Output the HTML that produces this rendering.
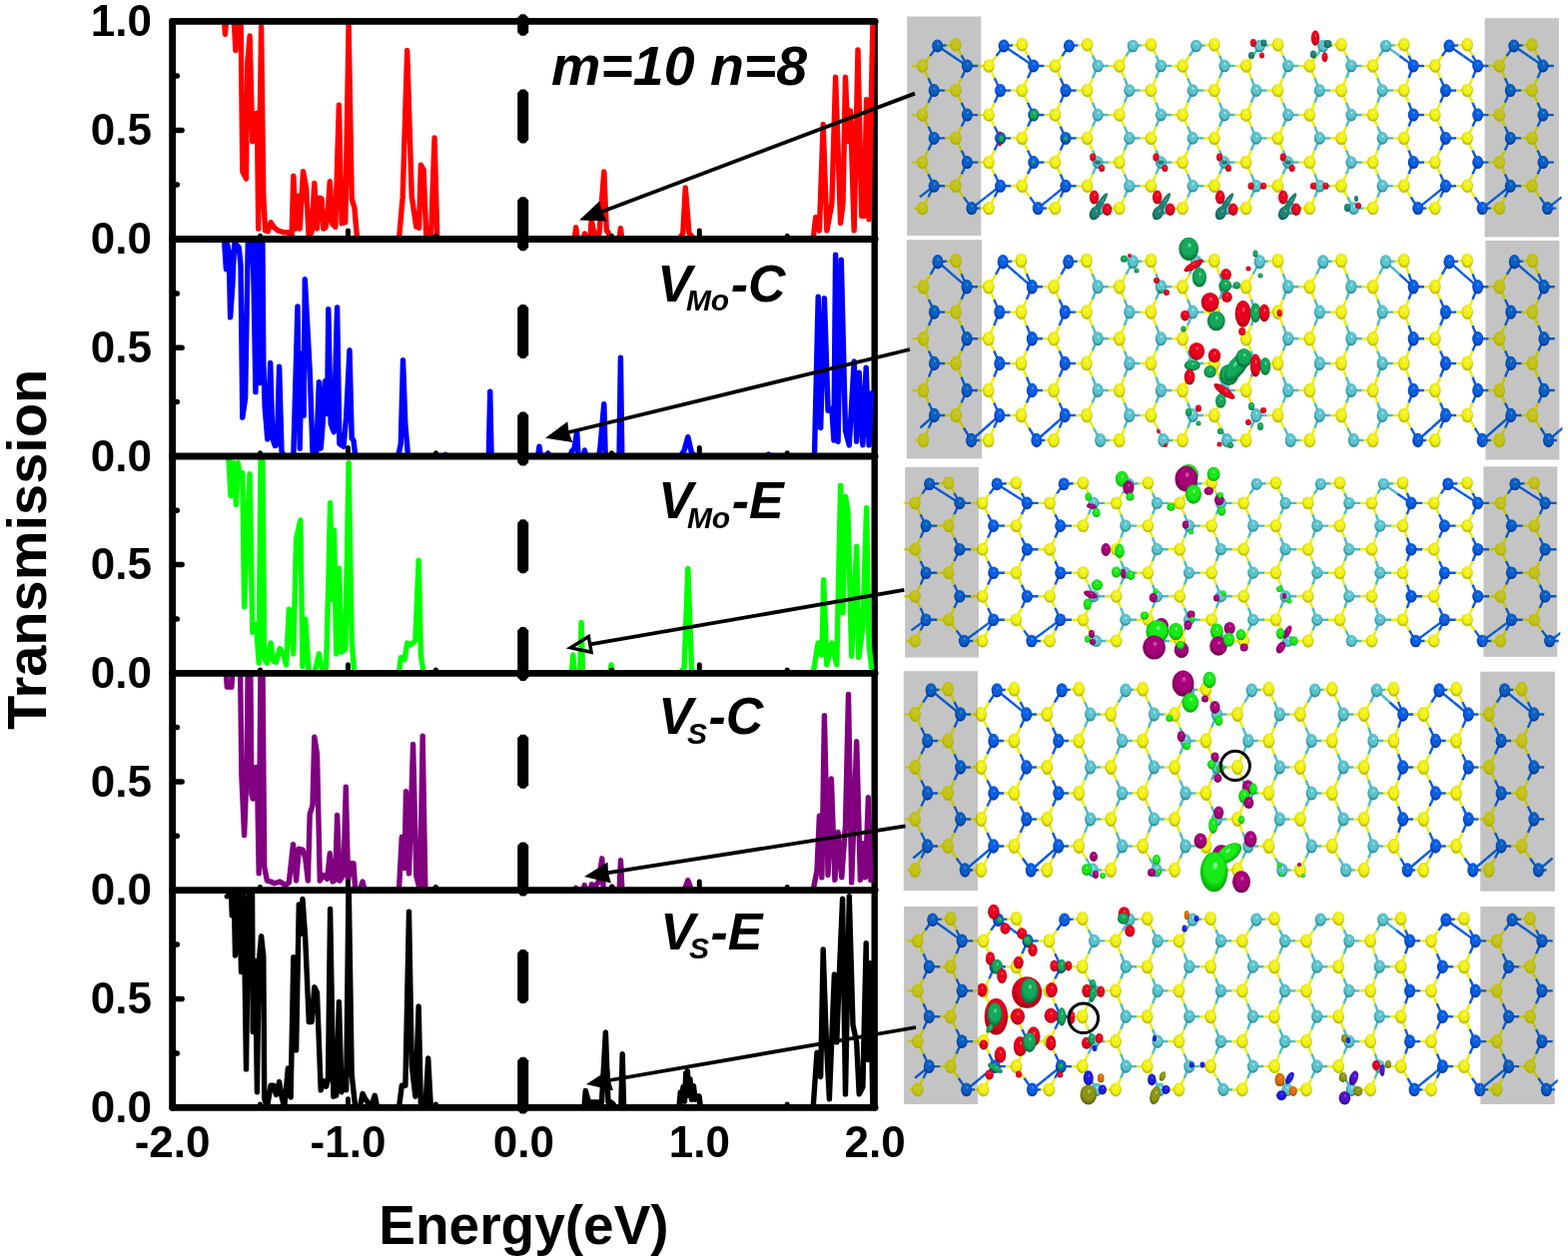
<!DOCTYPE html>
<html><head><meta charset="utf-8"><title>Transmission</title>
<style>html,body{margin:0;padding:0;background:#fff;}svg{display:block;}</style></head>
<body><svg width="1570" height="1262" viewBox="0 0 1570 1262" font-family="'Liberation Sans', sans-serif">
<rect width="1570" height="1262" fill="#fff"/>
<defs><radialGradient id="gS" cx="50%" cy="46%" r="56%" fx="55%" fy="32%"><stop offset="0" stop-color="#ffffb0"/><stop offset="0.22" stop-color="#f2f214"/><stop offset="0.62" stop-color="#f2f214"/><stop offset="1" stop-color="#a8a800"/></radialGradient><radialGradient id="gMb" cx="50%" cy="46%" r="56%" fx="55%" fy="32%"><stop offset="0" stop-color="#5aaaff"/><stop offset="0.22" stop-color="#0a5ee2"/><stop offset="0.62" stop-color="#0a5ee2"/><stop offset="1" stop-color="#002c86"/></radialGradient><radialGradient id="gMc" cx="50%" cy="46%" r="56%" fx="55%" fy="32%"><stop offset="0" stop-color="#d0ffff"/><stop offset="0.22" stop-color="#5cc4ce"/><stop offset="0.62" stop-color="#5cc4ce"/><stop offset="1" stop-color="#1c7882"/></radialGradient><radialGradient id="gR" cx="50%" cy="46%" r="56%" fx="55%" fy="32%"><stop offset="0" stop-color="#ff8080"/><stop offset="0.22" stop-color="#eb0020"/><stop offset="0.62" stop-color="#eb0020"/><stop offset="1" stop-color="#960010"/></radialGradient><radialGradient id="gG" cx="50%" cy="46%" r="56%" fx="55%" fy="32%"><stop offset="0" stop-color="#80f0b0"/><stop offset="0.22" stop-color="#14a85a"/><stop offset="0.62" stop-color="#14a85a"/><stop offset="1" stop-color="#006432"/></radialGradient><radialGradient id="gT" cx="50%" cy="46%" r="56%" fx="55%" fy="32%"><stop offset="0" stop-color="#70c8b4"/><stop offset="0.22" stop-color="#1e8273"/><stop offset="0.62" stop-color="#1e8273"/><stop offset="1" stop-color="#0a5046"/></radialGradient><radialGradient id="gM" cx="50%" cy="46%" r="56%" fx="55%" fy="32%"><stop offset="0" stop-color="#e070c0"/><stop offset="0.22" stop-color="#a8007a"/><stop offset="0.62" stop-color="#a8007a"/><stop offset="1" stop-color="#640046"/></radialGradient><radialGradient id="gL" cx="50%" cy="46%" r="56%" fx="55%" fy="32%"><stop offset="0" stop-color="#b0ffb0"/><stop offset="0.22" stop-color="#18ea18"/><stop offset="0.62" stop-color="#18ea18"/><stop offset="1" stop-color="#00a000"/></radialGradient><radialGradient id="gB" cx="50%" cy="46%" r="56%" fx="55%" fy="32%"><stop offset="0" stop-color="#8080ff"/><stop offset="0.22" stop-color="#1e1ee0"/><stop offset="0.62" stop-color="#1e1ee0"/><stop offset="1" stop-color="#0a0a8c"/></radialGradient><radialGradient id="gO" cx="50%" cy="46%" r="56%" fx="55%" fy="32%"><stop offset="0" stop-color="#d2dc64"/><stop offset="0.22" stop-color="#8c9614"/><stop offset="0.62" stop-color="#8c9614"/><stop offset="1" stop-color="#505a00"/></radialGradient><radialGradient id="gN" cx="50%" cy="46%" r="56%" fx="55%" fy="32%"><stop offset="0" stop-color="#ffb450"/><stop offset="0.22" stop-color="#dc6e00"/><stop offset="0.62" stop-color="#dc6e00"/><stop offset="1" stop-color="#8c3c00"/></radialGradient><radialGradient id="gP" cx="50%" cy="46%" r="56%" fx="55%" fy="32%"><stop offset="0" stop-color="#a080ff"/><stop offset="0.22" stop-color="#5014c8"/><stop offset="0.62" stop-color="#5014c8"/><stop offset="1" stop-color="#280070"/></radialGradient><radialGradient id="gSD" cx="50%" cy="46%" r="56%" fx="55%" fy="32%"><stop offset="0" stop-color="#c4c4b0"/><stop offset="0.22" stop-color="#c4c414"/><stop offset="0.62" stop-color="#c4c414"/><stop offset="1" stop-color="#a8a800"/></radialGradient><radialGradient id="gMbD" cx="50%" cy="46%" r="56%" fx="55%" fy="32%"><stop offset="0" stop-color="#5aaac4"/><stop offset="0.22" stop-color="#0a5ec4"/><stop offset="0.62" stop-color="#0a5ec4"/><stop offset="1" stop-color="#002c86"/></radialGradient><radialGradient id="gMcD" cx="50%" cy="46%" r="56%" fx="55%" fy="32%"><stop offset="0" stop-color="#c4c4c4"/><stop offset="0.22" stop-color="#5cc4c4"/><stop offset="0.62" stop-color="#5cc4c4"/><stop offset="1" stop-color="#1c7882"/></radialGradient></defs>
<clipPath id="mc0"><rect x="905.2" y="-3.5" width="658.7" height="259.5"/></clipPath>
<g clip-path="url(#mc0)">
<g stroke-width="2.4"><line x1="938.7" y1="46.0" x2="947.8" y2="45.4" stroke="#0a5ae6"/><line x1="947.8" y1="45.4" x2="956.9" y2="44.8" stroke="#eeee00"/><line x1="1005.1" y1="46.0" x2="1014.2" y2="45.4" stroke="#0a5ae6"/><line x1="1014.2" y1="45.4" x2="1023.3" y2="44.8" stroke="#eeee00"/><line x1="1070.5" y1="46.0" x2="1079.6" y2="45.4" stroke="#0a5ae6"/><line x1="1079.6" y1="45.4" x2="1088.7" y2="44.8" stroke="#eeee00"/><line x1="1134.3" y1="46.0" x2="1143.4" y2="45.4" stroke="#4cbcc6"/><line x1="1143.4" y1="45.4" x2="1152.5" y2="44.8" stroke="#eeee00"/><line x1="1197.7" y1="46.0" x2="1206.8" y2="45.4" stroke="#4cbcc6"/><line x1="1206.8" y1="45.4" x2="1215.9" y2="44.8" stroke="#eeee00"/><line x1="1261.3" y1="46.0" x2="1270.4" y2="45.4" stroke="#4cbcc6"/><line x1="1270.4" y1="45.4" x2="1279.5" y2="44.8" stroke="#eeee00"/><line x1="1324.8" y1="46.0" x2="1333.9" y2="45.4" stroke="#4cbcc6"/><line x1="1333.9" y1="45.4" x2="1343.0" y2="44.8" stroke="#eeee00"/><line x1="1387.6" y1="46.0" x2="1396.7" y2="45.4" stroke="#4cbcc6"/><line x1="1396.7" y1="45.4" x2="1405.8" y2="44.8" stroke="#eeee00"/><line x1="1451.0" y1="46.0" x2="1460.1" y2="45.4" stroke="#0a5ae6"/><line x1="1460.1" y1="45.4" x2="1469.2" y2="44.8" stroke="#eeee00"/><line x1="1515.8" y1="46.0" x2="1524.9" y2="45.4" stroke="#0a5ae6"/><line x1="1524.9" y1="45.4" x2="1534.0" y2="44.8" stroke="#eeee00"/><line x1="912.9" y1="66.0" x2="923.7" y2="66.0" stroke="#eeee00"/><line x1="968.4" y1="66.0" x2="979.2" y2="66.0" stroke="#0a5ae6"/><line x1="979.2" y1="66.0" x2="990.1" y2="66.0" stroke="#eeee00"/><line x1="1034.8" y1="66.0" x2="1045.7" y2="66.0" stroke="#0a5ae6"/><line x1="1045.7" y1="66.0" x2="1056.5" y2="66.0" stroke="#eeee00"/><line x1="1099.2" y1="66.0" x2="1110.1" y2="66.0" stroke="#4cbcc6"/><line x1="1110.1" y1="66.0" x2="1120.9" y2="66.0" stroke="#eeee00"/><line x1="1162.4" y1="66.0" x2="1173.2" y2="66.0" stroke="#4cbcc6"/><line x1="1173.2" y1="66.0" x2="1184.1" y2="66.0" stroke="#eeee00"/><line x1="1226.0" y1="66.0" x2="1236.8" y2="66.0" stroke="#4cbcc6"/><line x1="1236.8" y1="66.0" x2="1247.7" y2="66.0" stroke="#eeee00"/><line x1="1289.7" y1="66.0" x2="1300.6" y2="66.0" stroke="#4cbcc6"/><line x1="1300.6" y1="66.0" x2="1311.4" y2="66.0" stroke="#eeee00"/><line x1="1352.9" y1="66.0" x2="1363.8" y2="66.0" stroke="#4cbcc6"/><line x1="1363.8" y1="66.0" x2="1374.6" y2="66.0" stroke="#eeee00"/><line x1="1415.2" y1="66.0" x2="1426.1" y2="66.0" stroke="#0a5ae6"/><line x1="1426.1" y1="66.0" x2="1436.9" y2="66.0" stroke="#eeee00"/><line x1="1479.7" y1="66.0" x2="1490.6" y2="66.0" stroke="#0a5ae6"/><line x1="1490.6" y1="66.0" x2="1501.4" y2="66.0" stroke="#eeee00"/><line x1="1545.0" y1="66.0" x2="1555.8" y2="66.0" stroke="#0a5ae6"/><line x1="923.7" y1="66.0" x2="931.2" y2="56.0" stroke="#eeee00"/><line x1="931.2" y1="56.0" x2="938.7" y2="46.0" stroke="#0a5ae6"/><line x1="968.4" y1="66.0" x2="962.7" y2="55.4" stroke="#0a5ae6"/><line x1="962.7" y1="55.4" x2="956.9" y2="44.8" stroke="#eeee00"/><line x1="990.1" y1="66.0" x2="997.6" y2="56.0" stroke="#eeee00"/><line x1="997.6" y1="56.0" x2="1005.1" y2="46.0" stroke="#0a5ae6"/><line x1="1034.8" y1="66.0" x2="1029.0" y2="55.4" stroke="#0a5ae6"/><line x1="1029.0" y1="55.4" x2="1023.3" y2="44.8" stroke="#eeee00"/><line x1="1056.5" y1="66.0" x2="1063.5" y2="56.0" stroke="#eeee00"/><line x1="1063.5" y1="56.0" x2="1070.5" y2="46.0" stroke="#0a5ae6"/><line x1="1099.2" y1="66.0" x2="1094.0" y2="55.4" stroke="#4cbcc6"/><line x1="1094.0" y1="55.4" x2="1088.7" y2="44.8" stroke="#eeee00"/><line x1="1120.9" y1="66.0" x2="1127.6" y2="56.0" stroke="#eeee00"/><line x1="1127.6" y1="56.0" x2="1134.3" y2="46.0" stroke="#4cbcc6"/><line x1="1162.4" y1="66.0" x2="1157.5" y2="55.4" stroke="#4cbcc6"/><line x1="1157.5" y1="55.4" x2="1152.5" y2="44.8" stroke="#eeee00"/><line x1="1184.1" y1="66.0" x2="1190.9" y2="56.0" stroke="#eeee00"/><line x1="1190.9" y1="56.0" x2="1197.7" y2="46.0" stroke="#4cbcc6"/><line x1="1226.0" y1="66.0" x2="1221.0" y2="55.4" stroke="#4cbcc6"/><line x1="1221.0" y1="55.4" x2="1215.9" y2="44.8" stroke="#eeee00"/><line x1="1247.7" y1="66.0" x2="1254.5" y2="56.0" stroke="#eeee00"/><line x1="1254.5" y1="56.0" x2="1261.3" y2="46.0" stroke="#4cbcc6"/><line x1="1289.7" y1="66.0" x2="1284.6" y2="55.4" stroke="#4cbcc6"/><line x1="1284.6" y1="55.4" x2="1279.5" y2="44.8" stroke="#eeee00"/><line x1="1311.4" y1="66.0" x2="1318.1" y2="56.0" stroke="#eeee00"/><line x1="1318.1" y1="56.0" x2="1324.8" y2="46.0" stroke="#4cbcc6"/><line x1="1352.9" y1="66.0" x2="1348.0" y2="55.4" stroke="#4cbcc6"/><line x1="1348.0" y1="55.4" x2="1343.0" y2="44.8" stroke="#eeee00"/><line x1="1374.6" y1="66.0" x2="1381.1" y2="56.0" stroke="#eeee00"/><line x1="1381.1" y1="56.0" x2="1387.6" y2="46.0" stroke="#4cbcc6"/><line x1="1415.2" y1="66.0" x2="1410.5" y2="55.4" stroke="#0a5ae6"/><line x1="1410.5" y1="55.4" x2="1405.8" y2="44.8" stroke="#eeee00"/><line x1="1436.9" y1="66.0" x2="1443.9" y2="56.0" stroke="#eeee00"/><line x1="1443.9" y1="56.0" x2="1451.0" y2="46.0" stroke="#0a5ae6"/><line x1="1479.7" y1="66.0" x2="1474.4" y2="55.4" stroke="#0a5ae6"/><line x1="1474.4" y1="55.4" x2="1469.2" y2="44.8" stroke="#eeee00"/><line x1="1501.4" y1="66.0" x2="1508.6" y2="56.0" stroke="#eeee00"/><line x1="1508.6" y1="56.0" x2="1515.8" y2="46.0" stroke="#0a5ae6"/><line x1="1545.0" y1="66.0" x2="1539.5" y2="55.4" stroke="#0a5ae6"/><line x1="1539.5" y1="55.4" x2="1534.0" y2="44.8" stroke="#eeee00"/><line x1="923.7" y1="66.0" x2="929.5" y2="78.3" stroke="#eeee00"/><line x1="929.5" y1="78.3" x2="935.2" y2="90.6" stroke="#0a5ae6"/><line x1="968.4" y1="66.0" x2="962.7" y2="78.3" stroke="#0a5ae6"/><line x1="962.7" y1="78.3" x2="956.9" y2="90.6" stroke="#eeee00"/><line x1="990.1" y1="66.0" x2="995.8" y2="78.3" stroke="#eeee00"/><line x1="995.8" y1="78.3" x2="1001.6" y2="90.6" stroke="#0a5ae6"/><line x1="1034.8" y1="66.0" x2="1029.0" y2="78.3" stroke="#0a5ae6"/><line x1="1029.0" y1="78.3" x2="1023.3" y2="90.6" stroke="#eeee00"/><line x1="1056.5" y1="66.0" x2="1061.8" y2="78.3" stroke="#eeee00"/><line x1="1061.8" y1="78.3" x2="1067.0" y2="90.6" stroke="#0a5ae6"/><line x1="1099.2" y1="66.0" x2="1094.0" y2="78.3" stroke="#4cbcc6"/><line x1="1094.0" y1="78.3" x2="1088.7" y2="90.6" stroke="#eeee00"/><line x1="1120.9" y1="66.0" x2="1125.9" y2="78.3" stroke="#eeee00"/><line x1="1125.9" y1="78.3" x2="1130.8" y2="90.6" stroke="#4cbcc6"/><line x1="1162.4" y1="66.0" x2="1157.5" y2="78.3" stroke="#4cbcc6"/><line x1="1157.5" y1="78.3" x2="1152.5" y2="90.6" stroke="#eeee00"/><line x1="1184.1" y1="66.0" x2="1189.2" y2="78.3" stroke="#eeee00"/><line x1="1189.2" y1="78.3" x2="1194.2" y2="90.6" stroke="#4cbcc6"/><line x1="1226.0" y1="66.0" x2="1221.0" y2="78.3" stroke="#4cbcc6"/><line x1="1221.0" y1="78.3" x2="1215.9" y2="90.6" stroke="#eeee00"/><line x1="1247.7" y1="66.0" x2="1252.8" y2="78.3" stroke="#eeee00"/><line x1="1252.8" y1="78.3" x2="1257.8" y2="90.6" stroke="#4cbcc6"/><line x1="1289.7" y1="66.0" x2="1284.6" y2="78.3" stroke="#4cbcc6"/><line x1="1284.6" y1="78.3" x2="1279.5" y2="90.6" stroke="#eeee00"/><line x1="1311.4" y1="66.0" x2="1316.4" y2="78.3" stroke="#eeee00"/><line x1="1316.4" y1="78.3" x2="1321.3" y2="90.6" stroke="#4cbcc6"/><line x1="1352.9" y1="66.0" x2="1348.0" y2="78.3" stroke="#4cbcc6"/><line x1="1348.0" y1="78.3" x2="1343.0" y2="90.6" stroke="#eeee00"/><line x1="1374.6" y1="66.0" x2="1379.3" y2="78.3" stroke="#eeee00"/><line x1="1379.3" y1="78.3" x2="1384.1" y2="90.6" stroke="#4cbcc6"/><line x1="1415.2" y1="66.0" x2="1410.5" y2="78.3" stroke="#0a5ae6"/><line x1="1410.5" y1="78.3" x2="1405.8" y2="90.6" stroke="#eeee00"/><line x1="1436.9" y1="66.0" x2="1442.2" y2="78.3" stroke="#eeee00"/><line x1="1442.2" y1="78.3" x2="1447.5" y2="90.6" stroke="#0a5ae6"/><line x1="1479.7" y1="66.0" x2="1474.4" y2="78.3" stroke="#0a5ae6"/><line x1="1474.4" y1="78.3" x2="1469.2" y2="90.6" stroke="#eeee00"/><line x1="1501.4" y1="66.0" x2="1506.9" y2="78.3" stroke="#eeee00"/><line x1="1506.9" y1="78.3" x2="1512.3" y2="90.6" stroke="#0a5ae6"/><line x1="1545.0" y1="66.0" x2="1539.5" y2="78.3" stroke="#0a5ae6"/><line x1="1539.5" y1="78.3" x2="1534.0" y2="90.6" stroke="#eeee00"/><line x1="935.2" y1="90.6" x2="946.1" y2="90.6" stroke="#0a5ae6"/><line x1="946.1" y1="90.6" x2="956.9" y2="90.6" stroke="#eeee00"/><line x1="1001.6" y1="90.6" x2="1012.4" y2="90.6" stroke="#0a5ae6"/><line x1="1012.4" y1="90.6" x2="1023.3" y2="90.6" stroke="#eeee00"/><line x1="1067.0" y1="90.6" x2="1077.8" y2="90.6" stroke="#0a5ae6"/><line x1="1077.8" y1="90.6" x2="1088.7" y2="90.6" stroke="#eeee00"/><line x1="1130.8" y1="90.6" x2="1141.7" y2="90.6" stroke="#4cbcc6"/><line x1="1141.7" y1="90.6" x2="1152.5" y2="90.6" stroke="#eeee00"/><line x1="1194.2" y1="90.6" x2="1205.1" y2="90.6" stroke="#4cbcc6"/><line x1="1205.1" y1="90.6" x2="1215.9" y2="90.6" stroke="#eeee00"/><line x1="1257.8" y1="90.6" x2="1268.7" y2="90.6" stroke="#4cbcc6"/><line x1="1268.7" y1="90.6" x2="1279.5" y2="90.6" stroke="#eeee00"/><line x1="1321.3" y1="90.6" x2="1332.2" y2="90.6" stroke="#4cbcc6"/><line x1="1332.2" y1="90.6" x2="1343.0" y2="90.6" stroke="#eeee00"/><line x1="1384.1" y1="90.6" x2="1394.9" y2="90.6" stroke="#4cbcc6"/><line x1="1394.9" y1="90.6" x2="1405.8" y2="90.6" stroke="#eeee00"/><line x1="1447.5" y1="90.6" x2="1458.3" y2="90.6" stroke="#0a5ae6"/><line x1="1458.3" y1="90.6" x2="1469.2" y2="90.6" stroke="#eeee00"/><line x1="1512.3" y1="90.6" x2="1523.2" y2="90.6" stroke="#0a5ae6"/><line x1="1523.2" y1="90.6" x2="1534.0" y2="90.6" stroke="#eeee00"/><line x1="912.9" y1="115.1" x2="923.7" y2="115.1" stroke="#eeee00"/><line x1="968.4" y1="115.1" x2="979.2" y2="115.1" stroke="#0a5ae6"/><line x1="979.2" y1="115.1" x2="990.1" y2="115.1" stroke="#eeee00"/><line x1="1034.8" y1="115.1" x2="1045.7" y2="115.1" stroke="#0a5ae6"/><line x1="1045.7" y1="115.1" x2="1056.5" y2="115.1" stroke="#eeee00"/><line x1="1099.2" y1="115.1" x2="1110.1" y2="115.1" stroke="#4cbcc6"/><line x1="1110.1" y1="115.1" x2="1120.9" y2="115.1" stroke="#eeee00"/><line x1="1162.4" y1="115.1" x2="1173.2" y2="115.1" stroke="#4cbcc6"/><line x1="1173.2" y1="115.1" x2="1184.1" y2="115.1" stroke="#eeee00"/><line x1="1226.0" y1="115.1" x2="1236.8" y2="115.1" stroke="#4cbcc6"/><line x1="1236.8" y1="115.1" x2="1247.7" y2="115.1" stroke="#eeee00"/><line x1="1289.7" y1="115.1" x2="1300.6" y2="115.1" stroke="#4cbcc6"/><line x1="1300.6" y1="115.1" x2="1311.4" y2="115.1" stroke="#eeee00"/><line x1="1352.9" y1="115.1" x2="1363.8" y2="115.1" stroke="#4cbcc6"/><line x1="1363.8" y1="115.1" x2="1374.6" y2="115.1" stroke="#eeee00"/><line x1="1415.2" y1="115.1" x2="1426.1" y2="115.1" stroke="#0a5ae6"/><line x1="1426.1" y1="115.1" x2="1436.9" y2="115.1" stroke="#eeee00"/><line x1="1479.7" y1="115.1" x2="1490.6" y2="115.1" stroke="#0a5ae6"/><line x1="1490.6" y1="115.1" x2="1501.4" y2="115.1" stroke="#eeee00"/><line x1="1545.0" y1="115.1" x2="1555.8" y2="115.1" stroke="#0a5ae6"/><line x1="923.7" y1="115.1" x2="929.5" y2="102.8" stroke="#eeee00"/><line x1="929.5" y1="102.8" x2="935.2" y2="90.6" stroke="#0a5ae6"/><line x1="968.4" y1="115.1" x2="962.7" y2="102.8" stroke="#0a5ae6"/><line x1="962.7" y1="102.8" x2="956.9" y2="90.6" stroke="#eeee00"/><line x1="990.1" y1="115.1" x2="995.8" y2="102.8" stroke="#eeee00"/><line x1="995.8" y1="102.8" x2="1001.6" y2="90.6" stroke="#0a5ae6"/><line x1="1034.8" y1="115.1" x2="1029.0" y2="102.8" stroke="#0a5ae6"/><line x1="1029.0" y1="102.8" x2="1023.3" y2="90.6" stroke="#eeee00"/><line x1="1056.5" y1="115.1" x2="1061.8" y2="102.8" stroke="#eeee00"/><line x1="1061.8" y1="102.8" x2="1067.0" y2="90.6" stroke="#0a5ae6"/><line x1="1099.2" y1="115.1" x2="1094.0" y2="102.8" stroke="#4cbcc6"/><line x1="1094.0" y1="102.8" x2="1088.7" y2="90.6" stroke="#eeee00"/><line x1="1120.9" y1="115.1" x2="1125.9" y2="102.8" stroke="#eeee00"/><line x1="1125.9" y1="102.8" x2="1130.8" y2="90.6" stroke="#4cbcc6"/><line x1="1162.4" y1="115.1" x2="1157.5" y2="102.8" stroke="#4cbcc6"/><line x1="1157.5" y1="102.8" x2="1152.5" y2="90.6" stroke="#eeee00"/><line x1="1184.1" y1="115.1" x2="1189.2" y2="102.8" stroke="#eeee00"/><line x1="1189.2" y1="102.8" x2="1194.2" y2="90.6" stroke="#4cbcc6"/><line x1="1226.0" y1="115.1" x2="1221.0" y2="102.8" stroke="#4cbcc6"/><line x1="1221.0" y1="102.8" x2="1215.9" y2="90.6" stroke="#eeee00"/><line x1="1247.7" y1="115.1" x2="1252.8" y2="102.8" stroke="#eeee00"/><line x1="1252.8" y1="102.8" x2="1257.8" y2="90.6" stroke="#4cbcc6"/><line x1="1289.7" y1="115.1" x2="1284.6" y2="102.8" stroke="#4cbcc6"/><line x1="1284.6" y1="102.8" x2="1279.5" y2="90.6" stroke="#eeee00"/><line x1="1311.4" y1="115.1" x2="1316.4" y2="102.8" stroke="#eeee00"/><line x1="1316.4" y1="102.8" x2="1321.3" y2="90.6" stroke="#4cbcc6"/><line x1="1352.9" y1="115.1" x2="1348.0" y2="102.8" stroke="#4cbcc6"/><line x1="1348.0" y1="102.8" x2="1343.0" y2="90.6" stroke="#eeee00"/><line x1="1374.6" y1="115.1" x2="1379.3" y2="102.8" stroke="#eeee00"/><line x1="1379.3" y1="102.8" x2="1384.1" y2="90.6" stroke="#4cbcc6"/><line x1="1415.2" y1="115.1" x2="1410.5" y2="102.8" stroke="#0a5ae6"/><line x1="1410.5" y1="102.8" x2="1405.8" y2="90.6" stroke="#eeee00"/><line x1="1436.9" y1="115.1" x2="1442.2" y2="102.8" stroke="#eeee00"/><line x1="1442.2" y1="102.8" x2="1447.5" y2="90.6" stroke="#0a5ae6"/><line x1="1479.7" y1="115.1" x2="1474.4" y2="102.8" stroke="#0a5ae6"/><line x1="1474.4" y1="102.8" x2="1469.2" y2="90.6" stroke="#eeee00"/><line x1="1501.4" y1="115.1" x2="1506.9" y2="102.8" stroke="#eeee00"/><line x1="1506.9" y1="102.8" x2="1512.3" y2="90.6" stroke="#0a5ae6"/><line x1="1545.0" y1="115.1" x2="1539.5" y2="102.8" stroke="#0a5ae6"/><line x1="1539.5" y1="102.8" x2="1534.0" y2="90.6" stroke="#eeee00"/><line x1="923.7" y1="115.1" x2="929.5" y2="126.8" stroke="#eeee00"/><line x1="929.5" y1="126.8" x2="935.2" y2="138.4" stroke="#0a5ae6"/><line x1="968.4" y1="115.1" x2="962.7" y2="126.8" stroke="#0a5ae6"/><line x1="962.7" y1="126.8" x2="956.9" y2="138.4" stroke="#eeee00"/><line x1="990.1" y1="115.1" x2="995.8" y2="126.8" stroke="#eeee00"/><line x1="995.8" y1="126.8" x2="1001.6" y2="138.4" stroke="#0a5ae6"/><line x1="1034.8" y1="115.1" x2="1029.0" y2="126.8" stroke="#0a5ae6"/><line x1="1029.0" y1="126.8" x2="1023.3" y2="138.4" stroke="#eeee00"/><line x1="1056.5" y1="115.1" x2="1061.8" y2="126.8" stroke="#eeee00"/><line x1="1061.8" y1="126.8" x2="1067.0" y2="138.4" stroke="#0a5ae6"/><line x1="1099.2" y1="115.1" x2="1094.0" y2="126.8" stroke="#4cbcc6"/><line x1="1094.0" y1="126.8" x2="1088.7" y2="138.4" stroke="#eeee00"/><line x1="1120.9" y1="115.1" x2="1125.9" y2="126.8" stroke="#eeee00"/><line x1="1125.9" y1="126.8" x2="1130.8" y2="138.4" stroke="#4cbcc6"/><line x1="1162.4" y1="115.1" x2="1157.5" y2="126.8" stroke="#4cbcc6"/><line x1="1157.5" y1="126.8" x2="1152.5" y2="138.4" stroke="#eeee00"/><line x1="1184.1" y1="115.1" x2="1189.2" y2="126.8" stroke="#eeee00"/><line x1="1189.2" y1="126.8" x2="1194.2" y2="138.4" stroke="#4cbcc6"/><line x1="1226.0" y1="115.1" x2="1221.0" y2="126.8" stroke="#4cbcc6"/><line x1="1221.0" y1="126.8" x2="1215.9" y2="138.4" stroke="#eeee00"/><line x1="1247.7" y1="115.1" x2="1252.8" y2="126.8" stroke="#eeee00"/><line x1="1252.8" y1="126.8" x2="1257.8" y2="138.4" stroke="#4cbcc6"/><line x1="1289.7" y1="115.1" x2="1284.6" y2="126.8" stroke="#4cbcc6"/><line x1="1284.6" y1="126.8" x2="1279.5" y2="138.4" stroke="#eeee00"/><line x1="1311.4" y1="115.1" x2="1316.4" y2="126.8" stroke="#eeee00"/><line x1="1316.4" y1="126.8" x2="1321.3" y2="138.4" stroke="#4cbcc6"/><line x1="1352.9" y1="115.1" x2="1348.0" y2="126.8" stroke="#4cbcc6"/><line x1="1348.0" y1="126.8" x2="1343.0" y2="138.4" stroke="#eeee00"/><line x1="1374.6" y1="115.1" x2="1379.3" y2="126.8" stroke="#eeee00"/><line x1="1379.3" y1="126.8" x2="1384.1" y2="138.4" stroke="#4cbcc6"/><line x1="1415.2" y1="115.1" x2="1410.5" y2="126.8" stroke="#0a5ae6"/><line x1="1410.5" y1="126.8" x2="1405.8" y2="138.4" stroke="#eeee00"/><line x1="1436.9" y1="115.1" x2="1442.2" y2="126.8" stroke="#eeee00"/><line x1="1442.2" y1="126.8" x2="1447.5" y2="138.4" stroke="#0a5ae6"/><line x1="1479.7" y1="115.1" x2="1474.4" y2="126.8" stroke="#0a5ae6"/><line x1="1474.4" y1="126.8" x2="1469.2" y2="138.4" stroke="#eeee00"/><line x1="1501.4" y1="115.1" x2="1506.9" y2="126.8" stroke="#eeee00"/><line x1="1506.9" y1="126.8" x2="1512.3" y2="138.4" stroke="#0a5ae6"/><line x1="1545.0" y1="115.1" x2="1539.5" y2="126.8" stroke="#0a5ae6"/><line x1="1539.5" y1="126.8" x2="1534.0" y2="138.4" stroke="#eeee00"/><line x1="935.2" y1="138.4" x2="946.1" y2="138.4" stroke="#0a5ae6"/><line x1="946.1" y1="138.4" x2="956.9" y2="138.4" stroke="#eeee00"/><line x1="1001.6" y1="138.4" x2="1012.4" y2="138.4" stroke="#0a5ae6"/><line x1="1012.4" y1="138.4" x2="1023.3" y2="138.4" stroke="#eeee00"/><line x1="1067.0" y1="138.4" x2="1077.8" y2="138.4" stroke="#0a5ae6"/><line x1="1077.8" y1="138.4" x2="1088.7" y2="138.4" stroke="#eeee00"/><line x1="1130.8" y1="138.4" x2="1141.7" y2="138.4" stroke="#4cbcc6"/><line x1="1141.7" y1="138.4" x2="1152.5" y2="138.4" stroke="#eeee00"/><line x1="1194.2" y1="138.4" x2="1205.1" y2="138.4" stroke="#4cbcc6"/><line x1="1205.1" y1="138.4" x2="1215.9" y2="138.4" stroke="#eeee00"/><line x1="1257.8" y1="138.4" x2="1268.7" y2="138.4" stroke="#4cbcc6"/><line x1="1268.7" y1="138.4" x2="1279.5" y2="138.4" stroke="#eeee00"/><line x1="1321.3" y1="138.4" x2="1332.2" y2="138.4" stroke="#4cbcc6"/><line x1="1332.2" y1="138.4" x2="1343.0" y2="138.4" stroke="#eeee00"/><line x1="1384.1" y1="138.4" x2="1394.9" y2="138.4" stroke="#4cbcc6"/><line x1="1394.9" y1="138.4" x2="1405.8" y2="138.4" stroke="#eeee00"/><line x1="1447.5" y1="138.4" x2="1458.3" y2="138.4" stroke="#0a5ae6"/><line x1="1458.3" y1="138.4" x2="1469.2" y2="138.4" stroke="#eeee00"/><line x1="1512.3" y1="138.4" x2="1523.2" y2="138.4" stroke="#0a5ae6"/><line x1="1523.2" y1="138.4" x2="1534.0" y2="138.4" stroke="#eeee00"/><line x1="912.9" y1="162.6" x2="923.7" y2="162.6" stroke="#eeee00"/><line x1="968.4" y1="162.6" x2="979.2" y2="162.6" stroke="#0a5ae6"/><line x1="979.2" y1="162.6" x2="990.1" y2="162.6" stroke="#eeee00"/><line x1="1034.8" y1="162.6" x2="1045.7" y2="162.6" stroke="#0a5ae6"/><line x1="1045.7" y1="162.6" x2="1056.5" y2="162.6" stroke="#eeee00"/><line x1="1099.2" y1="162.6" x2="1110.1" y2="162.6" stroke="#4cbcc6"/><line x1="1110.1" y1="162.6" x2="1120.9" y2="162.6" stroke="#eeee00"/><line x1="1162.4" y1="162.6" x2="1173.2" y2="162.6" stroke="#4cbcc6"/><line x1="1173.2" y1="162.6" x2="1184.1" y2="162.6" stroke="#eeee00"/><line x1="1226.0" y1="162.6" x2="1236.8" y2="162.6" stroke="#4cbcc6"/><line x1="1236.8" y1="162.6" x2="1247.7" y2="162.6" stroke="#eeee00"/><line x1="1289.7" y1="162.6" x2="1300.6" y2="162.6" stroke="#4cbcc6"/><line x1="1300.6" y1="162.6" x2="1311.4" y2="162.6" stroke="#eeee00"/><line x1="1352.9" y1="162.6" x2="1363.8" y2="162.6" stroke="#4cbcc6"/><line x1="1363.8" y1="162.6" x2="1374.6" y2="162.6" stroke="#eeee00"/><line x1="1415.2" y1="162.6" x2="1426.1" y2="162.6" stroke="#0a5ae6"/><line x1="1426.1" y1="162.6" x2="1436.9" y2="162.6" stroke="#eeee00"/><line x1="1479.7" y1="162.6" x2="1490.6" y2="162.6" stroke="#0a5ae6"/><line x1="1490.6" y1="162.6" x2="1501.4" y2="162.6" stroke="#eeee00"/><line x1="1545.0" y1="162.6" x2="1555.8" y2="162.6" stroke="#0a5ae6"/><line x1="923.7" y1="162.6" x2="929.5" y2="150.5" stroke="#eeee00"/><line x1="929.5" y1="150.5" x2="935.2" y2="138.4" stroke="#0a5ae6"/><line x1="968.4" y1="162.6" x2="962.7" y2="150.5" stroke="#0a5ae6"/><line x1="962.7" y1="150.5" x2="956.9" y2="138.4" stroke="#eeee00"/><line x1="990.1" y1="162.6" x2="995.8" y2="150.5" stroke="#eeee00"/><line x1="995.8" y1="150.5" x2="1001.6" y2="138.4" stroke="#0a5ae6"/><line x1="1034.8" y1="162.6" x2="1029.0" y2="150.5" stroke="#0a5ae6"/><line x1="1029.0" y1="150.5" x2="1023.3" y2="138.4" stroke="#eeee00"/><line x1="1056.5" y1="162.6" x2="1061.8" y2="150.5" stroke="#eeee00"/><line x1="1061.8" y1="150.5" x2="1067.0" y2="138.4" stroke="#0a5ae6"/><line x1="1099.2" y1="162.6" x2="1094.0" y2="150.5" stroke="#4cbcc6"/><line x1="1094.0" y1="150.5" x2="1088.7" y2="138.4" stroke="#eeee00"/><line x1="1120.9" y1="162.6" x2="1125.9" y2="150.5" stroke="#eeee00"/><line x1="1125.9" y1="150.5" x2="1130.8" y2="138.4" stroke="#4cbcc6"/><line x1="1162.4" y1="162.6" x2="1157.5" y2="150.5" stroke="#4cbcc6"/><line x1="1157.5" y1="150.5" x2="1152.5" y2="138.4" stroke="#eeee00"/><line x1="1184.1" y1="162.6" x2="1189.2" y2="150.5" stroke="#eeee00"/><line x1="1189.2" y1="150.5" x2="1194.2" y2="138.4" stroke="#4cbcc6"/><line x1="1226.0" y1="162.6" x2="1221.0" y2="150.5" stroke="#4cbcc6"/><line x1="1221.0" y1="150.5" x2="1215.9" y2="138.4" stroke="#eeee00"/><line x1="1247.7" y1="162.6" x2="1252.8" y2="150.5" stroke="#eeee00"/><line x1="1252.8" y1="150.5" x2="1257.8" y2="138.4" stroke="#4cbcc6"/><line x1="1289.7" y1="162.6" x2="1284.6" y2="150.5" stroke="#4cbcc6"/><line x1="1284.6" y1="150.5" x2="1279.5" y2="138.4" stroke="#eeee00"/><line x1="1311.4" y1="162.6" x2="1316.4" y2="150.5" stroke="#eeee00"/><line x1="1316.4" y1="150.5" x2="1321.3" y2="138.4" stroke="#4cbcc6"/><line x1="1352.9" y1="162.6" x2="1348.0" y2="150.5" stroke="#4cbcc6"/><line x1="1348.0" y1="150.5" x2="1343.0" y2="138.4" stroke="#eeee00"/><line x1="1374.6" y1="162.6" x2="1379.3" y2="150.5" stroke="#eeee00"/><line x1="1379.3" y1="150.5" x2="1384.1" y2="138.4" stroke="#4cbcc6"/><line x1="1415.2" y1="162.6" x2="1410.5" y2="150.5" stroke="#0a5ae6"/><line x1="1410.5" y1="150.5" x2="1405.8" y2="138.4" stroke="#eeee00"/><line x1="1436.9" y1="162.6" x2="1442.2" y2="150.5" stroke="#eeee00"/><line x1="1442.2" y1="150.5" x2="1447.5" y2="138.4" stroke="#0a5ae6"/><line x1="1479.7" y1="162.6" x2="1474.4" y2="150.5" stroke="#0a5ae6"/><line x1="1474.4" y1="150.5" x2="1469.2" y2="138.4" stroke="#eeee00"/><line x1="1501.4" y1="162.6" x2="1506.9" y2="150.5" stroke="#eeee00"/><line x1="1506.9" y1="150.5" x2="1512.3" y2="138.4" stroke="#0a5ae6"/><line x1="1545.0" y1="162.6" x2="1539.5" y2="150.5" stroke="#0a5ae6"/><line x1="1539.5" y1="150.5" x2="1534.0" y2="138.4" stroke="#eeee00"/><line x1="923.7" y1="162.6" x2="929.5" y2="174.4" stroke="#eeee00"/><line x1="929.5" y1="174.4" x2="935.2" y2="186.3" stroke="#0a5ae6"/><line x1="968.4" y1="162.6" x2="962.7" y2="174.4" stroke="#0a5ae6"/><line x1="962.7" y1="174.4" x2="956.9" y2="186.3" stroke="#eeee00"/><line x1="990.1" y1="162.6" x2="995.8" y2="174.4" stroke="#eeee00"/><line x1="995.8" y1="174.4" x2="1001.6" y2="186.3" stroke="#0a5ae6"/><line x1="1034.8" y1="162.6" x2="1029.0" y2="174.4" stroke="#0a5ae6"/><line x1="1029.0" y1="174.4" x2="1023.3" y2="186.3" stroke="#eeee00"/><line x1="1056.5" y1="162.6" x2="1061.8" y2="174.4" stroke="#eeee00"/><line x1="1061.8" y1="174.4" x2="1067.0" y2="186.3" stroke="#0a5ae6"/><line x1="1099.2" y1="162.6" x2="1094.0" y2="174.4" stroke="#4cbcc6"/><line x1="1094.0" y1="174.4" x2="1088.7" y2="186.3" stroke="#eeee00"/><line x1="1120.9" y1="162.6" x2="1125.9" y2="174.4" stroke="#eeee00"/><line x1="1125.9" y1="174.4" x2="1130.8" y2="186.3" stroke="#4cbcc6"/><line x1="1162.4" y1="162.6" x2="1157.5" y2="174.4" stroke="#4cbcc6"/><line x1="1157.5" y1="174.4" x2="1152.5" y2="186.3" stroke="#eeee00"/><line x1="1184.1" y1="162.6" x2="1189.2" y2="174.4" stroke="#eeee00"/><line x1="1189.2" y1="174.4" x2="1194.2" y2="186.3" stroke="#4cbcc6"/><line x1="1226.0" y1="162.6" x2="1221.0" y2="174.4" stroke="#4cbcc6"/><line x1="1221.0" y1="174.4" x2="1215.9" y2="186.3" stroke="#eeee00"/><line x1="1247.7" y1="162.6" x2="1252.8" y2="174.4" stroke="#eeee00"/><line x1="1252.8" y1="174.4" x2="1257.8" y2="186.3" stroke="#4cbcc6"/><line x1="1289.7" y1="162.6" x2="1284.6" y2="174.4" stroke="#4cbcc6"/><line x1="1284.6" y1="174.4" x2="1279.5" y2="186.3" stroke="#eeee00"/><line x1="1311.4" y1="162.6" x2="1316.4" y2="174.4" stroke="#eeee00"/><line x1="1316.4" y1="174.4" x2="1321.3" y2="186.3" stroke="#4cbcc6"/><line x1="1352.9" y1="162.6" x2="1348.0" y2="174.4" stroke="#4cbcc6"/><line x1="1348.0" y1="174.4" x2="1343.0" y2="186.3" stroke="#eeee00"/><line x1="1374.6" y1="162.6" x2="1379.3" y2="174.4" stroke="#eeee00"/><line x1="1379.3" y1="174.4" x2="1384.1" y2="186.3" stroke="#4cbcc6"/><line x1="1415.2" y1="162.6" x2="1410.5" y2="174.4" stroke="#0a5ae6"/><line x1="1410.5" y1="174.4" x2="1405.8" y2="186.3" stroke="#eeee00"/><line x1="1436.9" y1="162.6" x2="1442.2" y2="174.4" stroke="#eeee00"/><line x1="1442.2" y1="174.4" x2="1447.5" y2="186.3" stroke="#0a5ae6"/><line x1="1479.7" y1="162.6" x2="1474.4" y2="174.4" stroke="#0a5ae6"/><line x1="1474.4" y1="174.4" x2="1469.2" y2="186.3" stroke="#eeee00"/><line x1="1501.4" y1="162.6" x2="1506.9" y2="174.4" stroke="#eeee00"/><line x1="1506.9" y1="174.4" x2="1512.3" y2="186.3" stroke="#0a5ae6"/><line x1="1545.0" y1="162.6" x2="1539.5" y2="174.4" stroke="#0a5ae6"/><line x1="1539.5" y1="174.4" x2="1534.0" y2="186.3" stroke="#eeee00"/><line x1="935.2" y1="186.3" x2="946.1" y2="186.3" stroke="#0a5ae6"/><line x1="946.1" y1="186.3" x2="956.9" y2="186.3" stroke="#eeee00"/><line x1="1001.6" y1="186.3" x2="1012.4" y2="186.3" stroke="#0a5ae6"/><line x1="1012.4" y1="186.3" x2="1023.3" y2="186.3" stroke="#eeee00"/><line x1="1067.0" y1="186.3" x2="1077.8" y2="186.3" stroke="#0a5ae6"/><line x1="1077.8" y1="186.3" x2="1088.7" y2="186.3" stroke="#eeee00"/><line x1="1130.8" y1="186.3" x2="1141.7" y2="186.3" stroke="#4cbcc6"/><line x1="1141.7" y1="186.3" x2="1152.5" y2="186.3" stroke="#eeee00"/><line x1="1194.2" y1="186.3" x2="1205.1" y2="186.3" stroke="#4cbcc6"/><line x1="1205.1" y1="186.3" x2="1215.9" y2="186.3" stroke="#eeee00"/><line x1="1257.8" y1="186.3" x2="1268.7" y2="186.3" stroke="#4cbcc6"/><line x1="1268.7" y1="186.3" x2="1279.5" y2="186.3" stroke="#eeee00"/><line x1="1321.3" y1="186.3" x2="1332.2" y2="186.3" stroke="#4cbcc6"/><line x1="1332.2" y1="186.3" x2="1343.0" y2="186.3" stroke="#eeee00"/><line x1="1384.1" y1="186.3" x2="1394.9" y2="186.3" stroke="#4cbcc6"/><line x1="1394.9" y1="186.3" x2="1405.8" y2="186.3" stroke="#eeee00"/><line x1="1447.5" y1="186.3" x2="1458.3" y2="186.3" stroke="#0a5ae6"/><line x1="1458.3" y1="186.3" x2="1469.2" y2="186.3" stroke="#eeee00"/><line x1="1512.3" y1="186.3" x2="1523.2" y2="186.3" stroke="#0a5ae6"/><line x1="1523.2" y1="186.3" x2="1534.0" y2="186.3" stroke="#eeee00"/><line x1="915.1" y1="208.6" x2="923.7" y2="208.6" stroke="#eeee00"/><line x1="972.9" y1="208.6" x2="981.5" y2="208.6" stroke="#0a5ae6"/><line x1="981.5" y1="208.6" x2="990.1" y2="208.6" stroke="#eeee00"/><line x1="1039.3" y1="208.6" x2="1047.9" y2="208.6" stroke="#0a5ae6"/><line x1="1047.9" y1="208.6" x2="1056.5" y2="208.6" stroke="#eeee00"/><line x1="1101.7" y1="208.6" x2="1111.3" y2="208.6" stroke="#4cbcc6"/><line x1="1111.3" y1="208.6" x2="1120.9" y2="208.6" stroke="#eeee00"/><line x1="1164.9" y1="208.6" x2="1174.5" y2="208.6" stroke="#4cbcc6"/><line x1="1174.5" y1="208.6" x2="1184.1" y2="208.6" stroke="#eeee00"/><line x1="1228.5" y1="208.6" x2="1238.1" y2="208.6" stroke="#4cbcc6"/><line x1="1238.1" y1="208.6" x2="1247.7" y2="208.6" stroke="#eeee00"/><line x1="1292.2" y1="208.6" x2="1301.8" y2="208.6" stroke="#4cbcc6"/><line x1="1301.8" y1="208.6" x2="1311.4" y2="208.6" stroke="#eeee00"/><line x1="1355.4" y1="208.6" x2="1365.0" y2="208.6" stroke="#4cbcc6"/><line x1="1365.0" y1="208.6" x2="1374.6" y2="208.6" stroke="#eeee00"/><line x1="1419.7" y1="208.6" x2="1428.3" y2="208.6" stroke="#0a5ae6"/><line x1="1428.3" y1="208.6" x2="1436.9" y2="208.6" stroke="#eeee00"/><line x1="1484.2" y1="208.6" x2="1492.8" y2="208.6" stroke="#0a5ae6"/><line x1="1492.8" y1="208.6" x2="1501.4" y2="208.6" stroke="#eeee00"/><line x1="1549.5" y1="208.6" x2="1558.1" y2="208.6" stroke="#0a5ae6"/><line x1="923.7" y1="208.6" x2="929.5" y2="197.4" stroke="#eeee00"/><line x1="929.5" y1="197.4" x2="935.2" y2="186.3" stroke="#0a5ae6"/><line x1="972.9" y1="208.6" x2="964.9" y2="197.4" stroke="#0a5ae6"/><line x1="964.9" y1="197.4" x2="956.9" y2="186.3" stroke="#eeee00"/><line x1="990.1" y1="208.6" x2="995.8" y2="197.4" stroke="#eeee00"/><line x1="995.8" y1="197.4" x2="1001.6" y2="186.3" stroke="#0a5ae6"/><line x1="1039.3" y1="208.6" x2="1031.3" y2="197.4" stroke="#0a5ae6"/><line x1="1031.3" y1="197.4" x2="1023.3" y2="186.3" stroke="#eeee00"/><line x1="1056.5" y1="208.6" x2="1061.8" y2="197.4" stroke="#eeee00"/><line x1="1061.8" y1="197.4" x2="1067.0" y2="186.3" stroke="#0a5ae6"/><line x1="1101.7" y1="208.6" x2="1095.2" y2="197.4" stroke="#4cbcc6"/><line x1="1095.2" y1="197.4" x2="1088.7" y2="186.3" stroke="#eeee00"/><line x1="1120.9" y1="208.6" x2="1125.9" y2="197.4" stroke="#eeee00"/><line x1="1125.9" y1="197.4" x2="1130.8" y2="186.3" stroke="#4cbcc6"/><line x1="1164.9" y1="208.6" x2="1158.7" y2="197.4" stroke="#4cbcc6"/><line x1="1158.7" y1="197.4" x2="1152.5" y2="186.3" stroke="#eeee00"/><line x1="1184.1" y1="208.6" x2="1189.2" y2="197.4" stroke="#eeee00"/><line x1="1189.2" y1="197.4" x2="1194.2" y2="186.3" stroke="#4cbcc6"/><line x1="1228.5" y1="208.6" x2="1222.2" y2="197.4" stroke="#4cbcc6"/><line x1="1222.2" y1="197.4" x2="1215.9" y2="186.3" stroke="#eeee00"/><line x1="1247.7" y1="208.6" x2="1252.8" y2="197.4" stroke="#eeee00"/><line x1="1252.8" y1="197.4" x2="1257.8" y2="186.3" stroke="#4cbcc6"/><line x1="1292.2" y1="208.6" x2="1285.9" y2="197.4" stroke="#4cbcc6"/><line x1="1285.9" y1="197.4" x2="1279.5" y2="186.3" stroke="#eeee00"/><line x1="1311.4" y1="208.6" x2="1316.4" y2="197.4" stroke="#eeee00"/><line x1="1316.4" y1="197.4" x2="1321.3" y2="186.3" stroke="#4cbcc6"/><line x1="1355.4" y1="208.6" x2="1349.2" y2="197.4" stroke="#4cbcc6"/><line x1="1349.2" y1="197.4" x2="1343.0" y2="186.3" stroke="#eeee00"/><line x1="1374.6" y1="208.6" x2="1379.3" y2="197.4" stroke="#eeee00"/><line x1="1379.3" y1="197.4" x2="1384.1" y2="186.3" stroke="#4cbcc6"/><line x1="1419.7" y1="208.6" x2="1412.7" y2="197.4" stroke="#0a5ae6"/><line x1="1412.7" y1="197.4" x2="1405.8" y2="186.3" stroke="#eeee00"/><line x1="1436.9" y1="208.6" x2="1442.2" y2="197.4" stroke="#eeee00"/><line x1="1442.2" y1="197.4" x2="1447.5" y2="186.3" stroke="#0a5ae6"/><line x1="1484.2" y1="208.6" x2="1476.7" y2="197.4" stroke="#0a5ae6"/><line x1="1476.7" y1="197.4" x2="1469.2" y2="186.3" stroke="#eeee00"/><line x1="1501.4" y1="208.6" x2="1506.9" y2="197.4" stroke="#eeee00"/><line x1="1506.9" y1="197.4" x2="1512.3" y2="186.3" stroke="#0a5ae6"/><line x1="1549.5" y1="208.6" x2="1541.8" y2="197.4" stroke="#0a5ae6"/><line x1="1541.8" y1="197.4" x2="1534.0" y2="186.3" stroke="#eeee00"/><line x1="938.7" y1="46.0" x2="953.5" y2="56.0" stroke="#0a5ae6"/><line x1="953.5" y1="56.0" x2="968.4" y2="66.0" stroke="#0a5ae6"/><line x1="1005.1" y1="46.0" x2="1019.9" y2="56.0" stroke="#0a5ae6"/><line x1="1019.9" y1="56.0" x2="1034.8" y2="66.0" stroke="#0a5ae6"/><line x1="1387.6" y1="46.0" x2="1401.4" y2="56.0" stroke="#4cbcc6"/><line x1="1401.4" y1="56.0" x2="1415.2" y2="66.0" stroke="#0a5ae6"/><line x1="1451.0" y1="46.0" x2="1465.3" y2="56.0" stroke="#0a5ae6"/><line x1="1465.3" y1="56.0" x2="1479.7" y2="66.0" stroke="#0a5ae6"/><line x1="1515.8" y1="46.0" x2="1530.4" y2="56.0" stroke="#0a5ae6"/><line x1="1530.4" y1="56.0" x2="1545.0" y2="66.0" stroke="#0a5ae6"/><line x1="920.9" y1="197.4" x2="935.2" y2="186.3" stroke="#0a5ae6"/><line x1="972.9" y1="208.6" x2="987.2" y2="197.4" stroke="#0a5ae6"/><line x1="987.2" y1="197.4" x2="1001.6" y2="186.3" stroke="#0a5ae6"/><line x1="1039.3" y1="208.6" x2="1053.2" y2="197.4" stroke="#0a5ae6"/><line x1="1053.2" y1="197.4" x2="1067.0" y2="186.3" stroke="#0a5ae6"/><line x1="1419.7" y1="208.6" x2="1433.6" y2="197.4" stroke="#0a5ae6"/><line x1="1433.6" y1="197.4" x2="1447.5" y2="186.3" stroke="#0a5ae6"/><line x1="1484.2" y1="208.6" x2="1498.3" y2="197.4" stroke="#0a5ae6"/><line x1="1498.3" y1="197.4" x2="1512.3" y2="186.3" stroke="#0a5ae6"/><line x1="1549.5" y1="208.6" x2="1563.6" y2="197.4" stroke="#0a5ae6"/></g><ellipse cx="938.7" cy="46.0" rx="5.5" ry="6.5" fill="url(#gMb)"/><ellipse cx="956.9" cy="44.8" rx="5.7" ry="6.7" fill="url(#gS)"/><ellipse cx="1005.1" cy="46.0" rx="5.5" ry="6.5" fill="url(#gMb)"/><ellipse cx="1023.3" cy="44.8" rx="5.7" ry="6.7" fill="url(#gS)"/><ellipse cx="1070.5" cy="46.0" rx="5.5" ry="6.5" fill="url(#gMb)"/><ellipse cx="1088.7" cy="44.8" rx="5.7" ry="6.7" fill="url(#gS)"/><ellipse cx="1134.3" cy="46.0" rx="5.5" ry="6.3" fill="url(#gMc)"/><ellipse cx="1152.5" cy="44.8" rx="5.7" ry="6.7" fill="url(#gS)"/><ellipse cx="1197.7" cy="46.0" rx="5.5" ry="6.3" fill="url(#gMc)"/><ellipse cx="1215.9" cy="44.8" rx="5.7" ry="6.7" fill="url(#gS)"/><ellipse cx="1261.3" cy="46.0" rx="5.5" ry="6.3" fill="url(#gMc)"/><ellipse cx="1279.5" cy="44.8" rx="5.7" ry="6.7" fill="url(#gS)"/><ellipse cx="1324.8" cy="46.0" rx="5.5" ry="6.3" fill="url(#gMc)"/><ellipse cx="1343.0" cy="44.8" rx="5.7" ry="6.7" fill="url(#gS)"/><ellipse cx="1387.6" cy="46.0" rx="5.5" ry="6.3" fill="url(#gMc)"/><ellipse cx="1405.8" cy="44.8" rx="5.7" ry="6.7" fill="url(#gS)"/><ellipse cx="1451.0" cy="46.0" rx="5.5" ry="6.5" fill="url(#gMb)"/><ellipse cx="1469.2" cy="44.8" rx="5.7" ry="6.7" fill="url(#gS)"/><ellipse cx="1515.8" cy="46.0" rx="5.5" ry="6.5" fill="url(#gMb)"/><ellipse cx="1534.0" cy="44.8" rx="5.7" ry="6.7" fill="url(#gS)"/><ellipse cx="923.7" cy="66.0" rx="5.7" ry="6.7" fill="url(#gS)"/><ellipse cx="968.4" cy="66.0" rx="5.5" ry="6.5" fill="url(#gMb)"/><ellipse cx="990.1" cy="66.0" rx="5.7" ry="6.7" fill="url(#gS)"/><ellipse cx="1034.8" cy="66.0" rx="5.5" ry="6.5" fill="url(#gMb)"/><ellipse cx="1056.5" cy="66.0" rx="5.7" ry="6.7" fill="url(#gS)"/><ellipse cx="1099.2" cy="66.0" rx="5.5" ry="6.3" fill="url(#gMc)"/><ellipse cx="1120.9" cy="66.0" rx="5.7" ry="6.7" fill="url(#gS)"/><ellipse cx="1162.4" cy="66.0" rx="5.5" ry="6.3" fill="url(#gMc)"/><ellipse cx="1184.1" cy="66.0" rx="5.7" ry="6.7" fill="url(#gS)"/><ellipse cx="1226.0" cy="66.0" rx="5.5" ry="6.3" fill="url(#gMc)"/><ellipse cx="1247.7" cy="66.0" rx="5.7" ry="6.7" fill="url(#gS)"/><ellipse cx="1289.7" cy="66.0" rx="5.5" ry="6.3" fill="url(#gMc)"/><ellipse cx="1311.4" cy="66.0" rx="5.7" ry="6.7" fill="url(#gS)"/><ellipse cx="1352.9" cy="66.0" rx="5.5" ry="6.3" fill="url(#gMc)"/><ellipse cx="1374.6" cy="66.0" rx="5.7" ry="6.7" fill="url(#gS)"/><ellipse cx="1415.2" cy="66.0" rx="5.5" ry="6.5" fill="url(#gMb)"/><ellipse cx="1436.9" cy="66.0" rx="5.7" ry="6.7" fill="url(#gS)"/><ellipse cx="1479.7" cy="66.0" rx="5.5" ry="6.5" fill="url(#gMb)"/><ellipse cx="1501.4" cy="66.0" rx="5.7" ry="6.7" fill="url(#gS)"/><ellipse cx="1545.0" cy="66.0" rx="5.5" ry="6.5" fill="url(#gMb)"/><ellipse cx="935.2" cy="90.6" rx="5.5" ry="6.5" fill="url(#gMb)"/><ellipse cx="956.9" cy="90.6" rx="5.7" ry="6.7" fill="url(#gS)"/><ellipse cx="1001.6" cy="90.6" rx="5.5" ry="6.5" fill="url(#gMb)"/><ellipse cx="1023.3" cy="90.6" rx="5.7" ry="6.7" fill="url(#gS)"/><ellipse cx="1067.0" cy="90.6" rx="5.5" ry="6.5" fill="url(#gMb)"/><ellipse cx="1088.7" cy="90.6" rx="5.7" ry="6.7" fill="url(#gS)"/><ellipse cx="1130.8" cy="90.6" rx="5.5" ry="6.3" fill="url(#gMc)"/><ellipse cx="1152.5" cy="90.6" rx="5.7" ry="6.7" fill="url(#gS)"/><ellipse cx="1194.2" cy="90.6" rx="5.5" ry="6.3" fill="url(#gMc)"/><ellipse cx="1215.9" cy="90.6" rx="5.7" ry="6.7" fill="url(#gS)"/><ellipse cx="1257.8" cy="90.6" rx="5.5" ry="6.3" fill="url(#gMc)"/><ellipse cx="1279.5" cy="90.6" rx="5.7" ry="6.7" fill="url(#gS)"/><ellipse cx="1321.3" cy="90.6" rx="5.5" ry="6.3" fill="url(#gMc)"/><ellipse cx="1343.0" cy="90.6" rx="5.7" ry="6.7" fill="url(#gS)"/><ellipse cx="1384.1" cy="90.6" rx="5.5" ry="6.3" fill="url(#gMc)"/><ellipse cx="1405.8" cy="90.6" rx="5.7" ry="6.7" fill="url(#gS)"/><ellipse cx="1447.5" cy="90.6" rx="5.5" ry="6.5" fill="url(#gMb)"/><ellipse cx="1469.2" cy="90.6" rx="5.7" ry="6.7" fill="url(#gS)"/><ellipse cx="1512.3" cy="90.6" rx="5.5" ry="6.5" fill="url(#gMb)"/><ellipse cx="1534.0" cy="90.6" rx="5.7" ry="6.7" fill="url(#gS)"/><ellipse cx="923.7" cy="115.1" rx="5.7" ry="6.7" fill="url(#gS)"/><ellipse cx="968.4" cy="115.1" rx="5.5" ry="6.5" fill="url(#gMb)"/><ellipse cx="990.1" cy="115.1" rx="5.7" ry="6.7" fill="url(#gS)"/><ellipse cx="1034.8" cy="115.1" rx="5.5" ry="6.5" fill="url(#gMb)"/><ellipse cx="1056.5" cy="115.1" rx="5.7" ry="6.7" fill="url(#gS)"/><ellipse cx="1099.2" cy="115.1" rx="5.5" ry="6.3" fill="url(#gMc)"/><ellipse cx="1120.9" cy="115.1" rx="5.7" ry="6.7" fill="url(#gS)"/><ellipse cx="1162.4" cy="115.1" rx="5.5" ry="6.3" fill="url(#gMc)"/><ellipse cx="1184.1" cy="115.1" rx="5.7" ry="6.7" fill="url(#gS)"/><ellipse cx="1226.0" cy="115.1" rx="5.5" ry="6.3" fill="url(#gMc)"/><ellipse cx="1247.7" cy="115.1" rx="5.7" ry="6.7" fill="url(#gS)"/><ellipse cx="1289.7" cy="115.1" rx="5.5" ry="6.3" fill="url(#gMc)"/><ellipse cx="1311.4" cy="115.1" rx="5.7" ry="6.7" fill="url(#gS)"/><ellipse cx="1352.9" cy="115.1" rx="5.5" ry="6.3" fill="url(#gMc)"/><ellipse cx="1374.6" cy="115.1" rx="5.7" ry="6.7" fill="url(#gS)"/><ellipse cx="1415.2" cy="115.1" rx="5.5" ry="6.5" fill="url(#gMb)"/><ellipse cx="1436.9" cy="115.1" rx="5.7" ry="6.7" fill="url(#gS)"/><ellipse cx="1479.7" cy="115.1" rx="5.5" ry="6.5" fill="url(#gMb)"/><ellipse cx="1501.4" cy="115.1" rx="5.7" ry="6.7" fill="url(#gS)"/><ellipse cx="1545.0" cy="115.1" rx="5.5" ry="6.5" fill="url(#gMb)"/><ellipse cx="935.2" cy="138.4" rx="5.5" ry="6.5" fill="url(#gMb)"/><ellipse cx="956.9" cy="138.4" rx="5.7" ry="6.7" fill="url(#gS)"/><ellipse cx="1001.6" cy="138.4" rx="5.5" ry="6.5" fill="url(#gMb)"/><ellipse cx="1023.3" cy="138.4" rx="5.7" ry="6.7" fill="url(#gS)"/><ellipse cx="1067.0" cy="138.4" rx="5.5" ry="6.5" fill="url(#gMb)"/><ellipse cx="1088.7" cy="138.4" rx="5.7" ry="6.7" fill="url(#gS)"/><ellipse cx="1130.8" cy="138.4" rx="5.5" ry="6.3" fill="url(#gMc)"/><ellipse cx="1152.5" cy="138.4" rx="5.7" ry="6.7" fill="url(#gS)"/><ellipse cx="1194.2" cy="138.4" rx="5.5" ry="6.3" fill="url(#gMc)"/><ellipse cx="1215.9" cy="138.4" rx="5.7" ry="6.7" fill="url(#gS)"/><ellipse cx="1257.8" cy="138.4" rx="5.5" ry="6.3" fill="url(#gMc)"/><ellipse cx="1279.5" cy="138.4" rx="5.7" ry="6.7" fill="url(#gS)"/><ellipse cx="1321.3" cy="138.4" rx="5.5" ry="6.3" fill="url(#gMc)"/><ellipse cx="1343.0" cy="138.4" rx="5.7" ry="6.7" fill="url(#gS)"/><ellipse cx="1384.1" cy="138.4" rx="5.5" ry="6.3" fill="url(#gMc)"/><ellipse cx="1405.8" cy="138.4" rx="5.7" ry="6.7" fill="url(#gS)"/><ellipse cx="1447.5" cy="138.4" rx="5.5" ry="6.5" fill="url(#gMb)"/><ellipse cx="1469.2" cy="138.4" rx="5.7" ry="6.7" fill="url(#gS)"/><ellipse cx="1512.3" cy="138.4" rx="5.5" ry="6.5" fill="url(#gMb)"/><ellipse cx="1534.0" cy="138.4" rx="5.7" ry="6.7" fill="url(#gS)"/><ellipse cx="923.7" cy="162.6" rx="5.7" ry="6.7" fill="url(#gS)"/><ellipse cx="968.4" cy="162.6" rx="5.5" ry="6.5" fill="url(#gMb)"/><ellipse cx="990.1" cy="162.6" rx="5.7" ry="6.7" fill="url(#gS)"/><ellipse cx="1034.8" cy="162.6" rx="5.5" ry="6.5" fill="url(#gMb)"/><ellipse cx="1056.5" cy="162.6" rx="5.7" ry="6.7" fill="url(#gS)"/><ellipse cx="1099.2" cy="162.6" rx="5.5" ry="6.3" fill="url(#gMc)"/><ellipse cx="1120.9" cy="162.6" rx="5.7" ry="6.7" fill="url(#gS)"/><ellipse cx="1162.4" cy="162.6" rx="5.5" ry="6.3" fill="url(#gMc)"/><ellipse cx="1184.1" cy="162.6" rx="5.7" ry="6.7" fill="url(#gS)"/><ellipse cx="1226.0" cy="162.6" rx="5.5" ry="6.3" fill="url(#gMc)"/><ellipse cx="1247.7" cy="162.6" rx="5.7" ry="6.7" fill="url(#gS)"/><ellipse cx="1289.7" cy="162.6" rx="5.5" ry="6.3" fill="url(#gMc)"/><ellipse cx="1311.4" cy="162.6" rx="5.7" ry="6.7" fill="url(#gS)"/><ellipse cx="1352.9" cy="162.6" rx="5.5" ry="6.3" fill="url(#gMc)"/><ellipse cx="1374.6" cy="162.6" rx="5.7" ry="6.7" fill="url(#gS)"/><ellipse cx="1415.2" cy="162.6" rx="5.5" ry="6.5" fill="url(#gMb)"/><ellipse cx="1436.9" cy="162.6" rx="5.7" ry="6.7" fill="url(#gS)"/><ellipse cx="1479.7" cy="162.6" rx="5.5" ry="6.5" fill="url(#gMb)"/><ellipse cx="1501.4" cy="162.6" rx="5.7" ry="6.7" fill="url(#gS)"/><ellipse cx="1545.0" cy="162.6" rx="5.5" ry="6.5" fill="url(#gMb)"/><ellipse cx="935.2" cy="186.3" rx="5.5" ry="6.5" fill="url(#gMb)"/><ellipse cx="956.9" cy="186.3" rx="5.7" ry="6.7" fill="url(#gS)"/><ellipse cx="1001.6" cy="186.3" rx="5.5" ry="6.5" fill="url(#gMb)"/><ellipse cx="1023.3" cy="186.3" rx="5.7" ry="6.7" fill="url(#gS)"/><ellipse cx="1067.0" cy="186.3" rx="5.5" ry="6.5" fill="url(#gMb)"/><ellipse cx="1088.7" cy="186.3" rx="5.7" ry="6.7" fill="url(#gS)"/><ellipse cx="1130.8" cy="186.3" rx="5.5" ry="6.3" fill="url(#gMc)"/><ellipse cx="1152.5" cy="186.3" rx="5.7" ry="6.7" fill="url(#gS)"/><ellipse cx="1194.2" cy="186.3" rx="5.5" ry="6.3" fill="url(#gMc)"/><ellipse cx="1215.9" cy="186.3" rx="5.7" ry="6.7" fill="url(#gS)"/><ellipse cx="1257.8" cy="186.3" rx="5.5" ry="6.3" fill="url(#gMc)"/><ellipse cx="1279.5" cy="186.3" rx="5.7" ry="6.7" fill="url(#gS)"/><ellipse cx="1321.3" cy="186.3" rx="5.5" ry="6.3" fill="url(#gMc)"/><ellipse cx="1343.0" cy="186.3" rx="5.7" ry="6.7" fill="url(#gS)"/><ellipse cx="1384.1" cy="186.3" rx="5.5" ry="6.3" fill="url(#gMc)"/><ellipse cx="1405.8" cy="186.3" rx="5.7" ry="6.7" fill="url(#gS)"/><ellipse cx="1447.5" cy="186.3" rx="5.5" ry="6.5" fill="url(#gMb)"/><ellipse cx="1469.2" cy="186.3" rx="5.7" ry="6.7" fill="url(#gS)"/><ellipse cx="1512.3" cy="186.3" rx="5.5" ry="6.5" fill="url(#gMb)"/><ellipse cx="1534.0" cy="186.3" rx="5.7" ry="6.7" fill="url(#gS)"/><ellipse cx="923.7" cy="208.6" rx="5.7" ry="6.7" fill="url(#gS)"/><ellipse cx="972.9" cy="208.6" rx="5.5" ry="6.5" fill="url(#gMb)"/><ellipse cx="990.1" cy="208.6" rx="5.7" ry="6.7" fill="url(#gS)"/><ellipse cx="1039.3" cy="208.6" rx="5.5" ry="6.5" fill="url(#gMb)"/><ellipse cx="1056.5" cy="208.6" rx="5.7" ry="6.7" fill="url(#gS)"/><ellipse cx="1101.7" cy="208.6" rx="5.5" ry="6.3" fill="url(#gMc)"/><ellipse cx="1120.9" cy="208.6" rx="5.7" ry="6.7" fill="url(#gS)"/><ellipse cx="1164.9" cy="208.6" rx="5.5" ry="6.3" fill="url(#gMc)"/><ellipse cx="1184.1" cy="208.6" rx="5.7" ry="6.7" fill="url(#gS)"/><ellipse cx="1228.5" cy="208.6" rx="5.5" ry="6.3" fill="url(#gMc)"/><ellipse cx="1247.7" cy="208.6" rx="5.7" ry="6.7" fill="url(#gS)"/><ellipse cx="1292.2" cy="208.6" rx="5.5" ry="6.3" fill="url(#gMc)"/><ellipse cx="1311.4" cy="208.6" rx="5.7" ry="6.7" fill="url(#gS)"/><ellipse cx="1355.4" cy="208.6" rx="5.5" ry="6.3" fill="url(#gMc)"/><ellipse cx="1374.6" cy="208.6" rx="5.7" ry="6.7" fill="url(#gS)"/><ellipse cx="1419.7" cy="208.6" rx="5.5" ry="6.5" fill="url(#gMb)"/><ellipse cx="1436.9" cy="208.6" rx="5.7" ry="6.7" fill="url(#gS)"/><ellipse cx="1484.2" cy="208.6" rx="5.5" ry="6.5" fill="url(#gMb)"/><ellipse cx="1501.4" cy="208.6" rx="5.7" ry="6.7" fill="url(#gS)"/><ellipse cx="1549.5" cy="208.6" rx="5.5" ry="6.5" fill="url(#gMb)"/>
<ellipse cx="1095.6" cy="197.6" rx="4.8" ry="7.0" fill="url(#gR)"/><ellipse cx="1108.6" cy="209.8" rx="4.8" ry="6.2" fill="url(#gR)"/><ellipse cx="1101.8" cy="203.9" rx="2.9" ry="12.5" fill="url(#gT)" transform="rotate(33 1101.8 203.9)"/><ellipse cx="1096.4" cy="213.4" rx="5.3" ry="7.2" fill="url(#gT)" transform="rotate(25 1096.4 213.4)"/><ellipse cx="1158.6999999999998" cy="197.6" rx="4.8" ry="7.0" fill="url(#gR)"/><ellipse cx="1171.6999999999998" cy="209.8" rx="4.8" ry="6.2" fill="url(#gR)"/><ellipse cx="1164.8999999999999" cy="203.9" rx="2.9" ry="12.5" fill="url(#gT)" transform="rotate(33 1164.8999999999999 203.9)"/><ellipse cx="1159.5" cy="213.4" rx="5.3" ry="7.2" fill="url(#gT)" transform="rotate(25 1159.5 213.4)"/><ellipse cx="1221.6999999999998" cy="197.6" rx="4.8" ry="7.0" fill="url(#gR)"/><ellipse cx="1234.6999999999998" cy="209.8" rx="4.8" ry="6.2" fill="url(#gR)"/><ellipse cx="1227.8999999999999" cy="203.9" rx="2.9" ry="12.5" fill="url(#gT)" transform="rotate(33 1227.8999999999999 203.9)"/><ellipse cx="1222.5" cy="213.4" rx="5.3" ry="7.2" fill="url(#gT)" transform="rotate(25 1222.5 213.4)"/><ellipse cx="1284.8" cy="197.6" rx="4.8" ry="7.0" fill="url(#gR)"/><ellipse cx="1297.8" cy="209.8" rx="4.8" ry="6.2" fill="url(#gR)"/><ellipse cx="1291.0" cy="203.9" rx="2.9" ry="12.5" fill="url(#gT)" transform="rotate(33 1291.0 203.9)"/><ellipse cx="1285.6000000000001" cy="213.4" rx="5.3" ry="7.2" fill="url(#gT)" transform="rotate(25 1285.6000000000001 213.4)"/><ellipse cx="1094.2" cy="157.6" rx="3" ry="4" fill="url(#gR)"/><ellipse cx="1103.2" cy="168.6" rx="3" ry="3.5" fill="url(#gR)"/><ellipse cx="1099.2" cy="162.6" rx="3" ry="2" fill="url(#gT)"/><ellipse cx="1157.4" cy="157.6" rx="3" ry="4" fill="url(#gR)"/><ellipse cx="1166.4" cy="168.6" rx="3" ry="3.5" fill="url(#gR)"/><ellipse cx="1162.4" cy="162.6" rx="3" ry="2" fill="url(#gT)"/><ellipse cx="1221.0" cy="157.6" rx="3" ry="4" fill="url(#gR)"/><ellipse cx="1230.0" cy="168.6" rx="3" ry="3.5" fill="url(#gR)"/><ellipse cx="1226.0" cy="162.6" rx="3" ry="2" fill="url(#gT)"/><ellipse cx="1284.7" cy="157.6" rx="3" ry="4" fill="url(#gR)"/><ellipse cx="1293.7" cy="168.6" rx="3" ry="3.5" fill="url(#gR)"/><ellipse cx="1289.7" cy="162.6" rx="3" ry="2" fill="url(#gT)"/><ellipse cx="1252.5" cy="186.3" rx="3" ry="3.5" fill="url(#gR)"/><ellipse cx="1265.0" cy="186.3" rx="3" ry="3.5" fill="url(#gR)"/><ellipse cx="1315.0" cy="186.3" rx="3" ry="3.5" fill="url(#gR)"/><ellipse cx="1327.5" cy="186.3" rx="3" ry="3.5" fill="url(#gR)"/><ellipse cx="1254.9" cy="42.9" rx="3" ry="4" fill="url(#gR)"/><ellipse cx="1263.5" cy="55.4" rx="2.5" ry="3" fill="url(#gR)"/><ellipse cx="1265.4" cy="42.9" rx="3" ry="3.5" fill="url(#gT)"/><ellipse cx="1253" cy="55.4" rx="3" ry="3.5" fill="url(#gT)"/><ellipse cx="1317" cy="38.2" rx="4.2" ry="7.6" fill="url(#gR)"/><ellipse cx="1329.4" cy="43.9" rx="4" ry="4" fill="url(#gT)"/><ellipse cx="1326.5" cy="57.3" rx="3" ry="5" fill="url(#gR)"/><ellipse cx="1315" cy="54.4" rx="3" ry="4" fill="url(#gT)"/><ellipse cx="1349" cy="208" rx="3" ry="4" fill="url(#gT)"/><ellipse cx="1358" cy="199" rx="2" ry="3" fill="url(#gT)"/><ellipse cx="1360" cy="206" rx="3" ry="3" fill="url(#gR)"/><ellipse cx="1035.2" cy="115.3" rx="4.6" ry="5.6" fill="url(#gG)"/><ellipse cx="1002.5" cy="139" rx="3" ry="3.5" fill="url(#gG)"/><ellipse cx="1001" cy="133" rx="1.5" ry="1.5" fill="url(#gR)"/><ellipse cx="1001" cy="145" rx="1.5" ry="1.5" fill="url(#gR)"/><ellipse cx="1067" cy="139" rx="2.5" ry="2.5" fill="url(#gG)"/><ellipse cx="1034.7" cy="162.6" rx="2" ry="2" fill="url(#gG)"/>
</g>
<rect x="908.2" y="16.5" width="74.1" height="219.5" fill="#c4c4c4"/>
<rect x="1486.6" y="18.2" width="74.3" height="219.2" fill="#c4c4c4"/>
<clipPath id="bx0"><rect x="908.2" y="16.5" width="74.1" height="219.5"/><rect x="1486.6" y="18.2" width="74.3" height="219.2"/></clipPath>
<g clip-path="url(#bx0)"><g stroke-width="2.4"><line x1="938.7" y1="46.0" x2="947.8" y2="45.4" stroke="#0a5ac4"/><line x1="947.8" y1="45.4" x2="956.9" y2="44.8" stroke="#c4c400"/><line x1="1515.8" y1="46.0" x2="1524.9" y2="45.4" stroke="#0a5ac4"/><line x1="1524.9" y1="45.4" x2="1534.0" y2="44.8" stroke="#c4c400"/><line x1="912.9" y1="66.0" x2="923.7" y2="66.0" stroke="#c4c400"/><line x1="968.4" y1="66.0" x2="979.2" y2="66.0" stroke="#0a5ac4"/><line x1="979.2" y1="66.0" x2="990.1" y2="66.0" stroke="#c4c400"/><line x1="1479.7" y1="66.0" x2="1490.6" y2="66.0" stroke="#0a5ac4"/><line x1="1490.6" y1="66.0" x2="1501.4" y2="66.0" stroke="#c4c400"/><line x1="1545.0" y1="66.0" x2="1555.8" y2="66.0" stroke="#0a5ac4"/><line x1="923.7" y1="66.0" x2="931.2" y2="56.0" stroke="#c4c400"/><line x1="931.2" y1="56.0" x2="938.7" y2="46.0" stroke="#0a5ac4"/><line x1="968.4" y1="66.0" x2="962.7" y2="55.4" stroke="#0a5ac4"/><line x1="962.7" y1="55.4" x2="956.9" y2="44.8" stroke="#c4c400"/><line x1="1501.4" y1="66.0" x2="1508.6" y2="56.0" stroke="#c4c400"/><line x1="1508.6" y1="56.0" x2="1515.8" y2="46.0" stroke="#0a5ac4"/><line x1="1545.0" y1="66.0" x2="1539.5" y2="55.4" stroke="#0a5ac4"/><line x1="1539.5" y1="55.4" x2="1534.0" y2="44.8" stroke="#c4c400"/><line x1="923.7" y1="66.0" x2="929.5" y2="78.3" stroke="#c4c400"/><line x1="929.5" y1="78.3" x2="935.2" y2="90.6" stroke="#0a5ac4"/><line x1="968.4" y1="66.0" x2="962.7" y2="78.3" stroke="#0a5ac4"/><line x1="962.7" y1="78.3" x2="956.9" y2="90.6" stroke="#c4c400"/><line x1="1501.4" y1="66.0" x2="1506.9" y2="78.3" stroke="#c4c400"/><line x1="1506.9" y1="78.3" x2="1512.3" y2="90.6" stroke="#0a5ac4"/><line x1="1545.0" y1="66.0" x2="1539.5" y2="78.3" stroke="#0a5ac4"/><line x1="1539.5" y1="78.3" x2="1534.0" y2="90.6" stroke="#c4c400"/><line x1="935.2" y1="90.6" x2="946.1" y2="90.6" stroke="#0a5ac4"/><line x1="946.1" y1="90.6" x2="956.9" y2="90.6" stroke="#c4c400"/><line x1="1512.3" y1="90.6" x2="1523.2" y2="90.6" stroke="#0a5ac4"/><line x1="1523.2" y1="90.6" x2="1534.0" y2="90.6" stroke="#c4c400"/><line x1="912.9" y1="115.1" x2="923.7" y2="115.1" stroke="#c4c400"/><line x1="968.4" y1="115.1" x2="979.2" y2="115.1" stroke="#0a5ac4"/><line x1="979.2" y1="115.1" x2="990.1" y2="115.1" stroke="#c4c400"/><line x1="1479.7" y1="115.1" x2="1490.6" y2="115.1" stroke="#0a5ac4"/><line x1="1490.6" y1="115.1" x2="1501.4" y2="115.1" stroke="#c4c400"/><line x1="1545.0" y1="115.1" x2="1555.8" y2="115.1" stroke="#0a5ac4"/><line x1="923.7" y1="115.1" x2="929.5" y2="102.8" stroke="#c4c400"/><line x1="929.5" y1="102.8" x2="935.2" y2="90.6" stroke="#0a5ac4"/><line x1="968.4" y1="115.1" x2="962.7" y2="102.8" stroke="#0a5ac4"/><line x1="962.7" y1="102.8" x2="956.9" y2="90.6" stroke="#c4c400"/><line x1="1501.4" y1="115.1" x2="1506.9" y2="102.8" stroke="#c4c400"/><line x1="1506.9" y1="102.8" x2="1512.3" y2="90.6" stroke="#0a5ac4"/><line x1="1545.0" y1="115.1" x2="1539.5" y2="102.8" stroke="#0a5ac4"/><line x1="1539.5" y1="102.8" x2="1534.0" y2="90.6" stroke="#c4c400"/><line x1="923.7" y1="115.1" x2="929.5" y2="126.8" stroke="#c4c400"/><line x1="929.5" y1="126.8" x2="935.2" y2="138.4" stroke="#0a5ac4"/><line x1="968.4" y1="115.1" x2="962.7" y2="126.8" stroke="#0a5ac4"/><line x1="962.7" y1="126.8" x2="956.9" y2="138.4" stroke="#c4c400"/><line x1="1501.4" y1="115.1" x2="1506.9" y2="126.8" stroke="#c4c400"/><line x1="1506.9" y1="126.8" x2="1512.3" y2="138.4" stroke="#0a5ac4"/><line x1="1545.0" y1="115.1" x2="1539.5" y2="126.8" stroke="#0a5ac4"/><line x1="1539.5" y1="126.8" x2="1534.0" y2="138.4" stroke="#c4c400"/><line x1="935.2" y1="138.4" x2="946.1" y2="138.4" stroke="#0a5ac4"/><line x1="946.1" y1="138.4" x2="956.9" y2="138.4" stroke="#c4c400"/><line x1="1512.3" y1="138.4" x2="1523.2" y2="138.4" stroke="#0a5ac4"/><line x1="1523.2" y1="138.4" x2="1534.0" y2="138.4" stroke="#c4c400"/><line x1="912.9" y1="162.6" x2="923.7" y2="162.6" stroke="#c4c400"/><line x1="968.4" y1="162.6" x2="979.2" y2="162.6" stroke="#0a5ac4"/><line x1="979.2" y1="162.6" x2="990.1" y2="162.6" stroke="#c4c400"/><line x1="1479.7" y1="162.6" x2="1490.6" y2="162.6" stroke="#0a5ac4"/><line x1="1490.6" y1="162.6" x2="1501.4" y2="162.6" stroke="#c4c400"/><line x1="1545.0" y1="162.6" x2="1555.8" y2="162.6" stroke="#0a5ac4"/><line x1="923.7" y1="162.6" x2="929.5" y2="150.5" stroke="#c4c400"/><line x1="929.5" y1="150.5" x2="935.2" y2="138.4" stroke="#0a5ac4"/><line x1="968.4" y1="162.6" x2="962.7" y2="150.5" stroke="#0a5ac4"/><line x1="962.7" y1="150.5" x2="956.9" y2="138.4" stroke="#c4c400"/><line x1="1501.4" y1="162.6" x2="1506.9" y2="150.5" stroke="#c4c400"/><line x1="1506.9" y1="150.5" x2="1512.3" y2="138.4" stroke="#0a5ac4"/><line x1="1545.0" y1="162.6" x2="1539.5" y2="150.5" stroke="#0a5ac4"/><line x1="1539.5" y1="150.5" x2="1534.0" y2="138.4" stroke="#c4c400"/><line x1="923.7" y1="162.6" x2="929.5" y2="174.4" stroke="#c4c400"/><line x1="929.5" y1="174.4" x2="935.2" y2="186.3" stroke="#0a5ac4"/><line x1="968.4" y1="162.6" x2="962.7" y2="174.4" stroke="#0a5ac4"/><line x1="962.7" y1="174.4" x2="956.9" y2="186.3" stroke="#c4c400"/><line x1="1501.4" y1="162.6" x2="1506.9" y2="174.4" stroke="#c4c400"/><line x1="1506.9" y1="174.4" x2="1512.3" y2="186.3" stroke="#0a5ac4"/><line x1="1545.0" y1="162.6" x2="1539.5" y2="174.4" stroke="#0a5ac4"/><line x1="1539.5" y1="174.4" x2="1534.0" y2="186.3" stroke="#c4c400"/><line x1="935.2" y1="186.3" x2="946.1" y2="186.3" stroke="#0a5ac4"/><line x1="946.1" y1="186.3" x2="956.9" y2="186.3" stroke="#c4c400"/><line x1="1512.3" y1="186.3" x2="1523.2" y2="186.3" stroke="#0a5ac4"/><line x1="1523.2" y1="186.3" x2="1534.0" y2="186.3" stroke="#c4c400"/><line x1="915.1" y1="208.6" x2="923.7" y2="208.6" stroke="#c4c400"/><line x1="972.9" y1="208.6" x2="981.5" y2="208.6" stroke="#0a5ac4"/><line x1="981.5" y1="208.6" x2="990.1" y2="208.6" stroke="#c4c400"/><line x1="1484.2" y1="208.6" x2="1492.8" y2="208.6" stroke="#0a5ac4"/><line x1="1492.8" y1="208.6" x2="1501.4" y2="208.6" stroke="#c4c400"/><line x1="1549.5" y1="208.6" x2="1558.1" y2="208.6" stroke="#0a5ac4"/><line x1="923.7" y1="208.6" x2="929.5" y2="197.4" stroke="#c4c400"/><line x1="929.5" y1="197.4" x2="935.2" y2="186.3" stroke="#0a5ac4"/><line x1="972.9" y1="208.6" x2="964.9" y2="197.4" stroke="#0a5ac4"/><line x1="964.9" y1="197.4" x2="956.9" y2="186.3" stroke="#c4c400"/><line x1="1501.4" y1="208.6" x2="1506.9" y2="197.4" stroke="#c4c400"/><line x1="1506.9" y1="197.4" x2="1512.3" y2="186.3" stroke="#0a5ac4"/><line x1="1549.5" y1="208.6" x2="1541.8" y2="197.4" stroke="#0a5ac4"/><line x1="1541.8" y1="197.4" x2="1534.0" y2="186.3" stroke="#c4c400"/><line x1="938.7" y1="46.0" x2="953.5" y2="56.0" stroke="#0a5ac4"/><line x1="953.5" y1="56.0" x2="968.4" y2="66.0" stroke="#0a5ac4"/><line x1="1515.8" y1="46.0" x2="1530.4" y2="56.0" stroke="#0a5ac4"/><line x1="1530.4" y1="56.0" x2="1545.0" y2="66.0" stroke="#0a5ac4"/><line x1="920.9" y1="197.4" x2="935.2" y2="186.3" stroke="#0a5ac4"/><line x1="972.9" y1="208.6" x2="987.2" y2="197.4" stroke="#0a5ac4"/><line x1="987.2" y1="197.4" x2="1001.6" y2="186.3" stroke="#0a5ac4"/><line x1="1484.2" y1="208.6" x2="1498.3" y2="197.4" stroke="#0a5ac4"/><line x1="1498.3" y1="197.4" x2="1512.3" y2="186.3" stroke="#0a5ac4"/><line x1="1549.5" y1="208.6" x2="1563.6" y2="197.4" stroke="#0a5ac4"/></g><ellipse cx="938.7" cy="46.0" rx="5.5" ry="6.5" fill="url(#gMbD)"/><ellipse cx="956.9" cy="44.8" rx="5.7" ry="6.7" fill="url(#gSD)"/><ellipse cx="1515.8" cy="46.0" rx="5.5" ry="6.5" fill="url(#gMbD)"/><ellipse cx="1534.0" cy="44.8" rx="5.7" ry="6.7" fill="url(#gSD)"/><ellipse cx="923.7" cy="66.0" rx="5.7" ry="6.7" fill="url(#gSD)"/><ellipse cx="968.4" cy="66.0" rx="5.5" ry="6.5" fill="url(#gMbD)"/><ellipse cx="1479.7" cy="66.0" rx="5.5" ry="6.5" fill="url(#gMbD)"/><ellipse cx="1501.4" cy="66.0" rx="5.7" ry="6.7" fill="url(#gSD)"/><ellipse cx="1545.0" cy="66.0" rx="5.5" ry="6.5" fill="url(#gMbD)"/><ellipse cx="935.2" cy="90.6" rx="5.5" ry="6.5" fill="url(#gMbD)"/><ellipse cx="956.9" cy="90.6" rx="5.7" ry="6.7" fill="url(#gSD)"/><ellipse cx="1512.3" cy="90.6" rx="5.5" ry="6.5" fill="url(#gMbD)"/><ellipse cx="1534.0" cy="90.6" rx="5.7" ry="6.7" fill="url(#gSD)"/><ellipse cx="923.7" cy="115.1" rx="5.7" ry="6.7" fill="url(#gSD)"/><ellipse cx="968.4" cy="115.1" rx="5.5" ry="6.5" fill="url(#gMbD)"/><ellipse cx="1479.7" cy="115.1" rx="5.5" ry="6.5" fill="url(#gMbD)"/><ellipse cx="1501.4" cy="115.1" rx="5.7" ry="6.7" fill="url(#gSD)"/><ellipse cx="1545.0" cy="115.1" rx="5.5" ry="6.5" fill="url(#gMbD)"/><ellipse cx="935.2" cy="138.4" rx="5.5" ry="6.5" fill="url(#gMbD)"/><ellipse cx="956.9" cy="138.4" rx="5.7" ry="6.7" fill="url(#gSD)"/><ellipse cx="1512.3" cy="138.4" rx="5.5" ry="6.5" fill="url(#gMbD)"/><ellipse cx="1534.0" cy="138.4" rx="5.7" ry="6.7" fill="url(#gSD)"/><ellipse cx="923.7" cy="162.6" rx="5.7" ry="6.7" fill="url(#gSD)"/><ellipse cx="968.4" cy="162.6" rx="5.5" ry="6.5" fill="url(#gMbD)"/><ellipse cx="1479.7" cy="162.6" rx="5.5" ry="6.5" fill="url(#gMbD)"/><ellipse cx="1501.4" cy="162.6" rx="5.7" ry="6.7" fill="url(#gSD)"/><ellipse cx="1545.0" cy="162.6" rx="5.5" ry="6.5" fill="url(#gMbD)"/><ellipse cx="935.2" cy="186.3" rx="5.5" ry="6.5" fill="url(#gMbD)"/><ellipse cx="956.9" cy="186.3" rx="5.7" ry="6.7" fill="url(#gSD)"/><ellipse cx="1512.3" cy="186.3" rx="5.5" ry="6.5" fill="url(#gMbD)"/><ellipse cx="1534.0" cy="186.3" rx="5.7" ry="6.7" fill="url(#gSD)"/><ellipse cx="923.7" cy="208.6" rx="5.7" ry="6.7" fill="url(#gSD)"/><ellipse cx="972.9" cy="208.6" rx="5.5" ry="6.5" fill="url(#gMbD)"/><ellipse cx="1484.2" cy="208.6" rx="5.5" ry="6.5" fill="url(#gMbD)"/><ellipse cx="1501.4" cy="208.6" rx="5.7" ry="6.7" fill="url(#gSD)"/><ellipse cx="1549.5" cy="208.6" rx="5.5" ry="6.5" fill="url(#gMbD)"/></g>
<clipPath id="mc1"><rect x="904.9" y="220.2" width="659.5000000000001" height="259.2"/></clipPath>
<g clip-path="url(#mc1)">
<g stroke-width="2.4"><line x1="939.0" y1="262.2" x2="948.1" y2="261.6" stroke="#0a5ae6"/><line x1="948.1" y1="261.6" x2="957.2" y2="261.0" stroke="#eeee00"/><line x1="1004.2" y1="262.2" x2="1013.4" y2="261.6" stroke="#0a5ae6"/><line x1="1013.4" y1="261.6" x2="1022.5" y2="261.0" stroke="#eeee00"/><line x1="1069.8" y1="262.2" x2="1078.9" y2="261.6" stroke="#0a5ae6"/><line x1="1078.9" y1="261.6" x2="1088.0" y2="261.0" stroke="#eeee00"/><line x1="1134.3" y1="262.2" x2="1143.4" y2="261.6" stroke="#4cbcc6"/><line x1="1143.4" y1="261.6" x2="1152.5" y2="261.0" stroke="#eeee00"/><line x1="1197.7" y1="262.2" x2="1206.8" y2="261.6" stroke="#4cbcc6"/><line x1="1206.8" y1="261.6" x2="1215.9" y2="261.0" stroke="#eeee00"/><line x1="1261.3" y1="262.2" x2="1270.4" y2="261.6" stroke="#4cbcc6"/><line x1="1270.4" y1="261.6" x2="1279.5" y2="261.0" stroke="#eeee00"/><line x1="1324.8" y1="262.2" x2="1333.9" y2="261.6" stroke="#4cbcc6"/><line x1="1333.9" y1="261.6" x2="1343.0" y2="261.0" stroke="#eeee00"/><line x1="1387.6" y1="262.2" x2="1396.7" y2="261.6" stroke="#4cbcc6"/><line x1="1396.7" y1="261.6" x2="1405.8" y2="261.0" stroke="#eeee00"/><line x1="1451.0" y1="262.2" x2="1460.1" y2="261.6" stroke="#0a5ae6"/><line x1="1460.1" y1="261.6" x2="1469.2" y2="261.0" stroke="#eeee00"/><line x1="1516.3" y1="262.2" x2="1525.4" y2="261.6" stroke="#0a5ae6"/><line x1="1525.4" y1="261.6" x2="1534.5" y2="261.0" stroke="#eeee00"/><line x1="913.6" y1="287.3" x2="924.5" y2="287.3" stroke="#eeee00"/><line x1="968.1" y1="287.3" x2="979.0" y2="287.3" stroke="#0a5ae6"/><line x1="979.0" y1="287.3" x2="989.8" y2="287.3" stroke="#eeee00"/><line x1="1033.4" y1="287.3" x2="1044.2" y2="287.3" stroke="#0a5ae6"/><line x1="1044.2" y1="287.3" x2="1055.1" y2="287.3" stroke="#eeee00"/><line x1="1099.2" y1="287.3" x2="1110.1" y2="287.3" stroke="#4cbcc6"/><line x1="1110.1" y1="287.3" x2="1120.9" y2="287.3" stroke="#eeee00"/><line x1="1162.4" y1="287.3" x2="1173.2" y2="287.3" stroke="#4cbcc6"/><line x1="1173.2" y1="287.3" x2="1184.1" y2="287.3" stroke="#eeee00"/><line x1="1226.0" y1="287.3" x2="1236.8" y2="287.3" stroke="#4cbcc6"/><line x1="1236.8" y1="287.3" x2="1247.7" y2="287.3" stroke="#eeee00"/><line x1="1289.7" y1="287.3" x2="1300.6" y2="287.3" stroke="#4cbcc6"/><line x1="1300.6" y1="287.3" x2="1311.4" y2="287.3" stroke="#eeee00"/><line x1="1352.9" y1="287.3" x2="1363.8" y2="287.3" stroke="#4cbcc6"/><line x1="1363.8" y1="287.3" x2="1374.6" y2="287.3" stroke="#eeee00"/><line x1="1415.2" y1="287.3" x2="1426.1" y2="287.3" stroke="#0a5ae6"/><line x1="1426.1" y1="287.3" x2="1436.9" y2="287.3" stroke="#eeee00"/><line x1="1479.7" y1="287.3" x2="1490.6" y2="287.3" stroke="#0a5ae6"/><line x1="1490.6" y1="287.3" x2="1501.4" y2="287.3" stroke="#eeee00"/><line x1="1546.0" y1="287.3" x2="1556.8" y2="287.3" stroke="#0a5ae6"/><line x1="924.5" y1="287.3" x2="931.7" y2="274.8" stroke="#eeee00"/><line x1="931.7" y1="274.8" x2="939.0" y2="262.2" stroke="#0a5ae6"/><line x1="968.1" y1="287.3" x2="962.6" y2="274.1" stroke="#0a5ae6"/><line x1="962.6" y1="274.1" x2="957.2" y2="261.0" stroke="#eeee00"/><line x1="989.8" y1="287.3" x2="997.0" y2="274.8" stroke="#eeee00"/><line x1="997.0" y1="274.8" x2="1004.2" y2="262.2" stroke="#0a5ae6"/><line x1="1033.4" y1="287.3" x2="1027.9" y2="274.1" stroke="#0a5ae6"/><line x1="1027.9" y1="274.1" x2="1022.5" y2="261.0" stroke="#eeee00"/><line x1="1055.1" y1="287.3" x2="1062.5" y2="274.8" stroke="#eeee00"/><line x1="1062.5" y1="274.8" x2="1069.8" y2="262.2" stroke="#0a5ae6"/><line x1="1099.2" y1="287.3" x2="1093.6" y2="274.1" stroke="#4cbcc6"/><line x1="1093.6" y1="274.1" x2="1088.0" y2="261.0" stroke="#eeee00"/><line x1="1120.9" y1="287.3" x2="1127.6" y2="274.8" stroke="#eeee00"/><line x1="1127.6" y1="274.8" x2="1134.3" y2="262.2" stroke="#4cbcc6"/><line x1="1162.4" y1="287.3" x2="1157.5" y2="274.1" stroke="#4cbcc6"/><line x1="1157.5" y1="274.1" x2="1152.5" y2="261.0" stroke="#eeee00"/><line x1="1184.1" y1="287.3" x2="1190.9" y2="274.8" stroke="#eeee00"/><line x1="1190.9" y1="274.8" x2="1197.7" y2="262.2" stroke="#4cbcc6"/><line x1="1226.0" y1="287.3" x2="1221.0" y2="274.1" stroke="#4cbcc6"/><line x1="1221.0" y1="274.1" x2="1215.9" y2="261.0" stroke="#eeee00"/><line x1="1247.7" y1="287.3" x2="1254.5" y2="274.8" stroke="#eeee00"/><line x1="1254.5" y1="274.8" x2="1261.3" y2="262.2" stroke="#4cbcc6"/><line x1="1289.7" y1="287.3" x2="1284.6" y2="274.1" stroke="#4cbcc6"/><line x1="1284.6" y1="274.1" x2="1279.5" y2="261.0" stroke="#eeee00"/><line x1="1311.4" y1="287.3" x2="1318.1" y2="274.8" stroke="#eeee00"/><line x1="1318.1" y1="274.8" x2="1324.8" y2="262.2" stroke="#4cbcc6"/><line x1="1352.9" y1="287.3" x2="1348.0" y2="274.1" stroke="#4cbcc6"/><line x1="1348.0" y1="274.1" x2="1343.0" y2="261.0" stroke="#eeee00"/><line x1="1374.6" y1="287.3" x2="1381.1" y2="274.8" stroke="#eeee00"/><line x1="1381.1" y1="274.8" x2="1387.6" y2="262.2" stroke="#4cbcc6"/><line x1="1415.2" y1="287.3" x2="1410.5" y2="274.1" stroke="#0a5ae6"/><line x1="1410.5" y1="274.1" x2="1405.8" y2="261.0" stroke="#eeee00"/><line x1="1436.9" y1="287.3" x2="1443.9" y2="274.8" stroke="#eeee00"/><line x1="1443.9" y1="274.8" x2="1451.0" y2="262.2" stroke="#0a5ae6"/><line x1="1479.7" y1="287.3" x2="1474.4" y2="274.1" stroke="#0a5ae6"/><line x1="1474.4" y1="274.1" x2="1469.2" y2="261.0" stroke="#eeee00"/><line x1="1501.4" y1="287.3" x2="1508.9" y2="274.8" stroke="#eeee00"/><line x1="1508.9" y1="274.8" x2="1516.3" y2="262.2" stroke="#0a5ae6"/><line x1="1546.0" y1="287.3" x2="1540.3" y2="274.1" stroke="#0a5ae6"/><line x1="1540.3" y1="274.1" x2="1534.5" y2="261.0" stroke="#eeee00"/><line x1="924.5" y1="287.3" x2="930.0" y2="300.0" stroke="#eeee00"/><line x1="930.0" y1="300.0" x2="935.5" y2="312.6" stroke="#0a5ae6"/><line x1="968.1" y1="287.3" x2="962.6" y2="300.0" stroke="#0a5ae6"/><line x1="962.6" y1="300.0" x2="957.2" y2="312.6" stroke="#eeee00"/><line x1="989.8" y1="287.3" x2="995.3" y2="300.0" stroke="#eeee00"/><line x1="995.3" y1="300.0" x2="1000.8" y2="312.6" stroke="#0a5ae6"/><line x1="1033.4" y1="287.3" x2="1027.9" y2="300.0" stroke="#0a5ae6"/><line x1="1027.9" y1="300.0" x2="1022.5" y2="312.6" stroke="#eeee00"/><line x1="1055.1" y1="287.3" x2="1060.7" y2="300.0" stroke="#eeee00"/><line x1="1060.7" y1="300.0" x2="1066.3" y2="312.6" stroke="#0a5ae6"/><line x1="1099.2" y1="287.3" x2="1093.6" y2="300.0" stroke="#4cbcc6"/><line x1="1093.6" y1="300.0" x2="1088.0" y2="312.6" stroke="#eeee00"/><line x1="1120.9" y1="287.3" x2="1125.9" y2="300.0" stroke="#eeee00"/><line x1="1125.9" y1="300.0" x2="1130.8" y2="312.6" stroke="#4cbcc6"/><line x1="1162.4" y1="287.3" x2="1157.5" y2="300.0" stroke="#4cbcc6"/><line x1="1157.5" y1="300.0" x2="1152.5" y2="312.6" stroke="#eeee00"/><line x1="1184.1" y1="287.3" x2="1189.2" y2="300.0" stroke="#eeee00"/><line x1="1189.2" y1="300.0" x2="1194.2" y2="312.6" stroke="#4cbcc6"/><line x1="1226.0" y1="287.3" x2="1221.0" y2="300.0" stroke="#4cbcc6"/><line x1="1221.0" y1="300.0" x2="1215.9" y2="312.6" stroke="#eeee00"/><line x1="1247.7" y1="287.3" x2="1252.8" y2="300.0" stroke="#eeee00"/><line x1="1252.8" y1="300.0" x2="1257.8" y2="312.6" stroke="#4cbcc6"/><line x1="1289.7" y1="287.3" x2="1284.6" y2="300.0" stroke="#4cbcc6"/><line x1="1284.6" y1="300.0" x2="1279.5" y2="312.6" stroke="#eeee00"/><line x1="1311.4" y1="287.3" x2="1316.4" y2="300.0" stroke="#eeee00"/><line x1="1316.4" y1="300.0" x2="1321.3" y2="312.6" stroke="#4cbcc6"/><line x1="1352.9" y1="287.3" x2="1348.0" y2="300.0" stroke="#4cbcc6"/><line x1="1348.0" y1="300.0" x2="1343.0" y2="312.6" stroke="#eeee00"/><line x1="1374.6" y1="287.3" x2="1379.3" y2="300.0" stroke="#eeee00"/><line x1="1379.3" y1="300.0" x2="1384.1" y2="312.6" stroke="#4cbcc6"/><line x1="1415.2" y1="287.3" x2="1410.5" y2="300.0" stroke="#0a5ae6"/><line x1="1410.5" y1="300.0" x2="1405.8" y2="312.6" stroke="#eeee00"/><line x1="1436.9" y1="287.3" x2="1442.2" y2="300.0" stroke="#eeee00"/><line x1="1442.2" y1="300.0" x2="1447.5" y2="312.6" stroke="#0a5ae6"/><line x1="1479.7" y1="287.3" x2="1474.4" y2="300.0" stroke="#0a5ae6"/><line x1="1474.4" y1="300.0" x2="1469.2" y2="312.6" stroke="#eeee00"/><line x1="1501.4" y1="287.3" x2="1507.1" y2="300.0" stroke="#eeee00"/><line x1="1507.1" y1="300.0" x2="1512.8" y2="312.6" stroke="#0a5ae6"/><line x1="1546.0" y1="287.3" x2="1540.3" y2="300.0" stroke="#0a5ae6"/><line x1="1540.3" y1="300.0" x2="1534.5" y2="312.6" stroke="#eeee00"/><line x1="935.5" y1="312.6" x2="946.3" y2="312.6" stroke="#0a5ae6"/><line x1="946.3" y1="312.6" x2="957.2" y2="312.6" stroke="#eeee00"/><line x1="1000.8" y1="312.6" x2="1011.6" y2="312.6" stroke="#0a5ae6"/><line x1="1011.6" y1="312.6" x2="1022.5" y2="312.6" stroke="#eeee00"/><line x1="1066.3" y1="312.6" x2="1077.2" y2="312.6" stroke="#0a5ae6"/><line x1="1077.2" y1="312.6" x2="1088.0" y2="312.6" stroke="#eeee00"/><line x1="1130.8" y1="312.6" x2="1141.7" y2="312.6" stroke="#4cbcc6"/><line x1="1141.7" y1="312.6" x2="1152.5" y2="312.6" stroke="#eeee00"/><line x1="1194.2" y1="312.6" x2="1205.1" y2="312.6" stroke="#4cbcc6"/><line x1="1205.1" y1="312.6" x2="1215.9" y2="312.6" stroke="#eeee00"/><line x1="1257.8" y1="312.6" x2="1268.7" y2="312.6" stroke="#4cbcc6"/><line x1="1268.7" y1="312.6" x2="1279.5" y2="312.6" stroke="#eeee00"/><line x1="1321.3" y1="312.6" x2="1332.2" y2="312.6" stroke="#4cbcc6"/><line x1="1332.2" y1="312.6" x2="1343.0" y2="312.6" stroke="#eeee00"/><line x1="1384.1" y1="312.6" x2="1394.9" y2="312.6" stroke="#4cbcc6"/><line x1="1394.9" y1="312.6" x2="1405.8" y2="312.6" stroke="#eeee00"/><line x1="1447.5" y1="312.6" x2="1458.3" y2="312.6" stroke="#0a5ae6"/><line x1="1458.3" y1="312.6" x2="1469.2" y2="312.6" stroke="#eeee00"/><line x1="1512.8" y1="312.6" x2="1523.7" y2="312.6" stroke="#0a5ae6"/><line x1="1523.7" y1="312.6" x2="1534.5" y2="312.6" stroke="#eeee00"/><line x1="913.6" y1="339.3" x2="924.5" y2="339.3" stroke="#eeee00"/><line x1="968.1" y1="339.3" x2="979.0" y2="339.3" stroke="#0a5ae6"/><line x1="979.0" y1="339.3" x2="989.8" y2="339.3" stroke="#eeee00"/><line x1="1033.4" y1="339.3" x2="1044.2" y2="339.3" stroke="#0a5ae6"/><line x1="1044.2" y1="339.3" x2="1055.1" y2="339.3" stroke="#eeee00"/><line x1="1099.2" y1="339.3" x2="1110.1" y2="339.3" stroke="#4cbcc6"/><line x1="1110.1" y1="339.3" x2="1120.9" y2="339.3" stroke="#eeee00"/><line x1="1162.4" y1="339.3" x2="1173.2" y2="339.3" stroke="#4cbcc6"/><line x1="1173.2" y1="339.3" x2="1184.1" y2="339.3" stroke="#eeee00"/><line x1="1289.7" y1="339.3" x2="1300.6" y2="339.3" stroke="#4cbcc6"/><line x1="1300.6" y1="339.3" x2="1311.4" y2="339.3" stroke="#eeee00"/><line x1="1352.9" y1="339.3" x2="1363.8" y2="339.3" stroke="#4cbcc6"/><line x1="1363.8" y1="339.3" x2="1374.6" y2="339.3" stroke="#eeee00"/><line x1="1415.2" y1="339.3" x2="1426.1" y2="339.3" stroke="#0a5ae6"/><line x1="1426.1" y1="339.3" x2="1436.9" y2="339.3" stroke="#eeee00"/><line x1="1479.7" y1="339.3" x2="1490.6" y2="339.3" stroke="#0a5ae6"/><line x1="1490.6" y1="339.3" x2="1501.4" y2="339.3" stroke="#eeee00"/><line x1="1546.0" y1="339.3" x2="1556.8" y2="339.3" stroke="#0a5ae6"/><line x1="924.5" y1="339.3" x2="930.0" y2="326.0" stroke="#eeee00"/><line x1="930.0" y1="326.0" x2="935.5" y2="312.6" stroke="#0a5ae6"/><line x1="968.1" y1="339.3" x2="962.6" y2="326.0" stroke="#0a5ae6"/><line x1="962.6" y1="326.0" x2="957.2" y2="312.6" stroke="#eeee00"/><line x1="989.8" y1="339.3" x2="995.3" y2="326.0" stroke="#eeee00"/><line x1="995.3" y1="326.0" x2="1000.8" y2="312.6" stroke="#0a5ae6"/><line x1="1033.4" y1="339.3" x2="1027.9" y2="326.0" stroke="#0a5ae6"/><line x1="1027.9" y1="326.0" x2="1022.5" y2="312.6" stroke="#eeee00"/><line x1="1055.1" y1="339.3" x2="1060.7" y2="326.0" stroke="#eeee00"/><line x1="1060.7" y1="326.0" x2="1066.3" y2="312.6" stroke="#0a5ae6"/><line x1="1099.2" y1="339.3" x2="1093.6" y2="326.0" stroke="#4cbcc6"/><line x1="1093.6" y1="326.0" x2="1088.0" y2="312.6" stroke="#eeee00"/><line x1="1120.9" y1="339.3" x2="1125.9" y2="326.0" stroke="#eeee00"/><line x1="1125.9" y1="326.0" x2="1130.8" y2="312.6" stroke="#4cbcc6"/><line x1="1162.4" y1="339.3" x2="1157.5" y2="326.0" stroke="#4cbcc6"/><line x1="1157.5" y1="326.0" x2="1152.5" y2="312.6" stroke="#eeee00"/><line x1="1184.1" y1="339.3" x2="1189.2" y2="326.0" stroke="#eeee00"/><line x1="1189.2" y1="326.0" x2="1194.2" y2="312.6" stroke="#4cbcc6"/><line x1="1247.7" y1="339.3" x2="1252.8" y2="326.0" stroke="#eeee00"/><line x1="1252.8" y1="326.0" x2="1257.8" y2="312.6" stroke="#4cbcc6"/><line x1="1289.7" y1="339.3" x2="1284.6" y2="326.0" stroke="#4cbcc6"/><line x1="1284.6" y1="326.0" x2="1279.5" y2="312.6" stroke="#eeee00"/><line x1="1311.4" y1="339.3" x2="1316.4" y2="326.0" stroke="#eeee00"/><line x1="1316.4" y1="326.0" x2="1321.3" y2="312.6" stroke="#4cbcc6"/><line x1="1352.9" y1="339.3" x2="1348.0" y2="326.0" stroke="#4cbcc6"/><line x1="1348.0" y1="326.0" x2="1343.0" y2="312.6" stroke="#eeee00"/><line x1="1374.6" y1="339.3" x2="1379.3" y2="326.0" stroke="#eeee00"/><line x1="1379.3" y1="326.0" x2="1384.1" y2="312.6" stroke="#4cbcc6"/><line x1="1415.2" y1="339.3" x2="1410.5" y2="326.0" stroke="#0a5ae6"/><line x1="1410.5" y1="326.0" x2="1405.8" y2="312.6" stroke="#eeee00"/><line x1="1436.9" y1="339.3" x2="1442.2" y2="326.0" stroke="#eeee00"/><line x1="1442.2" y1="326.0" x2="1447.5" y2="312.6" stroke="#0a5ae6"/><line x1="1479.7" y1="339.3" x2="1474.4" y2="326.0" stroke="#0a5ae6"/><line x1="1474.4" y1="326.0" x2="1469.2" y2="312.6" stroke="#eeee00"/><line x1="1501.4" y1="339.3" x2="1507.1" y2="326.0" stroke="#eeee00"/><line x1="1507.1" y1="326.0" x2="1512.8" y2="312.6" stroke="#0a5ae6"/><line x1="1546.0" y1="339.3" x2="1540.3" y2="326.0" stroke="#0a5ae6"/><line x1="1540.3" y1="326.0" x2="1534.5" y2="312.6" stroke="#eeee00"/><line x1="924.5" y1="339.3" x2="930.0" y2="351.6" stroke="#eeee00"/><line x1="930.0" y1="351.6" x2="935.5" y2="364.0" stroke="#0a5ae6"/><line x1="968.1" y1="339.3" x2="962.6" y2="351.6" stroke="#0a5ae6"/><line x1="962.6" y1="351.6" x2="957.2" y2="364.0" stroke="#eeee00"/><line x1="989.8" y1="339.3" x2="995.3" y2="351.6" stroke="#eeee00"/><line x1="995.3" y1="351.6" x2="1000.8" y2="364.0" stroke="#0a5ae6"/><line x1="1033.4" y1="339.3" x2="1027.9" y2="351.6" stroke="#0a5ae6"/><line x1="1027.9" y1="351.6" x2="1022.5" y2="364.0" stroke="#eeee00"/><line x1="1055.1" y1="339.3" x2="1060.7" y2="351.6" stroke="#eeee00"/><line x1="1060.7" y1="351.6" x2="1066.3" y2="364.0" stroke="#0a5ae6"/><line x1="1099.2" y1="339.3" x2="1093.6" y2="351.6" stroke="#4cbcc6"/><line x1="1093.6" y1="351.6" x2="1088.0" y2="364.0" stroke="#eeee00"/><line x1="1120.9" y1="339.3" x2="1125.9" y2="351.6" stroke="#eeee00"/><line x1="1125.9" y1="351.6" x2="1130.8" y2="364.0" stroke="#4cbcc6"/><line x1="1162.4" y1="339.3" x2="1157.5" y2="351.6" stroke="#4cbcc6"/><line x1="1157.5" y1="351.6" x2="1152.5" y2="364.0" stroke="#eeee00"/><line x1="1184.1" y1="339.3" x2="1189.2" y2="351.6" stroke="#eeee00"/><line x1="1189.2" y1="351.6" x2="1194.2" y2="364.0" stroke="#4cbcc6"/><line x1="1247.7" y1="339.3" x2="1252.8" y2="351.6" stroke="#eeee00"/><line x1="1252.8" y1="351.6" x2="1257.8" y2="364.0" stroke="#4cbcc6"/><line x1="1289.7" y1="339.3" x2="1284.6" y2="351.6" stroke="#4cbcc6"/><line x1="1284.6" y1="351.6" x2="1279.5" y2="364.0" stroke="#eeee00"/><line x1="1311.4" y1="339.3" x2="1316.4" y2="351.6" stroke="#eeee00"/><line x1="1316.4" y1="351.6" x2="1321.3" y2="364.0" stroke="#4cbcc6"/><line x1="1352.9" y1="339.3" x2="1348.0" y2="351.6" stroke="#4cbcc6"/><line x1="1348.0" y1="351.6" x2="1343.0" y2="364.0" stroke="#eeee00"/><line x1="1374.6" y1="339.3" x2="1379.3" y2="351.6" stroke="#eeee00"/><line x1="1379.3" y1="351.6" x2="1384.1" y2="364.0" stroke="#4cbcc6"/><line x1="1415.2" y1="339.3" x2="1410.5" y2="351.6" stroke="#0a5ae6"/><line x1="1410.5" y1="351.6" x2="1405.8" y2="364.0" stroke="#eeee00"/><line x1="1436.9" y1="339.3" x2="1442.2" y2="351.6" stroke="#eeee00"/><line x1="1442.2" y1="351.6" x2="1447.5" y2="364.0" stroke="#0a5ae6"/><line x1="1479.7" y1="339.3" x2="1474.4" y2="351.6" stroke="#0a5ae6"/><line x1="1474.4" y1="351.6" x2="1469.2" y2="364.0" stroke="#eeee00"/><line x1="1501.4" y1="339.3" x2="1507.1" y2="351.6" stroke="#eeee00"/><line x1="1507.1" y1="351.6" x2="1512.8" y2="364.0" stroke="#0a5ae6"/><line x1="1546.0" y1="339.3" x2="1540.3" y2="351.6" stroke="#0a5ae6"/><line x1="1540.3" y1="351.6" x2="1534.5" y2="364.0" stroke="#eeee00"/><line x1="935.5" y1="364.0" x2="946.3" y2="364.0" stroke="#0a5ae6"/><line x1="946.3" y1="364.0" x2="957.2" y2="364.0" stroke="#eeee00"/><line x1="1000.8" y1="364.0" x2="1011.6" y2="364.0" stroke="#0a5ae6"/><line x1="1011.6" y1="364.0" x2="1022.5" y2="364.0" stroke="#eeee00"/><line x1="1066.3" y1="364.0" x2="1077.2" y2="364.0" stroke="#0a5ae6"/><line x1="1077.2" y1="364.0" x2="1088.0" y2="364.0" stroke="#eeee00"/><line x1="1130.8" y1="364.0" x2="1141.7" y2="364.0" stroke="#4cbcc6"/><line x1="1141.7" y1="364.0" x2="1152.5" y2="364.0" stroke="#eeee00"/><line x1="1194.2" y1="364.0" x2="1205.1" y2="364.0" stroke="#4cbcc6"/><line x1="1205.1" y1="364.0" x2="1215.9" y2="364.0" stroke="#eeee00"/><line x1="1257.8" y1="364.0" x2="1268.7" y2="364.0" stroke="#4cbcc6"/><line x1="1268.7" y1="364.0" x2="1279.5" y2="364.0" stroke="#eeee00"/><line x1="1321.3" y1="364.0" x2="1332.2" y2="364.0" stroke="#4cbcc6"/><line x1="1332.2" y1="364.0" x2="1343.0" y2="364.0" stroke="#eeee00"/><line x1="1384.1" y1="364.0" x2="1394.9" y2="364.0" stroke="#4cbcc6"/><line x1="1394.9" y1="364.0" x2="1405.8" y2="364.0" stroke="#eeee00"/><line x1="1447.5" y1="364.0" x2="1458.3" y2="364.0" stroke="#0a5ae6"/><line x1="1458.3" y1="364.0" x2="1469.2" y2="364.0" stroke="#eeee00"/><line x1="1512.8" y1="364.0" x2="1523.7" y2="364.0" stroke="#0a5ae6"/><line x1="1523.7" y1="364.0" x2="1534.5" y2="364.0" stroke="#eeee00"/><line x1="913.6" y1="391.0" x2="924.5" y2="391.0" stroke="#eeee00"/><line x1="968.1" y1="391.0" x2="979.0" y2="391.0" stroke="#0a5ae6"/><line x1="979.0" y1="391.0" x2="989.8" y2="391.0" stroke="#eeee00"/><line x1="1033.4" y1="391.0" x2="1044.2" y2="391.0" stroke="#0a5ae6"/><line x1="1044.2" y1="391.0" x2="1055.1" y2="391.0" stroke="#eeee00"/><line x1="1099.2" y1="391.0" x2="1110.1" y2="391.0" stroke="#4cbcc6"/><line x1="1110.1" y1="391.0" x2="1120.9" y2="391.0" stroke="#eeee00"/><line x1="1162.4" y1="391.0" x2="1173.2" y2="391.0" stroke="#4cbcc6"/><line x1="1173.2" y1="391.0" x2="1184.1" y2="391.0" stroke="#eeee00"/><line x1="1226.0" y1="391.0" x2="1236.8" y2="391.0" stroke="#4cbcc6"/><line x1="1236.8" y1="391.0" x2="1247.7" y2="391.0" stroke="#eeee00"/><line x1="1289.7" y1="391.0" x2="1300.6" y2="391.0" stroke="#4cbcc6"/><line x1="1300.6" y1="391.0" x2="1311.4" y2="391.0" stroke="#eeee00"/><line x1="1352.9" y1="391.0" x2="1363.8" y2="391.0" stroke="#4cbcc6"/><line x1="1363.8" y1="391.0" x2="1374.6" y2="391.0" stroke="#eeee00"/><line x1="1415.2" y1="391.0" x2="1426.1" y2="391.0" stroke="#0a5ae6"/><line x1="1426.1" y1="391.0" x2="1436.9" y2="391.0" stroke="#eeee00"/><line x1="1479.7" y1="391.0" x2="1490.6" y2="391.0" stroke="#0a5ae6"/><line x1="1490.6" y1="391.0" x2="1501.4" y2="391.0" stroke="#eeee00"/><line x1="1546.0" y1="391.0" x2="1556.8" y2="391.0" stroke="#0a5ae6"/><line x1="924.5" y1="391.0" x2="930.0" y2="377.5" stroke="#eeee00"/><line x1="930.0" y1="377.5" x2="935.5" y2="364.0" stroke="#0a5ae6"/><line x1="968.1" y1="391.0" x2="962.6" y2="377.5" stroke="#0a5ae6"/><line x1="962.6" y1="377.5" x2="957.2" y2="364.0" stroke="#eeee00"/><line x1="989.8" y1="391.0" x2="995.3" y2="377.5" stroke="#eeee00"/><line x1="995.3" y1="377.5" x2="1000.8" y2="364.0" stroke="#0a5ae6"/><line x1="1033.4" y1="391.0" x2="1027.9" y2="377.5" stroke="#0a5ae6"/><line x1="1027.9" y1="377.5" x2="1022.5" y2="364.0" stroke="#eeee00"/><line x1="1055.1" y1="391.0" x2="1060.7" y2="377.5" stroke="#eeee00"/><line x1="1060.7" y1="377.5" x2="1066.3" y2="364.0" stroke="#0a5ae6"/><line x1="1099.2" y1="391.0" x2="1093.6" y2="377.5" stroke="#4cbcc6"/><line x1="1093.6" y1="377.5" x2="1088.0" y2="364.0" stroke="#eeee00"/><line x1="1120.9" y1="391.0" x2="1125.9" y2="377.5" stroke="#eeee00"/><line x1="1125.9" y1="377.5" x2="1130.8" y2="364.0" stroke="#4cbcc6"/><line x1="1162.4" y1="391.0" x2="1157.5" y2="377.5" stroke="#4cbcc6"/><line x1="1157.5" y1="377.5" x2="1152.5" y2="364.0" stroke="#eeee00"/><line x1="1184.1" y1="391.0" x2="1189.2" y2="377.5" stroke="#eeee00"/><line x1="1189.2" y1="377.5" x2="1194.2" y2="364.0" stroke="#4cbcc6"/><line x1="1226.0" y1="391.0" x2="1221.0" y2="377.5" stroke="#4cbcc6"/><line x1="1221.0" y1="377.5" x2="1215.9" y2="364.0" stroke="#eeee00"/><line x1="1247.7" y1="391.0" x2="1252.8" y2="377.5" stroke="#eeee00"/><line x1="1252.8" y1="377.5" x2="1257.8" y2="364.0" stroke="#4cbcc6"/><line x1="1289.7" y1="391.0" x2="1284.6" y2="377.5" stroke="#4cbcc6"/><line x1="1284.6" y1="377.5" x2="1279.5" y2="364.0" stroke="#eeee00"/><line x1="1311.4" y1="391.0" x2="1316.4" y2="377.5" stroke="#eeee00"/><line x1="1316.4" y1="377.5" x2="1321.3" y2="364.0" stroke="#4cbcc6"/><line x1="1352.9" y1="391.0" x2="1348.0" y2="377.5" stroke="#4cbcc6"/><line x1="1348.0" y1="377.5" x2="1343.0" y2="364.0" stroke="#eeee00"/><line x1="1374.6" y1="391.0" x2="1379.3" y2="377.5" stroke="#eeee00"/><line x1="1379.3" y1="377.5" x2="1384.1" y2="364.0" stroke="#4cbcc6"/><line x1="1415.2" y1="391.0" x2="1410.5" y2="377.5" stroke="#0a5ae6"/><line x1="1410.5" y1="377.5" x2="1405.8" y2="364.0" stroke="#eeee00"/><line x1="1436.9" y1="391.0" x2="1442.2" y2="377.5" stroke="#eeee00"/><line x1="1442.2" y1="377.5" x2="1447.5" y2="364.0" stroke="#0a5ae6"/><line x1="1479.7" y1="391.0" x2="1474.4" y2="377.5" stroke="#0a5ae6"/><line x1="1474.4" y1="377.5" x2="1469.2" y2="364.0" stroke="#eeee00"/><line x1="1501.4" y1="391.0" x2="1507.1" y2="377.5" stroke="#eeee00"/><line x1="1507.1" y1="377.5" x2="1512.8" y2="364.0" stroke="#0a5ae6"/><line x1="1546.0" y1="391.0" x2="1540.3" y2="377.5" stroke="#0a5ae6"/><line x1="1540.3" y1="377.5" x2="1534.5" y2="364.0" stroke="#eeee00"/><line x1="924.5" y1="391.0" x2="930.0" y2="403.5" stroke="#eeee00"/><line x1="930.0" y1="403.5" x2="935.5" y2="416.0" stroke="#0a5ae6"/><line x1="968.1" y1="391.0" x2="962.6" y2="403.5" stroke="#0a5ae6"/><line x1="962.6" y1="403.5" x2="957.2" y2="416.0" stroke="#eeee00"/><line x1="989.8" y1="391.0" x2="995.3" y2="403.5" stroke="#eeee00"/><line x1="995.3" y1="403.5" x2="1000.8" y2="416.0" stroke="#0a5ae6"/><line x1="1033.4" y1="391.0" x2="1027.9" y2="403.5" stroke="#0a5ae6"/><line x1="1027.9" y1="403.5" x2="1022.5" y2="416.0" stroke="#eeee00"/><line x1="1055.1" y1="391.0" x2="1060.7" y2="403.5" stroke="#eeee00"/><line x1="1060.7" y1="403.5" x2="1066.3" y2="416.0" stroke="#0a5ae6"/><line x1="1099.2" y1="391.0" x2="1093.6" y2="403.5" stroke="#4cbcc6"/><line x1="1093.6" y1="403.5" x2="1088.0" y2="416.0" stroke="#eeee00"/><line x1="1120.9" y1="391.0" x2="1125.9" y2="403.5" stroke="#eeee00"/><line x1="1125.9" y1="403.5" x2="1130.8" y2="416.0" stroke="#4cbcc6"/><line x1="1162.4" y1="391.0" x2="1157.5" y2="403.5" stroke="#4cbcc6"/><line x1="1157.5" y1="403.5" x2="1152.5" y2="416.0" stroke="#eeee00"/><line x1="1184.1" y1="391.0" x2="1189.2" y2="403.5" stroke="#eeee00"/><line x1="1189.2" y1="403.5" x2="1194.2" y2="416.0" stroke="#4cbcc6"/><line x1="1226.0" y1="391.0" x2="1221.0" y2="403.5" stroke="#4cbcc6"/><line x1="1221.0" y1="403.5" x2="1215.9" y2="416.0" stroke="#eeee00"/><line x1="1247.7" y1="391.0" x2="1252.8" y2="403.5" stroke="#eeee00"/><line x1="1252.8" y1="403.5" x2="1257.8" y2="416.0" stroke="#4cbcc6"/><line x1="1289.7" y1="391.0" x2="1284.6" y2="403.5" stroke="#4cbcc6"/><line x1="1284.6" y1="403.5" x2="1279.5" y2="416.0" stroke="#eeee00"/><line x1="1311.4" y1="391.0" x2="1316.4" y2="403.5" stroke="#eeee00"/><line x1="1316.4" y1="403.5" x2="1321.3" y2="416.0" stroke="#4cbcc6"/><line x1="1352.9" y1="391.0" x2="1348.0" y2="403.5" stroke="#4cbcc6"/><line x1="1348.0" y1="403.5" x2="1343.0" y2="416.0" stroke="#eeee00"/><line x1="1374.6" y1="391.0" x2="1379.3" y2="403.5" stroke="#eeee00"/><line x1="1379.3" y1="403.5" x2="1384.1" y2="416.0" stroke="#4cbcc6"/><line x1="1415.2" y1="391.0" x2="1410.5" y2="403.5" stroke="#0a5ae6"/><line x1="1410.5" y1="403.5" x2="1405.8" y2="416.0" stroke="#eeee00"/><line x1="1436.9" y1="391.0" x2="1442.2" y2="403.5" stroke="#eeee00"/><line x1="1442.2" y1="403.5" x2="1447.5" y2="416.0" stroke="#0a5ae6"/><line x1="1479.7" y1="391.0" x2="1474.4" y2="403.5" stroke="#0a5ae6"/><line x1="1474.4" y1="403.5" x2="1469.2" y2="416.0" stroke="#eeee00"/><line x1="1501.4" y1="391.0" x2="1507.1" y2="403.5" stroke="#eeee00"/><line x1="1507.1" y1="403.5" x2="1512.8" y2="416.0" stroke="#0a5ae6"/><line x1="1546.0" y1="391.0" x2="1540.3" y2="403.5" stroke="#0a5ae6"/><line x1="1540.3" y1="403.5" x2="1534.5" y2="416.0" stroke="#eeee00"/><line x1="935.5" y1="416.0" x2="946.3" y2="416.0" stroke="#0a5ae6"/><line x1="946.3" y1="416.0" x2="957.2" y2="416.0" stroke="#eeee00"/><line x1="1000.8" y1="416.0" x2="1011.6" y2="416.0" stroke="#0a5ae6"/><line x1="1011.6" y1="416.0" x2="1022.5" y2="416.0" stroke="#eeee00"/><line x1="1066.3" y1="416.0" x2="1077.2" y2="416.0" stroke="#0a5ae6"/><line x1="1077.2" y1="416.0" x2="1088.0" y2="416.0" stroke="#eeee00"/><line x1="1130.8" y1="416.0" x2="1141.7" y2="416.0" stroke="#4cbcc6"/><line x1="1141.7" y1="416.0" x2="1152.5" y2="416.0" stroke="#eeee00"/><line x1="1194.2" y1="416.0" x2="1205.1" y2="416.0" stroke="#4cbcc6"/><line x1="1205.1" y1="416.0" x2="1215.9" y2="416.0" stroke="#eeee00"/><line x1="1257.8" y1="416.0" x2="1268.7" y2="416.0" stroke="#4cbcc6"/><line x1="1268.7" y1="416.0" x2="1279.5" y2="416.0" stroke="#eeee00"/><line x1="1321.3" y1="416.0" x2="1332.2" y2="416.0" stroke="#4cbcc6"/><line x1="1332.2" y1="416.0" x2="1343.0" y2="416.0" stroke="#eeee00"/><line x1="1384.1" y1="416.0" x2="1394.9" y2="416.0" stroke="#4cbcc6"/><line x1="1394.9" y1="416.0" x2="1405.8" y2="416.0" stroke="#eeee00"/><line x1="1447.5" y1="416.0" x2="1458.3" y2="416.0" stroke="#0a5ae6"/><line x1="1458.3" y1="416.0" x2="1469.2" y2="416.0" stroke="#eeee00"/><line x1="1512.8" y1="416.0" x2="1523.7" y2="416.0" stroke="#0a5ae6"/><line x1="1523.7" y1="416.0" x2="1534.5" y2="416.0" stroke="#eeee00"/><line x1="915.9" y1="441.0" x2="924.5" y2="441.0" stroke="#eeee00"/><line x1="972.6" y1="441.0" x2="981.2" y2="441.0" stroke="#0a5ae6"/><line x1="981.2" y1="441.0" x2="989.8" y2="441.0" stroke="#eeee00"/><line x1="1037.9" y1="441.0" x2="1046.5" y2="441.0" stroke="#0a5ae6"/><line x1="1046.5" y1="441.0" x2="1055.1" y2="441.0" stroke="#eeee00"/><line x1="1101.7" y1="441.0" x2="1111.3" y2="441.0" stroke="#4cbcc6"/><line x1="1111.3" y1="441.0" x2="1120.9" y2="441.0" stroke="#eeee00"/><line x1="1164.9" y1="441.0" x2="1174.5" y2="441.0" stroke="#4cbcc6"/><line x1="1174.5" y1="441.0" x2="1184.1" y2="441.0" stroke="#eeee00"/><line x1="1228.5" y1="441.0" x2="1238.1" y2="441.0" stroke="#4cbcc6"/><line x1="1238.1" y1="441.0" x2="1247.7" y2="441.0" stroke="#eeee00"/><line x1="1292.2" y1="441.0" x2="1301.8" y2="441.0" stroke="#4cbcc6"/><line x1="1301.8" y1="441.0" x2="1311.4" y2="441.0" stroke="#eeee00"/><line x1="1355.4" y1="441.0" x2="1365.0" y2="441.0" stroke="#4cbcc6"/><line x1="1365.0" y1="441.0" x2="1374.6" y2="441.0" stroke="#eeee00"/><line x1="1419.7" y1="441.0" x2="1428.3" y2="441.0" stroke="#0a5ae6"/><line x1="1428.3" y1="441.0" x2="1436.9" y2="441.0" stroke="#eeee00"/><line x1="1484.2" y1="441.0" x2="1492.8" y2="441.0" stroke="#0a5ae6"/><line x1="1492.8" y1="441.0" x2="1501.4" y2="441.0" stroke="#eeee00"/><line x1="1550.5" y1="441.0" x2="1559.1" y2="441.0" stroke="#0a5ae6"/><line x1="924.5" y1="441.0" x2="930.0" y2="428.5" stroke="#eeee00"/><line x1="930.0" y1="428.5" x2="935.5" y2="416.0" stroke="#0a5ae6"/><line x1="972.6" y1="441.0" x2="964.9" y2="428.5" stroke="#0a5ae6"/><line x1="964.9" y1="428.5" x2="957.2" y2="416.0" stroke="#eeee00"/><line x1="989.8" y1="441.0" x2="995.3" y2="428.5" stroke="#eeee00"/><line x1="995.3" y1="428.5" x2="1000.8" y2="416.0" stroke="#0a5ae6"/><line x1="1037.9" y1="441.0" x2="1030.2" y2="428.5" stroke="#0a5ae6"/><line x1="1030.2" y1="428.5" x2="1022.5" y2="416.0" stroke="#eeee00"/><line x1="1055.1" y1="441.0" x2="1060.7" y2="428.5" stroke="#eeee00"/><line x1="1060.7" y1="428.5" x2="1066.3" y2="416.0" stroke="#0a5ae6"/><line x1="1101.7" y1="441.0" x2="1094.9" y2="428.5" stroke="#4cbcc6"/><line x1="1094.9" y1="428.5" x2="1088.0" y2="416.0" stroke="#eeee00"/><line x1="1120.9" y1="441.0" x2="1125.9" y2="428.5" stroke="#eeee00"/><line x1="1125.9" y1="428.5" x2="1130.8" y2="416.0" stroke="#4cbcc6"/><line x1="1164.9" y1="441.0" x2="1158.7" y2="428.5" stroke="#4cbcc6"/><line x1="1158.7" y1="428.5" x2="1152.5" y2="416.0" stroke="#eeee00"/><line x1="1184.1" y1="441.0" x2="1189.2" y2="428.5" stroke="#eeee00"/><line x1="1189.2" y1="428.5" x2="1194.2" y2="416.0" stroke="#4cbcc6"/><line x1="1228.5" y1="441.0" x2="1222.2" y2="428.5" stroke="#4cbcc6"/><line x1="1222.2" y1="428.5" x2="1215.9" y2="416.0" stroke="#eeee00"/><line x1="1247.7" y1="441.0" x2="1252.8" y2="428.5" stroke="#eeee00"/><line x1="1252.8" y1="428.5" x2="1257.8" y2="416.0" stroke="#4cbcc6"/><line x1="1292.2" y1="441.0" x2="1285.9" y2="428.5" stroke="#4cbcc6"/><line x1="1285.9" y1="428.5" x2="1279.5" y2="416.0" stroke="#eeee00"/><line x1="1311.4" y1="441.0" x2="1316.4" y2="428.5" stroke="#eeee00"/><line x1="1316.4" y1="428.5" x2="1321.3" y2="416.0" stroke="#4cbcc6"/><line x1="1355.4" y1="441.0" x2="1349.2" y2="428.5" stroke="#4cbcc6"/><line x1="1349.2" y1="428.5" x2="1343.0" y2="416.0" stroke="#eeee00"/><line x1="1374.6" y1="441.0" x2="1379.3" y2="428.5" stroke="#eeee00"/><line x1="1379.3" y1="428.5" x2="1384.1" y2="416.0" stroke="#4cbcc6"/><line x1="1419.7" y1="441.0" x2="1412.7" y2="428.5" stroke="#0a5ae6"/><line x1="1412.7" y1="428.5" x2="1405.8" y2="416.0" stroke="#eeee00"/><line x1="1436.9" y1="441.0" x2="1442.2" y2="428.5" stroke="#eeee00"/><line x1="1442.2" y1="428.5" x2="1447.5" y2="416.0" stroke="#0a5ae6"/><line x1="1484.2" y1="441.0" x2="1476.7" y2="428.5" stroke="#0a5ae6"/><line x1="1476.7" y1="428.5" x2="1469.2" y2="416.0" stroke="#eeee00"/><line x1="1501.4" y1="441.0" x2="1507.1" y2="428.5" stroke="#eeee00"/><line x1="1507.1" y1="428.5" x2="1512.8" y2="416.0" stroke="#0a5ae6"/><line x1="1550.5" y1="441.0" x2="1542.5" y2="428.5" stroke="#0a5ae6"/><line x1="1542.5" y1="428.5" x2="1534.5" y2="416.0" stroke="#eeee00"/><line x1="939.0" y1="262.2" x2="953.5" y2="274.8" stroke="#0a5ae6"/><line x1="953.5" y1="274.8" x2="968.1" y2="287.3" stroke="#0a5ae6"/><line x1="1004.2" y1="262.2" x2="1018.8" y2="274.8" stroke="#0a5ae6"/><line x1="1018.8" y1="274.8" x2="1033.4" y2="287.3" stroke="#0a5ae6"/><line x1="1387.6" y1="262.2" x2="1401.4" y2="274.8" stroke="#4cbcc6"/><line x1="1401.4" y1="274.8" x2="1415.2" y2="287.3" stroke="#0a5ae6"/><line x1="1451.0" y1="262.2" x2="1465.3" y2="274.8" stroke="#0a5ae6"/><line x1="1465.3" y1="274.8" x2="1479.7" y2="287.3" stroke="#0a5ae6"/><line x1="1516.3" y1="262.2" x2="1531.2" y2="274.8" stroke="#0a5ae6"/><line x1="1531.2" y1="274.8" x2="1546.0" y2="287.3" stroke="#0a5ae6"/><line x1="921.4" y1="428.5" x2="935.5" y2="416.0" stroke="#0a5ae6"/><line x1="972.6" y1="441.0" x2="986.7" y2="428.5" stroke="#0a5ae6"/><line x1="986.7" y1="428.5" x2="1000.8" y2="416.0" stroke="#0a5ae6"/><line x1="1037.9" y1="441.0" x2="1052.1" y2="428.5" stroke="#0a5ae6"/><line x1="1052.1" y1="428.5" x2="1066.3" y2="416.0" stroke="#0a5ae6"/><line x1="1419.7" y1="441.0" x2="1433.6" y2="428.5" stroke="#0a5ae6"/><line x1="1433.6" y1="428.5" x2="1447.5" y2="416.0" stroke="#0a5ae6"/><line x1="1484.2" y1="441.0" x2="1498.5" y2="428.5" stroke="#0a5ae6"/><line x1="1498.5" y1="428.5" x2="1512.8" y2="416.0" stroke="#0a5ae6"/><line x1="1550.5" y1="441.0" x2="1564.8" y2="428.5" stroke="#0a5ae6"/></g><ellipse cx="939.0" cy="262.2" rx="5.5" ry="7.2" fill="url(#gMb)"/><ellipse cx="957.2" cy="261.0" rx="5.7" ry="7.3" fill="url(#gS)"/><ellipse cx="1004.2" cy="262.2" rx="5.5" ry="7.2" fill="url(#gMb)"/><ellipse cx="1022.5" cy="261.0" rx="5.7" ry="7.3" fill="url(#gS)"/><ellipse cx="1069.8" cy="262.2" rx="5.5" ry="7.2" fill="url(#gMb)"/><ellipse cx="1088.0" cy="261.0" rx="5.7" ry="7.3" fill="url(#gS)"/><ellipse cx="1134.3" cy="262.2" rx="5.5" ry="7.0" fill="url(#gMc)"/><ellipse cx="1152.5" cy="261.0" rx="5.7" ry="7.3" fill="url(#gS)"/><ellipse cx="1197.7" cy="262.2" rx="5.5" ry="7.0" fill="url(#gMc)"/><ellipse cx="1215.9" cy="261.0" rx="5.7" ry="7.3" fill="url(#gS)"/><ellipse cx="1261.3" cy="262.2" rx="5.5" ry="7.0" fill="url(#gMc)"/><ellipse cx="1279.5" cy="261.0" rx="5.7" ry="7.3" fill="url(#gS)"/><ellipse cx="1324.8" cy="262.2" rx="5.5" ry="7.0" fill="url(#gMc)"/><ellipse cx="1343.0" cy="261.0" rx="5.7" ry="7.3" fill="url(#gS)"/><ellipse cx="1387.6" cy="262.2" rx="5.5" ry="7.0" fill="url(#gMc)"/><ellipse cx="1405.8" cy="261.0" rx="5.7" ry="7.3" fill="url(#gS)"/><ellipse cx="1451.0" cy="262.2" rx="5.5" ry="7.2" fill="url(#gMb)"/><ellipse cx="1469.2" cy="261.0" rx="5.7" ry="7.3" fill="url(#gS)"/><ellipse cx="1516.3" cy="262.2" rx="5.5" ry="7.2" fill="url(#gMb)"/><ellipse cx="1534.5" cy="261.0" rx="5.7" ry="7.3" fill="url(#gS)"/><ellipse cx="924.5" cy="287.3" rx="5.7" ry="7.3" fill="url(#gS)"/><ellipse cx="968.1" cy="287.3" rx="5.5" ry="7.2" fill="url(#gMb)"/><ellipse cx="989.8" cy="287.3" rx="5.7" ry="7.3" fill="url(#gS)"/><ellipse cx="1033.4" cy="287.3" rx="5.5" ry="7.2" fill="url(#gMb)"/><ellipse cx="1055.1" cy="287.3" rx="5.7" ry="7.3" fill="url(#gS)"/><ellipse cx="1099.2" cy="287.3" rx="5.5" ry="7.0" fill="url(#gMc)"/><ellipse cx="1120.9" cy="287.3" rx="5.7" ry="7.3" fill="url(#gS)"/><ellipse cx="1162.4" cy="287.3" rx="5.5" ry="7.0" fill="url(#gMc)"/><ellipse cx="1184.1" cy="287.3" rx="5.7" ry="7.3" fill="url(#gS)"/><ellipse cx="1226.0" cy="287.3" rx="5.5" ry="7.0" fill="url(#gMc)"/><ellipse cx="1247.7" cy="287.3" rx="5.7" ry="7.3" fill="url(#gS)"/><ellipse cx="1289.7" cy="287.3" rx="5.5" ry="7.0" fill="url(#gMc)"/><ellipse cx="1311.4" cy="287.3" rx="5.7" ry="7.3" fill="url(#gS)"/><ellipse cx="1352.9" cy="287.3" rx="5.5" ry="7.0" fill="url(#gMc)"/><ellipse cx="1374.6" cy="287.3" rx="5.7" ry="7.3" fill="url(#gS)"/><ellipse cx="1415.2" cy="287.3" rx="5.5" ry="7.2" fill="url(#gMb)"/><ellipse cx="1436.9" cy="287.3" rx="5.7" ry="7.3" fill="url(#gS)"/><ellipse cx="1479.7" cy="287.3" rx="5.5" ry="7.2" fill="url(#gMb)"/><ellipse cx="1501.4" cy="287.3" rx="5.7" ry="7.3" fill="url(#gS)"/><ellipse cx="1546.0" cy="287.3" rx="5.5" ry="7.2" fill="url(#gMb)"/><ellipse cx="935.5" cy="312.6" rx="5.5" ry="7.2" fill="url(#gMb)"/><ellipse cx="957.2" cy="312.6" rx="5.7" ry="7.3" fill="url(#gS)"/><ellipse cx="1000.8" cy="312.6" rx="5.5" ry="7.2" fill="url(#gMb)"/><ellipse cx="1022.5" cy="312.6" rx="5.7" ry="7.3" fill="url(#gS)"/><ellipse cx="1066.3" cy="312.6" rx="5.5" ry="7.2" fill="url(#gMb)"/><ellipse cx="1088.0" cy="312.6" rx="5.7" ry="7.3" fill="url(#gS)"/><ellipse cx="1130.8" cy="312.6" rx="5.5" ry="7.0" fill="url(#gMc)"/><ellipse cx="1152.5" cy="312.6" rx="5.7" ry="7.3" fill="url(#gS)"/><ellipse cx="1194.2" cy="312.6" rx="5.5" ry="7.0" fill="url(#gMc)"/><ellipse cx="1215.9" cy="312.6" rx="5.7" ry="7.3" fill="url(#gS)"/><ellipse cx="1257.8" cy="312.6" rx="5.5" ry="7.0" fill="url(#gMc)"/><ellipse cx="1279.5" cy="312.6" rx="5.7" ry="7.3" fill="url(#gS)"/><ellipse cx="1321.3" cy="312.6" rx="5.5" ry="7.0" fill="url(#gMc)"/><ellipse cx="1343.0" cy="312.6" rx="5.7" ry="7.3" fill="url(#gS)"/><ellipse cx="1384.1" cy="312.6" rx="5.5" ry="7.0" fill="url(#gMc)"/><ellipse cx="1405.8" cy="312.6" rx="5.7" ry="7.3" fill="url(#gS)"/><ellipse cx="1447.5" cy="312.6" rx="5.5" ry="7.2" fill="url(#gMb)"/><ellipse cx="1469.2" cy="312.6" rx="5.7" ry="7.3" fill="url(#gS)"/><ellipse cx="1512.8" cy="312.6" rx="5.5" ry="7.2" fill="url(#gMb)"/><ellipse cx="1534.5" cy="312.6" rx="5.7" ry="7.3" fill="url(#gS)"/><ellipse cx="924.5" cy="339.3" rx="5.7" ry="7.3" fill="url(#gS)"/><ellipse cx="968.1" cy="339.3" rx="5.5" ry="7.2" fill="url(#gMb)"/><ellipse cx="989.8" cy="339.3" rx="5.7" ry="7.3" fill="url(#gS)"/><ellipse cx="1033.4" cy="339.3" rx="5.5" ry="7.2" fill="url(#gMb)"/><ellipse cx="1055.1" cy="339.3" rx="5.7" ry="7.3" fill="url(#gS)"/><ellipse cx="1099.2" cy="339.3" rx="5.5" ry="7.0" fill="url(#gMc)"/><ellipse cx="1120.9" cy="339.3" rx="5.7" ry="7.3" fill="url(#gS)"/><ellipse cx="1162.4" cy="339.3" rx="5.5" ry="7.0" fill="url(#gMc)"/><ellipse cx="1184.1" cy="339.3" rx="5.7" ry="7.3" fill="url(#gS)"/><ellipse cx="1247.7" cy="339.3" rx="5.7" ry="7.3" fill="url(#gS)"/><ellipse cx="1289.7" cy="339.3" rx="5.5" ry="7.0" fill="url(#gMc)"/><ellipse cx="1311.4" cy="339.3" rx="5.7" ry="7.3" fill="url(#gS)"/><ellipse cx="1352.9" cy="339.3" rx="5.5" ry="7.0" fill="url(#gMc)"/><ellipse cx="1374.6" cy="339.3" rx="5.7" ry="7.3" fill="url(#gS)"/><ellipse cx="1415.2" cy="339.3" rx="5.5" ry="7.2" fill="url(#gMb)"/><ellipse cx="1436.9" cy="339.3" rx="5.7" ry="7.3" fill="url(#gS)"/><ellipse cx="1479.7" cy="339.3" rx="5.5" ry="7.2" fill="url(#gMb)"/><ellipse cx="1501.4" cy="339.3" rx="5.7" ry="7.3" fill="url(#gS)"/><ellipse cx="1546.0" cy="339.3" rx="5.5" ry="7.2" fill="url(#gMb)"/><ellipse cx="935.5" cy="364.0" rx="5.5" ry="7.2" fill="url(#gMb)"/><ellipse cx="957.2" cy="364.0" rx="5.7" ry="7.3" fill="url(#gS)"/><ellipse cx="1000.8" cy="364.0" rx="5.5" ry="7.2" fill="url(#gMb)"/><ellipse cx="1022.5" cy="364.0" rx="5.7" ry="7.3" fill="url(#gS)"/><ellipse cx="1066.3" cy="364.0" rx="5.5" ry="7.2" fill="url(#gMb)"/><ellipse cx="1088.0" cy="364.0" rx="5.7" ry="7.3" fill="url(#gS)"/><ellipse cx="1130.8" cy="364.0" rx="5.5" ry="7.0" fill="url(#gMc)"/><ellipse cx="1152.5" cy="364.0" rx="5.7" ry="7.3" fill="url(#gS)"/><ellipse cx="1194.2" cy="364.0" rx="5.5" ry="7.0" fill="url(#gMc)"/><ellipse cx="1215.9" cy="364.0" rx="5.7" ry="7.3" fill="url(#gS)"/><ellipse cx="1257.8" cy="364.0" rx="5.5" ry="7.0" fill="url(#gMc)"/><ellipse cx="1279.5" cy="364.0" rx="5.7" ry="7.3" fill="url(#gS)"/><ellipse cx="1321.3" cy="364.0" rx="5.5" ry="7.0" fill="url(#gMc)"/><ellipse cx="1343.0" cy="364.0" rx="5.7" ry="7.3" fill="url(#gS)"/><ellipse cx="1384.1" cy="364.0" rx="5.5" ry="7.0" fill="url(#gMc)"/><ellipse cx="1405.8" cy="364.0" rx="5.7" ry="7.3" fill="url(#gS)"/><ellipse cx="1447.5" cy="364.0" rx="5.5" ry="7.2" fill="url(#gMb)"/><ellipse cx="1469.2" cy="364.0" rx="5.7" ry="7.3" fill="url(#gS)"/><ellipse cx="1512.8" cy="364.0" rx="5.5" ry="7.2" fill="url(#gMb)"/><ellipse cx="1534.5" cy="364.0" rx="5.7" ry="7.3" fill="url(#gS)"/><ellipse cx="924.5" cy="391.0" rx="5.7" ry="7.3" fill="url(#gS)"/><ellipse cx="968.1" cy="391.0" rx="5.5" ry="7.2" fill="url(#gMb)"/><ellipse cx="989.8" cy="391.0" rx="5.7" ry="7.3" fill="url(#gS)"/><ellipse cx="1033.4" cy="391.0" rx="5.5" ry="7.2" fill="url(#gMb)"/><ellipse cx="1055.1" cy="391.0" rx="5.7" ry="7.3" fill="url(#gS)"/><ellipse cx="1099.2" cy="391.0" rx="5.5" ry="7.0" fill="url(#gMc)"/><ellipse cx="1120.9" cy="391.0" rx="5.7" ry="7.3" fill="url(#gS)"/><ellipse cx="1162.4" cy="391.0" rx="5.5" ry="7.0" fill="url(#gMc)"/><ellipse cx="1184.1" cy="391.0" rx="5.7" ry="7.3" fill="url(#gS)"/><ellipse cx="1226.0" cy="391.0" rx="5.5" ry="7.0" fill="url(#gMc)"/><ellipse cx="1247.7" cy="391.0" rx="5.7" ry="7.3" fill="url(#gS)"/><ellipse cx="1289.7" cy="391.0" rx="5.5" ry="7.0" fill="url(#gMc)"/><ellipse cx="1311.4" cy="391.0" rx="5.7" ry="7.3" fill="url(#gS)"/><ellipse cx="1352.9" cy="391.0" rx="5.5" ry="7.0" fill="url(#gMc)"/><ellipse cx="1374.6" cy="391.0" rx="5.7" ry="7.3" fill="url(#gS)"/><ellipse cx="1415.2" cy="391.0" rx="5.5" ry="7.2" fill="url(#gMb)"/><ellipse cx="1436.9" cy="391.0" rx="5.7" ry="7.3" fill="url(#gS)"/><ellipse cx="1479.7" cy="391.0" rx="5.5" ry="7.2" fill="url(#gMb)"/><ellipse cx="1501.4" cy="391.0" rx="5.7" ry="7.3" fill="url(#gS)"/><ellipse cx="1546.0" cy="391.0" rx="5.5" ry="7.2" fill="url(#gMb)"/><ellipse cx="935.5" cy="416.0" rx="5.5" ry="7.2" fill="url(#gMb)"/><ellipse cx="957.2" cy="416.0" rx="5.7" ry="7.3" fill="url(#gS)"/><ellipse cx="1000.8" cy="416.0" rx="5.5" ry="7.2" fill="url(#gMb)"/><ellipse cx="1022.5" cy="416.0" rx="5.7" ry="7.3" fill="url(#gS)"/><ellipse cx="1066.3" cy="416.0" rx="5.5" ry="7.2" fill="url(#gMb)"/><ellipse cx="1088.0" cy="416.0" rx="5.7" ry="7.3" fill="url(#gS)"/><ellipse cx="1130.8" cy="416.0" rx="5.5" ry="7.0" fill="url(#gMc)"/><ellipse cx="1152.5" cy="416.0" rx="5.7" ry="7.3" fill="url(#gS)"/><ellipse cx="1194.2" cy="416.0" rx="5.5" ry="7.0" fill="url(#gMc)"/><ellipse cx="1215.9" cy="416.0" rx="5.7" ry="7.3" fill="url(#gS)"/><ellipse cx="1257.8" cy="416.0" rx="5.5" ry="7.0" fill="url(#gMc)"/><ellipse cx="1279.5" cy="416.0" rx="5.7" ry="7.3" fill="url(#gS)"/><ellipse cx="1321.3" cy="416.0" rx="5.5" ry="7.0" fill="url(#gMc)"/><ellipse cx="1343.0" cy="416.0" rx="5.7" ry="7.3" fill="url(#gS)"/><ellipse cx="1384.1" cy="416.0" rx="5.5" ry="7.0" fill="url(#gMc)"/><ellipse cx="1405.8" cy="416.0" rx="5.7" ry="7.3" fill="url(#gS)"/><ellipse cx="1447.5" cy="416.0" rx="5.5" ry="7.2" fill="url(#gMb)"/><ellipse cx="1469.2" cy="416.0" rx="5.7" ry="7.3" fill="url(#gS)"/><ellipse cx="1512.8" cy="416.0" rx="5.5" ry="7.2" fill="url(#gMb)"/><ellipse cx="1534.5" cy="416.0" rx="5.7" ry="7.3" fill="url(#gS)"/><ellipse cx="924.5" cy="441.0" rx="5.7" ry="7.3" fill="url(#gS)"/><ellipse cx="972.6" cy="441.0" rx="5.5" ry="7.2" fill="url(#gMb)"/><ellipse cx="989.8" cy="441.0" rx="5.7" ry="7.3" fill="url(#gS)"/><ellipse cx="1037.9" cy="441.0" rx="5.5" ry="7.2" fill="url(#gMb)"/><ellipse cx="1055.1" cy="441.0" rx="5.7" ry="7.3" fill="url(#gS)"/><ellipse cx="1101.7" cy="441.0" rx="5.5" ry="7.0" fill="url(#gMc)"/><ellipse cx="1120.9" cy="441.0" rx="5.7" ry="7.3" fill="url(#gS)"/><ellipse cx="1164.9" cy="441.0" rx="5.5" ry="7.0" fill="url(#gMc)"/><ellipse cx="1184.1" cy="441.0" rx="5.7" ry="7.3" fill="url(#gS)"/><ellipse cx="1228.5" cy="441.0" rx="5.5" ry="7.0" fill="url(#gMc)"/><ellipse cx="1247.7" cy="441.0" rx="5.7" ry="7.3" fill="url(#gS)"/><ellipse cx="1292.2" cy="441.0" rx="5.5" ry="7.0" fill="url(#gMc)"/><ellipse cx="1311.4" cy="441.0" rx="5.7" ry="7.3" fill="url(#gS)"/><ellipse cx="1355.4" cy="441.0" rx="5.5" ry="7.0" fill="url(#gMc)"/><ellipse cx="1374.6" cy="441.0" rx="5.7" ry="7.3" fill="url(#gS)"/><ellipse cx="1419.7" cy="441.0" rx="5.5" ry="7.2" fill="url(#gMb)"/><ellipse cx="1436.9" cy="441.0" rx="5.7" ry="7.3" fill="url(#gS)"/><ellipse cx="1484.2" cy="441.0" rx="5.5" ry="7.2" fill="url(#gMb)"/><ellipse cx="1501.4" cy="441.0" rx="5.7" ry="7.3" fill="url(#gS)"/><ellipse cx="1550.5" cy="441.0" rx="5.5" ry="7.2" fill="url(#gMb)"/>
<ellipse cx="1190.2" cy="249.3" rx="9.8" ry="11.6" fill="url(#gG)"/><ellipse cx="1195.2" cy="265.8" rx="11" ry="3.6" fill="url(#gR)" transform="rotate(-30 1195.2 265.8)"/><ellipse cx="1200.9" cy="277.8" rx="7.1" ry="9.8" fill="url(#gG)"/><ellipse cx="1227.6" cy="275.1" rx="5.3" ry="6.2" fill="url(#gR)"/><ellipse cx="1226.8" cy="285.8" rx="6.2" ry="6.2" fill="url(#gG)"/><ellipse cx="1238.3" cy="285.8" rx="3.6" ry="3.6" fill="url(#gG)"/><ellipse cx="1228.5" cy="297.4" rx="5.3" ry="5.3" fill="url(#gR)"/><ellipse cx="1211.6" cy="302.7" rx="8.9" ry="9.8" fill="url(#gR)"/><ellipse cx="1217.8" cy="321.5" rx="8.9" ry="9.8" fill="url(#gG)"/><ellipse cx="1186.6" cy="316.1" rx="4.5" ry="5.3" fill="url(#gR)"/><ellipse cx="1184.9" cy="329.5" rx="2.5" ry="3" fill="url(#gG)"/><ellipse cx="1244.6" cy="314.3" rx="8" ry="13.4" fill="url(#gR)"/><ellipse cx="1243.7" cy="332.1" rx="3.5" ry="4" fill="url(#gR)"/><ellipse cx="1257.1" cy="313.4" rx="5.3" ry="9.8" fill="url(#gG)"/><ellipse cx="1266" cy="313.4" rx="5.3" ry="8.9" fill="url(#gR)"/><ellipse cx="1281.1" cy="313.4" rx="2.5" ry="3.5" fill="url(#gR)"/><ellipse cx="1198.2" cy="351.8" rx="8" ry="8.9" fill="url(#gR)"/><ellipse cx="1216" cy="356.2" rx="6.2" ry="7.1" fill="url(#gR)"/><ellipse cx="1193.8" cy="366" rx="8" ry="5.3" fill="url(#gG)"/><ellipse cx="1211.6" cy="372.3" rx="6.2" ry="6.2" fill="url(#gG)"/><ellipse cx="1191.1" cy="377.6" rx="5.3" ry="8" fill="url(#gR)"/><ellipse cx="1230.5" cy="375.5" rx="9.5" ry="10.5" fill="url(#gG)"/><ellipse cx="1238.3" cy="367.5" rx="17" ry="8.5" fill="url(#gG)" transform="rotate(-52 1238.3 367.5)"/><ellipse cx="1245.5" cy="358.5" rx="8" ry="9.5" fill="url(#gG)"/><ellipse cx="1257.1" cy="366" rx="5.3" ry="11.6" fill="url(#gR)"/><ellipse cx="1266.9" cy="366.9" rx="5.3" ry="8.9" fill="url(#gG)"/><ellipse cx="1226.0" cy="391.9" rx="12.5" ry="4.0" fill="url(#gR)" transform="rotate(35 1226.0 391.9)"/><ellipse cx="1222.3" cy="401.7" rx="5.3" ry="7.1" fill="url(#gG)"/><ellipse cx="1125.5" cy="259.3" rx="3.5" ry="3.5" fill="url(#gG)"/><ellipse cx="1138" cy="271" rx="2.5" ry="2.5" fill="url(#gG)"/><ellipse cx="1131" cy="256" rx="2" ry="2" fill="url(#gR)"/><ellipse cx="1158" cy="281" rx="3" ry="3" fill="url(#gR)"/><ellipse cx="1168" cy="293" rx="3" ry="3" fill="url(#gR)"/><ellipse cx="1162" cy="292" rx="2" ry="2" fill="url(#gG)"/><ellipse cx="1190" cy="413" rx="3" ry="4" fill="url(#gG)"/><ellipse cx="1200" cy="409" rx="3" ry="3.5" fill="url(#gR)"/><ellipse cx="1200" cy="424" rx="2.5" ry="2.5" fill="url(#gG)"/><ellipse cx="1222" cy="432" rx="3" ry="3" fill="url(#gG)"/><ellipse cx="1232" cy="446" rx="3" ry="3" fill="url(#gG)"/><ellipse cx="1221" cy="445" rx="2.5" ry="2.5" fill="url(#gR)"/><ellipse cx="1253" cy="407" rx="3" ry="4" fill="url(#gG)"/><ellipse cx="1265" cy="411" rx="3" ry="3" fill="url(#gR)"/><ellipse cx="1262" cy="427" rx="3" ry="4" fill="url(#gG)"/><ellipse cx="1250" cy="423" rx="3" ry="3" fill="url(#gR)"/><ellipse cx="1160" cy="432" rx="2" ry="2" fill="url(#gR)"/><ellipse cx="1167" cy="446" rx="2" ry="2" fill="url(#gR)"/><ellipse cx="1257" cy="254" rx="2.5" ry="3.5" fill="url(#gG)"/><ellipse cx="1262" cy="276" rx="2.5" ry="2.5" fill="url(#gG)"/><ellipse cx="1250" cy="269" rx="2.5" ry="2.5" fill="url(#gR)"/>
</g>
<rect x="907.9" y="240.2" width="75.2" height="219.2" fill="#c4c4c4"/>
<rect x="1487.4" y="241.0" width="74.0" height="219.5" fill="#c4c4c4"/>
<clipPath id="bx1"><rect x="907.9" y="240.2" width="75.2" height="219.2"/><rect x="1487.4" y="241.0" width="74.0" height="219.5"/></clipPath>
<g clip-path="url(#bx1)"><g stroke-width="2.4"><line x1="939.0" y1="262.2" x2="948.1" y2="261.6" stroke="#0a5ac4"/><line x1="948.1" y1="261.6" x2="957.2" y2="261.0" stroke="#c4c400"/><line x1="1516.3" y1="262.2" x2="1525.4" y2="261.6" stroke="#0a5ac4"/><line x1="1525.4" y1="261.6" x2="1534.5" y2="261.0" stroke="#c4c400"/><line x1="913.6" y1="287.3" x2="924.5" y2="287.3" stroke="#c4c400"/><line x1="968.1" y1="287.3" x2="979.0" y2="287.3" stroke="#0a5ac4"/><line x1="979.0" y1="287.3" x2="989.8" y2="287.3" stroke="#c4c400"/><line x1="1479.7" y1="287.3" x2="1490.6" y2="287.3" stroke="#0a5ac4"/><line x1="1490.6" y1="287.3" x2="1501.4" y2="287.3" stroke="#c4c400"/><line x1="1546.0" y1="287.3" x2="1556.8" y2="287.3" stroke="#0a5ac4"/><line x1="924.5" y1="287.3" x2="931.7" y2="274.8" stroke="#c4c400"/><line x1="931.7" y1="274.8" x2="939.0" y2="262.2" stroke="#0a5ac4"/><line x1="968.1" y1="287.3" x2="962.6" y2="274.1" stroke="#0a5ac4"/><line x1="962.6" y1="274.1" x2="957.2" y2="261.0" stroke="#c4c400"/><line x1="1501.4" y1="287.3" x2="1508.9" y2="274.8" stroke="#c4c400"/><line x1="1508.9" y1="274.8" x2="1516.3" y2="262.2" stroke="#0a5ac4"/><line x1="1546.0" y1="287.3" x2="1540.3" y2="274.1" stroke="#0a5ac4"/><line x1="1540.3" y1="274.1" x2="1534.5" y2="261.0" stroke="#c4c400"/><line x1="924.5" y1="287.3" x2="930.0" y2="300.0" stroke="#c4c400"/><line x1="930.0" y1="300.0" x2="935.5" y2="312.6" stroke="#0a5ac4"/><line x1="968.1" y1="287.3" x2="962.6" y2="300.0" stroke="#0a5ac4"/><line x1="962.6" y1="300.0" x2="957.2" y2="312.6" stroke="#c4c400"/><line x1="1501.4" y1="287.3" x2="1507.1" y2="300.0" stroke="#c4c400"/><line x1="1507.1" y1="300.0" x2="1512.8" y2="312.6" stroke="#0a5ac4"/><line x1="1546.0" y1="287.3" x2="1540.3" y2="300.0" stroke="#0a5ac4"/><line x1="1540.3" y1="300.0" x2="1534.5" y2="312.6" stroke="#c4c400"/><line x1="935.5" y1="312.6" x2="946.3" y2="312.6" stroke="#0a5ac4"/><line x1="946.3" y1="312.6" x2="957.2" y2="312.6" stroke="#c4c400"/><line x1="1512.8" y1="312.6" x2="1523.7" y2="312.6" stroke="#0a5ac4"/><line x1="1523.7" y1="312.6" x2="1534.5" y2="312.6" stroke="#c4c400"/><line x1="913.6" y1="339.3" x2="924.5" y2="339.3" stroke="#c4c400"/><line x1="968.1" y1="339.3" x2="979.0" y2="339.3" stroke="#0a5ac4"/><line x1="979.0" y1="339.3" x2="989.8" y2="339.3" stroke="#c4c400"/><line x1="1479.7" y1="339.3" x2="1490.6" y2="339.3" stroke="#0a5ac4"/><line x1="1490.6" y1="339.3" x2="1501.4" y2="339.3" stroke="#c4c400"/><line x1="1546.0" y1="339.3" x2="1556.8" y2="339.3" stroke="#0a5ac4"/><line x1="924.5" y1="339.3" x2="930.0" y2="326.0" stroke="#c4c400"/><line x1="930.0" y1="326.0" x2="935.5" y2="312.6" stroke="#0a5ac4"/><line x1="968.1" y1="339.3" x2="962.6" y2="326.0" stroke="#0a5ac4"/><line x1="962.6" y1="326.0" x2="957.2" y2="312.6" stroke="#c4c400"/><line x1="1501.4" y1="339.3" x2="1507.1" y2="326.0" stroke="#c4c400"/><line x1="1507.1" y1="326.0" x2="1512.8" y2="312.6" stroke="#0a5ac4"/><line x1="1546.0" y1="339.3" x2="1540.3" y2="326.0" stroke="#0a5ac4"/><line x1="1540.3" y1="326.0" x2="1534.5" y2="312.6" stroke="#c4c400"/><line x1="924.5" y1="339.3" x2="930.0" y2="351.6" stroke="#c4c400"/><line x1="930.0" y1="351.6" x2="935.5" y2="364.0" stroke="#0a5ac4"/><line x1="968.1" y1="339.3" x2="962.6" y2="351.6" stroke="#0a5ac4"/><line x1="962.6" y1="351.6" x2="957.2" y2="364.0" stroke="#c4c400"/><line x1="1501.4" y1="339.3" x2="1507.1" y2="351.6" stroke="#c4c400"/><line x1="1507.1" y1="351.6" x2="1512.8" y2="364.0" stroke="#0a5ac4"/><line x1="1546.0" y1="339.3" x2="1540.3" y2="351.6" stroke="#0a5ac4"/><line x1="1540.3" y1="351.6" x2="1534.5" y2="364.0" stroke="#c4c400"/><line x1="935.5" y1="364.0" x2="946.3" y2="364.0" stroke="#0a5ac4"/><line x1="946.3" y1="364.0" x2="957.2" y2="364.0" stroke="#c4c400"/><line x1="1512.8" y1="364.0" x2="1523.7" y2="364.0" stroke="#0a5ac4"/><line x1="1523.7" y1="364.0" x2="1534.5" y2="364.0" stroke="#c4c400"/><line x1="913.6" y1="391.0" x2="924.5" y2="391.0" stroke="#c4c400"/><line x1="968.1" y1="391.0" x2="979.0" y2="391.0" stroke="#0a5ac4"/><line x1="979.0" y1="391.0" x2="989.8" y2="391.0" stroke="#c4c400"/><line x1="1479.7" y1="391.0" x2="1490.6" y2="391.0" stroke="#0a5ac4"/><line x1="1490.6" y1="391.0" x2="1501.4" y2="391.0" stroke="#c4c400"/><line x1="1546.0" y1="391.0" x2="1556.8" y2="391.0" stroke="#0a5ac4"/><line x1="924.5" y1="391.0" x2="930.0" y2="377.5" stroke="#c4c400"/><line x1="930.0" y1="377.5" x2="935.5" y2="364.0" stroke="#0a5ac4"/><line x1="968.1" y1="391.0" x2="962.6" y2="377.5" stroke="#0a5ac4"/><line x1="962.6" y1="377.5" x2="957.2" y2="364.0" stroke="#c4c400"/><line x1="1501.4" y1="391.0" x2="1507.1" y2="377.5" stroke="#c4c400"/><line x1="1507.1" y1="377.5" x2="1512.8" y2="364.0" stroke="#0a5ac4"/><line x1="1546.0" y1="391.0" x2="1540.3" y2="377.5" stroke="#0a5ac4"/><line x1="1540.3" y1="377.5" x2="1534.5" y2="364.0" stroke="#c4c400"/><line x1="924.5" y1="391.0" x2="930.0" y2="403.5" stroke="#c4c400"/><line x1="930.0" y1="403.5" x2="935.5" y2="416.0" stroke="#0a5ac4"/><line x1="968.1" y1="391.0" x2="962.6" y2="403.5" stroke="#0a5ac4"/><line x1="962.6" y1="403.5" x2="957.2" y2="416.0" stroke="#c4c400"/><line x1="1501.4" y1="391.0" x2="1507.1" y2="403.5" stroke="#c4c400"/><line x1="1507.1" y1="403.5" x2="1512.8" y2="416.0" stroke="#0a5ac4"/><line x1="1546.0" y1="391.0" x2="1540.3" y2="403.5" stroke="#0a5ac4"/><line x1="1540.3" y1="403.5" x2="1534.5" y2="416.0" stroke="#c4c400"/><line x1="935.5" y1="416.0" x2="946.3" y2="416.0" stroke="#0a5ac4"/><line x1="946.3" y1="416.0" x2="957.2" y2="416.0" stroke="#c4c400"/><line x1="1512.8" y1="416.0" x2="1523.7" y2="416.0" stroke="#0a5ac4"/><line x1="1523.7" y1="416.0" x2="1534.5" y2="416.0" stroke="#c4c400"/><line x1="915.9" y1="441.0" x2="924.5" y2="441.0" stroke="#c4c400"/><line x1="972.6" y1="441.0" x2="981.2" y2="441.0" stroke="#0a5ac4"/><line x1="981.2" y1="441.0" x2="989.8" y2="441.0" stroke="#c4c400"/><line x1="1484.2" y1="441.0" x2="1492.8" y2="441.0" stroke="#0a5ac4"/><line x1="1492.8" y1="441.0" x2="1501.4" y2="441.0" stroke="#c4c400"/><line x1="1550.5" y1="441.0" x2="1559.1" y2="441.0" stroke="#0a5ac4"/><line x1="924.5" y1="441.0" x2="930.0" y2="428.5" stroke="#c4c400"/><line x1="930.0" y1="428.5" x2="935.5" y2="416.0" stroke="#0a5ac4"/><line x1="972.6" y1="441.0" x2="964.9" y2="428.5" stroke="#0a5ac4"/><line x1="964.9" y1="428.5" x2="957.2" y2="416.0" stroke="#c4c400"/><line x1="1501.4" y1="441.0" x2="1507.1" y2="428.5" stroke="#c4c400"/><line x1="1507.1" y1="428.5" x2="1512.8" y2="416.0" stroke="#0a5ac4"/><line x1="1550.5" y1="441.0" x2="1542.5" y2="428.5" stroke="#0a5ac4"/><line x1="1542.5" y1="428.5" x2="1534.5" y2="416.0" stroke="#c4c400"/><line x1="939.0" y1="262.2" x2="953.5" y2="274.8" stroke="#0a5ac4"/><line x1="953.5" y1="274.8" x2="968.1" y2="287.3" stroke="#0a5ac4"/><line x1="1516.3" y1="262.2" x2="1531.2" y2="274.8" stroke="#0a5ac4"/><line x1="1531.2" y1="274.8" x2="1546.0" y2="287.3" stroke="#0a5ac4"/><line x1="921.4" y1="428.5" x2="935.5" y2="416.0" stroke="#0a5ac4"/><line x1="972.6" y1="441.0" x2="986.7" y2="428.5" stroke="#0a5ac4"/><line x1="986.7" y1="428.5" x2="1000.8" y2="416.0" stroke="#0a5ac4"/><line x1="1484.2" y1="441.0" x2="1498.5" y2="428.5" stroke="#0a5ac4"/><line x1="1498.5" y1="428.5" x2="1512.8" y2="416.0" stroke="#0a5ac4"/><line x1="1550.5" y1="441.0" x2="1564.8" y2="428.5" stroke="#0a5ac4"/></g><ellipse cx="939.0" cy="262.2" rx="5.5" ry="7.2" fill="url(#gMbD)"/><ellipse cx="957.2" cy="261.0" rx="5.7" ry="7.3" fill="url(#gSD)"/><ellipse cx="1516.3" cy="262.2" rx="5.5" ry="7.2" fill="url(#gMbD)"/><ellipse cx="1534.5" cy="261.0" rx="5.7" ry="7.3" fill="url(#gSD)"/><ellipse cx="924.5" cy="287.3" rx="5.7" ry="7.3" fill="url(#gSD)"/><ellipse cx="968.1" cy="287.3" rx="5.5" ry="7.2" fill="url(#gMbD)"/><ellipse cx="989.8" cy="287.3" rx="5.7" ry="7.3" fill="url(#gSD)"/><ellipse cx="1501.4" cy="287.3" rx="5.7" ry="7.3" fill="url(#gSD)"/><ellipse cx="1546.0" cy="287.3" rx="5.5" ry="7.2" fill="url(#gMbD)"/><ellipse cx="935.5" cy="312.6" rx="5.5" ry="7.2" fill="url(#gMbD)"/><ellipse cx="957.2" cy="312.6" rx="5.7" ry="7.3" fill="url(#gSD)"/><ellipse cx="1512.8" cy="312.6" rx="5.5" ry="7.2" fill="url(#gMbD)"/><ellipse cx="1534.5" cy="312.6" rx="5.7" ry="7.3" fill="url(#gSD)"/><ellipse cx="924.5" cy="339.3" rx="5.7" ry="7.3" fill="url(#gSD)"/><ellipse cx="968.1" cy="339.3" rx="5.5" ry="7.2" fill="url(#gMbD)"/><ellipse cx="989.8" cy="339.3" rx="5.7" ry="7.3" fill="url(#gSD)"/><ellipse cx="1501.4" cy="339.3" rx="5.7" ry="7.3" fill="url(#gSD)"/><ellipse cx="1546.0" cy="339.3" rx="5.5" ry="7.2" fill="url(#gMbD)"/><ellipse cx="935.5" cy="364.0" rx="5.5" ry="7.2" fill="url(#gMbD)"/><ellipse cx="957.2" cy="364.0" rx="5.7" ry="7.3" fill="url(#gSD)"/><ellipse cx="1512.8" cy="364.0" rx="5.5" ry="7.2" fill="url(#gMbD)"/><ellipse cx="1534.5" cy="364.0" rx="5.7" ry="7.3" fill="url(#gSD)"/><ellipse cx="924.5" cy="391.0" rx="5.7" ry="7.3" fill="url(#gSD)"/><ellipse cx="968.1" cy="391.0" rx="5.5" ry="7.2" fill="url(#gMbD)"/><ellipse cx="989.8" cy="391.0" rx="5.7" ry="7.3" fill="url(#gSD)"/><ellipse cx="1501.4" cy="391.0" rx="5.7" ry="7.3" fill="url(#gSD)"/><ellipse cx="1546.0" cy="391.0" rx="5.5" ry="7.2" fill="url(#gMbD)"/><ellipse cx="935.5" cy="416.0" rx="5.5" ry="7.2" fill="url(#gMbD)"/><ellipse cx="957.2" cy="416.0" rx="5.7" ry="7.3" fill="url(#gSD)"/><ellipse cx="1512.8" cy="416.0" rx="5.5" ry="7.2" fill="url(#gMbD)"/><ellipse cx="1534.5" cy="416.0" rx="5.7" ry="7.3" fill="url(#gSD)"/><ellipse cx="924.5" cy="441.0" rx="5.7" ry="7.3" fill="url(#gSD)"/><ellipse cx="972.6" cy="441.0" rx="5.5" ry="7.2" fill="url(#gMbD)"/><ellipse cx="989.8" cy="441.0" rx="5.7" ry="7.3" fill="url(#gSD)"/><ellipse cx="1484.2" cy="441.0" rx="5.5" ry="7.2" fill="url(#gMbD)"/><ellipse cx="1501.4" cy="441.0" rx="5.7" ry="7.3" fill="url(#gSD)"/><ellipse cx="1550.5" cy="441.0" rx="5.5" ry="7.2" fill="url(#gMbD)"/></g>
<clipPath id="mc2"><rect x="903.2" y="447.8" width="659.0999999999999" height="230.7"/></clipPath>
<g clip-path="url(#mc2)">
<g stroke-width="2.4"><line x1="930.6" y1="484.8" x2="940.3" y2="484.2" stroke="#0a5ae6"/><line x1="940.3" y1="484.2" x2="949.9" y2="483.6" stroke="#eeee00"/><line x1="998.2" y1="484.8" x2="1007.8" y2="484.2" stroke="#0a5ae6"/><line x1="1007.8" y1="484.2" x2="1017.5" y2="483.6" stroke="#eeee00"/><line x1="1065.2" y1="484.8" x2="1074.8" y2="484.2" stroke="#0a5ae6"/><line x1="1074.8" y1="484.2" x2="1084.5" y2="483.6" stroke="#eeee00"/><line x1="1130.2" y1="484.8" x2="1139.9" y2="484.2" stroke="#4cbcc6"/><line x1="1139.9" y1="484.2" x2="1149.5" y2="483.6" stroke="#eeee00"/><line x1="1194.0" y1="484.8" x2="1203.6" y2="484.2" stroke="#4cbcc6"/><line x1="1203.6" y1="484.2" x2="1213.2" y2="483.6" stroke="#eeee00"/><line x1="1258.2" y1="484.8" x2="1267.8" y2="484.2" stroke="#4cbcc6"/><line x1="1267.8" y1="484.2" x2="1277.5" y2="483.6" stroke="#eeee00"/><line x1="1322.3" y1="484.8" x2="1332.0" y2="484.2" stroke="#4cbcc6"/><line x1="1332.0" y1="484.2" x2="1341.6" y2="483.6" stroke="#eeee00"/><line x1="1385.3" y1="484.8" x2="1395.0" y2="484.2" stroke="#4cbcc6"/><line x1="1395.0" y1="484.2" x2="1404.6" y2="483.6" stroke="#eeee00"/><line x1="1449.8" y1="484.8" x2="1459.5" y2="484.2" stroke="#0a5ae6"/><line x1="1459.5" y1="484.2" x2="1469.1" y2="483.6" stroke="#eeee00"/><line x1="1516.9" y1="484.8" x2="1526.6" y2="484.2" stroke="#0a5ae6"/><line x1="1526.6" y1="484.2" x2="1536.2" y2="483.6" stroke="#eeee00"/><line x1="904.8" y1="503.9" x2="916.2" y2="503.9" stroke="#eeee00"/><line x1="960.9" y1="503.9" x2="972.3" y2="503.9" stroke="#0a5ae6"/><line x1="972.3" y1="503.9" x2="983.7" y2="503.9" stroke="#eeee00"/><line x1="1028.4" y1="503.9" x2="1039.8" y2="503.9" stroke="#0a5ae6"/><line x1="1039.8" y1="503.9" x2="1051.2" y2="503.9" stroke="#eeee00"/><line x1="1095.0" y1="503.9" x2="1106.4" y2="503.9" stroke="#4cbcc6"/><line x1="1106.4" y1="503.9" x2="1117.8" y2="503.9" stroke="#eeee00"/><line x1="1158.5" y1="503.9" x2="1169.9" y2="503.9" stroke="#4cbcc6"/><line x1="1169.9" y1="503.9" x2="1181.3" y2="503.9" stroke="#eeee00"/><line x1="1222.4" y1="503.9" x2="1233.8" y2="503.9" stroke="#4cbcc6"/><line x1="1233.8" y1="503.9" x2="1245.2" y2="503.9" stroke="#eeee00"/><line x1="1287.0" y1="503.9" x2="1298.4" y2="503.9" stroke="#4cbcc6"/><line x1="1298.4" y1="503.9" x2="1309.8" y2="503.9" stroke="#eeee00"/><line x1="1350.7" y1="503.9" x2="1362.1" y2="503.9" stroke="#4cbcc6"/><line x1="1362.1" y1="503.9" x2="1373.5" y2="503.9" stroke="#eeee00"/><line x1="1413.0" y1="503.9" x2="1424.4" y2="503.9" stroke="#0a5ae6"/><line x1="1424.4" y1="503.9" x2="1435.8" y2="503.9" stroke="#eeee00"/><line x1="1479.7" y1="503.9" x2="1491.1" y2="503.9" stroke="#0a5ae6"/><line x1="1491.1" y1="503.9" x2="1502.5" y2="503.9" stroke="#eeee00"/><line x1="1547.1" y1="503.9" x2="1558.5" y2="503.9" stroke="#0a5ae6"/><line x1="916.2" y1="503.9" x2="923.4" y2="494.4" stroke="#eeee00"/><line x1="923.4" y1="494.4" x2="930.6" y2="484.8" stroke="#0a5ae6"/><line x1="960.9" y1="503.9" x2="955.4" y2="493.8" stroke="#0a5ae6"/><line x1="955.4" y1="493.8" x2="949.9" y2="483.6" stroke="#eeee00"/><line x1="983.7" y1="503.9" x2="990.9" y2="494.4" stroke="#eeee00"/><line x1="990.9" y1="494.4" x2="998.2" y2="484.8" stroke="#0a5ae6"/><line x1="1028.4" y1="503.9" x2="1022.9" y2="493.8" stroke="#0a5ae6"/><line x1="1022.9" y1="493.8" x2="1017.5" y2="483.6" stroke="#eeee00"/><line x1="1051.2" y1="503.9" x2="1058.2" y2="494.4" stroke="#eeee00"/><line x1="1058.2" y1="494.4" x2="1065.2" y2="484.8" stroke="#0a5ae6"/><line x1="1095.0" y1="503.9" x2="1089.8" y2="493.8" stroke="#4cbcc6"/><line x1="1089.8" y1="493.8" x2="1084.5" y2="483.6" stroke="#eeee00"/><line x1="1117.8" y1="503.9" x2="1124.0" y2="494.4" stroke="#eeee00"/><line x1="1124.0" y1="494.4" x2="1130.2" y2="484.8" stroke="#4cbcc6"/><line x1="1158.5" y1="503.9" x2="1154.0" y2="493.8" stroke="#4cbcc6"/><line x1="1154.0" y1="493.8" x2="1149.5" y2="483.6" stroke="#eeee00"/><line x1="1181.3" y1="503.9" x2="1187.6" y2="494.4" stroke="#eeee00"/><line x1="1187.6" y1="494.4" x2="1194.0" y2="484.8" stroke="#4cbcc6"/><line x1="1222.4" y1="503.9" x2="1217.8" y2="493.8" stroke="#4cbcc6"/><line x1="1217.8" y1="493.8" x2="1213.2" y2="483.6" stroke="#eeee00"/><line x1="1245.2" y1="503.9" x2="1251.7" y2="494.4" stroke="#eeee00"/><line x1="1251.7" y1="494.4" x2="1258.2" y2="484.8" stroke="#4cbcc6"/><line x1="1287.0" y1="503.9" x2="1282.2" y2="493.8" stroke="#4cbcc6"/><line x1="1282.2" y1="493.8" x2="1277.5" y2="483.6" stroke="#eeee00"/><line x1="1309.8" y1="503.9" x2="1316.1" y2="494.4" stroke="#eeee00"/><line x1="1316.1" y1="494.4" x2="1322.3" y2="484.8" stroke="#4cbcc6"/><line x1="1350.7" y1="503.9" x2="1346.2" y2="493.8" stroke="#4cbcc6"/><line x1="1346.2" y1="493.8" x2="1341.6" y2="483.6" stroke="#eeee00"/><line x1="1373.5" y1="503.9" x2="1379.4" y2="494.4" stroke="#eeee00"/><line x1="1379.4" y1="494.4" x2="1385.3" y2="484.8" stroke="#4cbcc6"/><line x1="1413.0" y1="503.9" x2="1408.8" y2="493.8" stroke="#0a5ae6"/><line x1="1408.8" y1="493.8" x2="1404.6" y2="483.6" stroke="#eeee00"/><line x1="1435.8" y1="503.9" x2="1442.8" y2="494.4" stroke="#eeee00"/><line x1="1442.8" y1="494.4" x2="1449.8" y2="484.8" stroke="#0a5ae6"/><line x1="1479.7" y1="503.9" x2="1474.4" y2="493.8" stroke="#0a5ae6"/><line x1="1474.4" y1="493.8" x2="1469.1" y2="483.6" stroke="#eeee00"/><line x1="1502.5" y1="503.9" x2="1509.7" y2="494.4" stroke="#eeee00"/><line x1="1509.7" y1="494.4" x2="1516.9" y2="484.8" stroke="#0a5ae6"/><line x1="1547.1" y1="503.9" x2="1541.7" y2="493.8" stroke="#0a5ae6"/><line x1="1541.7" y1="493.8" x2="1536.2" y2="483.6" stroke="#eeee00"/><line x1="916.2" y1="503.9" x2="921.7" y2="515.2" stroke="#eeee00"/><line x1="921.7" y1="515.2" x2="927.1" y2="526.6" stroke="#0a5ae6"/><line x1="960.9" y1="503.9" x2="955.4" y2="515.2" stroke="#0a5ae6"/><line x1="955.4" y1="515.2" x2="949.9" y2="526.6" stroke="#eeee00"/><line x1="983.7" y1="503.9" x2="989.2" y2="515.2" stroke="#eeee00"/><line x1="989.2" y1="515.2" x2="994.7" y2="526.6" stroke="#0a5ae6"/><line x1="1028.4" y1="503.9" x2="1022.9" y2="515.2" stroke="#0a5ae6"/><line x1="1022.9" y1="515.2" x2="1017.5" y2="526.6" stroke="#eeee00"/><line x1="1051.2" y1="503.9" x2="1056.5" y2="515.2" stroke="#eeee00"/><line x1="1056.5" y1="515.2" x2="1061.7" y2="526.6" stroke="#0a5ae6"/><line x1="1095.0" y1="503.9" x2="1089.8" y2="515.2" stroke="#4cbcc6"/><line x1="1089.8" y1="515.2" x2="1084.5" y2="526.6" stroke="#eeee00"/><line x1="1117.8" y1="503.9" x2="1122.3" y2="515.2" stroke="#eeee00"/><line x1="1122.3" y1="515.2" x2="1126.8" y2="526.6" stroke="#4cbcc6"/><line x1="1158.5" y1="503.9" x2="1154.0" y2="515.2" stroke="#4cbcc6"/><line x1="1154.0" y1="515.2" x2="1149.5" y2="526.6" stroke="#eeee00"/><line x1="1181.3" y1="503.9" x2="1185.9" y2="515.2" stroke="#eeee00"/><line x1="1185.9" y1="515.2" x2="1190.5" y2="526.6" stroke="#4cbcc6"/><line x1="1222.4" y1="503.9" x2="1217.8" y2="515.2" stroke="#4cbcc6"/><line x1="1217.8" y1="515.2" x2="1213.2" y2="526.6" stroke="#eeee00"/><line x1="1245.2" y1="503.9" x2="1250.0" y2="515.2" stroke="#eeee00"/><line x1="1250.0" y1="515.2" x2="1254.7" y2="526.6" stroke="#4cbcc6"/><line x1="1287.0" y1="503.9" x2="1282.2" y2="515.2" stroke="#4cbcc6"/><line x1="1282.2" y1="515.2" x2="1277.5" y2="526.6" stroke="#eeee00"/><line x1="1309.8" y1="503.9" x2="1314.3" y2="515.2" stroke="#eeee00"/><line x1="1314.3" y1="515.2" x2="1318.8" y2="526.6" stroke="#4cbcc6"/><line x1="1350.7" y1="503.9" x2="1346.2" y2="515.2" stroke="#4cbcc6"/><line x1="1346.2" y1="515.2" x2="1341.6" y2="526.6" stroke="#eeee00"/><line x1="1373.5" y1="503.9" x2="1377.7" y2="515.2" stroke="#eeee00"/><line x1="1377.7" y1="515.2" x2="1381.8" y2="526.6" stroke="#4cbcc6"/><line x1="1413.0" y1="503.9" x2="1408.8" y2="515.2" stroke="#0a5ae6"/><line x1="1408.8" y1="515.2" x2="1404.6" y2="526.6" stroke="#eeee00"/><line x1="1435.8" y1="503.9" x2="1441.1" y2="515.2" stroke="#eeee00"/><line x1="1441.1" y1="515.2" x2="1446.3" y2="526.6" stroke="#0a5ae6"/><line x1="1479.7" y1="503.9" x2="1474.4" y2="515.2" stroke="#0a5ae6"/><line x1="1474.4" y1="515.2" x2="1469.1" y2="526.6" stroke="#eeee00"/><line x1="1502.5" y1="503.9" x2="1508.0" y2="515.2" stroke="#eeee00"/><line x1="1508.0" y1="515.2" x2="1513.4" y2="526.6" stroke="#0a5ae6"/><line x1="1547.1" y1="503.9" x2="1541.7" y2="515.2" stroke="#0a5ae6"/><line x1="1541.7" y1="515.2" x2="1536.2" y2="526.6" stroke="#eeee00"/><line x1="927.1" y1="526.6" x2="938.5" y2="526.6" stroke="#0a5ae6"/><line x1="938.5" y1="526.6" x2="949.9" y2="526.6" stroke="#eeee00"/><line x1="994.7" y1="526.6" x2="1006.1" y2="526.6" stroke="#0a5ae6"/><line x1="1006.1" y1="526.6" x2="1017.5" y2="526.6" stroke="#eeee00"/><line x1="1061.7" y1="526.6" x2="1073.1" y2="526.6" stroke="#0a5ae6"/><line x1="1073.1" y1="526.6" x2="1084.5" y2="526.6" stroke="#eeee00"/><line x1="1126.8" y1="526.6" x2="1138.2" y2="526.6" stroke="#4cbcc6"/><line x1="1138.2" y1="526.6" x2="1149.5" y2="526.6" stroke="#eeee00"/><line x1="1190.5" y1="526.6" x2="1201.8" y2="526.6" stroke="#4cbcc6"/><line x1="1201.8" y1="526.6" x2="1213.2" y2="526.6" stroke="#eeee00"/><line x1="1254.7" y1="526.6" x2="1266.1" y2="526.6" stroke="#4cbcc6"/><line x1="1266.1" y1="526.6" x2="1277.5" y2="526.6" stroke="#eeee00"/><line x1="1318.8" y1="526.6" x2="1330.2" y2="526.6" stroke="#4cbcc6"/><line x1="1330.2" y1="526.6" x2="1341.6" y2="526.6" stroke="#eeee00"/><line x1="1381.8" y1="526.6" x2="1393.2" y2="526.6" stroke="#4cbcc6"/><line x1="1393.2" y1="526.6" x2="1404.6" y2="526.6" stroke="#eeee00"/><line x1="1446.3" y1="526.6" x2="1457.8" y2="526.6" stroke="#0a5ae6"/><line x1="1457.8" y1="526.6" x2="1469.1" y2="526.6" stroke="#eeee00"/><line x1="1513.4" y1="526.6" x2="1524.8" y2="526.6" stroke="#0a5ae6"/><line x1="1524.8" y1="526.6" x2="1536.2" y2="526.6" stroke="#eeee00"/><line x1="904.8" y1="550.2" x2="916.2" y2="550.2" stroke="#eeee00"/><line x1="960.9" y1="550.2" x2="972.3" y2="550.2" stroke="#0a5ae6"/><line x1="972.3" y1="550.2" x2="983.7" y2="550.2" stroke="#eeee00"/><line x1="1028.4" y1="550.2" x2="1039.8" y2="550.2" stroke="#0a5ae6"/><line x1="1039.8" y1="550.2" x2="1051.2" y2="550.2" stroke="#eeee00"/><line x1="1158.5" y1="550.2" x2="1169.9" y2="550.2" stroke="#4cbcc6"/><line x1="1169.9" y1="550.2" x2="1181.3" y2="550.2" stroke="#eeee00"/><line x1="1222.4" y1="550.2" x2="1233.8" y2="550.2" stroke="#4cbcc6"/><line x1="1233.8" y1="550.2" x2="1245.2" y2="550.2" stroke="#eeee00"/><line x1="1287.0" y1="550.2" x2="1298.4" y2="550.2" stroke="#4cbcc6"/><line x1="1298.4" y1="550.2" x2="1309.8" y2="550.2" stroke="#eeee00"/><line x1="1350.7" y1="550.2" x2="1362.1" y2="550.2" stroke="#4cbcc6"/><line x1="1362.1" y1="550.2" x2="1373.5" y2="550.2" stroke="#eeee00"/><line x1="1413.0" y1="550.2" x2="1424.4" y2="550.2" stroke="#0a5ae6"/><line x1="1424.4" y1="550.2" x2="1435.8" y2="550.2" stroke="#eeee00"/><line x1="1479.7" y1="550.2" x2="1491.1" y2="550.2" stroke="#0a5ae6"/><line x1="1491.1" y1="550.2" x2="1502.5" y2="550.2" stroke="#eeee00"/><line x1="1547.1" y1="550.2" x2="1558.5" y2="550.2" stroke="#0a5ae6"/><line x1="916.2" y1="550.2" x2="921.7" y2="538.4" stroke="#eeee00"/><line x1="921.7" y1="538.4" x2="927.1" y2="526.6" stroke="#0a5ae6"/><line x1="960.9" y1="550.2" x2="955.4" y2="538.4" stroke="#0a5ae6"/><line x1="955.4" y1="538.4" x2="949.9" y2="526.6" stroke="#eeee00"/><line x1="983.7" y1="550.2" x2="989.2" y2="538.4" stroke="#eeee00"/><line x1="989.2" y1="538.4" x2="994.7" y2="526.6" stroke="#0a5ae6"/><line x1="1028.4" y1="550.2" x2="1022.9" y2="538.4" stroke="#0a5ae6"/><line x1="1022.9" y1="538.4" x2="1017.5" y2="526.6" stroke="#eeee00"/><line x1="1051.2" y1="550.2" x2="1056.5" y2="538.4" stroke="#eeee00"/><line x1="1056.5" y1="538.4" x2="1061.7" y2="526.6" stroke="#0a5ae6"/><line x1="1117.8" y1="550.2" x2="1122.3" y2="538.4" stroke="#eeee00"/><line x1="1122.3" y1="538.4" x2="1126.8" y2="526.6" stroke="#4cbcc6"/><line x1="1158.5" y1="550.2" x2="1154.0" y2="538.4" stroke="#4cbcc6"/><line x1="1154.0" y1="538.4" x2="1149.5" y2="526.6" stroke="#eeee00"/><line x1="1181.3" y1="550.2" x2="1185.9" y2="538.4" stroke="#eeee00"/><line x1="1185.9" y1="538.4" x2="1190.5" y2="526.6" stroke="#4cbcc6"/><line x1="1222.4" y1="550.2" x2="1217.8" y2="538.4" stroke="#4cbcc6"/><line x1="1217.8" y1="538.4" x2="1213.2" y2="526.6" stroke="#eeee00"/><line x1="1245.2" y1="550.2" x2="1250.0" y2="538.4" stroke="#eeee00"/><line x1="1250.0" y1="538.4" x2="1254.7" y2="526.6" stroke="#4cbcc6"/><line x1="1287.0" y1="550.2" x2="1282.2" y2="538.4" stroke="#4cbcc6"/><line x1="1282.2" y1="538.4" x2="1277.5" y2="526.6" stroke="#eeee00"/><line x1="1309.8" y1="550.2" x2="1314.3" y2="538.4" stroke="#eeee00"/><line x1="1314.3" y1="538.4" x2="1318.8" y2="526.6" stroke="#4cbcc6"/><line x1="1350.7" y1="550.2" x2="1346.2" y2="538.4" stroke="#4cbcc6"/><line x1="1346.2" y1="538.4" x2="1341.6" y2="526.6" stroke="#eeee00"/><line x1="1373.5" y1="550.2" x2="1377.7" y2="538.4" stroke="#eeee00"/><line x1="1377.7" y1="538.4" x2="1381.8" y2="526.6" stroke="#4cbcc6"/><line x1="1413.0" y1="550.2" x2="1408.8" y2="538.4" stroke="#0a5ae6"/><line x1="1408.8" y1="538.4" x2="1404.6" y2="526.6" stroke="#eeee00"/><line x1="1435.8" y1="550.2" x2="1441.1" y2="538.4" stroke="#eeee00"/><line x1="1441.1" y1="538.4" x2="1446.3" y2="526.6" stroke="#0a5ae6"/><line x1="1479.7" y1="550.2" x2="1474.4" y2="538.4" stroke="#0a5ae6"/><line x1="1474.4" y1="538.4" x2="1469.1" y2="526.6" stroke="#eeee00"/><line x1="1502.5" y1="550.2" x2="1508.0" y2="538.4" stroke="#eeee00"/><line x1="1508.0" y1="538.4" x2="1513.4" y2="526.6" stroke="#0a5ae6"/><line x1="1547.1" y1="550.2" x2="1541.7" y2="538.4" stroke="#0a5ae6"/><line x1="1541.7" y1="538.4" x2="1536.2" y2="526.6" stroke="#eeee00"/><line x1="916.2" y1="550.2" x2="921.7" y2="562.0" stroke="#eeee00"/><line x1="921.7" y1="562.0" x2="927.1" y2="573.7" stroke="#0a5ae6"/><line x1="960.9" y1="550.2" x2="955.4" y2="562.0" stroke="#0a5ae6"/><line x1="955.4" y1="562.0" x2="949.9" y2="573.7" stroke="#eeee00"/><line x1="983.7" y1="550.2" x2="989.2" y2="562.0" stroke="#eeee00"/><line x1="989.2" y1="562.0" x2="994.7" y2="573.7" stroke="#0a5ae6"/><line x1="1028.4" y1="550.2" x2="1022.9" y2="562.0" stroke="#0a5ae6"/><line x1="1022.9" y1="562.0" x2="1017.5" y2="573.7" stroke="#eeee00"/><line x1="1051.2" y1="550.2" x2="1056.5" y2="562.0" stroke="#eeee00"/><line x1="1056.5" y1="562.0" x2="1061.7" y2="573.7" stroke="#0a5ae6"/><line x1="1117.8" y1="550.2" x2="1122.3" y2="562.0" stroke="#eeee00"/><line x1="1122.3" y1="562.0" x2="1126.8" y2="573.7" stroke="#4cbcc6"/><line x1="1158.5" y1="550.2" x2="1154.0" y2="562.0" stroke="#4cbcc6"/><line x1="1154.0" y1="562.0" x2="1149.5" y2="573.7" stroke="#eeee00"/><line x1="1181.3" y1="550.2" x2="1185.9" y2="562.0" stroke="#eeee00"/><line x1="1185.9" y1="562.0" x2="1190.5" y2="573.7" stroke="#4cbcc6"/><line x1="1222.4" y1="550.2" x2="1217.8" y2="562.0" stroke="#4cbcc6"/><line x1="1217.8" y1="562.0" x2="1213.2" y2="573.7" stroke="#eeee00"/><line x1="1245.2" y1="550.2" x2="1250.0" y2="562.0" stroke="#eeee00"/><line x1="1250.0" y1="562.0" x2="1254.7" y2="573.7" stroke="#4cbcc6"/><line x1="1287.0" y1="550.2" x2="1282.2" y2="562.0" stroke="#4cbcc6"/><line x1="1282.2" y1="562.0" x2="1277.5" y2="573.7" stroke="#eeee00"/><line x1="1309.8" y1="550.2" x2="1314.3" y2="562.0" stroke="#eeee00"/><line x1="1314.3" y1="562.0" x2="1318.8" y2="573.7" stroke="#4cbcc6"/><line x1="1350.7" y1="550.2" x2="1346.2" y2="562.0" stroke="#4cbcc6"/><line x1="1346.2" y1="562.0" x2="1341.6" y2="573.7" stroke="#eeee00"/><line x1="1373.5" y1="550.2" x2="1377.7" y2="562.0" stroke="#eeee00"/><line x1="1377.7" y1="562.0" x2="1381.8" y2="573.7" stroke="#4cbcc6"/><line x1="1413.0" y1="550.2" x2="1408.8" y2="562.0" stroke="#0a5ae6"/><line x1="1408.8" y1="562.0" x2="1404.6" y2="573.7" stroke="#eeee00"/><line x1="1435.8" y1="550.2" x2="1441.1" y2="562.0" stroke="#eeee00"/><line x1="1441.1" y1="562.0" x2="1446.3" y2="573.7" stroke="#0a5ae6"/><line x1="1479.7" y1="550.2" x2="1474.4" y2="562.0" stroke="#0a5ae6"/><line x1="1474.4" y1="562.0" x2="1469.1" y2="573.7" stroke="#eeee00"/><line x1="1502.5" y1="550.2" x2="1508.0" y2="562.0" stroke="#eeee00"/><line x1="1508.0" y1="562.0" x2="1513.4" y2="573.7" stroke="#0a5ae6"/><line x1="1547.1" y1="550.2" x2="1541.7" y2="562.0" stroke="#0a5ae6"/><line x1="1541.7" y1="562.0" x2="1536.2" y2="573.7" stroke="#eeee00"/><line x1="927.1" y1="573.7" x2="938.5" y2="573.7" stroke="#0a5ae6"/><line x1="938.5" y1="573.7" x2="949.9" y2="573.7" stroke="#eeee00"/><line x1="994.7" y1="573.7" x2="1006.1" y2="573.7" stroke="#0a5ae6"/><line x1="1006.1" y1="573.7" x2="1017.5" y2="573.7" stroke="#eeee00"/><line x1="1061.7" y1="573.7" x2="1073.1" y2="573.7" stroke="#0a5ae6"/><line x1="1073.1" y1="573.7" x2="1084.5" y2="573.7" stroke="#eeee00"/><line x1="1126.8" y1="573.7" x2="1138.2" y2="573.7" stroke="#4cbcc6"/><line x1="1138.2" y1="573.7" x2="1149.5" y2="573.7" stroke="#eeee00"/><line x1="1190.5" y1="573.7" x2="1201.8" y2="573.7" stroke="#4cbcc6"/><line x1="1201.8" y1="573.7" x2="1213.2" y2="573.7" stroke="#eeee00"/><line x1="1254.7" y1="573.7" x2="1266.1" y2="573.7" stroke="#4cbcc6"/><line x1="1266.1" y1="573.7" x2="1277.5" y2="573.7" stroke="#eeee00"/><line x1="1318.8" y1="573.7" x2="1330.2" y2="573.7" stroke="#4cbcc6"/><line x1="1330.2" y1="573.7" x2="1341.6" y2="573.7" stroke="#eeee00"/><line x1="1381.8" y1="573.7" x2="1393.2" y2="573.7" stroke="#4cbcc6"/><line x1="1393.2" y1="573.7" x2="1404.6" y2="573.7" stroke="#eeee00"/><line x1="1446.3" y1="573.7" x2="1457.8" y2="573.7" stroke="#0a5ae6"/><line x1="1457.8" y1="573.7" x2="1469.1" y2="573.7" stroke="#eeee00"/><line x1="1513.4" y1="573.7" x2="1524.8" y2="573.7" stroke="#0a5ae6"/><line x1="1524.8" y1="573.7" x2="1536.2" y2="573.7" stroke="#eeee00"/><line x1="904.8" y1="597.3" x2="916.2" y2="597.3" stroke="#eeee00"/><line x1="960.9" y1="597.3" x2="972.3" y2="597.3" stroke="#0a5ae6"/><line x1="972.3" y1="597.3" x2="983.7" y2="597.3" stroke="#eeee00"/><line x1="1028.4" y1="597.3" x2="1039.8" y2="597.3" stroke="#0a5ae6"/><line x1="1039.8" y1="597.3" x2="1051.2" y2="597.3" stroke="#eeee00"/><line x1="1095.0" y1="597.3" x2="1106.4" y2="597.3" stroke="#4cbcc6"/><line x1="1106.4" y1="597.3" x2="1117.8" y2="597.3" stroke="#eeee00"/><line x1="1158.5" y1="597.3" x2="1169.9" y2="597.3" stroke="#4cbcc6"/><line x1="1169.9" y1="597.3" x2="1181.3" y2="597.3" stroke="#eeee00"/><line x1="1222.4" y1="597.3" x2="1233.8" y2="597.3" stroke="#4cbcc6"/><line x1="1233.8" y1="597.3" x2="1245.2" y2="597.3" stroke="#eeee00"/><line x1="1287.0" y1="597.3" x2="1298.4" y2="597.3" stroke="#4cbcc6"/><line x1="1298.4" y1="597.3" x2="1309.8" y2="597.3" stroke="#eeee00"/><line x1="1350.7" y1="597.3" x2="1362.1" y2="597.3" stroke="#4cbcc6"/><line x1="1362.1" y1="597.3" x2="1373.5" y2="597.3" stroke="#eeee00"/><line x1="1413.0" y1="597.3" x2="1424.4" y2="597.3" stroke="#0a5ae6"/><line x1="1424.4" y1="597.3" x2="1435.8" y2="597.3" stroke="#eeee00"/><line x1="1479.7" y1="597.3" x2="1491.1" y2="597.3" stroke="#0a5ae6"/><line x1="1491.1" y1="597.3" x2="1502.5" y2="597.3" stroke="#eeee00"/><line x1="1547.1" y1="597.3" x2="1558.5" y2="597.3" stroke="#0a5ae6"/><line x1="916.2" y1="597.3" x2="921.7" y2="585.5" stroke="#eeee00"/><line x1="921.7" y1="585.5" x2="927.1" y2="573.7" stroke="#0a5ae6"/><line x1="960.9" y1="597.3" x2="955.4" y2="585.5" stroke="#0a5ae6"/><line x1="955.4" y1="585.5" x2="949.9" y2="573.7" stroke="#eeee00"/><line x1="983.7" y1="597.3" x2="989.2" y2="585.5" stroke="#eeee00"/><line x1="989.2" y1="585.5" x2="994.7" y2="573.7" stroke="#0a5ae6"/><line x1="1028.4" y1="597.3" x2="1022.9" y2="585.5" stroke="#0a5ae6"/><line x1="1022.9" y1="585.5" x2="1017.5" y2="573.7" stroke="#eeee00"/><line x1="1051.2" y1="597.3" x2="1056.5" y2="585.5" stroke="#eeee00"/><line x1="1056.5" y1="585.5" x2="1061.7" y2="573.7" stroke="#0a5ae6"/><line x1="1095.0" y1="597.3" x2="1089.8" y2="585.5" stroke="#4cbcc6"/><line x1="1089.8" y1="585.5" x2="1084.5" y2="573.7" stroke="#eeee00"/><line x1="1117.8" y1="597.3" x2="1122.3" y2="585.5" stroke="#eeee00"/><line x1="1122.3" y1="585.5" x2="1126.8" y2="573.7" stroke="#4cbcc6"/><line x1="1158.5" y1="597.3" x2="1154.0" y2="585.5" stroke="#4cbcc6"/><line x1="1154.0" y1="585.5" x2="1149.5" y2="573.7" stroke="#eeee00"/><line x1="1181.3" y1="597.3" x2="1185.9" y2="585.5" stroke="#eeee00"/><line x1="1185.9" y1="585.5" x2="1190.5" y2="573.7" stroke="#4cbcc6"/><line x1="1222.4" y1="597.3" x2="1217.8" y2="585.5" stroke="#4cbcc6"/><line x1="1217.8" y1="585.5" x2="1213.2" y2="573.7" stroke="#eeee00"/><line x1="1245.2" y1="597.3" x2="1250.0" y2="585.5" stroke="#eeee00"/><line x1="1250.0" y1="585.5" x2="1254.7" y2="573.7" stroke="#4cbcc6"/><line x1="1287.0" y1="597.3" x2="1282.2" y2="585.5" stroke="#4cbcc6"/><line x1="1282.2" y1="585.5" x2="1277.5" y2="573.7" stroke="#eeee00"/><line x1="1309.8" y1="597.3" x2="1314.3" y2="585.5" stroke="#eeee00"/><line x1="1314.3" y1="585.5" x2="1318.8" y2="573.7" stroke="#4cbcc6"/><line x1="1350.7" y1="597.3" x2="1346.2" y2="585.5" stroke="#4cbcc6"/><line x1="1346.2" y1="585.5" x2="1341.6" y2="573.7" stroke="#eeee00"/><line x1="1373.5" y1="597.3" x2="1377.7" y2="585.5" stroke="#eeee00"/><line x1="1377.7" y1="585.5" x2="1381.8" y2="573.7" stroke="#4cbcc6"/><line x1="1413.0" y1="597.3" x2="1408.8" y2="585.5" stroke="#0a5ae6"/><line x1="1408.8" y1="585.5" x2="1404.6" y2="573.7" stroke="#eeee00"/><line x1="1435.8" y1="597.3" x2="1441.1" y2="585.5" stroke="#eeee00"/><line x1="1441.1" y1="585.5" x2="1446.3" y2="573.7" stroke="#0a5ae6"/><line x1="1479.7" y1="597.3" x2="1474.4" y2="585.5" stroke="#0a5ae6"/><line x1="1474.4" y1="585.5" x2="1469.1" y2="573.7" stroke="#eeee00"/><line x1="1502.5" y1="597.3" x2="1508.0" y2="585.5" stroke="#eeee00"/><line x1="1508.0" y1="585.5" x2="1513.4" y2="573.7" stroke="#0a5ae6"/><line x1="1547.1" y1="597.3" x2="1541.7" y2="585.5" stroke="#0a5ae6"/><line x1="1541.7" y1="585.5" x2="1536.2" y2="573.7" stroke="#eeee00"/><line x1="916.2" y1="597.3" x2="921.7" y2="609.0" stroke="#eeee00"/><line x1="921.7" y1="609.0" x2="927.1" y2="620.8" stroke="#0a5ae6"/><line x1="960.9" y1="597.3" x2="955.4" y2="609.0" stroke="#0a5ae6"/><line x1="955.4" y1="609.0" x2="949.9" y2="620.8" stroke="#eeee00"/><line x1="983.7" y1="597.3" x2="989.2" y2="609.0" stroke="#eeee00"/><line x1="989.2" y1="609.0" x2="994.7" y2="620.8" stroke="#0a5ae6"/><line x1="1028.4" y1="597.3" x2="1022.9" y2="609.0" stroke="#0a5ae6"/><line x1="1022.9" y1="609.0" x2="1017.5" y2="620.8" stroke="#eeee00"/><line x1="1051.2" y1="597.3" x2="1056.5" y2="609.0" stroke="#eeee00"/><line x1="1056.5" y1="609.0" x2="1061.7" y2="620.8" stroke="#0a5ae6"/><line x1="1095.0" y1="597.3" x2="1089.8" y2="609.0" stroke="#4cbcc6"/><line x1="1089.8" y1="609.0" x2="1084.5" y2="620.8" stroke="#eeee00"/><line x1="1117.8" y1="597.3" x2="1122.3" y2="609.0" stroke="#eeee00"/><line x1="1122.3" y1="609.0" x2="1126.8" y2="620.8" stroke="#4cbcc6"/><line x1="1158.5" y1="597.3" x2="1154.0" y2="609.0" stroke="#4cbcc6"/><line x1="1154.0" y1="609.0" x2="1149.5" y2="620.8" stroke="#eeee00"/><line x1="1181.3" y1="597.3" x2="1185.9" y2="609.0" stroke="#eeee00"/><line x1="1185.9" y1="609.0" x2="1190.5" y2="620.8" stroke="#4cbcc6"/><line x1="1222.4" y1="597.3" x2="1217.8" y2="609.0" stroke="#4cbcc6"/><line x1="1217.8" y1="609.0" x2="1213.2" y2="620.8" stroke="#eeee00"/><line x1="1245.2" y1="597.3" x2="1250.0" y2="609.0" stroke="#eeee00"/><line x1="1250.0" y1="609.0" x2="1254.7" y2="620.8" stroke="#4cbcc6"/><line x1="1287.0" y1="597.3" x2="1282.2" y2="609.0" stroke="#4cbcc6"/><line x1="1282.2" y1="609.0" x2="1277.5" y2="620.8" stroke="#eeee00"/><line x1="1309.8" y1="597.3" x2="1314.3" y2="609.0" stroke="#eeee00"/><line x1="1314.3" y1="609.0" x2="1318.8" y2="620.8" stroke="#4cbcc6"/><line x1="1350.7" y1="597.3" x2="1346.2" y2="609.0" stroke="#4cbcc6"/><line x1="1346.2" y1="609.0" x2="1341.6" y2="620.8" stroke="#eeee00"/><line x1="1373.5" y1="597.3" x2="1377.7" y2="609.0" stroke="#eeee00"/><line x1="1377.7" y1="609.0" x2="1381.8" y2="620.8" stroke="#4cbcc6"/><line x1="1413.0" y1="597.3" x2="1408.8" y2="609.0" stroke="#0a5ae6"/><line x1="1408.8" y1="609.0" x2="1404.6" y2="620.8" stroke="#eeee00"/><line x1="1435.8" y1="597.3" x2="1441.1" y2="609.0" stroke="#eeee00"/><line x1="1441.1" y1="609.0" x2="1446.3" y2="620.8" stroke="#0a5ae6"/><line x1="1479.7" y1="597.3" x2="1474.4" y2="609.0" stroke="#0a5ae6"/><line x1="1474.4" y1="609.0" x2="1469.1" y2="620.8" stroke="#eeee00"/><line x1="1502.5" y1="597.3" x2="1508.0" y2="609.0" stroke="#eeee00"/><line x1="1508.0" y1="609.0" x2="1513.4" y2="620.8" stroke="#0a5ae6"/><line x1="1547.1" y1="597.3" x2="1541.7" y2="609.0" stroke="#0a5ae6"/><line x1="1541.7" y1="609.0" x2="1536.2" y2="620.8" stroke="#eeee00"/><line x1="927.1" y1="620.8" x2="938.5" y2="620.8" stroke="#0a5ae6"/><line x1="938.5" y1="620.8" x2="949.9" y2="620.8" stroke="#eeee00"/><line x1="994.7" y1="620.8" x2="1006.1" y2="620.8" stroke="#0a5ae6"/><line x1="1006.1" y1="620.8" x2="1017.5" y2="620.8" stroke="#eeee00"/><line x1="1061.7" y1="620.8" x2="1073.1" y2="620.8" stroke="#0a5ae6"/><line x1="1073.1" y1="620.8" x2="1084.5" y2="620.8" stroke="#eeee00"/><line x1="1126.8" y1="620.8" x2="1138.2" y2="620.8" stroke="#4cbcc6"/><line x1="1138.2" y1="620.8" x2="1149.5" y2="620.8" stroke="#eeee00"/><line x1="1190.5" y1="620.8" x2="1201.8" y2="620.8" stroke="#4cbcc6"/><line x1="1201.8" y1="620.8" x2="1213.2" y2="620.8" stroke="#eeee00"/><line x1="1254.7" y1="620.8" x2="1266.1" y2="620.8" stroke="#4cbcc6"/><line x1="1266.1" y1="620.8" x2="1277.5" y2="620.8" stroke="#eeee00"/><line x1="1318.8" y1="620.8" x2="1330.2" y2="620.8" stroke="#4cbcc6"/><line x1="1330.2" y1="620.8" x2="1341.6" y2="620.8" stroke="#eeee00"/><line x1="1381.8" y1="620.8" x2="1393.2" y2="620.8" stroke="#4cbcc6"/><line x1="1393.2" y1="620.8" x2="1404.6" y2="620.8" stroke="#eeee00"/><line x1="1446.3" y1="620.8" x2="1457.8" y2="620.8" stroke="#0a5ae6"/><line x1="1457.8" y1="620.8" x2="1469.1" y2="620.8" stroke="#eeee00"/><line x1="1513.4" y1="620.8" x2="1524.8" y2="620.8" stroke="#0a5ae6"/><line x1="1524.8" y1="620.8" x2="1536.2" y2="620.8" stroke="#eeee00"/><line x1="907.0" y1="642.0" x2="916.2" y2="642.0" stroke="#eeee00"/><line x1="965.4" y1="642.0" x2="974.5" y2="642.0" stroke="#0a5ae6"/><line x1="974.5" y1="642.0" x2="983.7" y2="642.0" stroke="#eeee00"/><line x1="1032.9" y1="642.0" x2="1042.1" y2="642.0" stroke="#0a5ae6"/><line x1="1042.1" y1="642.0" x2="1051.2" y2="642.0" stroke="#eeee00"/><line x1="1097.5" y1="642.0" x2="1107.7" y2="642.0" stroke="#4cbcc6"/><line x1="1107.7" y1="642.0" x2="1117.8" y2="642.0" stroke="#eeee00"/><line x1="1161.0" y1="642.0" x2="1171.2" y2="642.0" stroke="#4cbcc6"/><line x1="1171.2" y1="642.0" x2="1181.3" y2="642.0" stroke="#eeee00"/><line x1="1224.9" y1="642.0" x2="1235.1" y2="642.0" stroke="#4cbcc6"/><line x1="1235.1" y1="642.0" x2="1245.2" y2="642.0" stroke="#eeee00"/><line x1="1289.5" y1="642.0" x2="1299.7" y2="642.0" stroke="#4cbcc6"/><line x1="1299.7" y1="642.0" x2="1309.8" y2="642.0" stroke="#eeee00"/><line x1="1353.2" y1="642.0" x2="1363.3" y2="642.0" stroke="#4cbcc6"/><line x1="1363.3" y1="642.0" x2="1373.5" y2="642.0" stroke="#eeee00"/><line x1="1417.5" y1="642.0" x2="1426.7" y2="642.0" stroke="#0a5ae6"/><line x1="1426.7" y1="642.0" x2="1435.8" y2="642.0" stroke="#eeee00"/><line x1="1484.2" y1="642.0" x2="1493.3" y2="642.0" stroke="#0a5ae6"/><line x1="1493.3" y1="642.0" x2="1502.5" y2="642.0" stroke="#eeee00"/><line x1="1551.6" y1="642.0" x2="1560.8" y2="642.0" stroke="#0a5ae6"/><line x1="916.2" y1="642.0" x2="921.7" y2="631.4" stroke="#eeee00"/><line x1="921.7" y1="631.4" x2="927.1" y2="620.8" stroke="#0a5ae6"/><line x1="965.4" y1="642.0" x2="957.7" y2="631.4" stroke="#0a5ae6"/><line x1="957.7" y1="631.4" x2="949.9" y2="620.8" stroke="#eeee00"/><line x1="983.7" y1="642.0" x2="989.2" y2="631.4" stroke="#eeee00"/><line x1="989.2" y1="631.4" x2="994.7" y2="620.8" stroke="#0a5ae6"/><line x1="1032.9" y1="642.0" x2="1025.2" y2="631.4" stroke="#0a5ae6"/><line x1="1025.2" y1="631.4" x2="1017.5" y2="620.8" stroke="#eeee00"/><line x1="1051.2" y1="642.0" x2="1056.5" y2="631.4" stroke="#eeee00"/><line x1="1056.5" y1="631.4" x2="1061.7" y2="620.8" stroke="#0a5ae6"/><line x1="1097.5" y1="642.0" x2="1091.0" y2="631.4" stroke="#4cbcc6"/><line x1="1091.0" y1="631.4" x2="1084.5" y2="620.8" stroke="#eeee00"/><line x1="1117.8" y1="642.0" x2="1122.3" y2="631.4" stroke="#eeee00"/><line x1="1122.3" y1="631.4" x2="1126.8" y2="620.8" stroke="#4cbcc6"/><line x1="1161.0" y1="642.0" x2="1155.3" y2="631.4" stroke="#4cbcc6"/><line x1="1155.3" y1="631.4" x2="1149.5" y2="620.8" stroke="#eeee00"/><line x1="1181.3" y1="642.0" x2="1185.9" y2="631.4" stroke="#eeee00"/><line x1="1185.9" y1="631.4" x2="1190.5" y2="620.8" stroke="#4cbcc6"/><line x1="1224.9" y1="642.0" x2="1219.1" y2="631.4" stroke="#4cbcc6"/><line x1="1219.1" y1="631.4" x2="1213.2" y2="620.8" stroke="#eeee00"/><line x1="1245.2" y1="642.0" x2="1250.0" y2="631.4" stroke="#eeee00"/><line x1="1250.0" y1="631.4" x2="1254.7" y2="620.8" stroke="#4cbcc6"/><line x1="1289.5" y1="642.0" x2="1283.5" y2="631.4" stroke="#4cbcc6"/><line x1="1283.5" y1="631.4" x2="1277.5" y2="620.8" stroke="#eeee00"/><line x1="1309.8" y1="642.0" x2="1314.3" y2="631.4" stroke="#eeee00"/><line x1="1314.3" y1="631.4" x2="1318.8" y2="620.8" stroke="#4cbcc6"/><line x1="1353.2" y1="642.0" x2="1347.4" y2="631.4" stroke="#4cbcc6"/><line x1="1347.4" y1="631.4" x2="1341.6" y2="620.8" stroke="#eeee00"/><line x1="1373.5" y1="642.0" x2="1377.7" y2="631.4" stroke="#eeee00"/><line x1="1377.7" y1="631.4" x2="1381.8" y2="620.8" stroke="#4cbcc6"/><line x1="1417.5" y1="642.0" x2="1411.1" y2="631.4" stroke="#0a5ae6"/><line x1="1411.1" y1="631.4" x2="1404.6" y2="620.8" stroke="#eeee00"/><line x1="1435.8" y1="642.0" x2="1441.1" y2="631.4" stroke="#eeee00"/><line x1="1441.1" y1="631.4" x2="1446.3" y2="620.8" stroke="#0a5ae6"/><line x1="1484.2" y1="642.0" x2="1476.7" y2="631.4" stroke="#0a5ae6"/><line x1="1476.7" y1="631.4" x2="1469.1" y2="620.8" stroke="#eeee00"/><line x1="1502.5" y1="642.0" x2="1508.0" y2="631.4" stroke="#eeee00"/><line x1="1508.0" y1="631.4" x2="1513.4" y2="620.8" stroke="#0a5ae6"/><line x1="1551.6" y1="642.0" x2="1543.9" y2="631.4" stroke="#0a5ae6"/><line x1="1543.9" y1="631.4" x2="1536.2" y2="620.8" stroke="#eeee00"/><line x1="930.6" y1="484.8" x2="945.8" y2="494.4" stroke="#0a5ae6"/><line x1="945.8" y1="494.4" x2="960.9" y2="503.9" stroke="#0a5ae6"/><line x1="998.2" y1="484.8" x2="1013.3" y2="494.4" stroke="#0a5ae6"/><line x1="1013.3" y1="494.4" x2="1028.4" y2="503.9" stroke="#0a5ae6"/><line x1="1385.3" y1="484.8" x2="1399.2" y2="494.4" stroke="#4cbcc6"/><line x1="1399.2" y1="494.4" x2="1413.0" y2="503.9" stroke="#0a5ae6"/><line x1="1449.8" y1="484.8" x2="1464.8" y2="494.4" stroke="#0a5ae6"/><line x1="1464.8" y1="494.4" x2="1479.7" y2="503.9" stroke="#0a5ae6"/><line x1="1516.9" y1="484.8" x2="1532.0" y2="494.4" stroke="#0a5ae6"/><line x1="1532.0" y1="494.4" x2="1547.1" y2="503.9" stroke="#0a5ae6"/><line x1="912.5" y1="631.4" x2="927.1" y2="620.8" stroke="#0a5ae6"/><line x1="965.4" y1="642.0" x2="980.0" y2="631.4" stroke="#0a5ae6"/><line x1="980.0" y1="631.4" x2="994.7" y2="620.8" stroke="#0a5ae6"/><line x1="1032.9" y1="642.0" x2="1047.3" y2="631.4" stroke="#0a5ae6"/><line x1="1047.3" y1="631.4" x2="1061.7" y2="620.8" stroke="#0a5ae6"/><line x1="1417.5" y1="642.0" x2="1431.9" y2="631.4" stroke="#0a5ae6"/><line x1="1431.9" y1="631.4" x2="1446.3" y2="620.8" stroke="#0a5ae6"/><line x1="1484.2" y1="642.0" x2="1498.8" y2="631.4" stroke="#0a5ae6"/><line x1="1498.8" y1="631.4" x2="1513.4" y2="620.8" stroke="#0a5ae6"/><line x1="1551.6" y1="642.0" x2="1566.2" y2="631.4" stroke="#0a5ae6"/></g><ellipse cx="930.6" cy="484.8" rx="5.5" ry="6.3" fill="url(#gMb)"/><ellipse cx="949.9" cy="483.6" rx="5.7" ry="6.4" fill="url(#gS)"/><ellipse cx="998.2" cy="484.8" rx="5.5" ry="6.3" fill="url(#gMb)"/><ellipse cx="1017.5" cy="483.6" rx="5.7" ry="6.4" fill="url(#gS)"/><ellipse cx="1065.2" cy="484.8" rx="5.5" ry="6.3" fill="url(#gMb)"/><ellipse cx="1084.5" cy="483.6" rx="5.7" ry="6.4" fill="url(#gS)"/><ellipse cx="1130.2" cy="484.8" rx="5.5" ry="6.1" fill="url(#gMc)"/><ellipse cx="1149.5" cy="483.6" rx="5.7" ry="6.4" fill="url(#gS)"/><ellipse cx="1194.0" cy="484.8" rx="5.5" ry="6.1" fill="url(#gMc)"/><ellipse cx="1213.2" cy="483.6" rx="5.7" ry="6.4" fill="url(#gS)"/><ellipse cx="1258.2" cy="484.8" rx="5.5" ry="6.1" fill="url(#gMc)"/><ellipse cx="1277.5" cy="483.6" rx="5.7" ry="6.4" fill="url(#gS)"/><ellipse cx="1322.3" cy="484.8" rx="5.5" ry="6.1" fill="url(#gMc)"/><ellipse cx="1341.6" cy="483.6" rx="5.7" ry="6.4" fill="url(#gS)"/><ellipse cx="1385.3" cy="484.8" rx="5.5" ry="6.1" fill="url(#gMc)"/><ellipse cx="1404.6" cy="483.6" rx="5.7" ry="6.4" fill="url(#gS)"/><ellipse cx="1449.8" cy="484.8" rx="5.5" ry="6.3" fill="url(#gMb)"/><ellipse cx="1469.1" cy="483.6" rx="5.7" ry="6.4" fill="url(#gS)"/><ellipse cx="1516.9" cy="484.8" rx="5.5" ry="6.3" fill="url(#gMb)"/><ellipse cx="1536.2" cy="483.6" rx="5.7" ry="6.4" fill="url(#gS)"/><ellipse cx="916.2" cy="503.9" rx="5.7" ry="6.4" fill="url(#gS)"/><ellipse cx="960.9" cy="503.9" rx="5.5" ry="6.3" fill="url(#gMb)"/><ellipse cx="983.7" cy="503.9" rx="5.7" ry="6.4" fill="url(#gS)"/><ellipse cx="1028.4" cy="503.9" rx="5.5" ry="6.3" fill="url(#gMb)"/><ellipse cx="1051.2" cy="503.9" rx="5.7" ry="6.4" fill="url(#gS)"/><ellipse cx="1095.0" cy="503.9" rx="5.5" ry="6.1" fill="url(#gMc)"/><ellipse cx="1117.8" cy="503.9" rx="5.7" ry="6.4" fill="url(#gS)"/><ellipse cx="1158.5" cy="503.9" rx="5.5" ry="6.1" fill="url(#gMc)"/><ellipse cx="1181.3" cy="503.9" rx="5.7" ry="6.4" fill="url(#gS)"/><ellipse cx="1222.4" cy="503.9" rx="5.5" ry="6.1" fill="url(#gMc)"/><ellipse cx="1245.2" cy="503.9" rx="5.7" ry="6.4" fill="url(#gS)"/><ellipse cx="1287.0" cy="503.9" rx="5.5" ry="6.1" fill="url(#gMc)"/><ellipse cx="1309.8" cy="503.9" rx="5.7" ry="6.4" fill="url(#gS)"/><ellipse cx="1350.7" cy="503.9" rx="5.5" ry="6.1" fill="url(#gMc)"/><ellipse cx="1373.5" cy="503.9" rx="5.7" ry="6.4" fill="url(#gS)"/><ellipse cx="1413.0" cy="503.9" rx="5.5" ry="6.3" fill="url(#gMb)"/><ellipse cx="1435.8" cy="503.9" rx="5.7" ry="6.4" fill="url(#gS)"/><ellipse cx="1479.7" cy="503.9" rx="5.5" ry="6.3" fill="url(#gMb)"/><ellipse cx="1502.5" cy="503.9" rx="5.7" ry="6.4" fill="url(#gS)"/><ellipse cx="1547.1" cy="503.9" rx="5.5" ry="6.3" fill="url(#gMb)"/><ellipse cx="927.1" cy="526.6" rx="5.5" ry="6.3" fill="url(#gMb)"/><ellipse cx="949.9" cy="526.6" rx="5.7" ry="6.4" fill="url(#gS)"/><ellipse cx="994.7" cy="526.6" rx="5.5" ry="6.3" fill="url(#gMb)"/><ellipse cx="1017.5" cy="526.6" rx="5.7" ry="6.4" fill="url(#gS)"/><ellipse cx="1061.7" cy="526.6" rx="5.5" ry="6.3" fill="url(#gMb)"/><ellipse cx="1084.5" cy="526.6" rx="5.7" ry="6.4" fill="url(#gS)"/><ellipse cx="1126.8" cy="526.6" rx="5.5" ry="6.1" fill="url(#gMc)"/><ellipse cx="1149.5" cy="526.6" rx="5.7" ry="6.4" fill="url(#gS)"/><ellipse cx="1190.5" cy="526.6" rx="5.5" ry="6.1" fill="url(#gMc)"/><ellipse cx="1213.2" cy="526.6" rx="5.7" ry="6.4" fill="url(#gS)"/><ellipse cx="1254.7" cy="526.6" rx="5.5" ry="6.1" fill="url(#gMc)"/><ellipse cx="1277.5" cy="526.6" rx="5.7" ry="6.4" fill="url(#gS)"/><ellipse cx="1318.8" cy="526.6" rx="5.5" ry="6.1" fill="url(#gMc)"/><ellipse cx="1341.6" cy="526.6" rx="5.7" ry="6.4" fill="url(#gS)"/><ellipse cx="1381.8" cy="526.6" rx="5.5" ry="6.1" fill="url(#gMc)"/><ellipse cx="1404.6" cy="526.6" rx="5.7" ry="6.4" fill="url(#gS)"/><ellipse cx="1446.3" cy="526.6" rx="5.5" ry="6.3" fill="url(#gMb)"/><ellipse cx="1469.1" cy="526.6" rx="5.7" ry="6.4" fill="url(#gS)"/><ellipse cx="1513.4" cy="526.6" rx="5.5" ry="6.3" fill="url(#gMb)"/><ellipse cx="1536.2" cy="526.6" rx="5.7" ry="6.4" fill="url(#gS)"/><ellipse cx="916.2" cy="550.2" rx="5.7" ry="6.4" fill="url(#gS)"/><ellipse cx="960.9" cy="550.2" rx="5.5" ry="6.3" fill="url(#gMb)"/><ellipse cx="983.7" cy="550.2" rx="5.7" ry="6.4" fill="url(#gS)"/><ellipse cx="1028.4" cy="550.2" rx="5.5" ry="6.3" fill="url(#gMb)"/><ellipse cx="1051.2" cy="550.2" rx="5.7" ry="6.4" fill="url(#gS)"/><ellipse cx="1117.8" cy="550.2" rx="5.7" ry="6.4" fill="url(#gS)"/><ellipse cx="1158.5" cy="550.2" rx="5.5" ry="6.1" fill="url(#gMc)"/><ellipse cx="1181.3" cy="550.2" rx="5.7" ry="6.4" fill="url(#gS)"/><ellipse cx="1222.4" cy="550.2" rx="5.5" ry="6.1" fill="url(#gMc)"/><ellipse cx="1245.2" cy="550.2" rx="5.7" ry="6.4" fill="url(#gS)"/><ellipse cx="1287.0" cy="550.2" rx="5.5" ry="6.1" fill="url(#gMc)"/><ellipse cx="1309.8" cy="550.2" rx="5.7" ry="6.4" fill="url(#gS)"/><ellipse cx="1350.7" cy="550.2" rx="5.5" ry="6.1" fill="url(#gMc)"/><ellipse cx="1373.5" cy="550.2" rx="5.7" ry="6.4" fill="url(#gS)"/><ellipse cx="1413.0" cy="550.2" rx="5.5" ry="6.3" fill="url(#gMb)"/><ellipse cx="1435.8" cy="550.2" rx="5.7" ry="6.4" fill="url(#gS)"/><ellipse cx="1479.7" cy="550.2" rx="5.5" ry="6.3" fill="url(#gMb)"/><ellipse cx="1502.5" cy="550.2" rx="5.7" ry="6.4" fill="url(#gS)"/><ellipse cx="1547.1" cy="550.2" rx="5.5" ry="6.3" fill="url(#gMb)"/><ellipse cx="927.1" cy="573.7" rx="5.5" ry="6.3" fill="url(#gMb)"/><ellipse cx="949.9" cy="573.7" rx="5.7" ry="6.4" fill="url(#gS)"/><ellipse cx="994.7" cy="573.7" rx="5.5" ry="6.3" fill="url(#gMb)"/><ellipse cx="1017.5" cy="573.7" rx="5.7" ry="6.4" fill="url(#gS)"/><ellipse cx="1061.7" cy="573.7" rx="5.5" ry="6.3" fill="url(#gMb)"/><ellipse cx="1084.5" cy="573.7" rx="5.7" ry="6.4" fill="url(#gS)"/><ellipse cx="1126.8" cy="573.7" rx="5.5" ry="6.1" fill="url(#gMc)"/><ellipse cx="1149.5" cy="573.7" rx="5.7" ry="6.4" fill="url(#gS)"/><ellipse cx="1190.5" cy="573.7" rx="5.5" ry="6.1" fill="url(#gMc)"/><ellipse cx="1213.2" cy="573.7" rx="5.7" ry="6.4" fill="url(#gS)"/><ellipse cx="1254.7" cy="573.7" rx="5.5" ry="6.1" fill="url(#gMc)"/><ellipse cx="1277.5" cy="573.7" rx="5.7" ry="6.4" fill="url(#gS)"/><ellipse cx="1318.8" cy="573.7" rx="5.5" ry="6.1" fill="url(#gMc)"/><ellipse cx="1341.6" cy="573.7" rx="5.7" ry="6.4" fill="url(#gS)"/><ellipse cx="1381.8" cy="573.7" rx="5.5" ry="6.1" fill="url(#gMc)"/><ellipse cx="1404.6" cy="573.7" rx="5.7" ry="6.4" fill="url(#gS)"/><ellipse cx="1446.3" cy="573.7" rx="5.5" ry="6.3" fill="url(#gMb)"/><ellipse cx="1469.1" cy="573.7" rx="5.7" ry="6.4" fill="url(#gS)"/><ellipse cx="1513.4" cy="573.7" rx="5.5" ry="6.3" fill="url(#gMb)"/><ellipse cx="1536.2" cy="573.7" rx="5.7" ry="6.4" fill="url(#gS)"/><ellipse cx="916.2" cy="597.3" rx="5.7" ry="6.4" fill="url(#gS)"/><ellipse cx="960.9" cy="597.3" rx="5.5" ry="6.3" fill="url(#gMb)"/><ellipse cx="983.7" cy="597.3" rx="5.7" ry="6.4" fill="url(#gS)"/><ellipse cx="1028.4" cy="597.3" rx="5.5" ry="6.3" fill="url(#gMb)"/><ellipse cx="1051.2" cy="597.3" rx="5.7" ry="6.4" fill="url(#gS)"/><ellipse cx="1095.0" cy="597.3" rx="5.5" ry="6.1" fill="url(#gMc)"/><ellipse cx="1117.8" cy="597.3" rx="5.7" ry="6.4" fill="url(#gS)"/><ellipse cx="1158.5" cy="597.3" rx="5.5" ry="6.1" fill="url(#gMc)"/><ellipse cx="1181.3" cy="597.3" rx="5.7" ry="6.4" fill="url(#gS)"/><ellipse cx="1222.4" cy="597.3" rx="5.5" ry="6.1" fill="url(#gMc)"/><ellipse cx="1245.2" cy="597.3" rx="5.7" ry="6.4" fill="url(#gS)"/><ellipse cx="1287.0" cy="597.3" rx="5.5" ry="6.1" fill="url(#gMc)"/><ellipse cx="1309.8" cy="597.3" rx="5.7" ry="6.4" fill="url(#gS)"/><ellipse cx="1350.7" cy="597.3" rx="5.5" ry="6.1" fill="url(#gMc)"/><ellipse cx="1373.5" cy="597.3" rx="5.7" ry="6.4" fill="url(#gS)"/><ellipse cx="1413.0" cy="597.3" rx="5.5" ry="6.3" fill="url(#gMb)"/><ellipse cx="1435.8" cy="597.3" rx="5.7" ry="6.4" fill="url(#gS)"/><ellipse cx="1479.7" cy="597.3" rx="5.5" ry="6.3" fill="url(#gMb)"/><ellipse cx="1502.5" cy="597.3" rx="5.7" ry="6.4" fill="url(#gS)"/><ellipse cx="1547.1" cy="597.3" rx="5.5" ry="6.3" fill="url(#gMb)"/><ellipse cx="927.1" cy="620.8" rx="5.5" ry="6.3" fill="url(#gMb)"/><ellipse cx="949.9" cy="620.8" rx="5.7" ry="6.4" fill="url(#gS)"/><ellipse cx="994.7" cy="620.8" rx="5.5" ry="6.3" fill="url(#gMb)"/><ellipse cx="1017.5" cy="620.8" rx="5.7" ry="6.4" fill="url(#gS)"/><ellipse cx="1061.7" cy="620.8" rx="5.5" ry="6.3" fill="url(#gMb)"/><ellipse cx="1084.5" cy="620.8" rx="5.7" ry="6.4" fill="url(#gS)"/><ellipse cx="1126.8" cy="620.8" rx="5.5" ry="6.1" fill="url(#gMc)"/><ellipse cx="1149.5" cy="620.8" rx="5.7" ry="6.4" fill="url(#gS)"/><ellipse cx="1190.5" cy="620.8" rx="5.5" ry="6.1" fill="url(#gMc)"/><ellipse cx="1213.2" cy="620.8" rx="5.7" ry="6.4" fill="url(#gS)"/><ellipse cx="1254.7" cy="620.8" rx="5.5" ry="6.1" fill="url(#gMc)"/><ellipse cx="1277.5" cy="620.8" rx="5.7" ry="6.4" fill="url(#gS)"/><ellipse cx="1318.8" cy="620.8" rx="5.5" ry="6.1" fill="url(#gMc)"/><ellipse cx="1341.6" cy="620.8" rx="5.7" ry="6.4" fill="url(#gS)"/><ellipse cx="1381.8" cy="620.8" rx="5.5" ry="6.1" fill="url(#gMc)"/><ellipse cx="1404.6" cy="620.8" rx="5.7" ry="6.4" fill="url(#gS)"/><ellipse cx="1446.3" cy="620.8" rx="5.5" ry="6.3" fill="url(#gMb)"/><ellipse cx="1469.1" cy="620.8" rx="5.7" ry="6.4" fill="url(#gS)"/><ellipse cx="1513.4" cy="620.8" rx="5.5" ry="6.3" fill="url(#gMb)"/><ellipse cx="1536.2" cy="620.8" rx="5.7" ry="6.4" fill="url(#gS)"/><ellipse cx="916.2" cy="642.0" rx="5.7" ry="6.4" fill="url(#gS)"/><ellipse cx="965.4" cy="642.0" rx="5.5" ry="6.3" fill="url(#gMb)"/><ellipse cx="983.7" cy="642.0" rx="5.7" ry="6.4" fill="url(#gS)"/><ellipse cx="1032.9" cy="642.0" rx="5.5" ry="6.3" fill="url(#gMb)"/><ellipse cx="1051.2" cy="642.0" rx="5.7" ry="6.4" fill="url(#gS)"/><ellipse cx="1097.5" cy="642.0" rx="5.5" ry="6.1" fill="url(#gMc)"/><ellipse cx="1117.8" cy="642.0" rx="5.7" ry="6.4" fill="url(#gS)"/><ellipse cx="1161.0" cy="642.0" rx="5.5" ry="6.1" fill="url(#gMc)"/><ellipse cx="1181.3" cy="642.0" rx="5.7" ry="6.4" fill="url(#gS)"/><ellipse cx="1224.9" cy="642.0" rx="5.5" ry="6.1" fill="url(#gMc)"/><ellipse cx="1245.2" cy="642.0" rx="5.7" ry="6.4" fill="url(#gS)"/><ellipse cx="1289.5" cy="642.0" rx="5.5" ry="6.1" fill="url(#gMc)"/><ellipse cx="1309.8" cy="642.0" rx="5.7" ry="6.4" fill="url(#gS)"/><ellipse cx="1353.2" cy="642.0" rx="5.5" ry="6.1" fill="url(#gMc)"/><ellipse cx="1373.5" cy="642.0" rx="5.7" ry="6.4" fill="url(#gS)"/><ellipse cx="1417.5" cy="642.0" rx="5.5" ry="6.3" fill="url(#gMb)"/><ellipse cx="1435.8" cy="642.0" rx="5.7" ry="6.4" fill="url(#gS)"/><ellipse cx="1484.2" cy="642.0" rx="5.5" ry="6.3" fill="url(#gMb)"/><ellipse cx="1502.5" cy="642.0" rx="5.7" ry="6.4" fill="url(#gS)"/><ellipse cx="1551.6" cy="642.0" rx="5.5" ry="6.3" fill="url(#gMb)"/>
<ellipse cx="1190" cy="476" rx="10" ry="11" fill="url(#gL)"/><ellipse cx="1187.8" cy="479.7" rx="11.3" ry="12.9" fill="url(#gM)"/><ellipse cx="1195" cy="495" rx="8" ry="9.7" fill="url(#gL)"/><ellipse cx="1215.1" cy="474.9" rx="6.4" ry="7.2" fill="url(#gL)"/><ellipse cx="1210.3" cy="491.8" rx="4.8" ry="4" fill="url(#gM)"/><ellipse cx="1220.8" cy="500.6" rx="4.8" ry="5.6" fill="url(#gM)"/><ellipse cx="1223.2" cy="511.9" rx="4" ry="4.8" fill="url(#gL)"/><ellipse cx="1222" cy="496" rx="3" ry="3" fill="url(#gL)"/><ellipse cx="1123.4" cy="479.7" rx="6.4" ry="8" fill="url(#gL)"/><ellipse cx="1129.9" cy="488.5" rx="5.6" ry="7.2" fill="url(#gM)"/><ellipse cx="1131.5" cy="497.4" rx="4" ry="4" fill="url(#gL)"/><ellipse cx="1089.7" cy="497.4" rx="3.2" ry="4" fill="url(#gL)"/><ellipse cx="1092.9" cy="507" rx="5" ry="2.5" fill="url(#gM)" transform="rotate(10 1092.9 507)"/><ellipse cx="1097.7" cy="513.5" rx="4" ry="4.5" fill="url(#gL)"/><ellipse cx="1172.5" cy="507.8" rx="4" ry="4" fill="url(#gL)"/><ellipse cx="1187" cy="525.5" rx="3.2" ry="4" fill="url(#gM)"/><ellipse cx="1192.6" cy="532.8" rx="2.5" ry="2.5" fill="url(#gL)"/><ellipse cx="1107.3" cy="550.5" rx="4.8" ry="6.4" fill="url(#gM)"/><ellipse cx="1121" cy="552" rx="4.8" ry="7.2" fill="url(#gL)"/><ellipse cx="1117.8" cy="573" rx="4.8" ry="5.6" fill="url(#gL)"/><ellipse cx="1125" cy="574.6" rx="2.4" ry="4.8" fill="url(#gM)"/><ellipse cx="1132.3" cy="576.2" rx="4" ry="4.8" fill="url(#gL)"/><ellipse cx="1098.5" cy="585.9" rx="5.6" ry="5.6" fill="url(#gL)"/><ellipse cx="1092" cy="595.5" rx="7.2" ry="3.5" fill="url(#gM)" transform="rotate(20 1092 595.5)"/><ellipse cx="1088.8" cy="605.2" rx="4" ry="5.6" fill="url(#gL)"/><ellipse cx="1154.8" cy="598.7" rx="4" ry="4.8" fill="url(#gM)"/><ellipse cx="1157" cy="592" rx="2.5" ry="2.5" fill="url(#gL)"/><ellipse cx="1146" cy="616.4" rx="4" ry="4" fill="url(#gL)"/><ellipse cx="1192.6" cy="615.6" rx="4" ry="4" fill="url(#gM)"/><ellipse cx="1189.4" cy="626.1" rx="4" ry="4.8" fill="url(#gM)"/><ellipse cx="1194" cy="620" rx="2.5" ry="2.5" fill="url(#gL)"/><ellipse cx="1163" cy="627" rx="7" ry="8" fill="url(#gM)"/><ellipse cx="1158.8" cy="632.5" rx="11.3" ry="11.3" fill="url(#gL)"/><ellipse cx="1155.6" cy="648.6" rx="11.3" ry="12" fill="url(#gM)"/><ellipse cx="1177.3" cy="632.5" rx="7.2" ry="8.8" fill="url(#gL)"/><ellipse cx="1183" cy="651" rx="7.2" ry="8" fill="url(#gM)"/><ellipse cx="1182" cy="646" rx="4" ry="4" fill="url(#gL)"/><ellipse cx="1231.2" cy="629.3" rx="5.6" ry="6.4" fill="url(#gM)"/><ellipse cx="1218.4" cy="632.5" rx="6.4" ry="8" fill="url(#gL)"/><ellipse cx="1220" cy="647" rx="8.8" ry="9.7" fill="url(#gM)"/><ellipse cx="1230.4" cy="640.6" rx="5.6" ry="7.2" fill="url(#gL)"/><ellipse cx="1242.5" cy="635.7" rx="4.8" ry="5.6" fill="url(#gL)"/><ellipse cx="1245.7" cy="648.6" rx="4" ry="4" fill="url(#gM)"/><ellipse cx="1289" cy="633" rx="3.2" ry="7.2" fill="url(#gM)" transform="rotate(30 1289 633)"/><ellipse cx="1282.5" cy="648.5" rx="4" ry="6.4" fill="url(#gM)" transform="rotate(30 1282.5 648.5)"/><ellipse cx="1282" cy="634.5" rx="4" ry="5.6" fill="url(#gL)"/><ellipse cx="1295.5" cy="642" rx="4" ry="4.8" fill="url(#gL)"/><ellipse cx="1218" cy="599" rx="3" ry="3.5" fill="url(#gM)"/><ellipse cx="1225" cy="594" rx="2.5" ry="2.5" fill="url(#gL)"/><ellipse cx="1281" cy="590" rx="3" ry="3" fill="url(#gL)"/><ellipse cx="1286" cy="597" rx="2" ry="3" fill="url(#gM)"/><ellipse cx="1291" cy="602" rx="2.5" ry="2.5" fill="url(#gL)"/><ellipse cx="1093" cy="635" rx="3" ry="4" fill="url(#gM)"/><ellipse cx="1089" cy="640" rx="3" ry="3.5" fill="url(#gL)"/><ellipse cx="1094" cy="643" rx="3" ry="3" fill="url(#gM)"/>
</g>
<rect x="906.2" y="467.8" width="73.7" height="190.7" fill="#c4c4c4"/>
<rect x="1485.4" y="467.3" width="73.9" height="190.6" fill="#c4c4c4"/>
<clipPath id="bx2"><rect x="906.2" y="467.8" width="73.7" height="190.7"/><rect x="1485.4" y="467.3" width="73.9" height="190.6"/></clipPath>
<g clip-path="url(#bx2)"><g stroke-width="2.4"><line x1="930.6" y1="484.8" x2="940.3" y2="484.2" stroke="#0a5ac4"/><line x1="940.3" y1="484.2" x2="949.9" y2="483.6" stroke="#c4c400"/><line x1="1516.9" y1="484.8" x2="1526.6" y2="484.2" stroke="#0a5ac4"/><line x1="1526.6" y1="484.2" x2="1536.2" y2="483.6" stroke="#c4c400"/><line x1="904.8" y1="503.9" x2="916.2" y2="503.9" stroke="#c4c400"/><line x1="960.9" y1="503.9" x2="972.3" y2="503.9" stroke="#0a5ac4"/><line x1="972.3" y1="503.9" x2="983.7" y2="503.9" stroke="#c4c400"/><line x1="1479.7" y1="503.9" x2="1491.1" y2="503.9" stroke="#0a5ac4"/><line x1="1491.1" y1="503.9" x2="1502.5" y2="503.9" stroke="#c4c400"/><line x1="1547.1" y1="503.9" x2="1558.5" y2="503.9" stroke="#0a5ac4"/><line x1="916.2" y1="503.9" x2="923.4" y2="494.4" stroke="#c4c400"/><line x1="923.4" y1="494.4" x2="930.6" y2="484.8" stroke="#0a5ac4"/><line x1="960.9" y1="503.9" x2="955.4" y2="493.8" stroke="#0a5ac4"/><line x1="955.4" y1="493.8" x2="949.9" y2="483.6" stroke="#c4c400"/><line x1="1502.5" y1="503.9" x2="1509.7" y2="494.4" stroke="#c4c400"/><line x1="1509.7" y1="494.4" x2="1516.9" y2="484.8" stroke="#0a5ac4"/><line x1="1547.1" y1="503.9" x2="1541.7" y2="493.8" stroke="#0a5ac4"/><line x1="1541.7" y1="493.8" x2="1536.2" y2="483.6" stroke="#c4c400"/><line x1="916.2" y1="503.9" x2="921.7" y2="515.2" stroke="#c4c400"/><line x1="921.7" y1="515.2" x2="927.1" y2="526.6" stroke="#0a5ac4"/><line x1="960.9" y1="503.9" x2="955.4" y2="515.2" stroke="#0a5ac4"/><line x1="955.4" y1="515.2" x2="949.9" y2="526.6" stroke="#c4c400"/><line x1="1502.5" y1="503.9" x2="1508.0" y2="515.2" stroke="#c4c400"/><line x1="1508.0" y1="515.2" x2="1513.4" y2="526.6" stroke="#0a5ac4"/><line x1="1547.1" y1="503.9" x2="1541.7" y2="515.2" stroke="#0a5ac4"/><line x1="1541.7" y1="515.2" x2="1536.2" y2="526.6" stroke="#c4c400"/><line x1="927.1" y1="526.6" x2="938.5" y2="526.6" stroke="#0a5ac4"/><line x1="938.5" y1="526.6" x2="949.9" y2="526.6" stroke="#c4c400"/><line x1="1513.4" y1="526.6" x2="1524.8" y2="526.6" stroke="#0a5ac4"/><line x1="1524.8" y1="526.6" x2="1536.2" y2="526.6" stroke="#c4c400"/><line x1="904.8" y1="550.2" x2="916.2" y2="550.2" stroke="#c4c400"/><line x1="960.9" y1="550.2" x2="972.3" y2="550.2" stroke="#0a5ac4"/><line x1="972.3" y1="550.2" x2="983.7" y2="550.2" stroke="#c4c400"/><line x1="1479.7" y1="550.2" x2="1491.1" y2="550.2" stroke="#0a5ac4"/><line x1="1491.1" y1="550.2" x2="1502.5" y2="550.2" stroke="#c4c400"/><line x1="1547.1" y1="550.2" x2="1558.5" y2="550.2" stroke="#0a5ac4"/><line x1="916.2" y1="550.2" x2="921.7" y2="538.4" stroke="#c4c400"/><line x1="921.7" y1="538.4" x2="927.1" y2="526.6" stroke="#0a5ac4"/><line x1="960.9" y1="550.2" x2="955.4" y2="538.4" stroke="#0a5ac4"/><line x1="955.4" y1="538.4" x2="949.9" y2="526.6" stroke="#c4c400"/><line x1="1502.5" y1="550.2" x2="1508.0" y2="538.4" stroke="#c4c400"/><line x1="1508.0" y1="538.4" x2="1513.4" y2="526.6" stroke="#0a5ac4"/><line x1="1547.1" y1="550.2" x2="1541.7" y2="538.4" stroke="#0a5ac4"/><line x1="1541.7" y1="538.4" x2="1536.2" y2="526.6" stroke="#c4c400"/><line x1="916.2" y1="550.2" x2="921.7" y2="562.0" stroke="#c4c400"/><line x1="921.7" y1="562.0" x2="927.1" y2="573.7" stroke="#0a5ac4"/><line x1="960.9" y1="550.2" x2="955.4" y2="562.0" stroke="#0a5ac4"/><line x1="955.4" y1="562.0" x2="949.9" y2="573.7" stroke="#c4c400"/><line x1="1502.5" y1="550.2" x2="1508.0" y2="562.0" stroke="#c4c400"/><line x1="1508.0" y1="562.0" x2="1513.4" y2="573.7" stroke="#0a5ac4"/><line x1="1547.1" y1="550.2" x2="1541.7" y2="562.0" stroke="#0a5ac4"/><line x1="1541.7" y1="562.0" x2="1536.2" y2="573.7" stroke="#c4c400"/><line x1="927.1" y1="573.7" x2="938.5" y2="573.7" stroke="#0a5ac4"/><line x1="938.5" y1="573.7" x2="949.9" y2="573.7" stroke="#c4c400"/><line x1="1513.4" y1="573.7" x2="1524.8" y2="573.7" stroke="#0a5ac4"/><line x1="1524.8" y1="573.7" x2="1536.2" y2="573.7" stroke="#c4c400"/><line x1="904.8" y1="597.3" x2="916.2" y2="597.3" stroke="#c4c400"/><line x1="960.9" y1="597.3" x2="972.3" y2="597.3" stroke="#0a5ac4"/><line x1="972.3" y1="597.3" x2="983.7" y2="597.3" stroke="#c4c400"/><line x1="1479.7" y1="597.3" x2="1491.1" y2="597.3" stroke="#0a5ac4"/><line x1="1491.1" y1="597.3" x2="1502.5" y2="597.3" stroke="#c4c400"/><line x1="1547.1" y1="597.3" x2="1558.5" y2="597.3" stroke="#0a5ac4"/><line x1="916.2" y1="597.3" x2="921.7" y2="585.5" stroke="#c4c400"/><line x1="921.7" y1="585.5" x2="927.1" y2="573.7" stroke="#0a5ac4"/><line x1="960.9" y1="597.3" x2="955.4" y2="585.5" stroke="#0a5ac4"/><line x1="955.4" y1="585.5" x2="949.9" y2="573.7" stroke="#c4c400"/><line x1="1502.5" y1="597.3" x2="1508.0" y2="585.5" stroke="#c4c400"/><line x1="1508.0" y1="585.5" x2="1513.4" y2="573.7" stroke="#0a5ac4"/><line x1="1547.1" y1="597.3" x2="1541.7" y2="585.5" stroke="#0a5ac4"/><line x1="1541.7" y1="585.5" x2="1536.2" y2="573.7" stroke="#c4c400"/><line x1="916.2" y1="597.3" x2="921.7" y2="609.0" stroke="#c4c400"/><line x1="921.7" y1="609.0" x2="927.1" y2="620.8" stroke="#0a5ac4"/><line x1="960.9" y1="597.3" x2="955.4" y2="609.0" stroke="#0a5ac4"/><line x1="955.4" y1="609.0" x2="949.9" y2="620.8" stroke="#c4c400"/><line x1="1502.5" y1="597.3" x2="1508.0" y2="609.0" stroke="#c4c400"/><line x1="1508.0" y1="609.0" x2="1513.4" y2="620.8" stroke="#0a5ac4"/><line x1="1547.1" y1="597.3" x2="1541.7" y2="609.0" stroke="#0a5ac4"/><line x1="1541.7" y1="609.0" x2="1536.2" y2="620.8" stroke="#c4c400"/><line x1="927.1" y1="620.8" x2="938.5" y2="620.8" stroke="#0a5ac4"/><line x1="938.5" y1="620.8" x2="949.9" y2="620.8" stroke="#c4c400"/><line x1="1513.4" y1="620.8" x2="1524.8" y2="620.8" stroke="#0a5ac4"/><line x1="1524.8" y1="620.8" x2="1536.2" y2="620.8" stroke="#c4c400"/><line x1="907.0" y1="642.0" x2="916.2" y2="642.0" stroke="#c4c400"/><line x1="965.4" y1="642.0" x2="974.5" y2="642.0" stroke="#0a5ac4"/><line x1="974.5" y1="642.0" x2="983.7" y2="642.0" stroke="#c4c400"/><line x1="1484.2" y1="642.0" x2="1493.3" y2="642.0" stroke="#0a5ac4"/><line x1="1493.3" y1="642.0" x2="1502.5" y2="642.0" stroke="#c4c400"/><line x1="1551.6" y1="642.0" x2="1560.8" y2="642.0" stroke="#0a5ac4"/><line x1="916.2" y1="642.0" x2="921.7" y2="631.4" stroke="#c4c400"/><line x1="921.7" y1="631.4" x2="927.1" y2="620.8" stroke="#0a5ac4"/><line x1="965.4" y1="642.0" x2="957.7" y2="631.4" stroke="#0a5ac4"/><line x1="957.7" y1="631.4" x2="949.9" y2="620.8" stroke="#c4c400"/><line x1="1484.2" y1="642.0" x2="1476.7" y2="631.4" stroke="#0a5ac4"/><line x1="1476.7" y1="631.4" x2="1469.1" y2="620.8" stroke="#c4c400"/><line x1="1502.5" y1="642.0" x2="1508.0" y2="631.4" stroke="#c4c400"/><line x1="1508.0" y1="631.4" x2="1513.4" y2="620.8" stroke="#0a5ac4"/><line x1="1551.6" y1="642.0" x2="1543.9" y2="631.4" stroke="#0a5ac4"/><line x1="1543.9" y1="631.4" x2="1536.2" y2="620.8" stroke="#c4c400"/><line x1="930.6" y1="484.8" x2="945.8" y2="494.4" stroke="#0a5ac4"/><line x1="945.8" y1="494.4" x2="960.9" y2="503.9" stroke="#0a5ac4"/><line x1="1516.9" y1="484.8" x2="1532.0" y2="494.4" stroke="#0a5ac4"/><line x1="1532.0" y1="494.4" x2="1547.1" y2="503.9" stroke="#0a5ac4"/><line x1="912.5" y1="631.4" x2="927.1" y2="620.8" stroke="#0a5ac4"/><line x1="965.4" y1="642.0" x2="980.0" y2="631.4" stroke="#0a5ac4"/><line x1="980.0" y1="631.4" x2="994.7" y2="620.8" stroke="#0a5ac4"/><line x1="1484.2" y1="642.0" x2="1498.8" y2="631.4" stroke="#0a5ac4"/><line x1="1498.8" y1="631.4" x2="1513.4" y2="620.8" stroke="#0a5ac4"/><line x1="1551.6" y1="642.0" x2="1566.2" y2="631.4" stroke="#0a5ac4"/></g><ellipse cx="930.6" cy="484.8" rx="5.5" ry="6.3" fill="url(#gMbD)"/><ellipse cx="949.9" cy="483.6" rx="5.7" ry="6.4" fill="url(#gSD)"/><ellipse cx="1516.9" cy="484.8" rx="5.5" ry="6.3" fill="url(#gMbD)"/><ellipse cx="1536.2" cy="483.6" rx="5.7" ry="6.4" fill="url(#gSD)"/><ellipse cx="916.2" cy="503.9" rx="5.7" ry="6.4" fill="url(#gSD)"/><ellipse cx="960.9" cy="503.9" rx="5.5" ry="6.3" fill="url(#gMbD)"/><ellipse cx="983.7" cy="503.9" rx="5.7" ry="6.4" fill="url(#gSD)"/><ellipse cx="1479.7" cy="503.9" rx="5.5" ry="6.3" fill="url(#gMbD)"/><ellipse cx="1502.5" cy="503.9" rx="5.7" ry="6.4" fill="url(#gSD)"/><ellipse cx="1547.1" cy="503.9" rx="5.5" ry="6.3" fill="url(#gMbD)"/><ellipse cx="927.1" cy="526.6" rx="5.5" ry="6.3" fill="url(#gMbD)"/><ellipse cx="949.9" cy="526.6" rx="5.7" ry="6.4" fill="url(#gSD)"/><ellipse cx="1513.4" cy="526.6" rx="5.5" ry="6.3" fill="url(#gMbD)"/><ellipse cx="1536.2" cy="526.6" rx="5.7" ry="6.4" fill="url(#gSD)"/><ellipse cx="916.2" cy="550.2" rx="5.7" ry="6.4" fill="url(#gSD)"/><ellipse cx="960.9" cy="550.2" rx="5.5" ry="6.3" fill="url(#gMbD)"/><ellipse cx="983.7" cy="550.2" rx="5.7" ry="6.4" fill="url(#gSD)"/><ellipse cx="1479.7" cy="550.2" rx="5.5" ry="6.3" fill="url(#gMbD)"/><ellipse cx="1502.5" cy="550.2" rx="5.7" ry="6.4" fill="url(#gSD)"/><ellipse cx="1547.1" cy="550.2" rx="5.5" ry="6.3" fill="url(#gMbD)"/><ellipse cx="927.1" cy="573.7" rx="5.5" ry="6.3" fill="url(#gMbD)"/><ellipse cx="949.9" cy="573.7" rx="5.7" ry="6.4" fill="url(#gSD)"/><ellipse cx="1513.4" cy="573.7" rx="5.5" ry="6.3" fill="url(#gMbD)"/><ellipse cx="1536.2" cy="573.7" rx="5.7" ry="6.4" fill="url(#gSD)"/><ellipse cx="916.2" cy="597.3" rx="5.7" ry="6.4" fill="url(#gSD)"/><ellipse cx="960.9" cy="597.3" rx="5.5" ry="6.3" fill="url(#gMbD)"/><ellipse cx="983.7" cy="597.3" rx="5.7" ry="6.4" fill="url(#gSD)"/><ellipse cx="1479.7" cy="597.3" rx="5.5" ry="6.3" fill="url(#gMbD)"/><ellipse cx="1502.5" cy="597.3" rx="5.7" ry="6.4" fill="url(#gSD)"/><ellipse cx="1547.1" cy="597.3" rx="5.5" ry="6.3" fill="url(#gMbD)"/><ellipse cx="927.1" cy="620.8" rx="5.5" ry="6.3" fill="url(#gMbD)"/><ellipse cx="949.9" cy="620.8" rx="5.7" ry="6.4" fill="url(#gSD)"/><ellipse cx="1513.4" cy="620.8" rx="5.5" ry="6.3" fill="url(#gMbD)"/><ellipse cx="1536.2" cy="620.8" rx="5.7" ry="6.4" fill="url(#gSD)"/><ellipse cx="916.2" cy="642.0" rx="5.7" ry="6.4" fill="url(#gSD)"/><ellipse cx="965.4" cy="642.0" rx="5.5" ry="6.3" fill="url(#gMbD)"/><ellipse cx="983.7" cy="642.0" rx="5.7" ry="6.4" fill="url(#gSD)"/><ellipse cx="1484.2" cy="642.0" rx="5.5" ry="6.3" fill="url(#gMbD)"/><ellipse cx="1502.5" cy="642.0" rx="5.7" ry="6.4" fill="url(#gSD)"/><ellipse cx="1551.6" cy="642.0" rx="5.5" ry="6.3" fill="url(#gMbD)"/></g>
<clipPath id="mc3"><rect x="901.8" y="652.2" width="658.1000000000001" height="259.79999999999995"/></clipPath>
<g clip-path="url(#mc3)">
<g stroke-width="2.4"><line x1="932.2" y1="691.4" x2="940.7" y2="690.8" stroke="#0a5ae6"/><line x1="940.7" y1="690.8" x2="949.3" y2="690.2" stroke="#eeee00"/><line x1="998.2" y1="691.4" x2="1006.8" y2="690.8" stroke="#0a5ae6"/><line x1="1006.8" y1="690.8" x2="1015.4" y2="690.2" stroke="#eeee00"/><line x1="1063.2" y1="691.4" x2="1071.8" y2="690.8" stroke="#0a5ae6"/><line x1="1071.8" y1="690.8" x2="1080.3" y2="690.2" stroke="#eeee00"/><line x1="1127.1" y1="691.4" x2="1135.6" y2="690.8" stroke="#4cbcc6"/><line x1="1135.6" y1="690.8" x2="1144.2" y2="690.2" stroke="#eeee00"/><line x1="1190.5" y1="691.4" x2="1199.0" y2="690.8" stroke="#4cbcc6"/><line x1="1199.0" y1="690.8" x2="1207.5" y2="690.2" stroke="#eeee00"/><line x1="1253.3" y1="691.4" x2="1261.9" y2="690.8" stroke="#4cbcc6"/><line x1="1261.9" y1="690.8" x2="1270.4" y2="690.2" stroke="#eeee00"/><line x1="1316.7" y1="691.4" x2="1325.2" y2="690.8" stroke="#4cbcc6"/><line x1="1325.2" y1="690.8" x2="1333.8" y2="690.2" stroke="#eeee00"/><line x1="1378.4" y1="691.4" x2="1387.0" y2="690.8" stroke="#4cbcc6"/><line x1="1387.0" y1="690.8" x2="1395.5" y2="690.2" stroke="#eeee00"/><line x1="1441.0" y1="691.4" x2="1449.5" y2="690.8" stroke="#0a5ae6"/><line x1="1449.5" y1="690.8" x2="1458.1" y2="690.2" stroke="#eeee00"/><line x1="1506.6" y1="691.4" x2="1515.1" y2="690.8" stroke="#0a5ae6"/><line x1="1515.1" y1="690.8" x2="1523.7" y2="690.2" stroke="#eeee00"/><line x1="905.9" y1="715.5" x2="916.2" y2="715.5" stroke="#eeee00"/><line x1="961.7" y1="715.5" x2="972.0" y2="715.5" stroke="#0a5ae6"/><line x1="972.0" y1="715.5" x2="982.3" y2="715.5" stroke="#eeee00"/><line x1="1027.8" y1="715.5" x2="1038.1" y2="715.5" stroke="#0a5ae6"/><line x1="1038.1" y1="715.5" x2="1048.4" y2="715.5" stroke="#eeee00"/><line x1="1091.7" y1="715.5" x2="1102.0" y2="715.5" stroke="#4cbcc6"/><line x1="1102.0" y1="715.5" x2="1112.3" y2="715.5" stroke="#eeee00"/><line x1="1155.5" y1="715.5" x2="1165.8" y2="715.5" stroke="#4cbcc6"/><line x1="1165.8" y1="715.5" x2="1176.1" y2="715.5" stroke="#eeee00"/><line x1="1218.4" y1="715.5" x2="1228.7" y2="715.5" stroke="#4cbcc6"/><line x1="1228.7" y1="715.5" x2="1239.0" y2="715.5" stroke="#eeee00"/><line x1="1281.3" y1="715.5" x2="1291.6" y2="715.5" stroke="#4cbcc6"/><line x1="1291.6" y1="715.5" x2="1301.9" y2="715.5" stroke="#eeee00"/><line x1="1345.1" y1="715.5" x2="1355.4" y2="715.5" stroke="#4cbcc6"/><line x1="1355.4" y1="715.5" x2="1365.7" y2="715.5" stroke="#eeee00"/><line x1="1404.7" y1="715.5" x2="1415.0" y2="715.5" stroke="#0a5ae6"/><line x1="1415.0" y1="715.5" x2="1425.3" y2="715.5" stroke="#eeee00"/><line x1="1470.3" y1="715.5" x2="1480.6" y2="715.5" stroke="#0a5ae6"/><line x1="1480.6" y1="715.5" x2="1490.9" y2="715.5" stroke="#eeee00"/><line x1="1535.9" y1="715.5" x2="1546.2" y2="715.5" stroke="#0a5ae6"/><line x1="916.2" y1="715.5" x2="924.2" y2="703.5" stroke="#eeee00"/><line x1="924.2" y1="703.5" x2="932.2" y2="691.4" stroke="#0a5ae6"/><line x1="961.7" y1="715.5" x2="955.5" y2="702.9" stroke="#0a5ae6"/><line x1="955.5" y1="702.9" x2="949.3" y2="690.2" stroke="#eeee00"/><line x1="982.3" y1="715.5" x2="990.3" y2="703.5" stroke="#eeee00"/><line x1="990.3" y1="703.5" x2="998.2" y2="691.4" stroke="#0a5ae6"/><line x1="1027.8" y1="715.5" x2="1021.6" y2="702.9" stroke="#0a5ae6"/><line x1="1021.6" y1="702.9" x2="1015.4" y2="690.2" stroke="#eeee00"/><line x1="1048.4" y1="715.5" x2="1055.8" y2="703.5" stroke="#eeee00"/><line x1="1055.8" y1="703.5" x2="1063.2" y2="691.4" stroke="#0a5ae6"/><line x1="1091.7" y1="715.5" x2="1086.0" y2="702.9" stroke="#4cbcc6"/><line x1="1086.0" y1="702.9" x2="1080.3" y2="690.2" stroke="#eeee00"/><line x1="1112.3" y1="715.5" x2="1119.7" y2="703.5" stroke="#eeee00"/><line x1="1119.7" y1="703.5" x2="1127.1" y2="691.4" stroke="#4cbcc6"/><line x1="1155.5" y1="715.5" x2="1149.8" y2="702.9" stroke="#4cbcc6"/><line x1="1149.8" y1="702.9" x2="1144.2" y2="690.2" stroke="#eeee00"/><line x1="1176.1" y1="715.5" x2="1183.3" y2="703.5" stroke="#eeee00"/><line x1="1183.3" y1="703.5" x2="1190.5" y2="691.4" stroke="#4cbcc6"/><line x1="1218.4" y1="715.5" x2="1213.0" y2="702.9" stroke="#4cbcc6"/><line x1="1213.0" y1="702.9" x2="1207.5" y2="690.2" stroke="#eeee00"/><line x1="1239.0" y1="715.5" x2="1246.2" y2="703.5" stroke="#eeee00"/><line x1="1246.2" y1="703.5" x2="1253.3" y2="691.4" stroke="#4cbcc6"/><line x1="1281.3" y1="715.5" x2="1275.9" y2="702.9" stroke="#4cbcc6"/><line x1="1275.9" y1="702.9" x2="1270.4" y2="690.2" stroke="#eeee00"/><line x1="1301.9" y1="715.5" x2="1309.3" y2="703.5" stroke="#eeee00"/><line x1="1309.3" y1="703.5" x2="1316.7" y2="691.4" stroke="#4cbcc6"/><line x1="1345.1" y1="715.5" x2="1339.4" y2="702.9" stroke="#4cbcc6"/><line x1="1339.4" y1="702.9" x2="1333.8" y2="690.2" stroke="#eeee00"/><line x1="1365.7" y1="715.5" x2="1372.0" y2="703.5" stroke="#eeee00"/><line x1="1372.0" y1="703.5" x2="1378.4" y2="691.4" stroke="#4cbcc6"/><line x1="1404.7" y1="715.5" x2="1400.1" y2="702.9" stroke="#0a5ae6"/><line x1="1400.1" y1="702.9" x2="1395.5" y2="690.2" stroke="#eeee00"/><line x1="1425.3" y1="715.5" x2="1433.2" y2="703.5" stroke="#eeee00"/><line x1="1433.2" y1="703.5" x2="1441.0" y2="691.4" stroke="#0a5ae6"/><line x1="1470.3" y1="715.5" x2="1464.2" y2="702.9" stroke="#0a5ae6"/><line x1="1464.2" y1="702.9" x2="1458.1" y2="690.2" stroke="#eeee00"/><line x1="1490.9" y1="715.5" x2="1498.8" y2="703.5" stroke="#eeee00"/><line x1="1498.8" y1="703.5" x2="1506.6" y2="691.4" stroke="#0a5ae6"/><line x1="1535.9" y1="715.5" x2="1529.8" y2="702.9" stroke="#0a5ae6"/><line x1="1529.8" y1="702.9" x2="1523.7" y2="690.2" stroke="#eeee00"/><line x1="916.2" y1="715.5" x2="922.4" y2="728.8" stroke="#eeee00"/><line x1="922.4" y1="728.8" x2="928.7" y2="742.0" stroke="#0a5ae6"/><line x1="961.7" y1="715.5" x2="955.5" y2="728.8" stroke="#0a5ae6"/><line x1="955.5" y1="728.8" x2="949.3" y2="742.0" stroke="#eeee00"/><line x1="982.3" y1="715.5" x2="988.5" y2="728.8" stroke="#eeee00"/><line x1="988.5" y1="728.8" x2="994.8" y2="742.0" stroke="#0a5ae6"/><line x1="1027.8" y1="715.5" x2="1021.6" y2="728.8" stroke="#0a5ae6"/><line x1="1021.6" y1="728.8" x2="1015.4" y2="742.0" stroke="#eeee00"/><line x1="1048.4" y1="715.5" x2="1054.1" y2="728.8" stroke="#eeee00"/><line x1="1054.1" y1="728.8" x2="1059.8" y2="742.0" stroke="#0a5ae6"/><line x1="1091.7" y1="715.5" x2="1086.0" y2="728.8" stroke="#4cbcc6"/><line x1="1086.0" y1="728.8" x2="1080.3" y2="742.0" stroke="#eeee00"/><line x1="1112.3" y1="715.5" x2="1117.9" y2="728.8" stroke="#eeee00"/><line x1="1117.9" y1="728.8" x2="1123.6" y2="742.0" stroke="#4cbcc6"/><line x1="1155.5" y1="715.5" x2="1149.8" y2="728.8" stroke="#4cbcc6"/><line x1="1149.8" y1="728.8" x2="1144.2" y2="742.0" stroke="#eeee00"/><line x1="1176.1" y1="715.5" x2="1181.5" y2="728.8" stroke="#eeee00"/><line x1="1181.5" y1="728.8" x2="1187.0" y2="742.0" stroke="#4cbcc6"/><line x1="1218.4" y1="715.5" x2="1213.0" y2="728.8" stroke="#4cbcc6"/><line x1="1213.0" y1="728.8" x2="1207.5" y2="742.0" stroke="#eeee00"/><line x1="1239.0" y1="715.5" x2="1244.4" y2="728.8" stroke="#eeee00"/><line x1="1244.4" y1="728.8" x2="1249.8" y2="742.0" stroke="#4cbcc6"/><line x1="1281.3" y1="715.5" x2="1275.9" y2="728.8" stroke="#4cbcc6"/><line x1="1275.9" y1="728.8" x2="1270.4" y2="742.0" stroke="#eeee00"/><line x1="1301.9" y1="715.5" x2="1307.5" y2="728.8" stroke="#eeee00"/><line x1="1307.5" y1="728.8" x2="1313.2" y2="742.0" stroke="#4cbcc6"/><line x1="1345.1" y1="715.5" x2="1339.4" y2="728.8" stroke="#4cbcc6"/><line x1="1339.4" y1="728.8" x2="1333.8" y2="742.0" stroke="#eeee00"/><line x1="1365.7" y1="715.5" x2="1370.3" y2="728.8" stroke="#eeee00"/><line x1="1370.3" y1="728.8" x2="1374.9" y2="742.0" stroke="#4cbcc6"/><line x1="1404.7" y1="715.5" x2="1400.1" y2="728.8" stroke="#0a5ae6"/><line x1="1400.1" y1="728.8" x2="1395.5" y2="742.0" stroke="#eeee00"/><line x1="1425.3" y1="715.5" x2="1431.4" y2="728.8" stroke="#eeee00"/><line x1="1431.4" y1="728.8" x2="1437.5" y2="742.0" stroke="#0a5ae6"/><line x1="1470.3" y1="715.5" x2="1464.2" y2="728.8" stroke="#0a5ae6"/><line x1="1464.2" y1="728.8" x2="1458.1" y2="742.0" stroke="#eeee00"/><line x1="1490.9" y1="715.5" x2="1497.0" y2="728.8" stroke="#eeee00"/><line x1="1497.0" y1="728.8" x2="1503.1" y2="742.0" stroke="#0a5ae6"/><line x1="1535.9" y1="715.5" x2="1529.8" y2="728.8" stroke="#0a5ae6"/><line x1="1529.8" y1="728.8" x2="1523.7" y2="742.0" stroke="#eeee00"/><line x1="928.7" y1="742.0" x2="939.0" y2="742.0" stroke="#0a5ae6"/><line x1="939.0" y1="742.0" x2="949.3" y2="742.0" stroke="#eeee00"/><line x1="994.8" y1="742.0" x2="1005.0" y2="742.0" stroke="#0a5ae6"/><line x1="1005.0" y1="742.0" x2="1015.4" y2="742.0" stroke="#eeee00"/><line x1="1059.8" y1="742.0" x2="1070.0" y2="742.0" stroke="#0a5ae6"/><line x1="1070.0" y1="742.0" x2="1080.3" y2="742.0" stroke="#eeee00"/><line x1="1123.6" y1="742.0" x2="1133.9" y2="742.0" stroke="#4cbcc6"/><line x1="1133.9" y1="742.0" x2="1144.2" y2="742.0" stroke="#eeee00"/><line x1="1187.0" y1="742.0" x2="1197.2" y2="742.0" stroke="#4cbcc6"/><line x1="1197.2" y1="742.0" x2="1207.5" y2="742.0" stroke="#eeee00"/><line x1="1249.8" y1="742.0" x2="1260.1" y2="742.0" stroke="#4cbcc6"/><line x1="1260.1" y1="742.0" x2="1270.4" y2="742.0" stroke="#eeee00"/><line x1="1313.2" y1="742.0" x2="1323.5" y2="742.0" stroke="#4cbcc6"/><line x1="1323.5" y1="742.0" x2="1333.8" y2="742.0" stroke="#eeee00"/><line x1="1374.9" y1="742.0" x2="1385.2" y2="742.0" stroke="#4cbcc6"/><line x1="1385.2" y1="742.0" x2="1395.5" y2="742.0" stroke="#eeee00"/><line x1="1437.5" y1="742.0" x2="1447.8" y2="742.0" stroke="#0a5ae6"/><line x1="1447.8" y1="742.0" x2="1458.1" y2="742.0" stroke="#eeee00"/><line x1="1503.1" y1="742.0" x2="1513.4" y2="742.0" stroke="#0a5ae6"/><line x1="1513.4" y1="742.0" x2="1523.7" y2="742.0" stroke="#eeee00"/><line x1="905.9" y1="768.5" x2="916.2" y2="768.5" stroke="#eeee00"/><line x1="961.7" y1="768.5" x2="972.0" y2="768.5" stroke="#0a5ae6"/><line x1="972.0" y1="768.5" x2="982.3" y2="768.5" stroke="#eeee00"/><line x1="1027.8" y1="768.5" x2="1038.1" y2="768.5" stroke="#0a5ae6"/><line x1="1038.1" y1="768.5" x2="1048.4" y2="768.5" stroke="#eeee00"/><line x1="1091.7" y1="768.5" x2="1102.0" y2="768.5" stroke="#4cbcc6"/><line x1="1102.0" y1="768.5" x2="1112.3" y2="768.5" stroke="#eeee00"/><line x1="1155.5" y1="768.5" x2="1165.8" y2="768.5" stroke="#4cbcc6"/><line x1="1165.8" y1="768.5" x2="1176.1" y2="768.5" stroke="#eeee00"/><line x1="1218.4" y1="768.5" x2="1228.7" y2="768.5" stroke="#4cbcc6"/><line x1="1228.7" y1="768.5" x2="1239.0" y2="768.5" stroke="#eeee00"/><line x1="1281.3" y1="768.5" x2="1291.6" y2="768.5" stroke="#4cbcc6"/><line x1="1291.6" y1="768.5" x2="1301.9" y2="768.5" stroke="#eeee00"/><line x1="1345.1" y1="768.5" x2="1355.4" y2="768.5" stroke="#4cbcc6"/><line x1="1355.4" y1="768.5" x2="1365.7" y2="768.5" stroke="#eeee00"/><line x1="1404.7" y1="768.5" x2="1415.0" y2="768.5" stroke="#0a5ae6"/><line x1="1415.0" y1="768.5" x2="1425.3" y2="768.5" stroke="#eeee00"/><line x1="1470.3" y1="768.5" x2="1480.6" y2="768.5" stroke="#0a5ae6"/><line x1="1480.6" y1="768.5" x2="1490.9" y2="768.5" stroke="#eeee00"/><line x1="1535.9" y1="768.5" x2="1546.2" y2="768.5" stroke="#0a5ae6"/><line x1="916.2" y1="768.5" x2="922.4" y2="755.2" stroke="#eeee00"/><line x1="922.4" y1="755.2" x2="928.7" y2="742.0" stroke="#0a5ae6"/><line x1="961.7" y1="768.5" x2="955.5" y2="755.2" stroke="#0a5ae6"/><line x1="955.5" y1="755.2" x2="949.3" y2="742.0" stroke="#eeee00"/><line x1="982.3" y1="768.5" x2="988.5" y2="755.2" stroke="#eeee00"/><line x1="988.5" y1="755.2" x2="994.8" y2="742.0" stroke="#0a5ae6"/><line x1="1027.8" y1="768.5" x2="1021.6" y2="755.2" stroke="#0a5ae6"/><line x1="1021.6" y1="755.2" x2="1015.4" y2="742.0" stroke="#eeee00"/><line x1="1048.4" y1="768.5" x2="1054.1" y2="755.2" stroke="#eeee00"/><line x1="1054.1" y1="755.2" x2="1059.8" y2="742.0" stroke="#0a5ae6"/><line x1="1091.7" y1="768.5" x2="1086.0" y2="755.2" stroke="#4cbcc6"/><line x1="1086.0" y1="755.2" x2="1080.3" y2="742.0" stroke="#eeee00"/><line x1="1112.3" y1="768.5" x2="1117.9" y2="755.2" stroke="#eeee00"/><line x1="1117.9" y1="755.2" x2="1123.6" y2="742.0" stroke="#4cbcc6"/><line x1="1155.5" y1="768.5" x2="1149.8" y2="755.2" stroke="#4cbcc6"/><line x1="1149.8" y1="755.2" x2="1144.2" y2="742.0" stroke="#eeee00"/><line x1="1176.1" y1="768.5" x2="1181.5" y2="755.2" stroke="#eeee00"/><line x1="1181.5" y1="755.2" x2="1187.0" y2="742.0" stroke="#4cbcc6"/><line x1="1218.4" y1="768.5" x2="1213.0" y2="755.2" stroke="#4cbcc6"/><line x1="1213.0" y1="755.2" x2="1207.5" y2="742.0" stroke="#eeee00"/><line x1="1239.0" y1="768.5" x2="1244.4" y2="755.2" stroke="#eeee00"/><line x1="1244.4" y1="755.2" x2="1249.8" y2="742.0" stroke="#4cbcc6"/><line x1="1281.3" y1="768.5" x2="1275.9" y2="755.2" stroke="#4cbcc6"/><line x1="1275.9" y1="755.2" x2="1270.4" y2="742.0" stroke="#eeee00"/><line x1="1301.9" y1="768.5" x2="1307.5" y2="755.2" stroke="#eeee00"/><line x1="1307.5" y1="755.2" x2="1313.2" y2="742.0" stroke="#4cbcc6"/><line x1="1345.1" y1="768.5" x2="1339.4" y2="755.2" stroke="#4cbcc6"/><line x1="1339.4" y1="755.2" x2="1333.8" y2="742.0" stroke="#eeee00"/><line x1="1365.7" y1="768.5" x2="1370.3" y2="755.2" stroke="#eeee00"/><line x1="1370.3" y1="755.2" x2="1374.9" y2="742.0" stroke="#4cbcc6"/><line x1="1404.7" y1="768.5" x2="1400.1" y2="755.2" stroke="#0a5ae6"/><line x1="1400.1" y1="755.2" x2="1395.5" y2="742.0" stroke="#eeee00"/><line x1="1425.3" y1="768.5" x2="1431.4" y2="755.2" stroke="#eeee00"/><line x1="1431.4" y1="755.2" x2="1437.5" y2="742.0" stroke="#0a5ae6"/><line x1="1470.3" y1="768.5" x2="1464.2" y2="755.2" stroke="#0a5ae6"/><line x1="1464.2" y1="755.2" x2="1458.1" y2="742.0" stroke="#eeee00"/><line x1="1490.9" y1="768.5" x2="1497.0" y2="755.2" stroke="#eeee00"/><line x1="1497.0" y1="755.2" x2="1503.1" y2="742.0" stroke="#0a5ae6"/><line x1="1535.9" y1="768.5" x2="1529.8" y2="755.2" stroke="#0a5ae6"/><line x1="1529.8" y1="755.2" x2="1523.7" y2="742.0" stroke="#eeee00"/><line x1="916.2" y1="768.5" x2="922.4" y2="781.5" stroke="#eeee00"/><line x1="922.4" y1="781.5" x2="928.7" y2="794.5" stroke="#0a5ae6"/><line x1="961.7" y1="768.5" x2="955.5" y2="781.5" stroke="#0a5ae6"/><line x1="955.5" y1="781.5" x2="949.3" y2="794.5" stroke="#eeee00"/><line x1="982.3" y1="768.5" x2="988.5" y2="781.5" stroke="#eeee00"/><line x1="988.5" y1="781.5" x2="994.8" y2="794.5" stroke="#0a5ae6"/><line x1="1027.8" y1="768.5" x2="1021.6" y2="781.5" stroke="#0a5ae6"/><line x1="1021.6" y1="781.5" x2="1015.4" y2="794.5" stroke="#eeee00"/><line x1="1048.4" y1="768.5" x2="1054.1" y2="781.5" stroke="#eeee00"/><line x1="1054.1" y1="781.5" x2="1059.8" y2="794.5" stroke="#0a5ae6"/><line x1="1091.7" y1="768.5" x2="1086.0" y2="781.5" stroke="#4cbcc6"/><line x1="1086.0" y1="781.5" x2="1080.3" y2="794.5" stroke="#eeee00"/><line x1="1112.3" y1="768.5" x2="1117.9" y2="781.5" stroke="#eeee00"/><line x1="1117.9" y1="781.5" x2="1123.6" y2="794.5" stroke="#4cbcc6"/><line x1="1155.5" y1="768.5" x2="1149.8" y2="781.5" stroke="#4cbcc6"/><line x1="1149.8" y1="781.5" x2="1144.2" y2="794.5" stroke="#eeee00"/><line x1="1176.1" y1="768.5" x2="1181.5" y2="781.5" stroke="#eeee00"/><line x1="1181.5" y1="781.5" x2="1187.0" y2="794.5" stroke="#4cbcc6"/><line x1="1218.4" y1="768.5" x2="1213.0" y2="781.5" stroke="#4cbcc6"/><line x1="1213.0" y1="781.5" x2="1207.5" y2="794.5" stroke="#eeee00"/><line x1="1239.0" y1="768.5" x2="1244.4" y2="781.5" stroke="#eeee00"/><line x1="1244.4" y1="781.5" x2="1249.8" y2="794.5" stroke="#4cbcc6"/><line x1="1281.3" y1="768.5" x2="1275.9" y2="781.5" stroke="#4cbcc6"/><line x1="1275.9" y1="781.5" x2="1270.4" y2="794.5" stroke="#eeee00"/><line x1="1301.9" y1="768.5" x2="1307.5" y2="781.5" stroke="#eeee00"/><line x1="1307.5" y1="781.5" x2="1313.2" y2="794.5" stroke="#4cbcc6"/><line x1="1345.1" y1="768.5" x2="1339.4" y2="781.5" stroke="#4cbcc6"/><line x1="1339.4" y1="781.5" x2="1333.8" y2="794.5" stroke="#eeee00"/><line x1="1365.7" y1="768.5" x2="1370.3" y2="781.5" stroke="#eeee00"/><line x1="1370.3" y1="781.5" x2="1374.9" y2="794.5" stroke="#4cbcc6"/><line x1="1404.7" y1="768.5" x2="1400.1" y2="781.5" stroke="#0a5ae6"/><line x1="1400.1" y1="781.5" x2="1395.5" y2="794.5" stroke="#eeee00"/><line x1="1425.3" y1="768.5" x2="1431.4" y2="781.5" stroke="#eeee00"/><line x1="1431.4" y1="781.5" x2="1437.5" y2="794.5" stroke="#0a5ae6"/><line x1="1470.3" y1="768.5" x2="1464.2" y2="781.5" stroke="#0a5ae6"/><line x1="1464.2" y1="781.5" x2="1458.1" y2="794.5" stroke="#eeee00"/><line x1="1490.9" y1="768.5" x2="1497.0" y2="781.5" stroke="#eeee00"/><line x1="1497.0" y1="781.5" x2="1503.1" y2="794.5" stroke="#0a5ae6"/><line x1="1535.9" y1="768.5" x2="1529.8" y2="781.5" stroke="#0a5ae6"/><line x1="1529.8" y1="781.5" x2="1523.7" y2="794.5" stroke="#eeee00"/><line x1="928.7" y1="794.5" x2="939.0" y2="794.5" stroke="#0a5ae6"/><line x1="939.0" y1="794.5" x2="949.3" y2="794.5" stroke="#eeee00"/><line x1="994.8" y1="794.5" x2="1005.0" y2="794.5" stroke="#0a5ae6"/><line x1="1005.0" y1="794.5" x2="1015.4" y2="794.5" stroke="#eeee00"/><line x1="1059.8" y1="794.5" x2="1070.0" y2="794.5" stroke="#0a5ae6"/><line x1="1070.0" y1="794.5" x2="1080.3" y2="794.5" stroke="#eeee00"/><line x1="1123.6" y1="794.5" x2="1133.9" y2="794.5" stroke="#4cbcc6"/><line x1="1133.9" y1="794.5" x2="1144.2" y2="794.5" stroke="#eeee00"/><line x1="1187.0" y1="794.5" x2="1197.2" y2="794.5" stroke="#4cbcc6"/><line x1="1197.2" y1="794.5" x2="1207.5" y2="794.5" stroke="#eeee00"/><line x1="1249.8" y1="794.5" x2="1260.1" y2="794.5" stroke="#4cbcc6"/><line x1="1260.1" y1="794.5" x2="1270.4" y2="794.5" stroke="#eeee00"/><line x1="1313.2" y1="794.5" x2="1323.5" y2="794.5" stroke="#4cbcc6"/><line x1="1323.5" y1="794.5" x2="1333.8" y2="794.5" stroke="#eeee00"/><line x1="1374.9" y1="794.5" x2="1385.2" y2="794.5" stroke="#4cbcc6"/><line x1="1385.2" y1="794.5" x2="1395.5" y2="794.5" stroke="#eeee00"/><line x1="1437.5" y1="794.5" x2="1447.8" y2="794.5" stroke="#0a5ae6"/><line x1="1447.8" y1="794.5" x2="1458.1" y2="794.5" stroke="#eeee00"/><line x1="1503.1" y1="794.5" x2="1513.4" y2="794.5" stroke="#0a5ae6"/><line x1="1513.4" y1="794.5" x2="1523.7" y2="794.5" stroke="#eeee00"/><line x1="905.9" y1="820.5" x2="916.2" y2="820.5" stroke="#eeee00"/><line x1="961.7" y1="820.5" x2="972.0" y2="820.5" stroke="#0a5ae6"/><line x1="972.0" y1="820.5" x2="982.3" y2="820.5" stroke="#eeee00"/><line x1="1027.8" y1="820.5" x2="1038.1" y2="820.5" stroke="#0a5ae6"/><line x1="1038.1" y1="820.5" x2="1048.4" y2="820.5" stroke="#eeee00"/><line x1="1091.7" y1="820.5" x2="1102.0" y2="820.5" stroke="#4cbcc6"/><line x1="1102.0" y1="820.5" x2="1112.3" y2="820.5" stroke="#eeee00"/><line x1="1155.5" y1="820.5" x2="1165.8" y2="820.5" stroke="#4cbcc6"/><line x1="1165.8" y1="820.5" x2="1176.1" y2="820.5" stroke="#eeee00"/><line x1="1218.4" y1="820.5" x2="1228.7" y2="820.5" stroke="#4cbcc6"/><line x1="1228.7" y1="820.5" x2="1239.0" y2="820.5" stroke="#eeee00"/><line x1="1281.3" y1="820.5" x2="1291.6" y2="820.5" stroke="#4cbcc6"/><line x1="1291.6" y1="820.5" x2="1301.9" y2="820.5" stroke="#eeee00"/><line x1="1345.1" y1="820.5" x2="1355.4" y2="820.5" stroke="#4cbcc6"/><line x1="1355.4" y1="820.5" x2="1365.7" y2="820.5" stroke="#eeee00"/><line x1="1404.7" y1="820.5" x2="1415.0" y2="820.5" stroke="#0a5ae6"/><line x1="1415.0" y1="820.5" x2="1425.3" y2="820.5" stroke="#eeee00"/><line x1="1470.3" y1="820.5" x2="1480.6" y2="820.5" stroke="#0a5ae6"/><line x1="1480.6" y1="820.5" x2="1490.9" y2="820.5" stroke="#eeee00"/><line x1="1535.9" y1="820.5" x2="1546.2" y2="820.5" stroke="#0a5ae6"/><line x1="916.2" y1="820.5" x2="922.4" y2="807.5" stroke="#eeee00"/><line x1="922.4" y1="807.5" x2="928.7" y2="794.5" stroke="#0a5ae6"/><line x1="961.7" y1="820.5" x2="955.5" y2="807.5" stroke="#0a5ae6"/><line x1="955.5" y1="807.5" x2="949.3" y2="794.5" stroke="#eeee00"/><line x1="982.3" y1="820.5" x2="988.5" y2="807.5" stroke="#eeee00"/><line x1="988.5" y1="807.5" x2="994.8" y2="794.5" stroke="#0a5ae6"/><line x1="1027.8" y1="820.5" x2="1021.6" y2="807.5" stroke="#0a5ae6"/><line x1="1021.6" y1="807.5" x2="1015.4" y2="794.5" stroke="#eeee00"/><line x1="1048.4" y1="820.5" x2="1054.1" y2="807.5" stroke="#eeee00"/><line x1="1054.1" y1="807.5" x2="1059.8" y2="794.5" stroke="#0a5ae6"/><line x1="1091.7" y1="820.5" x2="1086.0" y2="807.5" stroke="#4cbcc6"/><line x1="1086.0" y1="807.5" x2="1080.3" y2="794.5" stroke="#eeee00"/><line x1="1112.3" y1="820.5" x2="1117.9" y2="807.5" stroke="#eeee00"/><line x1="1117.9" y1="807.5" x2="1123.6" y2="794.5" stroke="#4cbcc6"/><line x1="1155.5" y1="820.5" x2="1149.8" y2="807.5" stroke="#4cbcc6"/><line x1="1149.8" y1="807.5" x2="1144.2" y2="794.5" stroke="#eeee00"/><line x1="1176.1" y1="820.5" x2="1181.5" y2="807.5" stroke="#eeee00"/><line x1="1181.5" y1="807.5" x2="1187.0" y2="794.5" stroke="#4cbcc6"/><line x1="1218.4" y1="820.5" x2="1213.0" y2="807.5" stroke="#4cbcc6"/><line x1="1213.0" y1="807.5" x2="1207.5" y2="794.5" stroke="#eeee00"/><line x1="1239.0" y1="820.5" x2="1244.4" y2="807.5" stroke="#eeee00"/><line x1="1244.4" y1="807.5" x2="1249.8" y2="794.5" stroke="#4cbcc6"/><line x1="1281.3" y1="820.5" x2="1275.9" y2="807.5" stroke="#4cbcc6"/><line x1="1275.9" y1="807.5" x2="1270.4" y2="794.5" stroke="#eeee00"/><line x1="1301.9" y1="820.5" x2="1307.5" y2="807.5" stroke="#eeee00"/><line x1="1307.5" y1="807.5" x2="1313.2" y2="794.5" stroke="#4cbcc6"/><line x1="1345.1" y1="820.5" x2="1339.4" y2="807.5" stroke="#4cbcc6"/><line x1="1339.4" y1="807.5" x2="1333.8" y2="794.5" stroke="#eeee00"/><line x1="1365.7" y1="820.5" x2="1370.3" y2="807.5" stroke="#eeee00"/><line x1="1370.3" y1="807.5" x2="1374.9" y2="794.5" stroke="#4cbcc6"/><line x1="1404.7" y1="820.5" x2="1400.1" y2="807.5" stroke="#0a5ae6"/><line x1="1400.1" y1="807.5" x2="1395.5" y2="794.5" stroke="#eeee00"/><line x1="1425.3" y1="820.5" x2="1431.4" y2="807.5" stroke="#eeee00"/><line x1="1431.4" y1="807.5" x2="1437.5" y2="794.5" stroke="#0a5ae6"/><line x1="1470.3" y1="820.5" x2="1464.2" y2="807.5" stroke="#0a5ae6"/><line x1="1464.2" y1="807.5" x2="1458.1" y2="794.5" stroke="#eeee00"/><line x1="1490.9" y1="820.5" x2="1497.0" y2="807.5" stroke="#eeee00"/><line x1="1497.0" y1="807.5" x2="1503.1" y2="794.5" stroke="#0a5ae6"/><line x1="1535.9" y1="820.5" x2="1529.8" y2="807.5" stroke="#0a5ae6"/><line x1="1529.8" y1="807.5" x2="1523.7" y2="794.5" stroke="#eeee00"/><line x1="916.2" y1="820.5" x2="922.4" y2="834.0" stroke="#eeee00"/><line x1="922.4" y1="834.0" x2="928.7" y2="847.5" stroke="#0a5ae6"/><line x1="961.7" y1="820.5" x2="955.5" y2="834.0" stroke="#0a5ae6"/><line x1="955.5" y1="834.0" x2="949.3" y2="847.5" stroke="#eeee00"/><line x1="982.3" y1="820.5" x2="988.5" y2="834.0" stroke="#eeee00"/><line x1="988.5" y1="834.0" x2="994.8" y2="847.5" stroke="#0a5ae6"/><line x1="1027.8" y1="820.5" x2="1021.6" y2="834.0" stroke="#0a5ae6"/><line x1="1021.6" y1="834.0" x2="1015.4" y2="847.5" stroke="#eeee00"/><line x1="1048.4" y1="820.5" x2="1054.1" y2="834.0" stroke="#eeee00"/><line x1="1054.1" y1="834.0" x2="1059.8" y2="847.5" stroke="#0a5ae6"/><line x1="1091.7" y1="820.5" x2="1086.0" y2="834.0" stroke="#4cbcc6"/><line x1="1086.0" y1="834.0" x2="1080.3" y2="847.5" stroke="#eeee00"/><line x1="1112.3" y1="820.5" x2="1117.9" y2="834.0" stroke="#eeee00"/><line x1="1117.9" y1="834.0" x2="1123.6" y2="847.5" stroke="#4cbcc6"/><line x1="1155.5" y1="820.5" x2="1149.8" y2="834.0" stroke="#4cbcc6"/><line x1="1149.8" y1="834.0" x2="1144.2" y2="847.5" stroke="#eeee00"/><line x1="1176.1" y1="820.5" x2="1181.5" y2="834.0" stroke="#eeee00"/><line x1="1181.5" y1="834.0" x2="1187.0" y2="847.5" stroke="#4cbcc6"/><line x1="1218.4" y1="820.5" x2="1213.0" y2="834.0" stroke="#4cbcc6"/><line x1="1213.0" y1="834.0" x2="1207.5" y2="847.5" stroke="#eeee00"/><line x1="1239.0" y1="820.5" x2="1244.4" y2="834.0" stroke="#eeee00"/><line x1="1244.4" y1="834.0" x2="1249.8" y2="847.5" stroke="#4cbcc6"/><line x1="1281.3" y1="820.5" x2="1275.9" y2="834.0" stroke="#4cbcc6"/><line x1="1275.9" y1="834.0" x2="1270.4" y2="847.5" stroke="#eeee00"/><line x1="1301.9" y1="820.5" x2="1307.5" y2="834.0" stroke="#eeee00"/><line x1="1307.5" y1="834.0" x2="1313.2" y2="847.5" stroke="#4cbcc6"/><line x1="1345.1" y1="820.5" x2="1339.4" y2="834.0" stroke="#4cbcc6"/><line x1="1339.4" y1="834.0" x2="1333.8" y2="847.5" stroke="#eeee00"/><line x1="1365.7" y1="820.5" x2="1370.3" y2="834.0" stroke="#eeee00"/><line x1="1370.3" y1="834.0" x2="1374.9" y2="847.5" stroke="#4cbcc6"/><line x1="1404.7" y1="820.5" x2="1400.1" y2="834.0" stroke="#0a5ae6"/><line x1="1400.1" y1="834.0" x2="1395.5" y2="847.5" stroke="#eeee00"/><line x1="1425.3" y1="820.5" x2="1431.4" y2="834.0" stroke="#eeee00"/><line x1="1431.4" y1="834.0" x2="1437.5" y2="847.5" stroke="#0a5ae6"/><line x1="1470.3" y1="820.5" x2="1464.2" y2="834.0" stroke="#0a5ae6"/><line x1="1464.2" y1="834.0" x2="1458.1" y2="847.5" stroke="#eeee00"/><line x1="1490.9" y1="820.5" x2="1497.0" y2="834.0" stroke="#eeee00"/><line x1="1497.0" y1="834.0" x2="1503.1" y2="847.5" stroke="#0a5ae6"/><line x1="1535.9" y1="820.5" x2="1529.8" y2="834.0" stroke="#0a5ae6"/><line x1="1529.8" y1="834.0" x2="1523.7" y2="847.5" stroke="#eeee00"/><line x1="928.7" y1="847.5" x2="939.0" y2="847.5" stroke="#0a5ae6"/><line x1="939.0" y1="847.5" x2="949.3" y2="847.5" stroke="#eeee00"/><line x1="994.8" y1="847.5" x2="1005.0" y2="847.5" stroke="#0a5ae6"/><line x1="1005.0" y1="847.5" x2="1015.4" y2="847.5" stroke="#eeee00"/><line x1="1059.8" y1="847.5" x2="1070.0" y2="847.5" stroke="#0a5ae6"/><line x1="1070.0" y1="847.5" x2="1080.3" y2="847.5" stroke="#eeee00"/><line x1="1123.6" y1="847.5" x2="1133.9" y2="847.5" stroke="#4cbcc6"/><line x1="1133.9" y1="847.5" x2="1144.2" y2="847.5" stroke="#eeee00"/><line x1="1187.0" y1="847.5" x2="1197.2" y2="847.5" stroke="#4cbcc6"/><line x1="1197.2" y1="847.5" x2="1207.5" y2="847.5" stroke="#eeee00"/><line x1="1249.8" y1="847.5" x2="1260.1" y2="847.5" stroke="#4cbcc6"/><line x1="1260.1" y1="847.5" x2="1270.4" y2="847.5" stroke="#eeee00"/><line x1="1313.2" y1="847.5" x2="1323.5" y2="847.5" stroke="#4cbcc6"/><line x1="1323.5" y1="847.5" x2="1333.8" y2="847.5" stroke="#eeee00"/><line x1="1374.9" y1="847.5" x2="1385.2" y2="847.5" stroke="#4cbcc6"/><line x1="1385.2" y1="847.5" x2="1395.5" y2="847.5" stroke="#eeee00"/><line x1="1437.5" y1="847.5" x2="1447.8" y2="847.5" stroke="#0a5ae6"/><line x1="1447.8" y1="847.5" x2="1458.1" y2="847.5" stroke="#eeee00"/><line x1="1503.1" y1="847.5" x2="1513.4" y2="847.5" stroke="#0a5ae6"/><line x1="1513.4" y1="847.5" x2="1523.7" y2="847.5" stroke="#eeee00"/><line x1="908.2" y1="871.5" x2="916.2" y2="871.5" stroke="#eeee00"/><line x1="966.2" y1="871.5" x2="974.2" y2="871.5" stroke="#0a5ae6"/><line x1="974.2" y1="871.5" x2="982.3" y2="871.5" stroke="#eeee00"/><line x1="1032.3" y1="871.5" x2="1040.3" y2="871.5" stroke="#0a5ae6"/><line x1="1040.3" y1="871.5" x2="1048.4" y2="871.5" stroke="#eeee00"/><line x1="1094.2" y1="871.5" x2="1103.2" y2="871.5" stroke="#4cbcc6"/><line x1="1103.2" y1="871.5" x2="1112.3" y2="871.5" stroke="#eeee00"/><line x1="1158.0" y1="871.5" x2="1167.0" y2="871.5" stroke="#4cbcc6"/><line x1="1167.0" y1="871.5" x2="1176.1" y2="871.5" stroke="#eeee00"/><line x1="1220.9" y1="871.5" x2="1230.0" y2="871.5" stroke="#4cbcc6"/><line x1="1230.0" y1="871.5" x2="1239.0" y2="871.5" stroke="#eeee00"/><line x1="1283.8" y1="871.5" x2="1292.8" y2="871.5" stroke="#4cbcc6"/><line x1="1292.8" y1="871.5" x2="1301.9" y2="871.5" stroke="#eeee00"/><line x1="1347.6" y1="871.5" x2="1356.6" y2="871.5" stroke="#4cbcc6"/><line x1="1356.6" y1="871.5" x2="1365.7" y2="871.5" stroke="#eeee00"/><line x1="1409.2" y1="871.5" x2="1417.2" y2="871.5" stroke="#0a5ae6"/><line x1="1417.2" y1="871.5" x2="1425.3" y2="871.5" stroke="#eeee00"/><line x1="1474.8" y1="871.5" x2="1482.8" y2="871.5" stroke="#0a5ae6"/><line x1="1482.8" y1="871.5" x2="1490.9" y2="871.5" stroke="#eeee00"/><line x1="1540.4" y1="871.5" x2="1548.5" y2="871.5" stroke="#0a5ae6"/><line x1="916.2" y1="871.5" x2="922.4" y2="859.5" stroke="#eeee00"/><line x1="922.4" y1="859.5" x2="928.7" y2="847.5" stroke="#0a5ae6"/><line x1="966.2" y1="871.5" x2="957.7" y2="859.5" stroke="#0a5ae6"/><line x1="957.7" y1="859.5" x2="949.3" y2="847.5" stroke="#eeee00"/><line x1="982.3" y1="871.5" x2="988.5" y2="859.5" stroke="#eeee00"/><line x1="988.5" y1="859.5" x2="994.8" y2="847.5" stroke="#0a5ae6"/><line x1="1032.3" y1="871.5" x2="1023.8" y2="859.5" stroke="#0a5ae6"/><line x1="1023.8" y1="859.5" x2="1015.4" y2="847.5" stroke="#eeee00"/><line x1="1048.4" y1="871.5" x2="1054.1" y2="859.5" stroke="#eeee00"/><line x1="1054.1" y1="859.5" x2="1059.8" y2="847.5" stroke="#0a5ae6"/><line x1="1094.2" y1="871.5" x2="1087.3" y2="859.5" stroke="#4cbcc6"/><line x1="1087.3" y1="859.5" x2="1080.3" y2="847.5" stroke="#eeee00"/><line x1="1112.3" y1="871.5" x2="1117.9" y2="859.5" stroke="#eeee00"/><line x1="1117.9" y1="859.5" x2="1123.6" y2="847.5" stroke="#4cbcc6"/><line x1="1158.0" y1="871.5" x2="1151.1" y2="859.5" stroke="#4cbcc6"/><line x1="1151.1" y1="859.5" x2="1144.2" y2="847.5" stroke="#eeee00"/><line x1="1176.1" y1="871.5" x2="1181.5" y2="859.5" stroke="#eeee00"/><line x1="1181.5" y1="859.5" x2="1187.0" y2="847.5" stroke="#4cbcc6"/><line x1="1220.9" y1="871.5" x2="1214.2" y2="859.5" stroke="#4cbcc6"/><line x1="1214.2" y1="859.5" x2="1207.5" y2="847.5" stroke="#eeee00"/><line x1="1239.0" y1="871.5" x2="1244.4" y2="859.5" stroke="#eeee00"/><line x1="1244.4" y1="859.5" x2="1249.8" y2="847.5" stroke="#4cbcc6"/><line x1="1283.8" y1="871.5" x2="1277.1" y2="859.5" stroke="#4cbcc6"/><line x1="1277.1" y1="859.5" x2="1270.4" y2="847.5" stroke="#eeee00"/><line x1="1301.9" y1="871.5" x2="1307.5" y2="859.5" stroke="#eeee00"/><line x1="1307.5" y1="859.5" x2="1313.2" y2="847.5" stroke="#4cbcc6"/><line x1="1347.6" y1="871.5" x2="1340.7" y2="859.5" stroke="#4cbcc6"/><line x1="1340.7" y1="859.5" x2="1333.8" y2="847.5" stroke="#eeee00"/><line x1="1365.7" y1="871.5" x2="1370.3" y2="859.5" stroke="#eeee00"/><line x1="1370.3" y1="859.5" x2="1374.9" y2="847.5" stroke="#4cbcc6"/><line x1="1409.2" y1="871.5" x2="1402.3" y2="859.5" stroke="#0a5ae6"/><line x1="1402.3" y1="859.5" x2="1395.5" y2="847.5" stroke="#eeee00"/><line x1="1425.3" y1="871.5" x2="1431.4" y2="859.5" stroke="#eeee00"/><line x1="1431.4" y1="859.5" x2="1437.5" y2="847.5" stroke="#0a5ae6"/><line x1="1474.8" y1="871.5" x2="1466.4" y2="859.5" stroke="#0a5ae6"/><line x1="1466.4" y1="859.5" x2="1458.1" y2="847.5" stroke="#eeee00"/><line x1="1490.9" y1="871.5" x2="1497.0" y2="859.5" stroke="#eeee00"/><line x1="1497.0" y1="859.5" x2="1503.1" y2="847.5" stroke="#0a5ae6"/><line x1="1540.4" y1="871.5" x2="1532.0" y2="859.5" stroke="#0a5ae6"/><line x1="1532.0" y1="859.5" x2="1523.7" y2="847.5" stroke="#eeee00"/><line x1="932.2" y1="691.4" x2="946.9" y2="703.5" stroke="#0a5ae6"/><line x1="946.9" y1="703.5" x2="961.7" y2="715.5" stroke="#0a5ae6"/><line x1="998.2" y1="691.4" x2="1013.0" y2="703.5" stroke="#0a5ae6"/><line x1="1013.0" y1="703.5" x2="1027.8" y2="715.5" stroke="#0a5ae6"/><line x1="1378.4" y1="691.4" x2="1391.6" y2="703.5" stroke="#4cbcc6"/><line x1="1391.6" y1="703.5" x2="1404.7" y2="715.5" stroke="#0a5ae6"/><line x1="1441.0" y1="691.4" x2="1455.7" y2="703.5" stroke="#0a5ae6"/><line x1="1455.7" y1="703.5" x2="1470.3" y2="715.5" stroke="#0a5ae6"/><line x1="1506.6" y1="691.4" x2="1521.2" y2="703.5" stroke="#0a5ae6"/><line x1="1521.2" y1="703.5" x2="1535.9" y2="715.5" stroke="#0a5ae6"/><line x1="914.4" y1="859.5" x2="928.7" y2="847.5" stroke="#0a5ae6"/><line x1="966.2" y1="871.5" x2="980.5" y2="859.5" stroke="#0a5ae6"/><line x1="980.5" y1="859.5" x2="994.8" y2="847.5" stroke="#0a5ae6"/><line x1="1032.3" y1="871.5" x2="1046.0" y2="859.5" stroke="#0a5ae6"/><line x1="1046.0" y1="859.5" x2="1059.8" y2="847.5" stroke="#0a5ae6"/><line x1="1409.2" y1="871.5" x2="1423.3" y2="859.5" stroke="#0a5ae6"/><line x1="1423.3" y1="859.5" x2="1437.5" y2="847.5" stroke="#0a5ae6"/><line x1="1474.8" y1="871.5" x2="1488.9" y2="859.5" stroke="#0a5ae6"/><line x1="1488.9" y1="859.5" x2="1503.1" y2="847.5" stroke="#0a5ae6"/><line x1="1540.4" y1="871.5" x2="1554.6" y2="859.5" stroke="#0a5ae6"/></g><ellipse cx="932.2" cy="691.4" rx="5.5" ry="7.2" fill="url(#gMb)"/><ellipse cx="949.3" cy="690.2" rx="5.7" ry="7.4" fill="url(#gS)"/><ellipse cx="998.2" cy="691.4" rx="5.5" ry="7.2" fill="url(#gMb)"/><ellipse cx="1015.4" cy="690.2" rx="5.7" ry="7.4" fill="url(#gS)"/><ellipse cx="1063.2" cy="691.4" rx="5.5" ry="7.2" fill="url(#gMb)"/><ellipse cx="1080.3" cy="690.2" rx="5.7" ry="7.4" fill="url(#gS)"/><ellipse cx="1127.1" cy="691.4" rx="5.5" ry="7.0" fill="url(#gMc)"/><ellipse cx="1144.2" cy="690.2" rx="5.7" ry="7.4" fill="url(#gS)"/><ellipse cx="1190.5" cy="691.4" rx="5.5" ry="7.0" fill="url(#gMc)"/><ellipse cx="1207.5" cy="690.2" rx="5.7" ry="7.4" fill="url(#gS)"/><ellipse cx="1253.3" cy="691.4" rx="5.5" ry="7.0" fill="url(#gMc)"/><ellipse cx="1270.4" cy="690.2" rx="5.7" ry="7.4" fill="url(#gS)"/><ellipse cx="1316.7" cy="691.4" rx="5.5" ry="7.0" fill="url(#gMc)"/><ellipse cx="1333.8" cy="690.2" rx="5.7" ry="7.4" fill="url(#gS)"/><ellipse cx="1378.4" cy="691.4" rx="5.5" ry="7.0" fill="url(#gMc)"/><ellipse cx="1395.5" cy="690.2" rx="5.7" ry="7.4" fill="url(#gS)"/><ellipse cx="1441.0" cy="691.4" rx="5.5" ry="7.2" fill="url(#gMb)"/><ellipse cx="1458.1" cy="690.2" rx="5.7" ry="7.4" fill="url(#gS)"/><ellipse cx="1506.6" cy="691.4" rx="5.5" ry="7.2" fill="url(#gMb)"/><ellipse cx="1523.7" cy="690.2" rx="5.7" ry="7.4" fill="url(#gS)"/><ellipse cx="916.2" cy="715.5" rx="5.7" ry="7.4" fill="url(#gS)"/><ellipse cx="961.7" cy="715.5" rx="5.5" ry="7.2" fill="url(#gMb)"/><ellipse cx="982.3" cy="715.5" rx="5.7" ry="7.4" fill="url(#gS)"/><ellipse cx="1027.8" cy="715.5" rx="5.5" ry="7.2" fill="url(#gMb)"/><ellipse cx="1048.4" cy="715.5" rx="5.7" ry="7.4" fill="url(#gS)"/><ellipse cx="1091.7" cy="715.5" rx="5.5" ry="7.0" fill="url(#gMc)"/><ellipse cx="1112.3" cy="715.5" rx="5.7" ry="7.4" fill="url(#gS)"/><ellipse cx="1155.5" cy="715.5" rx="5.5" ry="7.0" fill="url(#gMc)"/><ellipse cx="1176.1" cy="715.5" rx="5.7" ry="7.4" fill="url(#gS)"/><ellipse cx="1218.4" cy="715.5" rx="5.5" ry="7.0" fill="url(#gMc)"/><ellipse cx="1239.0" cy="715.5" rx="5.7" ry="7.4" fill="url(#gS)"/><ellipse cx="1281.3" cy="715.5" rx="5.5" ry="7.0" fill="url(#gMc)"/><ellipse cx="1301.9" cy="715.5" rx="5.7" ry="7.4" fill="url(#gS)"/><ellipse cx="1345.1" cy="715.5" rx="5.5" ry="7.0" fill="url(#gMc)"/><ellipse cx="1365.7" cy="715.5" rx="5.7" ry="7.4" fill="url(#gS)"/><ellipse cx="1404.7" cy="715.5" rx="5.5" ry="7.2" fill="url(#gMb)"/><ellipse cx="1425.3" cy="715.5" rx="5.7" ry="7.4" fill="url(#gS)"/><ellipse cx="1470.3" cy="715.5" rx="5.5" ry="7.2" fill="url(#gMb)"/><ellipse cx="1490.9" cy="715.5" rx="5.7" ry="7.4" fill="url(#gS)"/><ellipse cx="1535.9" cy="715.5" rx="5.5" ry="7.2" fill="url(#gMb)"/><ellipse cx="928.7" cy="742.0" rx="5.5" ry="7.2" fill="url(#gMb)"/><ellipse cx="949.3" cy="742.0" rx="5.7" ry="7.4" fill="url(#gS)"/><ellipse cx="994.8" cy="742.0" rx="5.5" ry="7.2" fill="url(#gMb)"/><ellipse cx="1015.4" cy="742.0" rx="5.7" ry="7.4" fill="url(#gS)"/><ellipse cx="1059.8" cy="742.0" rx="5.5" ry="7.2" fill="url(#gMb)"/><ellipse cx="1080.3" cy="742.0" rx="5.7" ry="7.4" fill="url(#gS)"/><ellipse cx="1123.6" cy="742.0" rx="5.5" ry="7.0" fill="url(#gMc)"/><ellipse cx="1144.2" cy="742.0" rx="5.7" ry="7.4" fill="url(#gS)"/><ellipse cx="1187.0" cy="742.0" rx="5.5" ry="7.0" fill="url(#gMc)"/><ellipse cx="1207.5" cy="742.0" rx="5.7" ry="7.4" fill="url(#gS)"/><ellipse cx="1249.8" cy="742.0" rx="5.5" ry="7.0" fill="url(#gMc)"/><ellipse cx="1270.4" cy="742.0" rx="5.7" ry="7.4" fill="url(#gS)"/><ellipse cx="1313.2" cy="742.0" rx="5.5" ry="7.0" fill="url(#gMc)"/><ellipse cx="1333.8" cy="742.0" rx="5.7" ry="7.4" fill="url(#gS)"/><ellipse cx="1374.9" cy="742.0" rx="5.5" ry="7.0" fill="url(#gMc)"/><ellipse cx="1395.5" cy="742.0" rx="5.7" ry="7.4" fill="url(#gS)"/><ellipse cx="1437.5" cy="742.0" rx="5.5" ry="7.2" fill="url(#gMb)"/><ellipse cx="1458.1" cy="742.0" rx="5.7" ry="7.4" fill="url(#gS)"/><ellipse cx="1503.1" cy="742.0" rx="5.5" ry="7.2" fill="url(#gMb)"/><ellipse cx="1523.7" cy="742.0" rx="5.7" ry="7.4" fill="url(#gS)"/><ellipse cx="916.2" cy="768.5" rx="5.7" ry="7.4" fill="url(#gS)"/><ellipse cx="961.7" cy="768.5" rx="5.5" ry="7.2" fill="url(#gMb)"/><ellipse cx="982.3" cy="768.5" rx="5.7" ry="7.4" fill="url(#gS)"/><ellipse cx="1027.8" cy="768.5" rx="5.5" ry="7.2" fill="url(#gMb)"/><ellipse cx="1048.4" cy="768.5" rx="5.7" ry="7.4" fill="url(#gS)"/><ellipse cx="1091.7" cy="768.5" rx="5.5" ry="7.0" fill="url(#gMc)"/><ellipse cx="1112.3" cy="768.5" rx="5.7" ry="7.4" fill="url(#gS)"/><ellipse cx="1155.5" cy="768.5" rx="5.5" ry="7.0" fill="url(#gMc)"/><ellipse cx="1176.1" cy="768.5" rx="5.7" ry="7.4" fill="url(#gS)"/><ellipse cx="1218.4" cy="768.5" rx="5.5" ry="7.0" fill="url(#gMc)"/><ellipse cx="1239.0" cy="768.5" rx="5.7" ry="7.4" fill="url(#gS)"/><ellipse cx="1281.3" cy="768.5" rx="5.5" ry="7.0" fill="url(#gMc)"/><ellipse cx="1301.9" cy="768.5" rx="5.7" ry="7.4" fill="url(#gS)"/><ellipse cx="1345.1" cy="768.5" rx="5.5" ry="7.0" fill="url(#gMc)"/><ellipse cx="1365.7" cy="768.5" rx="5.7" ry="7.4" fill="url(#gS)"/><ellipse cx="1404.7" cy="768.5" rx="5.5" ry="7.2" fill="url(#gMb)"/><ellipse cx="1425.3" cy="768.5" rx="5.7" ry="7.4" fill="url(#gS)"/><ellipse cx="1470.3" cy="768.5" rx="5.5" ry="7.2" fill="url(#gMb)"/><ellipse cx="1490.9" cy="768.5" rx="5.7" ry="7.4" fill="url(#gS)"/><ellipse cx="1535.9" cy="768.5" rx="5.5" ry="7.2" fill="url(#gMb)"/><ellipse cx="928.7" cy="794.5" rx="5.5" ry="7.2" fill="url(#gMb)"/><ellipse cx="949.3" cy="794.5" rx="5.7" ry="7.4" fill="url(#gS)"/><ellipse cx="994.8" cy="794.5" rx="5.5" ry="7.2" fill="url(#gMb)"/><ellipse cx="1015.4" cy="794.5" rx="5.7" ry="7.4" fill="url(#gS)"/><ellipse cx="1059.8" cy="794.5" rx="5.5" ry="7.2" fill="url(#gMb)"/><ellipse cx="1080.3" cy="794.5" rx="5.7" ry="7.4" fill="url(#gS)"/><ellipse cx="1123.6" cy="794.5" rx="5.5" ry="7.0" fill="url(#gMc)"/><ellipse cx="1144.2" cy="794.5" rx="5.7" ry="7.4" fill="url(#gS)"/><ellipse cx="1187.0" cy="794.5" rx="5.5" ry="7.0" fill="url(#gMc)"/><ellipse cx="1207.5" cy="794.5" rx="5.7" ry="7.4" fill="url(#gS)"/><ellipse cx="1249.8" cy="794.5" rx="5.5" ry="7.0" fill="url(#gMc)"/><ellipse cx="1270.4" cy="794.5" rx="5.7" ry="7.4" fill="url(#gS)"/><ellipse cx="1313.2" cy="794.5" rx="5.5" ry="7.0" fill="url(#gMc)"/><ellipse cx="1333.8" cy="794.5" rx="5.7" ry="7.4" fill="url(#gS)"/><ellipse cx="1374.9" cy="794.5" rx="5.5" ry="7.0" fill="url(#gMc)"/><ellipse cx="1395.5" cy="794.5" rx="5.7" ry="7.4" fill="url(#gS)"/><ellipse cx="1437.5" cy="794.5" rx="5.5" ry="7.2" fill="url(#gMb)"/><ellipse cx="1458.1" cy="794.5" rx="5.7" ry="7.4" fill="url(#gS)"/><ellipse cx="1503.1" cy="794.5" rx="5.5" ry="7.2" fill="url(#gMb)"/><ellipse cx="1523.7" cy="794.5" rx="5.7" ry="7.4" fill="url(#gS)"/><ellipse cx="916.2" cy="820.5" rx="5.7" ry="7.4" fill="url(#gS)"/><ellipse cx="961.7" cy="820.5" rx="5.5" ry="7.2" fill="url(#gMb)"/><ellipse cx="982.3" cy="820.5" rx="5.7" ry="7.4" fill="url(#gS)"/><ellipse cx="1027.8" cy="820.5" rx="5.5" ry="7.2" fill="url(#gMb)"/><ellipse cx="1048.4" cy="820.5" rx="5.7" ry="7.4" fill="url(#gS)"/><ellipse cx="1091.7" cy="820.5" rx="5.5" ry="7.0" fill="url(#gMc)"/><ellipse cx="1112.3" cy="820.5" rx="5.7" ry="7.4" fill="url(#gS)"/><ellipse cx="1155.5" cy="820.5" rx="5.5" ry="7.0" fill="url(#gMc)"/><ellipse cx="1176.1" cy="820.5" rx="5.7" ry="7.4" fill="url(#gS)"/><ellipse cx="1218.4" cy="820.5" rx="5.5" ry="7.0" fill="url(#gMc)"/><ellipse cx="1239.0" cy="820.5" rx="5.7" ry="7.4" fill="url(#gS)"/><ellipse cx="1281.3" cy="820.5" rx="5.5" ry="7.0" fill="url(#gMc)"/><ellipse cx="1301.9" cy="820.5" rx="5.7" ry="7.4" fill="url(#gS)"/><ellipse cx="1345.1" cy="820.5" rx="5.5" ry="7.0" fill="url(#gMc)"/><ellipse cx="1365.7" cy="820.5" rx="5.7" ry="7.4" fill="url(#gS)"/><ellipse cx="1404.7" cy="820.5" rx="5.5" ry="7.2" fill="url(#gMb)"/><ellipse cx="1425.3" cy="820.5" rx="5.7" ry="7.4" fill="url(#gS)"/><ellipse cx="1470.3" cy="820.5" rx="5.5" ry="7.2" fill="url(#gMb)"/><ellipse cx="1490.9" cy="820.5" rx="5.7" ry="7.4" fill="url(#gS)"/><ellipse cx="1535.9" cy="820.5" rx="5.5" ry="7.2" fill="url(#gMb)"/><ellipse cx="928.7" cy="847.5" rx="5.5" ry="7.2" fill="url(#gMb)"/><ellipse cx="949.3" cy="847.5" rx="5.7" ry="7.4" fill="url(#gS)"/><ellipse cx="994.8" cy="847.5" rx="5.5" ry="7.2" fill="url(#gMb)"/><ellipse cx="1015.4" cy="847.5" rx="5.7" ry="7.4" fill="url(#gS)"/><ellipse cx="1059.8" cy="847.5" rx="5.5" ry="7.2" fill="url(#gMb)"/><ellipse cx="1080.3" cy="847.5" rx="5.7" ry="7.4" fill="url(#gS)"/><ellipse cx="1123.6" cy="847.5" rx="5.5" ry="7.0" fill="url(#gMc)"/><ellipse cx="1144.2" cy="847.5" rx="5.7" ry="7.4" fill="url(#gS)"/><ellipse cx="1187.0" cy="847.5" rx="5.5" ry="7.0" fill="url(#gMc)"/><ellipse cx="1207.5" cy="847.5" rx="5.7" ry="7.4" fill="url(#gS)"/><ellipse cx="1249.8" cy="847.5" rx="5.5" ry="7.0" fill="url(#gMc)"/><ellipse cx="1270.4" cy="847.5" rx="5.7" ry="7.4" fill="url(#gS)"/><ellipse cx="1313.2" cy="847.5" rx="5.5" ry="7.0" fill="url(#gMc)"/><ellipse cx="1333.8" cy="847.5" rx="5.7" ry="7.4" fill="url(#gS)"/><ellipse cx="1374.9" cy="847.5" rx="5.5" ry="7.0" fill="url(#gMc)"/><ellipse cx="1395.5" cy="847.5" rx="5.7" ry="7.4" fill="url(#gS)"/><ellipse cx="1437.5" cy="847.5" rx="5.5" ry="7.2" fill="url(#gMb)"/><ellipse cx="1458.1" cy="847.5" rx="5.7" ry="7.4" fill="url(#gS)"/><ellipse cx="1503.1" cy="847.5" rx="5.5" ry="7.2" fill="url(#gMb)"/><ellipse cx="1523.7" cy="847.5" rx="5.7" ry="7.4" fill="url(#gS)"/><ellipse cx="916.2" cy="871.5" rx="5.7" ry="7.4" fill="url(#gS)"/><ellipse cx="966.2" cy="871.5" rx="5.5" ry="7.2" fill="url(#gMb)"/><ellipse cx="982.3" cy="871.5" rx="5.7" ry="7.4" fill="url(#gS)"/><ellipse cx="1032.3" cy="871.5" rx="5.5" ry="7.2" fill="url(#gMb)"/><ellipse cx="1048.4" cy="871.5" rx="5.7" ry="7.4" fill="url(#gS)"/><ellipse cx="1094.2" cy="871.5" rx="5.5" ry="7.0" fill="url(#gMc)"/><ellipse cx="1112.3" cy="871.5" rx="5.7" ry="7.4" fill="url(#gS)"/><ellipse cx="1158.0" cy="871.5" rx="5.5" ry="7.0" fill="url(#gMc)"/><ellipse cx="1176.1" cy="871.5" rx="5.7" ry="7.4" fill="url(#gS)"/><ellipse cx="1220.9" cy="871.5" rx="5.5" ry="7.0" fill="url(#gMc)"/><ellipse cx="1239.0" cy="871.5" rx="5.7" ry="7.4" fill="url(#gS)"/><ellipse cx="1283.8" cy="871.5" rx="5.5" ry="7.0" fill="url(#gMc)"/><ellipse cx="1301.9" cy="871.5" rx="5.7" ry="7.4" fill="url(#gS)"/><ellipse cx="1347.6" cy="871.5" rx="5.5" ry="7.0" fill="url(#gMc)"/><ellipse cx="1365.7" cy="871.5" rx="5.7" ry="7.4" fill="url(#gS)"/><ellipse cx="1409.2" cy="871.5" rx="5.5" ry="7.2" fill="url(#gMb)"/><ellipse cx="1425.3" cy="871.5" rx="5.7" ry="7.4" fill="url(#gS)"/><ellipse cx="1474.8" cy="871.5" rx="5.5" ry="7.2" fill="url(#gMb)"/><ellipse cx="1490.9" cy="871.5" rx="5.7" ry="7.4" fill="url(#gS)"/><ellipse cx="1540.4" cy="871.5" rx="5.5" ry="7.2" fill="url(#gMb)"/>
<ellipse cx="1184.6" cy="684.6" rx="10.9" ry="13.1" fill="url(#gM)"/><ellipse cx="1191.9" cy="703.7" rx="8.2" ry="10" fill="url(#gL)"/><ellipse cx="1211" cy="681" rx="6.4" ry="8.2" fill="url(#gL)"/><ellipse cx="1206.5" cy="700" rx="3.5" ry="3.5" fill="url(#gM)"/><ellipse cx="1216.5" cy="708.3" rx="5" ry="6.4" fill="url(#gM)"/><ellipse cx="1220.2" cy="722" rx="4" ry="5" fill="url(#gL)"/><ellipse cx="1171" cy="719.2" rx="3.5" ry="3.5" fill="url(#gL)"/><ellipse cx="1182.8" cy="737.5" rx="4" ry="5.5" fill="url(#gM)"/><ellipse cx="1188.3" cy="747.5" rx="3.5" ry="3.5" fill="url(#gL)"/><ellipse cx="1216.5" cy="758.4" rx="4" ry="5" fill="url(#gM)"/><ellipse cx="1212.9" cy="765.7" rx="4" ry="4.5" fill="url(#gL)"/><ellipse cx="1222" cy="769.4" rx="4" ry="4.5" fill="url(#gL)"/><ellipse cx="1219.3" cy="779.4" rx="4" ry="4.5" fill="url(#gM)"/><ellipse cx="1249.4" cy="788.5" rx="5.5" ry="7.3" fill="url(#gM)"/><ellipse cx="1245.7" cy="797.6" rx="5.5" ry="7.3" fill="url(#gL)"/><ellipse cx="1250.3" cy="804" rx="5" ry="6" fill="url(#gM)"/><ellipse cx="1254.8" cy="790.3" rx="4" ry="6" fill="url(#gL)"/><ellipse cx="1220.2" cy="814" rx="5" ry="6.4" fill="url(#gM)"/><ellipse cx="1214.7" cy="826.8" rx="4.5" ry="8.2" fill="url(#gL)"/><ellipse cx="1243" cy="821" rx="3" ry="4" fill="url(#gL)"/><ellipse cx="1202" cy="842.3" rx="6.4" ry="7.7" fill="url(#gM)"/><ellipse cx="1252.1" cy="840.5" rx="6.4" ry="8.2" fill="url(#gM)"/><ellipse cx="1222.9" cy="856" rx="9" ry="10" fill="url(#gM)"/><ellipse cx="1230" cy="855" rx="15" ry="8" fill="url(#gL)" transform="rotate(-35 1230 855)"/><ellipse cx="1215.6" cy="873.3" rx="13.7" ry="20" fill="url(#gL)"/><ellipse cx="1243" cy="883.3" rx="9" ry="11" fill="url(#gM)"/><ellipse cx="1158" cy="861" rx="4" ry="5" fill="url(#gL)"/><ellipse cx="1153" cy="874" rx="4" ry="4" fill="url(#gM)"/><ellipse cx="1160" cy="873" rx="2.5" ry="2.5" fill="url(#gL)"/><ellipse cx="1281" cy="866" rx="2.5" ry="2.5" fill="url(#gL)"/><ellipse cx="1283" cy="876" rx="2" ry="2" fill="url(#gL)"/><ellipse cx="1301" cy="866" rx="2" ry="2" fill="url(#gM)"/><ellipse cx="1305" cy="877" rx="2" ry="2" fill="url(#gL)"/><ellipse cx="1095" cy="858" rx="4" ry="5" fill="url(#gM)"/><ellipse cx="1088" cy="871" rx="5" ry="6" fill="url(#gL)"/><ellipse cx="1097" cy="876" rx="3" ry="4" fill="url(#gM)"/><ellipse cx="1104" cy="877" rx="3" ry="3" fill="url(#gL)"/>
</g>
<rect x="904.8" y="672.2" width="74.2" height="219.8" fill="#c4c4c4"/>
<rect x="1482.2" y="672.7" width="74.7" height="220.0" fill="#c4c4c4"/>
<clipPath id="bx3"><rect x="904.8" y="672.2" width="74.2" height="219.8"/><rect x="1482.2" y="672.7" width="74.7" height="220.0"/></clipPath>
<g clip-path="url(#bx3)"><g stroke-width="2.4"><line x1="932.2" y1="691.4" x2="940.7" y2="690.8" stroke="#0a5ac4"/><line x1="940.7" y1="690.8" x2="949.3" y2="690.2" stroke="#c4c400"/><line x1="1506.6" y1="691.4" x2="1515.1" y2="690.8" stroke="#0a5ac4"/><line x1="1515.1" y1="690.8" x2="1523.7" y2="690.2" stroke="#c4c400"/><line x1="905.9" y1="715.5" x2="916.2" y2="715.5" stroke="#c4c400"/><line x1="961.7" y1="715.5" x2="972.0" y2="715.5" stroke="#0a5ac4"/><line x1="972.0" y1="715.5" x2="982.3" y2="715.5" stroke="#c4c400"/><line x1="1470.3" y1="715.5" x2="1480.6" y2="715.5" stroke="#0a5ac4"/><line x1="1480.6" y1="715.5" x2="1490.9" y2="715.5" stroke="#c4c400"/><line x1="1535.9" y1="715.5" x2="1546.2" y2="715.5" stroke="#0a5ac4"/><line x1="916.2" y1="715.5" x2="924.2" y2="703.5" stroke="#c4c400"/><line x1="924.2" y1="703.5" x2="932.2" y2="691.4" stroke="#0a5ac4"/><line x1="961.7" y1="715.5" x2="955.5" y2="702.9" stroke="#0a5ac4"/><line x1="955.5" y1="702.9" x2="949.3" y2="690.2" stroke="#c4c400"/><line x1="1490.9" y1="715.5" x2="1498.8" y2="703.5" stroke="#c4c400"/><line x1="1498.8" y1="703.5" x2="1506.6" y2="691.4" stroke="#0a5ac4"/><line x1="1535.9" y1="715.5" x2="1529.8" y2="702.9" stroke="#0a5ac4"/><line x1="1529.8" y1="702.9" x2="1523.7" y2="690.2" stroke="#c4c400"/><line x1="916.2" y1="715.5" x2="922.4" y2="728.8" stroke="#c4c400"/><line x1="922.4" y1="728.8" x2="928.7" y2="742.0" stroke="#0a5ac4"/><line x1="961.7" y1="715.5" x2="955.5" y2="728.8" stroke="#0a5ac4"/><line x1="955.5" y1="728.8" x2="949.3" y2="742.0" stroke="#c4c400"/><line x1="1490.9" y1="715.5" x2="1497.0" y2="728.8" stroke="#c4c400"/><line x1="1497.0" y1="728.8" x2="1503.1" y2="742.0" stroke="#0a5ac4"/><line x1="1535.9" y1="715.5" x2="1529.8" y2="728.8" stroke="#0a5ac4"/><line x1="1529.8" y1="728.8" x2="1523.7" y2="742.0" stroke="#c4c400"/><line x1="928.7" y1="742.0" x2="939.0" y2="742.0" stroke="#0a5ac4"/><line x1="939.0" y1="742.0" x2="949.3" y2="742.0" stroke="#c4c400"/><line x1="1503.1" y1="742.0" x2="1513.4" y2="742.0" stroke="#0a5ac4"/><line x1="1513.4" y1="742.0" x2="1523.7" y2="742.0" stroke="#c4c400"/><line x1="905.9" y1="768.5" x2="916.2" y2="768.5" stroke="#c4c400"/><line x1="961.7" y1="768.5" x2="972.0" y2="768.5" stroke="#0a5ac4"/><line x1="972.0" y1="768.5" x2="982.3" y2="768.5" stroke="#c4c400"/><line x1="1470.3" y1="768.5" x2="1480.6" y2="768.5" stroke="#0a5ac4"/><line x1="1480.6" y1="768.5" x2="1490.9" y2="768.5" stroke="#c4c400"/><line x1="1535.9" y1="768.5" x2="1546.2" y2="768.5" stroke="#0a5ac4"/><line x1="916.2" y1="768.5" x2="922.4" y2="755.2" stroke="#c4c400"/><line x1="922.4" y1="755.2" x2="928.7" y2="742.0" stroke="#0a5ac4"/><line x1="961.7" y1="768.5" x2="955.5" y2="755.2" stroke="#0a5ac4"/><line x1="955.5" y1="755.2" x2="949.3" y2="742.0" stroke="#c4c400"/><line x1="1490.9" y1="768.5" x2="1497.0" y2="755.2" stroke="#c4c400"/><line x1="1497.0" y1="755.2" x2="1503.1" y2="742.0" stroke="#0a5ac4"/><line x1="1535.9" y1="768.5" x2="1529.8" y2="755.2" stroke="#0a5ac4"/><line x1="1529.8" y1="755.2" x2="1523.7" y2="742.0" stroke="#c4c400"/><line x1="916.2" y1="768.5" x2="922.4" y2="781.5" stroke="#c4c400"/><line x1="922.4" y1="781.5" x2="928.7" y2="794.5" stroke="#0a5ac4"/><line x1="961.7" y1="768.5" x2="955.5" y2="781.5" stroke="#0a5ac4"/><line x1="955.5" y1="781.5" x2="949.3" y2="794.5" stroke="#c4c400"/><line x1="1490.9" y1="768.5" x2="1497.0" y2="781.5" stroke="#c4c400"/><line x1="1497.0" y1="781.5" x2="1503.1" y2="794.5" stroke="#0a5ac4"/><line x1="1535.9" y1="768.5" x2="1529.8" y2="781.5" stroke="#0a5ac4"/><line x1="1529.8" y1="781.5" x2="1523.7" y2="794.5" stroke="#c4c400"/><line x1="928.7" y1="794.5" x2="939.0" y2="794.5" stroke="#0a5ac4"/><line x1="939.0" y1="794.5" x2="949.3" y2="794.5" stroke="#c4c400"/><line x1="1503.1" y1="794.5" x2="1513.4" y2="794.5" stroke="#0a5ac4"/><line x1="1513.4" y1="794.5" x2="1523.7" y2="794.5" stroke="#c4c400"/><line x1="905.9" y1="820.5" x2="916.2" y2="820.5" stroke="#c4c400"/><line x1="961.7" y1="820.5" x2="972.0" y2="820.5" stroke="#0a5ac4"/><line x1="972.0" y1="820.5" x2="982.3" y2="820.5" stroke="#c4c400"/><line x1="1470.3" y1="820.5" x2="1480.6" y2="820.5" stroke="#0a5ac4"/><line x1="1480.6" y1="820.5" x2="1490.9" y2="820.5" stroke="#c4c400"/><line x1="1535.9" y1="820.5" x2="1546.2" y2="820.5" stroke="#0a5ac4"/><line x1="916.2" y1="820.5" x2="922.4" y2="807.5" stroke="#c4c400"/><line x1="922.4" y1="807.5" x2="928.7" y2="794.5" stroke="#0a5ac4"/><line x1="961.7" y1="820.5" x2="955.5" y2="807.5" stroke="#0a5ac4"/><line x1="955.5" y1="807.5" x2="949.3" y2="794.5" stroke="#c4c400"/><line x1="1490.9" y1="820.5" x2="1497.0" y2="807.5" stroke="#c4c400"/><line x1="1497.0" y1="807.5" x2="1503.1" y2="794.5" stroke="#0a5ac4"/><line x1="1535.9" y1="820.5" x2="1529.8" y2="807.5" stroke="#0a5ac4"/><line x1="1529.8" y1="807.5" x2="1523.7" y2="794.5" stroke="#c4c400"/><line x1="916.2" y1="820.5" x2="922.4" y2="834.0" stroke="#c4c400"/><line x1="922.4" y1="834.0" x2="928.7" y2="847.5" stroke="#0a5ac4"/><line x1="961.7" y1="820.5" x2="955.5" y2="834.0" stroke="#0a5ac4"/><line x1="955.5" y1="834.0" x2="949.3" y2="847.5" stroke="#c4c400"/><line x1="1490.9" y1="820.5" x2="1497.0" y2="834.0" stroke="#c4c400"/><line x1="1497.0" y1="834.0" x2="1503.1" y2="847.5" stroke="#0a5ac4"/><line x1="1535.9" y1="820.5" x2="1529.8" y2="834.0" stroke="#0a5ac4"/><line x1="1529.8" y1="834.0" x2="1523.7" y2="847.5" stroke="#c4c400"/><line x1="928.7" y1="847.5" x2="939.0" y2="847.5" stroke="#0a5ac4"/><line x1="939.0" y1="847.5" x2="949.3" y2="847.5" stroke="#c4c400"/><line x1="1503.1" y1="847.5" x2="1513.4" y2="847.5" stroke="#0a5ac4"/><line x1="1513.4" y1="847.5" x2="1523.7" y2="847.5" stroke="#c4c400"/><line x1="908.2" y1="871.5" x2="916.2" y2="871.5" stroke="#c4c400"/><line x1="966.2" y1="871.5" x2="974.2" y2="871.5" stroke="#0a5ac4"/><line x1="974.2" y1="871.5" x2="982.3" y2="871.5" stroke="#c4c400"/><line x1="1474.8" y1="871.5" x2="1482.8" y2="871.5" stroke="#0a5ac4"/><line x1="1482.8" y1="871.5" x2="1490.9" y2="871.5" stroke="#c4c400"/><line x1="1540.4" y1="871.5" x2="1548.5" y2="871.5" stroke="#0a5ac4"/><line x1="916.2" y1="871.5" x2="922.4" y2="859.5" stroke="#c4c400"/><line x1="922.4" y1="859.5" x2="928.7" y2="847.5" stroke="#0a5ac4"/><line x1="966.2" y1="871.5" x2="957.7" y2="859.5" stroke="#0a5ac4"/><line x1="957.7" y1="859.5" x2="949.3" y2="847.5" stroke="#c4c400"/><line x1="1490.9" y1="871.5" x2="1497.0" y2="859.5" stroke="#c4c400"/><line x1="1497.0" y1="859.5" x2="1503.1" y2="847.5" stroke="#0a5ac4"/><line x1="1540.4" y1="871.5" x2="1532.0" y2="859.5" stroke="#0a5ac4"/><line x1="1532.0" y1="859.5" x2="1523.7" y2="847.5" stroke="#c4c400"/><line x1="932.2" y1="691.4" x2="946.9" y2="703.5" stroke="#0a5ac4"/><line x1="946.9" y1="703.5" x2="961.7" y2="715.5" stroke="#0a5ac4"/><line x1="1506.6" y1="691.4" x2="1521.2" y2="703.5" stroke="#0a5ac4"/><line x1="1521.2" y1="703.5" x2="1535.9" y2="715.5" stroke="#0a5ac4"/><line x1="914.4" y1="859.5" x2="928.7" y2="847.5" stroke="#0a5ac4"/><line x1="966.2" y1="871.5" x2="980.5" y2="859.5" stroke="#0a5ac4"/><line x1="980.5" y1="859.5" x2="994.8" y2="847.5" stroke="#0a5ac4"/><line x1="1474.8" y1="871.5" x2="1488.9" y2="859.5" stroke="#0a5ac4"/><line x1="1488.9" y1="859.5" x2="1503.1" y2="847.5" stroke="#0a5ac4"/><line x1="1540.4" y1="871.5" x2="1554.6" y2="859.5" stroke="#0a5ac4"/></g><ellipse cx="932.2" cy="691.4" rx="5.5" ry="7.2" fill="url(#gMbD)"/><ellipse cx="949.3" cy="690.2" rx="5.7" ry="7.4" fill="url(#gSD)"/><ellipse cx="1506.6" cy="691.4" rx="5.5" ry="7.2" fill="url(#gMbD)"/><ellipse cx="1523.7" cy="690.2" rx="5.7" ry="7.4" fill="url(#gSD)"/><ellipse cx="916.2" cy="715.5" rx="5.7" ry="7.4" fill="url(#gSD)"/><ellipse cx="961.7" cy="715.5" rx="5.5" ry="7.2" fill="url(#gMbD)"/><ellipse cx="982.3" cy="715.5" rx="5.7" ry="7.4" fill="url(#gSD)"/><ellipse cx="1490.9" cy="715.5" rx="5.7" ry="7.4" fill="url(#gSD)"/><ellipse cx="1535.9" cy="715.5" rx="5.5" ry="7.2" fill="url(#gMbD)"/><ellipse cx="928.7" cy="742.0" rx="5.5" ry="7.2" fill="url(#gMbD)"/><ellipse cx="949.3" cy="742.0" rx="5.7" ry="7.4" fill="url(#gSD)"/><ellipse cx="1503.1" cy="742.0" rx="5.5" ry="7.2" fill="url(#gMbD)"/><ellipse cx="1523.7" cy="742.0" rx="5.7" ry="7.4" fill="url(#gSD)"/><ellipse cx="916.2" cy="768.5" rx="5.7" ry="7.4" fill="url(#gSD)"/><ellipse cx="961.7" cy="768.5" rx="5.5" ry="7.2" fill="url(#gMbD)"/><ellipse cx="982.3" cy="768.5" rx="5.7" ry="7.4" fill="url(#gSD)"/><ellipse cx="1490.9" cy="768.5" rx="5.7" ry="7.4" fill="url(#gSD)"/><ellipse cx="1535.9" cy="768.5" rx="5.5" ry="7.2" fill="url(#gMbD)"/><ellipse cx="928.7" cy="794.5" rx="5.5" ry="7.2" fill="url(#gMbD)"/><ellipse cx="949.3" cy="794.5" rx="5.7" ry="7.4" fill="url(#gSD)"/><ellipse cx="1503.1" cy="794.5" rx="5.5" ry="7.2" fill="url(#gMbD)"/><ellipse cx="1523.7" cy="794.5" rx="5.7" ry="7.4" fill="url(#gSD)"/><ellipse cx="916.2" cy="820.5" rx="5.7" ry="7.4" fill="url(#gSD)"/><ellipse cx="961.7" cy="820.5" rx="5.5" ry="7.2" fill="url(#gMbD)"/><ellipse cx="982.3" cy="820.5" rx="5.7" ry="7.4" fill="url(#gSD)"/><ellipse cx="1490.9" cy="820.5" rx="5.7" ry="7.4" fill="url(#gSD)"/><ellipse cx="1535.9" cy="820.5" rx="5.5" ry="7.2" fill="url(#gMbD)"/><ellipse cx="928.7" cy="847.5" rx="5.5" ry="7.2" fill="url(#gMbD)"/><ellipse cx="949.3" cy="847.5" rx="5.7" ry="7.4" fill="url(#gSD)"/><ellipse cx="1503.1" cy="847.5" rx="5.5" ry="7.2" fill="url(#gMbD)"/><ellipse cx="1523.7" cy="847.5" rx="5.7" ry="7.4" fill="url(#gSD)"/><ellipse cx="916.2" cy="871.5" rx="5.7" ry="7.4" fill="url(#gSD)"/><ellipse cx="966.2" cy="871.5" rx="5.5" ry="7.2" fill="url(#gMbD)"/><ellipse cx="982.3" cy="871.5" rx="5.7" ry="7.4" fill="url(#gSD)"/><ellipse cx="1490.9" cy="871.5" rx="5.7" ry="7.4" fill="url(#gSD)"/><ellipse cx="1540.4" cy="871.5" rx="5.5" ry="7.2" fill="url(#gMbD)"/></g>
<clipPath id="mc4"><rect x="902.0" y="888.0" width="657.7" height="238.0"/></clipPath>
<g clip-path="url(#mc4)">
<g stroke-width="2.4"><line x1="933.8" y1="921.2" x2="942.8" y2="920.6" stroke="#0a5ae6"/><line x1="942.8" y1="920.6" x2="951.8" y2="920.0" stroke="#eeee00"/><line x1="999.6" y1="921.2" x2="1008.6" y2="920.6" stroke="#0a5ae6"/><line x1="1008.6" y1="920.6" x2="1017.6" y2="920.0" stroke="#eeee00"/><line x1="1065.8" y1="921.2" x2="1074.8" y2="920.6" stroke="#0a5ae6"/><line x1="1074.8" y1="920.6" x2="1083.8" y2="920.0" stroke="#eeee00"/><line x1="1130.8" y1="921.2" x2="1139.8" y2="920.6" stroke="#4cbcc6"/><line x1="1139.8" y1="920.6" x2="1148.8" y2="920.0" stroke="#eeee00"/><line x1="1194.2" y1="921.2" x2="1203.2" y2="920.6" stroke="#4cbcc6"/><line x1="1203.2" y1="920.6" x2="1212.2" y2="920.0" stroke="#eeee00"/><line x1="1258.0" y1="921.2" x2="1267.0" y2="920.6" stroke="#4cbcc6"/><line x1="1267.0" y1="920.6" x2="1276.0" y2="920.0" stroke="#eeee00"/><line x1="1322.2" y1="921.2" x2="1331.2" y2="920.6" stroke="#4cbcc6"/><line x1="1331.2" y1="920.6" x2="1340.2" y2="920.0" stroke="#eeee00"/><line x1="1384.7" y1="921.2" x2="1393.7" y2="920.6" stroke="#4cbcc6"/><line x1="1393.7" y1="920.6" x2="1402.7" y2="920.0" stroke="#eeee00"/><line x1="1447.9" y1="921.2" x2="1456.9" y2="920.6" stroke="#0a5ae6"/><line x1="1456.9" y1="920.6" x2="1465.9" y2="920.0" stroke="#eeee00"/><line x1="1514.1" y1="921.2" x2="1523.1" y2="920.6" stroke="#0a5ae6"/><line x1="1523.1" y1="920.6" x2="1532.1" y2="920.0" stroke="#eeee00"/><line x1="908.2" y1="942.4" x2="918.9" y2="942.4" stroke="#eeee00"/><line x1="963.2" y1="942.4" x2="974.0" y2="942.4" stroke="#0a5ae6"/><line x1="974.0" y1="942.4" x2="984.7" y2="942.4" stroke="#eeee00"/><line x1="1029.0" y1="942.4" x2="1039.8" y2="942.4" stroke="#0a5ae6"/><line x1="1039.8" y1="942.4" x2="1050.5" y2="942.4" stroke="#eeee00"/><line x1="1095.6" y1="942.4" x2="1106.3" y2="942.4" stroke="#4cbcc6"/><line x1="1106.3" y1="942.4" x2="1117.1" y2="942.4" stroke="#eeee00"/><line x1="1159.1" y1="942.4" x2="1169.8" y2="942.4" stroke="#4cbcc6"/><line x1="1169.8" y1="942.4" x2="1180.6" y2="942.4" stroke="#eeee00"/><line x1="1222.4" y1="942.4" x2="1233.2" y2="942.4" stroke="#4cbcc6"/><line x1="1233.2" y1="942.4" x2="1243.9" y2="942.4" stroke="#eeee00"/><line x1="1286.5" y1="942.4" x2="1297.2" y2="942.4" stroke="#4cbcc6"/><line x1="1297.2" y1="942.4" x2="1308.0" y2="942.4" stroke="#eeee00"/><line x1="1350.8" y1="942.4" x2="1361.5" y2="942.4" stroke="#4cbcc6"/><line x1="1361.5" y1="942.4" x2="1372.3" y2="942.4" stroke="#eeee00"/><line x1="1411.6" y1="942.4" x2="1422.3" y2="942.4" stroke="#0a5ae6"/><line x1="1422.3" y1="942.4" x2="1433.1" y2="942.4" stroke="#eeee00"/><line x1="1477.3" y1="942.4" x2="1488.0" y2="942.4" stroke="#0a5ae6"/><line x1="1488.0" y1="942.4" x2="1498.8" y2="942.4" stroke="#eeee00"/><line x1="1543.9" y1="942.4" x2="1554.7" y2="942.4" stroke="#0a5ae6"/><line x1="918.9" y1="942.4" x2="926.4" y2="931.8" stroke="#eeee00"/><line x1="926.4" y1="931.8" x2="933.8" y2="921.2" stroke="#0a5ae6"/><line x1="963.2" y1="942.4" x2="957.5" y2="931.2" stroke="#0a5ae6"/><line x1="957.5" y1="931.2" x2="951.8" y2="920.0" stroke="#eeee00"/><line x1="984.7" y1="942.4" x2="992.2" y2="931.8" stroke="#eeee00"/><line x1="992.2" y1="931.8" x2="999.6" y2="921.2" stroke="#0a5ae6"/><line x1="1029.0" y1="942.4" x2="1023.3" y2="931.2" stroke="#0a5ae6"/><line x1="1023.3" y1="931.2" x2="1017.6" y2="920.0" stroke="#eeee00"/><line x1="1050.5" y1="942.4" x2="1058.2" y2="931.8" stroke="#eeee00"/><line x1="1058.2" y1="931.8" x2="1065.8" y2="921.2" stroke="#0a5ae6"/><line x1="1095.6" y1="942.4" x2="1089.7" y2="931.2" stroke="#4cbcc6"/><line x1="1089.7" y1="931.2" x2="1083.8" y2="920.0" stroke="#eeee00"/><line x1="1117.1" y1="942.4" x2="1124.0" y2="931.8" stroke="#eeee00"/><line x1="1124.0" y1="931.8" x2="1130.8" y2="921.2" stroke="#4cbcc6"/><line x1="1159.1" y1="942.4" x2="1154.0" y2="931.2" stroke="#4cbcc6"/><line x1="1154.0" y1="931.2" x2="1148.8" y2="920.0" stroke="#eeee00"/><line x1="1180.6" y1="942.4" x2="1187.4" y2="931.8" stroke="#eeee00"/><line x1="1187.4" y1="931.8" x2="1194.2" y2="921.2" stroke="#4cbcc6"/><line x1="1222.4" y1="942.4" x2="1217.3" y2="931.2" stroke="#4cbcc6"/><line x1="1217.3" y1="931.2" x2="1212.2" y2="920.0" stroke="#eeee00"/><line x1="1243.9" y1="942.4" x2="1250.9" y2="931.8" stroke="#eeee00"/><line x1="1250.9" y1="931.8" x2="1258.0" y2="921.2" stroke="#4cbcc6"/><line x1="1286.5" y1="942.4" x2="1281.2" y2="931.2" stroke="#4cbcc6"/><line x1="1281.2" y1="931.2" x2="1276.0" y2="920.0" stroke="#eeee00"/><line x1="1308.0" y1="942.4" x2="1315.1" y2="931.8" stroke="#eeee00"/><line x1="1315.1" y1="931.8" x2="1322.2" y2="921.2" stroke="#4cbcc6"/><line x1="1350.8" y1="942.4" x2="1345.5" y2="931.2" stroke="#4cbcc6"/><line x1="1345.5" y1="931.2" x2="1340.2" y2="920.0" stroke="#eeee00"/><line x1="1372.3" y1="942.4" x2="1378.5" y2="931.8" stroke="#eeee00"/><line x1="1378.5" y1="931.8" x2="1384.7" y2="921.2" stroke="#4cbcc6"/><line x1="1411.6" y1="942.4" x2="1407.1" y2="931.2" stroke="#0a5ae6"/><line x1="1407.1" y1="931.2" x2="1402.7" y2="920.0" stroke="#eeee00"/><line x1="1433.1" y1="942.4" x2="1440.5" y2="931.8" stroke="#eeee00"/><line x1="1440.5" y1="931.8" x2="1447.9" y2="921.2" stroke="#0a5ae6"/><line x1="1477.3" y1="942.4" x2="1471.6" y2="931.2" stroke="#0a5ae6"/><line x1="1471.6" y1="931.2" x2="1465.9" y2="920.0" stroke="#eeee00"/><line x1="1498.8" y1="942.4" x2="1506.4" y2="931.8" stroke="#eeee00"/><line x1="1506.4" y1="931.8" x2="1514.1" y2="921.2" stroke="#0a5ae6"/><line x1="1543.9" y1="942.4" x2="1538.0" y2="931.2" stroke="#0a5ae6"/><line x1="1538.0" y1="931.2" x2="1532.1" y2="920.0" stroke="#eeee00"/><line x1="918.9" y1="942.4" x2="924.6" y2="955.3" stroke="#eeee00"/><line x1="924.6" y1="955.3" x2="930.3" y2="968.2" stroke="#0a5ae6"/><line x1="963.2" y1="942.4" x2="957.5" y2="955.3" stroke="#0a5ae6"/><line x1="957.5" y1="955.3" x2="951.8" y2="968.2" stroke="#eeee00"/><line x1="984.7" y1="942.4" x2="990.4" y2="955.3" stroke="#eeee00"/><line x1="990.4" y1="955.3" x2="996.1" y2="968.2" stroke="#0a5ae6"/><line x1="1029.0" y1="942.4" x2="1023.3" y2="955.3" stroke="#0a5ae6"/><line x1="1023.3" y1="955.3" x2="1017.6" y2="968.2" stroke="#eeee00"/><line x1="1050.5" y1="942.4" x2="1056.4" y2="955.3" stroke="#eeee00"/><line x1="1056.4" y1="955.3" x2="1062.3" y2="968.2" stroke="#0a5ae6"/><line x1="1095.6" y1="942.4" x2="1089.7" y2="955.3" stroke="#4cbcc6"/><line x1="1089.7" y1="955.3" x2="1083.8" y2="968.2" stroke="#eeee00"/><line x1="1117.1" y1="942.4" x2="1122.2" y2="955.3" stroke="#eeee00"/><line x1="1122.2" y1="955.3" x2="1127.3" y2="968.2" stroke="#4cbcc6"/><line x1="1159.1" y1="942.4" x2="1154.0" y2="955.3" stroke="#4cbcc6"/><line x1="1154.0" y1="955.3" x2="1148.8" y2="968.2" stroke="#eeee00"/><line x1="1180.6" y1="942.4" x2="1185.7" y2="955.3" stroke="#eeee00"/><line x1="1185.7" y1="955.3" x2="1190.8" y2="968.2" stroke="#4cbcc6"/><line x1="1222.4" y1="942.4" x2="1217.3" y2="955.3" stroke="#4cbcc6"/><line x1="1217.3" y1="955.3" x2="1212.2" y2="968.2" stroke="#eeee00"/><line x1="1243.9" y1="942.4" x2="1249.2" y2="955.3" stroke="#eeee00"/><line x1="1249.2" y1="955.3" x2="1254.5" y2="968.2" stroke="#4cbcc6"/><line x1="1286.5" y1="942.4" x2="1281.2" y2="955.3" stroke="#4cbcc6"/><line x1="1281.2" y1="955.3" x2="1276.0" y2="968.2" stroke="#eeee00"/><line x1="1308.0" y1="942.4" x2="1313.3" y2="955.3" stroke="#eeee00"/><line x1="1313.3" y1="955.3" x2="1318.7" y2="968.2" stroke="#4cbcc6"/><line x1="1350.8" y1="942.4" x2="1345.5" y2="955.3" stroke="#4cbcc6"/><line x1="1345.5" y1="955.3" x2="1340.2" y2="968.2" stroke="#eeee00"/><line x1="1372.3" y1="942.4" x2="1376.8" y2="955.3" stroke="#eeee00"/><line x1="1376.8" y1="955.3" x2="1381.2" y2="968.2" stroke="#4cbcc6"/><line x1="1411.6" y1="942.4" x2="1407.1" y2="955.3" stroke="#0a5ae6"/><line x1="1407.1" y1="955.3" x2="1402.7" y2="968.2" stroke="#eeee00"/><line x1="1433.1" y1="942.4" x2="1438.8" y2="955.3" stroke="#eeee00"/><line x1="1438.8" y1="955.3" x2="1444.4" y2="968.2" stroke="#0a5ae6"/><line x1="1477.3" y1="942.4" x2="1471.6" y2="955.3" stroke="#0a5ae6"/><line x1="1471.6" y1="955.3" x2="1465.9" y2="968.2" stroke="#eeee00"/><line x1="1498.8" y1="942.4" x2="1504.7" y2="955.3" stroke="#eeee00"/><line x1="1504.7" y1="955.3" x2="1510.6" y2="968.2" stroke="#0a5ae6"/><line x1="1543.9" y1="942.4" x2="1538.0" y2="955.3" stroke="#0a5ae6"/><line x1="1538.0" y1="955.3" x2="1532.1" y2="968.2" stroke="#eeee00"/><line x1="930.3" y1="968.2" x2="941.1" y2="968.2" stroke="#0a5ae6"/><line x1="941.1" y1="968.2" x2="951.8" y2="968.2" stroke="#eeee00"/><line x1="996.1" y1="968.2" x2="1006.9" y2="968.2" stroke="#0a5ae6"/><line x1="1006.9" y1="968.2" x2="1017.6" y2="968.2" stroke="#eeee00"/><line x1="1062.3" y1="968.2" x2="1073.0" y2="968.2" stroke="#0a5ae6"/><line x1="1073.0" y1="968.2" x2="1083.8" y2="968.2" stroke="#eeee00"/><line x1="1127.3" y1="968.2" x2="1138.1" y2="968.2" stroke="#4cbcc6"/><line x1="1138.1" y1="968.2" x2="1148.8" y2="968.2" stroke="#eeee00"/><line x1="1190.8" y1="968.2" x2="1201.5" y2="968.2" stroke="#4cbcc6"/><line x1="1201.5" y1="968.2" x2="1212.2" y2="968.2" stroke="#eeee00"/><line x1="1254.5" y1="968.2" x2="1265.2" y2="968.2" stroke="#4cbcc6"/><line x1="1265.2" y1="968.2" x2="1276.0" y2="968.2" stroke="#eeee00"/><line x1="1318.7" y1="968.2" x2="1329.4" y2="968.2" stroke="#4cbcc6"/><line x1="1329.4" y1="968.2" x2="1340.2" y2="968.2" stroke="#eeee00"/><line x1="1381.2" y1="968.2" x2="1391.9" y2="968.2" stroke="#4cbcc6"/><line x1="1391.9" y1="968.2" x2="1402.7" y2="968.2" stroke="#eeee00"/><line x1="1444.4" y1="968.2" x2="1455.2" y2="968.2" stroke="#0a5ae6"/><line x1="1455.2" y1="968.2" x2="1465.9" y2="968.2" stroke="#eeee00"/><line x1="1510.6" y1="968.2" x2="1521.3" y2="968.2" stroke="#0a5ae6"/><line x1="1521.3" y1="968.2" x2="1532.1" y2="968.2" stroke="#eeee00"/><line x1="908.2" y1="992.4" x2="918.9" y2="992.4" stroke="#eeee00"/><line x1="963.2" y1="992.4" x2="974.0" y2="992.4" stroke="#0a5ae6"/><line x1="974.0" y1="992.4" x2="984.7" y2="992.4" stroke="#eeee00"/><line x1="1029.0" y1="992.4" x2="1039.8" y2="992.4" stroke="#0a5ae6"/><line x1="1039.8" y1="992.4" x2="1050.5" y2="992.4" stroke="#eeee00"/><line x1="1095.6" y1="992.4" x2="1106.3" y2="992.4" stroke="#4cbcc6"/><line x1="1106.3" y1="992.4" x2="1117.1" y2="992.4" stroke="#eeee00"/><line x1="1159.1" y1="992.4" x2="1169.8" y2="992.4" stroke="#4cbcc6"/><line x1="1169.8" y1="992.4" x2="1180.6" y2="992.4" stroke="#eeee00"/><line x1="1222.4" y1="992.4" x2="1233.2" y2="992.4" stroke="#4cbcc6"/><line x1="1233.2" y1="992.4" x2="1243.9" y2="992.4" stroke="#eeee00"/><line x1="1286.5" y1="992.4" x2="1297.2" y2="992.4" stroke="#4cbcc6"/><line x1="1297.2" y1="992.4" x2="1308.0" y2="992.4" stroke="#eeee00"/><line x1="1350.8" y1="992.4" x2="1361.5" y2="992.4" stroke="#4cbcc6"/><line x1="1361.5" y1="992.4" x2="1372.3" y2="992.4" stroke="#eeee00"/><line x1="1411.6" y1="992.4" x2="1422.3" y2="992.4" stroke="#0a5ae6"/><line x1="1422.3" y1="992.4" x2="1433.1" y2="992.4" stroke="#eeee00"/><line x1="1477.3" y1="992.4" x2="1488.0" y2="992.4" stroke="#0a5ae6"/><line x1="1488.0" y1="992.4" x2="1498.8" y2="992.4" stroke="#eeee00"/><line x1="1543.9" y1="992.4" x2="1554.7" y2="992.4" stroke="#0a5ae6"/><line x1="918.9" y1="992.4" x2="924.6" y2="980.3" stroke="#eeee00"/><line x1="924.6" y1="980.3" x2="930.3" y2="968.2" stroke="#0a5ae6"/><line x1="963.2" y1="992.4" x2="957.5" y2="980.3" stroke="#0a5ae6"/><line x1="957.5" y1="980.3" x2="951.8" y2="968.2" stroke="#eeee00"/><line x1="984.7" y1="992.4" x2="990.4" y2="980.3" stroke="#eeee00"/><line x1="990.4" y1="980.3" x2="996.1" y2="968.2" stroke="#0a5ae6"/><line x1="1029.0" y1="992.4" x2="1023.3" y2="980.3" stroke="#0a5ae6"/><line x1="1023.3" y1="980.3" x2="1017.6" y2="968.2" stroke="#eeee00"/><line x1="1050.5" y1="992.4" x2="1056.4" y2="980.3" stroke="#eeee00"/><line x1="1056.4" y1="980.3" x2="1062.3" y2="968.2" stroke="#0a5ae6"/><line x1="1095.6" y1="992.4" x2="1089.7" y2="980.3" stroke="#4cbcc6"/><line x1="1089.7" y1="980.3" x2="1083.8" y2="968.2" stroke="#eeee00"/><line x1="1117.1" y1="992.4" x2="1122.2" y2="980.3" stroke="#eeee00"/><line x1="1122.2" y1="980.3" x2="1127.3" y2="968.2" stroke="#4cbcc6"/><line x1="1159.1" y1="992.4" x2="1154.0" y2="980.3" stroke="#4cbcc6"/><line x1="1154.0" y1="980.3" x2="1148.8" y2="968.2" stroke="#eeee00"/><line x1="1180.6" y1="992.4" x2="1185.7" y2="980.3" stroke="#eeee00"/><line x1="1185.7" y1="980.3" x2="1190.8" y2="968.2" stroke="#4cbcc6"/><line x1="1222.4" y1="992.4" x2="1217.3" y2="980.3" stroke="#4cbcc6"/><line x1="1217.3" y1="980.3" x2="1212.2" y2="968.2" stroke="#eeee00"/><line x1="1243.9" y1="992.4" x2="1249.2" y2="980.3" stroke="#eeee00"/><line x1="1249.2" y1="980.3" x2="1254.5" y2="968.2" stroke="#4cbcc6"/><line x1="1286.5" y1="992.4" x2="1281.2" y2="980.3" stroke="#4cbcc6"/><line x1="1281.2" y1="980.3" x2="1276.0" y2="968.2" stroke="#eeee00"/><line x1="1308.0" y1="992.4" x2="1313.3" y2="980.3" stroke="#eeee00"/><line x1="1313.3" y1="980.3" x2="1318.7" y2="968.2" stroke="#4cbcc6"/><line x1="1350.8" y1="992.4" x2="1345.5" y2="980.3" stroke="#4cbcc6"/><line x1="1345.5" y1="980.3" x2="1340.2" y2="968.2" stroke="#eeee00"/><line x1="1372.3" y1="992.4" x2="1376.8" y2="980.3" stroke="#eeee00"/><line x1="1376.8" y1="980.3" x2="1381.2" y2="968.2" stroke="#4cbcc6"/><line x1="1411.6" y1="992.4" x2="1407.1" y2="980.3" stroke="#0a5ae6"/><line x1="1407.1" y1="980.3" x2="1402.7" y2="968.2" stroke="#eeee00"/><line x1="1433.1" y1="992.4" x2="1438.8" y2="980.3" stroke="#eeee00"/><line x1="1438.8" y1="980.3" x2="1444.4" y2="968.2" stroke="#0a5ae6"/><line x1="1477.3" y1="992.4" x2="1471.6" y2="980.3" stroke="#0a5ae6"/><line x1="1471.6" y1="980.3" x2="1465.9" y2="968.2" stroke="#eeee00"/><line x1="1498.8" y1="992.4" x2="1504.7" y2="980.3" stroke="#eeee00"/><line x1="1504.7" y1="980.3" x2="1510.6" y2="968.2" stroke="#0a5ae6"/><line x1="1543.9" y1="992.4" x2="1538.0" y2="980.3" stroke="#0a5ae6"/><line x1="1538.0" y1="980.3" x2="1532.1" y2="968.2" stroke="#eeee00"/><line x1="918.9" y1="992.4" x2="924.6" y2="1005.3" stroke="#eeee00"/><line x1="924.6" y1="1005.3" x2="930.3" y2="1018.2" stroke="#0a5ae6"/><line x1="963.2" y1="992.4" x2="957.5" y2="1005.3" stroke="#0a5ae6"/><line x1="957.5" y1="1005.3" x2="951.8" y2="1018.2" stroke="#eeee00"/><line x1="984.7" y1="992.4" x2="990.4" y2="1005.3" stroke="#eeee00"/><line x1="990.4" y1="1005.3" x2="996.1" y2="1018.2" stroke="#0a5ae6"/><line x1="1029.0" y1="992.4" x2="1023.3" y2="1005.3" stroke="#0a5ae6"/><line x1="1023.3" y1="1005.3" x2="1017.6" y2="1018.2" stroke="#eeee00"/><line x1="1050.5" y1="992.4" x2="1056.4" y2="1005.3" stroke="#eeee00"/><line x1="1056.4" y1="1005.3" x2="1062.3" y2="1018.2" stroke="#0a5ae6"/><line x1="1095.6" y1="992.4" x2="1089.7" y2="1005.3" stroke="#4cbcc6"/><line x1="1089.7" y1="1005.3" x2="1083.8" y2="1018.2" stroke="#eeee00"/><line x1="1117.1" y1="992.4" x2="1122.2" y2="1005.3" stroke="#eeee00"/><line x1="1122.2" y1="1005.3" x2="1127.3" y2="1018.2" stroke="#4cbcc6"/><line x1="1159.1" y1="992.4" x2="1154.0" y2="1005.3" stroke="#4cbcc6"/><line x1="1154.0" y1="1005.3" x2="1148.8" y2="1018.2" stroke="#eeee00"/><line x1="1180.6" y1="992.4" x2="1185.7" y2="1005.3" stroke="#eeee00"/><line x1="1185.7" y1="1005.3" x2="1190.8" y2="1018.2" stroke="#4cbcc6"/><line x1="1222.4" y1="992.4" x2="1217.3" y2="1005.3" stroke="#4cbcc6"/><line x1="1217.3" y1="1005.3" x2="1212.2" y2="1018.2" stroke="#eeee00"/><line x1="1243.9" y1="992.4" x2="1249.2" y2="1005.3" stroke="#eeee00"/><line x1="1249.2" y1="1005.3" x2="1254.5" y2="1018.2" stroke="#4cbcc6"/><line x1="1286.5" y1="992.4" x2="1281.2" y2="1005.3" stroke="#4cbcc6"/><line x1="1281.2" y1="1005.3" x2="1276.0" y2="1018.2" stroke="#eeee00"/><line x1="1308.0" y1="992.4" x2="1313.3" y2="1005.3" stroke="#eeee00"/><line x1="1313.3" y1="1005.3" x2="1318.7" y2="1018.2" stroke="#4cbcc6"/><line x1="1350.8" y1="992.4" x2="1345.5" y2="1005.3" stroke="#4cbcc6"/><line x1="1345.5" y1="1005.3" x2="1340.2" y2="1018.2" stroke="#eeee00"/><line x1="1372.3" y1="992.4" x2="1376.8" y2="1005.3" stroke="#eeee00"/><line x1="1376.8" y1="1005.3" x2="1381.2" y2="1018.2" stroke="#4cbcc6"/><line x1="1411.6" y1="992.4" x2="1407.1" y2="1005.3" stroke="#0a5ae6"/><line x1="1407.1" y1="1005.3" x2="1402.7" y2="1018.2" stroke="#eeee00"/><line x1="1433.1" y1="992.4" x2="1438.8" y2="1005.3" stroke="#eeee00"/><line x1="1438.8" y1="1005.3" x2="1444.4" y2="1018.2" stroke="#0a5ae6"/><line x1="1477.3" y1="992.4" x2="1471.6" y2="1005.3" stroke="#0a5ae6"/><line x1="1471.6" y1="1005.3" x2="1465.9" y2="1018.2" stroke="#eeee00"/><line x1="1498.8" y1="992.4" x2="1504.7" y2="1005.3" stroke="#eeee00"/><line x1="1504.7" y1="1005.3" x2="1510.6" y2="1018.2" stroke="#0a5ae6"/><line x1="1543.9" y1="992.4" x2="1538.0" y2="1005.3" stroke="#0a5ae6"/><line x1="1538.0" y1="1005.3" x2="1532.1" y2="1018.2" stroke="#eeee00"/><line x1="930.3" y1="1018.2" x2="941.1" y2="1018.2" stroke="#0a5ae6"/><line x1="941.1" y1="1018.2" x2="951.8" y2="1018.2" stroke="#eeee00"/><line x1="996.1" y1="1018.2" x2="1006.9" y2="1018.2" stroke="#0a5ae6"/><line x1="1006.9" y1="1018.2" x2="1017.6" y2="1018.2" stroke="#eeee00"/><line x1="1062.3" y1="1018.2" x2="1073.0" y2="1018.2" stroke="#0a5ae6"/><line x1="1073.0" y1="1018.2" x2="1083.8" y2="1018.2" stroke="#eeee00"/><line x1="1127.3" y1="1018.2" x2="1138.1" y2="1018.2" stroke="#4cbcc6"/><line x1="1138.1" y1="1018.2" x2="1148.8" y2="1018.2" stroke="#eeee00"/><line x1="1190.8" y1="1018.2" x2="1201.5" y2="1018.2" stroke="#4cbcc6"/><line x1="1201.5" y1="1018.2" x2="1212.2" y2="1018.2" stroke="#eeee00"/><line x1="1254.5" y1="1018.2" x2="1265.2" y2="1018.2" stroke="#4cbcc6"/><line x1="1265.2" y1="1018.2" x2="1276.0" y2="1018.2" stroke="#eeee00"/><line x1="1318.7" y1="1018.2" x2="1329.4" y2="1018.2" stroke="#4cbcc6"/><line x1="1329.4" y1="1018.2" x2="1340.2" y2="1018.2" stroke="#eeee00"/><line x1="1381.2" y1="1018.2" x2="1391.9" y2="1018.2" stroke="#4cbcc6"/><line x1="1391.9" y1="1018.2" x2="1402.7" y2="1018.2" stroke="#eeee00"/><line x1="1444.4" y1="1018.2" x2="1455.2" y2="1018.2" stroke="#0a5ae6"/><line x1="1455.2" y1="1018.2" x2="1465.9" y2="1018.2" stroke="#eeee00"/><line x1="1510.6" y1="1018.2" x2="1521.3" y2="1018.2" stroke="#0a5ae6"/><line x1="1521.3" y1="1018.2" x2="1532.1" y2="1018.2" stroke="#eeee00"/><line x1="908.2" y1="1043.1" x2="918.9" y2="1043.1" stroke="#eeee00"/><line x1="963.2" y1="1043.1" x2="974.0" y2="1043.1" stroke="#0a5ae6"/><line x1="974.0" y1="1043.1" x2="984.7" y2="1043.1" stroke="#eeee00"/><line x1="1029.0" y1="1043.1" x2="1039.8" y2="1043.1" stroke="#0a5ae6"/><line x1="1039.8" y1="1043.1" x2="1050.5" y2="1043.1" stroke="#eeee00"/><line x1="1095.6" y1="1043.1" x2="1106.3" y2="1043.1" stroke="#4cbcc6"/><line x1="1106.3" y1="1043.1" x2="1117.1" y2="1043.1" stroke="#eeee00"/><line x1="1159.1" y1="1043.1" x2="1169.8" y2="1043.1" stroke="#4cbcc6"/><line x1="1169.8" y1="1043.1" x2="1180.6" y2="1043.1" stroke="#eeee00"/><line x1="1222.4" y1="1043.1" x2="1233.2" y2="1043.1" stroke="#4cbcc6"/><line x1="1233.2" y1="1043.1" x2="1243.9" y2="1043.1" stroke="#eeee00"/><line x1="1286.5" y1="1043.1" x2="1297.2" y2="1043.1" stroke="#4cbcc6"/><line x1="1297.2" y1="1043.1" x2="1308.0" y2="1043.1" stroke="#eeee00"/><line x1="1350.8" y1="1043.1" x2="1361.5" y2="1043.1" stroke="#4cbcc6"/><line x1="1361.5" y1="1043.1" x2="1372.3" y2="1043.1" stroke="#eeee00"/><line x1="1411.6" y1="1043.1" x2="1422.3" y2="1043.1" stroke="#0a5ae6"/><line x1="1422.3" y1="1043.1" x2="1433.1" y2="1043.1" stroke="#eeee00"/><line x1="1477.3" y1="1043.1" x2="1488.0" y2="1043.1" stroke="#0a5ae6"/><line x1="1488.0" y1="1043.1" x2="1498.8" y2="1043.1" stroke="#eeee00"/><line x1="1543.9" y1="1043.1" x2="1554.7" y2="1043.1" stroke="#0a5ae6"/><line x1="918.9" y1="1043.1" x2="924.6" y2="1030.7" stroke="#eeee00"/><line x1="924.6" y1="1030.7" x2="930.3" y2="1018.2" stroke="#0a5ae6"/><line x1="963.2" y1="1043.1" x2="957.5" y2="1030.7" stroke="#0a5ae6"/><line x1="957.5" y1="1030.7" x2="951.8" y2="1018.2" stroke="#eeee00"/><line x1="984.7" y1="1043.1" x2="990.4" y2="1030.7" stroke="#eeee00"/><line x1="990.4" y1="1030.7" x2="996.1" y2="1018.2" stroke="#0a5ae6"/><line x1="1029.0" y1="1043.1" x2="1023.3" y2="1030.7" stroke="#0a5ae6"/><line x1="1023.3" y1="1030.7" x2="1017.6" y2="1018.2" stroke="#eeee00"/><line x1="1050.5" y1="1043.1" x2="1056.4" y2="1030.7" stroke="#eeee00"/><line x1="1056.4" y1="1030.7" x2="1062.3" y2="1018.2" stroke="#0a5ae6"/><line x1="1095.6" y1="1043.1" x2="1089.7" y2="1030.7" stroke="#4cbcc6"/><line x1="1089.7" y1="1030.7" x2="1083.8" y2="1018.2" stroke="#eeee00"/><line x1="1117.1" y1="1043.1" x2="1122.2" y2="1030.7" stroke="#eeee00"/><line x1="1122.2" y1="1030.7" x2="1127.3" y2="1018.2" stroke="#4cbcc6"/><line x1="1159.1" y1="1043.1" x2="1154.0" y2="1030.7" stroke="#4cbcc6"/><line x1="1154.0" y1="1030.7" x2="1148.8" y2="1018.2" stroke="#eeee00"/><line x1="1180.6" y1="1043.1" x2="1185.7" y2="1030.7" stroke="#eeee00"/><line x1="1185.7" y1="1030.7" x2="1190.8" y2="1018.2" stroke="#4cbcc6"/><line x1="1222.4" y1="1043.1" x2="1217.3" y2="1030.7" stroke="#4cbcc6"/><line x1="1217.3" y1="1030.7" x2="1212.2" y2="1018.2" stroke="#eeee00"/><line x1="1243.9" y1="1043.1" x2="1249.2" y2="1030.7" stroke="#eeee00"/><line x1="1249.2" y1="1030.7" x2="1254.5" y2="1018.2" stroke="#4cbcc6"/><line x1="1286.5" y1="1043.1" x2="1281.2" y2="1030.7" stroke="#4cbcc6"/><line x1="1281.2" y1="1030.7" x2="1276.0" y2="1018.2" stroke="#eeee00"/><line x1="1308.0" y1="1043.1" x2="1313.3" y2="1030.7" stroke="#eeee00"/><line x1="1313.3" y1="1030.7" x2="1318.7" y2="1018.2" stroke="#4cbcc6"/><line x1="1350.8" y1="1043.1" x2="1345.5" y2="1030.7" stroke="#4cbcc6"/><line x1="1345.5" y1="1030.7" x2="1340.2" y2="1018.2" stroke="#eeee00"/><line x1="1372.3" y1="1043.1" x2="1376.8" y2="1030.7" stroke="#eeee00"/><line x1="1376.8" y1="1030.7" x2="1381.2" y2="1018.2" stroke="#4cbcc6"/><line x1="1411.6" y1="1043.1" x2="1407.1" y2="1030.7" stroke="#0a5ae6"/><line x1="1407.1" y1="1030.7" x2="1402.7" y2="1018.2" stroke="#eeee00"/><line x1="1433.1" y1="1043.1" x2="1438.8" y2="1030.7" stroke="#eeee00"/><line x1="1438.8" y1="1030.7" x2="1444.4" y2="1018.2" stroke="#0a5ae6"/><line x1="1477.3" y1="1043.1" x2="1471.6" y2="1030.7" stroke="#0a5ae6"/><line x1="1471.6" y1="1030.7" x2="1465.9" y2="1018.2" stroke="#eeee00"/><line x1="1498.8" y1="1043.1" x2="1504.7" y2="1030.7" stroke="#eeee00"/><line x1="1504.7" y1="1030.7" x2="1510.6" y2="1018.2" stroke="#0a5ae6"/><line x1="1543.9" y1="1043.1" x2="1538.0" y2="1030.7" stroke="#0a5ae6"/><line x1="1538.0" y1="1030.7" x2="1532.1" y2="1018.2" stroke="#eeee00"/><line x1="918.9" y1="1043.1" x2="924.6" y2="1055.6" stroke="#eeee00"/><line x1="924.6" y1="1055.6" x2="930.3" y2="1068.1" stroke="#0a5ae6"/><line x1="963.2" y1="1043.1" x2="957.5" y2="1055.6" stroke="#0a5ae6"/><line x1="957.5" y1="1055.6" x2="951.8" y2="1068.1" stroke="#eeee00"/><line x1="984.7" y1="1043.1" x2="990.4" y2="1055.6" stroke="#eeee00"/><line x1="990.4" y1="1055.6" x2="996.1" y2="1068.1" stroke="#0a5ae6"/><line x1="1029.0" y1="1043.1" x2="1023.3" y2="1055.6" stroke="#0a5ae6"/><line x1="1023.3" y1="1055.6" x2="1017.6" y2="1068.1" stroke="#eeee00"/><line x1="1050.5" y1="1043.1" x2="1056.4" y2="1055.6" stroke="#eeee00"/><line x1="1056.4" y1="1055.6" x2="1062.3" y2="1068.1" stroke="#0a5ae6"/><line x1="1095.6" y1="1043.1" x2="1089.7" y2="1055.6" stroke="#4cbcc6"/><line x1="1089.7" y1="1055.6" x2="1083.8" y2="1068.1" stroke="#eeee00"/><line x1="1117.1" y1="1043.1" x2="1122.2" y2="1055.6" stroke="#eeee00"/><line x1="1122.2" y1="1055.6" x2="1127.3" y2="1068.1" stroke="#4cbcc6"/><line x1="1159.1" y1="1043.1" x2="1154.0" y2="1055.6" stroke="#4cbcc6"/><line x1="1154.0" y1="1055.6" x2="1148.8" y2="1068.1" stroke="#eeee00"/><line x1="1180.6" y1="1043.1" x2="1185.7" y2="1055.6" stroke="#eeee00"/><line x1="1185.7" y1="1055.6" x2="1190.8" y2="1068.1" stroke="#4cbcc6"/><line x1="1222.4" y1="1043.1" x2="1217.3" y2="1055.6" stroke="#4cbcc6"/><line x1="1217.3" y1="1055.6" x2="1212.2" y2="1068.1" stroke="#eeee00"/><line x1="1243.9" y1="1043.1" x2="1249.2" y2="1055.6" stroke="#eeee00"/><line x1="1249.2" y1="1055.6" x2="1254.5" y2="1068.1" stroke="#4cbcc6"/><line x1="1286.5" y1="1043.1" x2="1281.2" y2="1055.6" stroke="#4cbcc6"/><line x1="1281.2" y1="1055.6" x2="1276.0" y2="1068.1" stroke="#eeee00"/><line x1="1308.0" y1="1043.1" x2="1313.3" y2="1055.6" stroke="#eeee00"/><line x1="1313.3" y1="1055.6" x2="1318.7" y2="1068.1" stroke="#4cbcc6"/><line x1="1350.8" y1="1043.1" x2="1345.5" y2="1055.6" stroke="#4cbcc6"/><line x1="1345.5" y1="1055.6" x2="1340.2" y2="1068.1" stroke="#eeee00"/><line x1="1372.3" y1="1043.1" x2="1376.8" y2="1055.6" stroke="#eeee00"/><line x1="1376.8" y1="1055.6" x2="1381.2" y2="1068.1" stroke="#4cbcc6"/><line x1="1411.6" y1="1043.1" x2="1407.1" y2="1055.6" stroke="#0a5ae6"/><line x1="1407.1" y1="1055.6" x2="1402.7" y2="1068.1" stroke="#eeee00"/><line x1="1433.1" y1="1043.1" x2="1438.8" y2="1055.6" stroke="#eeee00"/><line x1="1438.8" y1="1055.6" x2="1444.4" y2="1068.1" stroke="#0a5ae6"/><line x1="1477.3" y1="1043.1" x2="1471.6" y2="1055.6" stroke="#0a5ae6"/><line x1="1471.6" y1="1055.6" x2="1465.9" y2="1068.1" stroke="#eeee00"/><line x1="1498.8" y1="1043.1" x2="1504.7" y2="1055.6" stroke="#eeee00"/><line x1="1504.7" y1="1055.6" x2="1510.6" y2="1068.1" stroke="#0a5ae6"/><line x1="1543.9" y1="1043.1" x2="1538.0" y2="1055.6" stroke="#0a5ae6"/><line x1="1538.0" y1="1055.6" x2="1532.1" y2="1068.1" stroke="#eeee00"/><line x1="930.3" y1="1068.1" x2="941.1" y2="1068.1" stroke="#0a5ae6"/><line x1="941.1" y1="1068.1" x2="951.8" y2="1068.1" stroke="#eeee00"/><line x1="996.1" y1="1068.1" x2="1006.9" y2="1068.1" stroke="#0a5ae6"/><line x1="1006.9" y1="1068.1" x2="1017.6" y2="1068.1" stroke="#eeee00"/><line x1="1062.3" y1="1068.1" x2="1073.0" y2="1068.1" stroke="#0a5ae6"/><line x1="1073.0" y1="1068.1" x2="1083.8" y2="1068.1" stroke="#eeee00"/><line x1="1127.3" y1="1068.1" x2="1138.1" y2="1068.1" stroke="#4cbcc6"/><line x1="1138.1" y1="1068.1" x2="1148.8" y2="1068.1" stroke="#eeee00"/><line x1="1190.8" y1="1068.1" x2="1201.5" y2="1068.1" stroke="#4cbcc6"/><line x1="1201.5" y1="1068.1" x2="1212.2" y2="1068.1" stroke="#eeee00"/><line x1="1254.5" y1="1068.1" x2="1265.2" y2="1068.1" stroke="#4cbcc6"/><line x1="1265.2" y1="1068.1" x2="1276.0" y2="1068.1" stroke="#eeee00"/><line x1="1318.7" y1="1068.1" x2="1329.4" y2="1068.1" stroke="#4cbcc6"/><line x1="1329.4" y1="1068.1" x2="1340.2" y2="1068.1" stroke="#eeee00"/><line x1="1381.2" y1="1068.1" x2="1391.9" y2="1068.1" stroke="#4cbcc6"/><line x1="1391.9" y1="1068.1" x2="1402.7" y2="1068.1" stroke="#eeee00"/><line x1="1444.4" y1="1068.1" x2="1455.2" y2="1068.1" stroke="#0a5ae6"/><line x1="1455.2" y1="1068.1" x2="1465.9" y2="1068.1" stroke="#eeee00"/><line x1="1510.6" y1="1068.1" x2="1521.3" y2="1068.1" stroke="#0a5ae6"/><line x1="1521.3" y1="1068.1" x2="1532.1" y2="1068.1" stroke="#eeee00"/><line x1="910.4" y1="1091.4" x2="918.9" y2="1091.4" stroke="#eeee00"/><line x1="967.7" y1="1091.4" x2="976.2" y2="1091.4" stroke="#0a5ae6"/><line x1="976.2" y1="1091.4" x2="984.7" y2="1091.4" stroke="#eeee00"/><line x1="1033.5" y1="1091.4" x2="1042.0" y2="1091.4" stroke="#0a5ae6"/><line x1="1042.0" y1="1091.4" x2="1050.5" y2="1091.4" stroke="#eeee00"/><line x1="1098.1" y1="1091.4" x2="1107.6" y2="1091.4" stroke="#4cbcc6"/><line x1="1107.6" y1="1091.4" x2="1117.1" y2="1091.4" stroke="#eeee00"/><line x1="1161.6" y1="1091.4" x2="1171.1" y2="1091.4" stroke="#4cbcc6"/><line x1="1171.1" y1="1091.4" x2="1180.6" y2="1091.4" stroke="#eeee00"/><line x1="1224.9" y1="1091.4" x2="1234.4" y2="1091.4" stroke="#4cbcc6"/><line x1="1234.4" y1="1091.4" x2="1243.9" y2="1091.4" stroke="#eeee00"/><line x1="1289.0" y1="1091.4" x2="1298.5" y2="1091.4" stroke="#4cbcc6"/><line x1="1298.5" y1="1091.4" x2="1308.0" y2="1091.4" stroke="#eeee00"/><line x1="1353.3" y1="1091.4" x2="1362.8" y2="1091.4" stroke="#4cbcc6"/><line x1="1362.8" y1="1091.4" x2="1372.3" y2="1091.4" stroke="#eeee00"/><line x1="1416.1" y1="1091.4" x2="1424.6" y2="1091.4" stroke="#0a5ae6"/><line x1="1424.6" y1="1091.4" x2="1433.1" y2="1091.4" stroke="#eeee00"/><line x1="1481.8" y1="1091.4" x2="1490.3" y2="1091.4" stroke="#0a5ae6"/><line x1="1490.3" y1="1091.4" x2="1498.8" y2="1091.4" stroke="#eeee00"/><line x1="1548.4" y1="1091.4" x2="1556.9" y2="1091.4" stroke="#0a5ae6"/><line x1="918.9" y1="1091.4" x2="924.6" y2="1079.8" stroke="#eeee00"/><line x1="924.6" y1="1079.8" x2="930.3" y2="1068.1" stroke="#0a5ae6"/><line x1="967.7" y1="1091.4" x2="959.8" y2="1079.8" stroke="#0a5ae6"/><line x1="959.8" y1="1079.8" x2="951.8" y2="1068.1" stroke="#eeee00"/><line x1="984.7" y1="1091.4" x2="990.4" y2="1079.8" stroke="#eeee00"/><line x1="990.4" y1="1079.8" x2="996.1" y2="1068.1" stroke="#0a5ae6"/><line x1="1033.5" y1="1091.4" x2="1025.5" y2="1079.8" stroke="#0a5ae6"/><line x1="1025.5" y1="1079.8" x2="1017.6" y2="1068.1" stroke="#eeee00"/><line x1="1050.5" y1="1091.4" x2="1056.4" y2="1079.8" stroke="#eeee00"/><line x1="1056.4" y1="1079.8" x2="1062.3" y2="1068.1" stroke="#0a5ae6"/><line x1="1098.1" y1="1091.4" x2="1090.9" y2="1079.8" stroke="#4cbcc6"/><line x1="1090.9" y1="1079.8" x2="1083.8" y2="1068.1" stroke="#eeee00"/><line x1="1117.1" y1="1091.4" x2="1122.2" y2="1079.8" stroke="#eeee00"/><line x1="1122.2" y1="1079.8" x2="1127.3" y2="1068.1" stroke="#4cbcc6"/><line x1="1161.6" y1="1091.4" x2="1155.2" y2="1079.8" stroke="#4cbcc6"/><line x1="1155.2" y1="1079.8" x2="1148.8" y2="1068.1" stroke="#eeee00"/><line x1="1180.6" y1="1091.4" x2="1185.7" y2="1079.8" stroke="#eeee00"/><line x1="1185.7" y1="1079.8" x2="1190.8" y2="1068.1" stroke="#4cbcc6"/><line x1="1224.9" y1="1091.4" x2="1218.6" y2="1079.8" stroke="#4cbcc6"/><line x1="1218.6" y1="1079.8" x2="1212.2" y2="1068.1" stroke="#eeee00"/><line x1="1243.9" y1="1091.4" x2="1249.2" y2="1079.8" stroke="#eeee00"/><line x1="1249.2" y1="1079.8" x2="1254.5" y2="1068.1" stroke="#4cbcc6"/><line x1="1289.0" y1="1091.4" x2="1282.5" y2="1079.8" stroke="#4cbcc6"/><line x1="1282.5" y1="1079.8" x2="1276.0" y2="1068.1" stroke="#eeee00"/><line x1="1308.0" y1="1091.4" x2="1313.3" y2="1079.8" stroke="#eeee00"/><line x1="1313.3" y1="1079.8" x2="1318.7" y2="1068.1" stroke="#4cbcc6"/><line x1="1353.3" y1="1091.4" x2="1346.7" y2="1079.8" stroke="#4cbcc6"/><line x1="1346.7" y1="1079.8" x2="1340.2" y2="1068.1" stroke="#eeee00"/><line x1="1372.3" y1="1091.4" x2="1376.8" y2="1079.8" stroke="#eeee00"/><line x1="1376.8" y1="1079.8" x2="1381.2" y2="1068.1" stroke="#4cbcc6"/><line x1="1416.1" y1="1091.4" x2="1409.4" y2="1079.8" stroke="#0a5ae6"/><line x1="1409.4" y1="1079.8" x2="1402.7" y2="1068.1" stroke="#eeee00"/><line x1="1433.1" y1="1091.4" x2="1438.8" y2="1079.8" stroke="#eeee00"/><line x1="1438.8" y1="1079.8" x2="1444.4" y2="1068.1" stroke="#0a5ae6"/><line x1="1481.8" y1="1091.4" x2="1473.9" y2="1079.8" stroke="#0a5ae6"/><line x1="1473.9" y1="1079.8" x2="1465.9" y2="1068.1" stroke="#eeee00"/><line x1="1498.8" y1="1091.4" x2="1504.7" y2="1079.8" stroke="#eeee00"/><line x1="1504.7" y1="1079.8" x2="1510.6" y2="1068.1" stroke="#0a5ae6"/><line x1="1548.4" y1="1091.4" x2="1540.2" y2="1079.8" stroke="#0a5ae6"/><line x1="1540.2" y1="1079.8" x2="1532.1" y2="1068.1" stroke="#eeee00"/><line x1="933.8" y1="921.2" x2="948.5" y2="931.8" stroke="#0a5ae6"/><line x1="948.5" y1="931.8" x2="963.2" y2="942.4" stroke="#0a5ae6"/><line x1="999.6" y1="921.2" x2="1014.3" y2="931.8" stroke="#0a5ae6"/><line x1="1014.3" y1="931.8" x2="1029.0" y2="942.4" stroke="#0a5ae6"/><line x1="1384.7" y1="921.2" x2="1398.1" y2="931.8" stroke="#4cbcc6"/><line x1="1398.1" y1="931.8" x2="1411.6" y2="942.4" stroke="#0a5ae6"/><line x1="1447.9" y1="921.2" x2="1462.6" y2="931.8" stroke="#0a5ae6"/><line x1="1462.6" y1="931.8" x2="1477.3" y2="942.4" stroke="#0a5ae6"/><line x1="1514.1" y1="921.2" x2="1529.0" y2="931.8" stroke="#0a5ae6"/><line x1="1529.0" y1="931.8" x2="1543.9" y2="942.4" stroke="#0a5ae6"/><line x1="916.1" y1="1079.8" x2="930.3" y2="1068.1" stroke="#0a5ae6"/><line x1="967.7" y1="1091.4" x2="981.9" y2="1079.8" stroke="#0a5ae6"/><line x1="981.9" y1="1079.8" x2="996.1" y2="1068.1" stroke="#0a5ae6"/><line x1="1033.5" y1="1091.4" x2="1047.9" y2="1079.8" stroke="#0a5ae6"/><line x1="1047.9" y1="1079.8" x2="1062.3" y2="1068.1" stroke="#0a5ae6"/><line x1="1416.1" y1="1091.4" x2="1430.3" y2="1079.8" stroke="#0a5ae6"/><line x1="1430.3" y1="1079.8" x2="1444.4" y2="1068.1" stroke="#0a5ae6"/><line x1="1481.8" y1="1091.4" x2="1496.2" y2="1079.8" stroke="#0a5ae6"/><line x1="1496.2" y1="1079.8" x2="1510.6" y2="1068.1" stroke="#0a5ae6"/><line x1="1548.4" y1="1091.4" x2="1562.8" y2="1079.8" stroke="#0a5ae6"/></g><ellipse cx="933.8" cy="921.2" rx="5.5" ry="6.8" fill="url(#gMb)"/><ellipse cx="951.8" cy="920.0" rx="5.7" ry="7.0" fill="url(#gS)"/><ellipse cx="999.6" cy="921.2" rx="5.5" ry="6.8" fill="url(#gMb)"/><ellipse cx="1017.6" cy="920.0" rx="5.7" ry="7.0" fill="url(#gS)"/><ellipse cx="1065.8" cy="921.2" rx="5.5" ry="6.8" fill="url(#gMb)"/><ellipse cx="1083.8" cy="920.0" rx="5.7" ry="7.0" fill="url(#gS)"/><ellipse cx="1130.8" cy="921.2" rx="5.5" ry="6.6" fill="url(#gMc)"/><ellipse cx="1148.8" cy="920.0" rx="5.7" ry="7.0" fill="url(#gS)"/><ellipse cx="1194.2" cy="921.2" rx="5.5" ry="6.6" fill="url(#gMc)"/><ellipse cx="1212.2" cy="920.0" rx="5.7" ry="7.0" fill="url(#gS)"/><ellipse cx="1258.0" cy="921.2" rx="5.5" ry="6.6" fill="url(#gMc)"/><ellipse cx="1276.0" cy="920.0" rx="5.7" ry="7.0" fill="url(#gS)"/><ellipse cx="1322.2" cy="921.2" rx="5.5" ry="6.6" fill="url(#gMc)"/><ellipse cx="1340.2" cy="920.0" rx="5.7" ry="7.0" fill="url(#gS)"/><ellipse cx="1384.7" cy="921.2" rx="5.5" ry="6.6" fill="url(#gMc)"/><ellipse cx="1402.7" cy="920.0" rx="5.7" ry="7.0" fill="url(#gS)"/><ellipse cx="1447.9" cy="921.2" rx="5.5" ry="6.8" fill="url(#gMb)"/><ellipse cx="1465.9" cy="920.0" rx="5.7" ry="7.0" fill="url(#gS)"/><ellipse cx="1514.1" cy="921.2" rx="5.5" ry="6.8" fill="url(#gMb)"/><ellipse cx="1532.1" cy="920.0" rx="5.7" ry="7.0" fill="url(#gS)"/><ellipse cx="918.9" cy="942.4" rx="5.7" ry="7.0" fill="url(#gS)"/><ellipse cx="963.2" cy="942.4" rx="5.5" ry="6.8" fill="url(#gMb)"/><ellipse cx="984.7" cy="942.4" rx="5.7" ry="7.0" fill="url(#gS)"/><ellipse cx="1029.0" cy="942.4" rx="5.5" ry="6.8" fill="url(#gMb)"/><ellipse cx="1050.5" cy="942.4" rx="5.7" ry="7.0" fill="url(#gS)"/><ellipse cx="1095.6" cy="942.4" rx="5.5" ry="6.6" fill="url(#gMc)"/><ellipse cx="1117.1" cy="942.4" rx="5.7" ry="7.0" fill="url(#gS)"/><ellipse cx="1159.1" cy="942.4" rx="5.5" ry="6.6" fill="url(#gMc)"/><ellipse cx="1180.6" cy="942.4" rx="5.7" ry="7.0" fill="url(#gS)"/><ellipse cx="1222.4" cy="942.4" rx="5.5" ry="6.6" fill="url(#gMc)"/><ellipse cx="1243.9" cy="942.4" rx="5.7" ry="7.0" fill="url(#gS)"/><ellipse cx="1286.5" cy="942.4" rx="5.5" ry="6.6" fill="url(#gMc)"/><ellipse cx="1308.0" cy="942.4" rx="5.7" ry="7.0" fill="url(#gS)"/><ellipse cx="1350.8" cy="942.4" rx="5.5" ry="6.6" fill="url(#gMc)"/><ellipse cx="1372.3" cy="942.4" rx="5.7" ry="7.0" fill="url(#gS)"/><ellipse cx="1411.6" cy="942.4" rx="5.5" ry="6.8" fill="url(#gMb)"/><ellipse cx="1433.1" cy="942.4" rx="5.7" ry="7.0" fill="url(#gS)"/><ellipse cx="1477.3" cy="942.4" rx="5.5" ry="6.8" fill="url(#gMb)"/><ellipse cx="1498.8" cy="942.4" rx="5.7" ry="7.0" fill="url(#gS)"/><ellipse cx="1543.9" cy="942.4" rx="5.5" ry="6.8" fill="url(#gMb)"/><ellipse cx="930.3" cy="968.2" rx="5.5" ry="6.8" fill="url(#gMb)"/><ellipse cx="951.8" cy="968.2" rx="5.7" ry="7.0" fill="url(#gS)"/><ellipse cx="996.1" cy="968.2" rx="5.5" ry="6.8" fill="url(#gMb)"/><ellipse cx="1017.6" cy="968.2" rx="5.7" ry="7.0" fill="url(#gS)"/><ellipse cx="1062.3" cy="968.2" rx="5.5" ry="6.8" fill="url(#gMb)"/><ellipse cx="1083.8" cy="968.2" rx="5.7" ry="7.0" fill="url(#gS)"/><ellipse cx="1127.3" cy="968.2" rx="5.5" ry="6.6" fill="url(#gMc)"/><ellipse cx="1148.8" cy="968.2" rx="5.7" ry="7.0" fill="url(#gS)"/><ellipse cx="1190.8" cy="968.2" rx="5.5" ry="6.6" fill="url(#gMc)"/><ellipse cx="1212.2" cy="968.2" rx="5.7" ry="7.0" fill="url(#gS)"/><ellipse cx="1254.5" cy="968.2" rx="5.5" ry="6.6" fill="url(#gMc)"/><ellipse cx="1276.0" cy="968.2" rx="5.7" ry="7.0" fill="url(#gS)"/><ellipse cx="1318.7" cy="968.2" rx="5.5" ry="6.6" fill="url(#gMc)"/><ellipse cx="1340.2" cy="968.2" rx="5.7" ry="7.0" fill="url(#gS)"/><ellipse cx="1381.2" cy="968.2" rx="5.5" ry="6.6" fill="url(#gMc)"/><ellipse cx="1402.7" cy="968.2" rx="5.7" ry="7.0" fill="url(#gS)"/><ellipse cx="1444.4" cy="968.2" rx="5.5" ry="6.8" fill="url(#gMb)"/><ellipse cx="1465.9" cy="968.2" rx="5.7" ry="7.0" fill="url(#gS)"/><ellipse cx="1510.6" cy="968.2" rx="5.5" ry="6.8" fill="url(#gMb)"/><ellipse cx="1532.1" cy="968.2" rx="5.7" ry="7.0" fill="url(#gS)"/><ellipse cx="918.9" cy="992.4" rx="5.7" ry="7.0" fill="url(#gS)"/><ellipse cx="963.2" cy="992.4" rx="5.5" ry="6.8" fill="url(#gMb)"/><ellipse cx="984.7" cy="992.4" rx="5.7" ry="7.0" fill="url(#gS)"/><ellipse cx="1029.0" cy="992.4" rx="5.5" ry="6.8" fill="url(#gMb)"/><ellipse cx="1050.5" cy="992.4" rx="5.7" ry="7.0" fill="url(#gS)"/><ellipse cx="1095.6" cy="992.4" rx="5.5" ry="6.6" fill="url(#gMc)"/><ellipse cx="1117.1" cy="992.4" rx="5.7" ry="7.0" fill="url(#gS)"/><ellipse cx="1159.1" cy="992.4" rx="5.5" ry="6.6" fill="url(#gMc)"/><ellipse cx="1180.6" cy="992.4" rx="5.7" ry="7.0" fill="url(#gS)"/><ellipse cx="1222.4" cy="992.4" rx="5.5" ry="6.6" fill="url(#gMc)"/><ellipse cx="1243.9" cy="992.4" rx="5.7" ry="7.0" fill="url(#gS)"/><ellipse cx="1286.5" cy="992.4" rx="5.5" ry="6.6" fill="url(#gMc)"/><ellipse cx="1308.0" cy="992.4" rx="5.7" ry="7.0" fill="url(#gS)"/><ellipse cx="1350.8" cy="992.4" rx="5.5" ry="6.6" fill="url(#gMc)"/><ellipse cx="1372.3" cy="992.4" rx="5.7" ry="7.0" fill="url(#gS)"/><ellipse cx="1411.6" cy="992.4" rx="5.5" ry="6.8" fill="url(#gMb)"/><ellipse cx="1433.1" cy="992.4" rx="5.7" ry="7.0" fill="url(#gS)"/><ellipse cx="1477.3" cy="992.4" rx="5.5" ry="6.8" fill="url(#gMb)"/><ellipse cx="1498.8" cy="992.4" rx="5.7" ry="7.0" fill="url(#gS)"/><ellipse cx="1543.9" cy="992.4" rx="5.5" ry="6.8" fill="url(#gMb)"/><ellipse cx="930.3" cy="1018.2" rx="5.5" ry="6.8" fill="url(#gMb)"/><ellipse cx="951.8" cy="1018.2" rx="5.7" ry="7.0" fill="url(#gS)"/><ellipse cx="996.1" cy="1018.2" rx="5.5" ry="6.8" fill="url(#gMb)"/><ellipse cx="1017.6" cy="1018.2" rx="5.7" ry="7.0" fill="url(#gS)"/><ellipse cx="1062.3" cy="1018.2" rx="5.5" ry="6.8" fill="url(#gMb)"/><ellipse cx="1083.8" cy="1018.2" rx="5.7" ry="7.0" fill="url(#gS)"/><ellipse cx="1127.3" cy="1018.2" rx="5.5" ry="6.6" fill="url(#gMc)"/><ellipse cx="1148.8" cy="1018.2" rx="5.7" ry="7.0" fill="url(#gS)"/><ellipse cx="1190.8" cy="1018.2" rx="5.5" ry="6.6" fill="url(#gMc)"/><ellipse cx="1212.2" cy="1018.2" rx="5.7" ry="7.0" fill="url(#gS)"/><ellipse cx="1254.5" cy="1018.2" rx="5.5" ry="6.6" fill="url(#gMc)"/><ellipse cx="1276.0" cy="1018.2" rx="5.7" ry="7.0" fill="url(#gS)"/><ellipse cx="1318.7" cy="1018.2" rx="5.5" ry="6.6" fill="url(#gMc)"/><ellipse cx="1340.2" cy="1018.2" rx="5.7" ry="7.0" fill="url(#gS)"/><ellipse cx="1381.2" cy="1018.2" rx="5.5" ry="6.6" fill="url(#gMc)"/><ellipse cx="1402.7" cy="1018.2" rx="5.7" ry="7.0" fill="url(#gS)"/><ellipse cx="1444.4" cy="1018.2" rx="5.5" ry="6.8" fill="url(#gMb)"/><ellipse cx="1465.9" cy="1018.2" rx="5.7" ry="7.0" fill="url(#gS)"/><ellipse cx="1510.6" cy="1018.2" rx="5.5" ry="6.8" fill="url(#gMb)"/><ellipse cx="1532.1" cy="1018.2" rx="5.7" ry="7.0" fill="url(#gS)"/><ellipse cx="918.9" cy="1043.1" rx="5.7" ry="7.0" fill="url(#gS)"/><ellipse cx="963.2" cy="1043.1" rx="5.5" ry="6.8" fill="url(#gMb)"/><ellipse cx="984.7" cy="1043.1" rx="5.7" ry="7.0" fill="url(#gS)"/><ellipse cx="1029.0" cy="1043.1" rx="5.5" ry="6.8" fill="url(#gMb)"/><ellipse cx="1050.5" cy="1043.1" rx="5.7" ry="7.0" fill="url(#gS)"/><ellipse cx="1095.6" cy="1043.1" rx="5.5" ry="6.6" fill="url(#gMc)"/><ellipse cx="1117.1" cy="1043.1" rx="5.7" ry="7.0" fill="url(#gS)"/><ellipse cx="1159.1" cy="1043.1" rx="5.5" ry="6.6" fill="url(#gMc)"/><ellipse cx="1180.6" cy="1043.1" rx="5.7" ry="7.0" fill="url(#gS)"/><ellipse cx="1222.4" cy="1043.1" rx="5.5" ry="6.6" fill="url(#gMc)"/><ellipse cx="1243.9" cy="1043.1" rx="5.7" ry="7.0" fill="url(#gS)"/><ellipse cx="1286.5" cy="1043.1" rx="5.5" ry="6.6" fill="url(#gMc)"/><ellipse cx="1308.0" cy="1043.1" rx="5.7" ry="7.0" fill="url(#gS)"/><ellipse cx="1350.8" cy="1043.1" rx="5.5" ry="6.6" fill="url(#gMc)"/><ellipse cx="1372.3" cy="1043.1" rx="5.7" ry="7.0" fill="url(#gS)"/><ellipse cx="1411.6" cy="1043.1" rx="5.5" ry="6.8" fill="url(#gMb)"/><ellipse cx="1433.1" cy="1043.1" rx="5.7" ry="7.0" fill="url(#gS)"/><ellipse cx="1477.3" cy="1043.1" rx="5.5" ry="6.8" fill="url(#gMb)"/><ellipse cx="1498.8" cy="1043.1" rx="5.7" ry="7.0" fill="url(#gS)"/><ellipse cx="1543.9" cy="1043.1" rx="5.5" ry="6.8" fill="url(#gMb)"/><ellipse cx="930.3" cy="1068.1" rx="5.5" ry="6.8" fill="url(#gMb)"/><ellipse cx="951.8" cy="1068.1" rx="5.7" ry="7.0" fill="url(#gS)"/><ellipse cx="996.1" cy="1068.1" rx="5.5" ry="6.8" fill="url(#gMb)"/><ellipse cx="1017.6" cy="1068.1" rx="5.7" ry="7.0" fill="url(#gS)"/><ellipse cx="1062.3" cy="1068.1" rx="5.5" ry="6.8" fill="url(#gMb)"/><ellipse cx="1083.8" cy="1068.1" rx="5.7" ry="7.0" fill="url(#gS)"/><ellipse cx="1127.3" cy="1068.1" rx="5.5" ry="6.6" fill="url(#gMc)"/><ellipse cx="1148.8" cy="1068.1" rx="5.7" ry="7.0" fill="url(#gS)"/><ellipse cx="1190.8" cy="1068.1" rx="5.5" ry="6.6" fill="url(#gMc)"/><ellipse cx="1212.2" cy="1068.1" rx="5.7" ry="7.0" fill="url(#gS)"/><ellipse cx="1254.5" cy="1068.1" rx="5.5" ry="6.6" fill="url(#gMc)"/><ellipse cx="1276.0" cy="1068.1" rx="5.7" ry="7.0" fill="url(#gS)"/><ellipse cx="1318.7" cy="1068.1" rx="5.5" ry="6.6" fill="url(#gMc)"/><ellipse cx="1340.2" cy="1068.1" rx="5.7" ry="7.0" fill="url(#gS)"/><ellipse cx="1381.2" cy="1068.1" rx="5.5" ry="6.6" fill="url(#gMc)"/><ellipse cx="1402.7" cy="1068.1" rx="5.7" ry="7.0" fill="url(#gS)"/><ellipse cx="1444.4" cy="1068.1" rx="5.5" ry="6.8" fill="url(#gMb)"/><ellipse cx="1465.9" cy="1068.1" rx="5.7" ry="7.0" fill="url(#gS)"/><ellipse cx="1510.6" cy="1068.1" rx="5.5" ry="6.8" fill="url(#gMb)"/><ellipse cx="1532.1" cy="1068.1" rx="5.7" ry="7.0" fill="url(#gS)"/><ellipse cx="918.9" cy="1091.4" rx="5.7" ry="7.0" fill="url(#gS)"/><ellipse cx="967.7" cy="1091.4" rx="5.5" ry="6.8" fill="url(#gMb)"/><ellipse cx="984.7" cy="1091.4" rx="5.7" ry="7.0" fill="url(#gS)"/><ellipse cx="1033.5" cy="1091.4" rx="5.5" ry="6.8" fill="url(#gMb)"/><ellipse cx="1050.5" cy="1091.4" rx="5.7" ry="7.0" fill="url(#gS)"/><ellipse cx="1098.1" cy="1091.4" rx="5.5" ry="6.6" fill="url(#gMc)"/><ellipse cx="1117.1" cy="1091.4" rx="5.7" ry="7.0" fill="url(#gS)"/><ellipse cx="1161.6" cy="1091.4" rx="5.5" ry="6.6" fill="url(#gMc)"/><ellipse cx="1180.6" cy="1091.4" rx="5.7" ry="7.0" fill="url(#gS)"/><ellipse cx="1224.9" cy="1091.4" rx="5.5" ry="6.6" fill="url(#gMc)"/><ellipse cx="1243.9" cy="1091.4" rx="5.7" ry="7.0" fill="url(#gS)"/><ellipse cx="1289.0" cy="1091.4" rx="5.5" ry="6.6" fill="url(#gMc)"/><ellipse cx="1308.0" cy="1091.4" rx="5.7" ry="7.0" fill="url(#gS)"/><ellipse cx="1353.3" cy="1091.4" rx="5.5" ry="6.6" fill="url(#gMc)"/><ellipse cx="1372.3" cy="1091.4" rx="5.7" ry="7.0" fill="url(#gS)"/><ellipse cx="1416.1" cy="1091.4" rx="5.5" ry="6.8" fill="url(#gMb)"/><ellipse cx="1433.1" cy="1091.4" rx="5.7" ry="7.0" fill="url(#gS)"/><ellipse cx="1481.8" cy="1091.4" rx="5.5" ry="6.8" fill="url(#gMb)"/><ellipse cx="1498.8" cy="1091.4" rx="5.7" ry="7.0" fill="url(#gS)"/><ellipse cx="1548.4" cy="1091.4" rx="5.5" ry="6.8" fill="url(#gMb)"/>
<ellipse cx="1028.2" cy="994" rx="15" ry="15.8" fill="url(#gR)"/><ellipse cx="1030.7" cy="992.4" rx="9" ry="12.5" fill="url(#gG)"/><ellipse cx="997.4" cy="1018.2" rx="11.7" ry="18.3" fill="url(#gR)"/><ellipse cx="996" cy="1016" rx="7.5" ry="11.7" fill="url(#gG)"/><ellipse cx="991" cy="1030" rx="3" ry="5" fill="url(#gG)" transform="rotate(30 991 1030)"/><ellipse cx="1019.8" cy="964.1" rx="5" ry="6.3" fill="url(#gR)"/><ellipse cx="1019" cy="1018.2" rx="7" ry="8.3" fill="url(#gR)"/><ellipse cx="983.2" cy="991.5" rx="5.3" ry="6.7" fill="url(#gR)"/><ellipse cx="1053" cy="991.5" rx="5.8" ry="7.5" fill="url(#gR)"/><ellipse cx="1052.3" cy="1017.3" rx="6.7" ry="7.5" fill="url(#gR)"/><ellipse cx="1063.1" cy="1018.2" rx="4.2" ry="9.2" fill="url(#gG)"/><ellipse cx="1073" cy="1019" rx="3.3" ry="6.7" fill="url(#gR)"/><ellipse cx="991.5" cy="960" rx="4.7" ry="6.7" fill="url(#gR)"/><ellipse cx="998.2" cy="968.2" rx="5.8" ry="7.5" fill="url(#gG)"/><ellipse cx="1003.2" cy="977.4" rx="5" ry="7.5" fill="url(#gR)"/><ellipse cx="994.9" cy="913.3" rx="5.8" ry="7.5" fill="url(#gR)"/><ellipse cx="1006.5" cy="930" rx="5" ry="5.8" fill="url(#gR)"/><ellipse cx="1001" cy="921.6" rx="3.5" ry="3" fill="url(#gG)"/><ellipse cx="1023.2" cy="935" rx="5" ry="5.8" fill="url(#gR)"/><ellipse cx="1029" cy="942.4" rx="4.2" ry="5" fill="url(#gG)" transform="rotate(-30 1029 942.4)"/><ellipse cx="1034" cy="951.6" rx="4.7" ry="6.3" fill="url(#gR)"/><ellipse cx="1055.6" cy="967.4" rx="4.2" ry="5.8" fill="url(#gR)"/><ellipse cx="1063" cy="967.4" rx="4.2" ry="6.7" fill="url(#gG)"/><ellipse cx="1069.8" cy="967.4" rx="3.5" ry="5" fill="url(#gR)"/><ellipse cx="1034.8" cy="1038.2" rx="6.7" ry="10" fill="url(#gR)"/><ellipse cx="1021.5" cy="1048.1" rx="6.7" ry="10" fill="url(#gR)"/><ellipse cx="1030.7" cy="1044" rx="6.7" ry="10" fill="url(#gG)"/><ellipse cx="1052.3" cy="1044.8" rx="5" ry="7.5" fill="url(#gR)"/><ellipse cx="984.9" cy="1046.5" rx="4.2" ry="5" fill="url(#gR)"/><ellipse cx="1001.5" cy="1056.5" rx="5.8" ry="8.3" fill="url(#gR)"/><ellipse cx="996.5" cy="1069.8" rx="8.3" ry="3.3" fill="url(#gG)" transform="rotate(30 996.5 1069.8)"/><ellipse cx="990.7" cy="1076.4" rx="4.2" ry="5" fill="url(#gR)"/><ellipse cx="1020" cy="1076" rx="3" ry="3.5" fill="url(#gR)"/><ellipse cx="1088.3" cy="992.4" rx="5" ry="6.7" fill="url(#gR)"/><ellipse cx="1102.2" cy="993.2" rx="4" ry="5.8" fill="url(#gR)"/><ellipse cx="1094.2" cy="995" rx="3.3" ry="9.2" fill="url(#gG)" transform="rotate(10 1094.2 995)"/><ellipse cx="1094" cy="985" rx="3" ry="4" fill="url(#gG)"/><ellipse cx="1088" cy="1044.8" rx="5" ry="6" fill="url(#gR)"/><ellipse cx="1100.6" cy="1040" rx="4" ry="5" fill="url(#gR)"/><ellipse cx="1093" cy="1040.6" rx="3.3" ry="5.8" fill="url(#gG)"/><ellipse cx="1096" cy="1050" rx="2.5" ry="3" fill="url(#gB)"/><ellipse cx="1089.8" cy="1079.8" rx="5" ry="7.5" fill="url(#gB)"/><ellipse cx="1102.2" cy="1079.8" rx="3.3" ry="4.5" fill="url(#gN)"/><ellipse cx="1103.9" cy="1091.4" rx="4" ry="5" fill="url(#gB)"/><ellipse cx="1089.8" cy="1096.4" rx="8.3" ry="10" fill="url(#gO)"/><ellipse cx="1125.5" cy="915" rx="5.8" ry="6.7" fill="url(#gR)"/><ellipse cx="1124.7" cy="920" rx="5.8" ry="5.8" fill="url(#gG)"/><ellipse cx="1131.3" cy="932.5" rx="5" ry="6" fill="url(#gR)"/><ellipse cx="1061.4" cy="1076.4" rx="3" ry="3" fill="url(#gR)"/><ellipse cx="1062" cy="1068" rx="3" ry="3" fill="url(#gG)"/><ellipse cx="1153.3" cy="1081.4" rx="4.2" ry="5.8" fill="url(#gB)"/><ellipse cx="1164" cy="1078" rx="3" ry="5" fill="url(#gO)" transform="rotate(20 1164 1078)"/><ellipse cx="1167.5" cy="1091.4" rx="4" ry="4.5" fill="url(#gB)"/><ellipse cx="1156.6" cy="1097.2" rx="5" ry="9.2" fill="url(#gO)" transform="rotate(15 1156.6 1097.2)"/><ellipse cx="1281.5" cy="1081.4" rx="5" ry="6.7" fill="url(#gN)"/><ellipse cx="1291.4" cy="1079.8" rx="3.3" ry="6.7" fill="url(#gB)" transform="rotate(30 1291.4 1079.8)"/><ellipse cx="1283.1" cy="1097.2" rx="5" ry="5" fill="url(#gB)"/><ellipse cx="1294.8" cy="1093" rx="4" ry="5" fill="url(#gN)"/><ellipse cx="1344.7" cy="1079" rx="4" ry="5" fill="url(#gO)"/><ellipse cx="1359.7" cy="1093" rx="4.5" ry="5" fill="url(#gO)"/><ellipse cx="1355.5" cy="1079.8" rx="4.2" ry="7.5" fill="url(#gP)" transform="rotate(20 1355.5 1079.8)"/><ellipse cx="1346.4" cy="1099.7" rx="5.8" ry="6.7" fill="url(#gP)"/><ellipse cx="1193.2" cy="1066.4" rx="2.5" ry="3" fill="url(#gB)"/><ellipse cx="1204" cy="1066.4" rx="2.5" ry="3" fill="url(#gB)"/><ellipse cx="1188.3" cy="916.6" rx="2.5" ry="4.5" fill="url(#gN)"/><ellipse cx="1186" cy="930" rx="2.5" ry="3.5" fill="url(#gB)"/><ellipse cx="1198" cy="920" rx="2.5" ry="3" fill="url(#gB)"/><ellipse cx="1156" cy="1040" rx="2" ry="3" fill="url(#gB)"/><ellipse cx="1346" cy="1040" rx="3" ry="4" fill="url(#gO)"/><ellipse cx="1350" cy="1042" rx="2" ry="3" fill="url(#gB)"/><ellipse cx="1378" cy="1067" rx="4" ry="5" fill="url(#gR)"/><ellipse cx="1390" cy="1066" rx="3" ry="4" fill="url(#gO)"/><ellipse cx="1384" cy="1072" rx="2.5" ry="6" fill="url(#gP)"/>
</g>
<rect x="905.0" y="908.0" width="74.1" height="198.0" fill="#c4c4c4"/>
<rect x="1482.3" y="908.0" width="74.4" height="198.0" fill="#c4c4c4"/>
<clipPath id="bx4"><rect x="905.0" y="908.0" width="74.1" height="198.0"/><rect x="1482.3" y="908.0" width="74.4" height="198.0"/></clipPath>
<g clip-path="url(#bx4)"><g stroke-width="2.4"><line x1="933.8" y1="921.2" x2="942.8" y2="920.6" stroke="#0a5ac4"/><line x1="942.8" y1="920.6" x2="951.8" y2="920.0" stroke="#c4c400"/><line x1="1514.1" y1="921.2" x2="1523.1" y2="920.6" stroke="#0a5ac4"/><line x1="1523.1" y1="920.6" x2="1532.1" y2="920.0" stroke="#c4c400"/><line x1="908.2" y1="942.4" x2="918.9" y2="942.4" stroke="#c4c400"/><line x1="963.2" y1="942.4" x2="974.0" y2="942.4" stroke="#0a5ac4"/><line x1="974.0" y1="942.4" x2="984.7" y2="942.4" stroke="#c4c400"/><line x1="1477.3" y1="942.4" x2="1488.0" y2="942.4" stroke="#0a5ac4"/><line x1="1488.0" y1="942.4" x2="1498.8" y2="942.4" stroke="#c4c400"/><line x1="1543.9" y1="942.4" x2="1554.7" y2="942.4" stroke="#0a5ac4"/><line x1="918.9" y1="942.4" x2="926.4" y2="931.8" stroke="#c4c400"/><line x1="926.4" y1="931.8" x2="933.8" y2="921.2" stroke="#0a5ac4"/><line x1="963.2" y1="942.4" x2="957.5" y2="931.2" stroke="#0a5ac4"/><line x1="957.5" y1="931.2" x2="951.8" y2="920.0" stroke="#c4c400"/><line x1="1498.8" y1="942.4" x2="1506.4" y2="931.8" stroke="#c4c400"/><line x1="1506.4" y1="931.8" x2="1514.1" y2="921.2" stroke="#0a5ac4"/><line x1="1543.9" y1="942.4" x2="1538.0" y2="931.2" stroke="#0a5ac4"/><line x1="1538.0" y1="931.2" x2="1532.1" y2="920.0" stroke="#c4c400"/><line x1="918.9" y1="942.4" x2="924.6" y2="955.3" stroke="#c4c400"/><line x1="924.6" y1="955.3" x2="930.3" y2="968.2" stroke="#0a5ac4"/><line x1="963.2" y1="942.4" x2="957.5" y2="955.3" stroke="#0a5ac4"/><line x1="957.5" y1="955.3" x2="951.8" y2="968.2" stroke="#c4c400"/><line x1="1498.8" y1="942.4" x2="1504.7" y2="955.3" stroke="#c4c400"/><line x1="1504.7" y1="955.3" x2="1510.6" y2="968.2" stroke="#0a5ac4"/><line x1="1543.9" y1="942.4" x2="1538.0" y2="955.3" stroke="#0a5ac4"/><line x1="1538.0" y1="955.3" x2="1532.1" y2="968.2" stroke="#c4c400"/><line x1="930.3" y1="968.2" x2="941.1" y2="968.2" stroke="#0a5ac4"/><line x1="941.1" y1="968.2" x2="951.8" y2="968.2" stroke="#c4c400"/><line x1="1510.6" y1="968.2" x2="1521.3" y2="968.2" stroke="#0a5ac4"/><line x1="1521.3" y1="968.2" x2="1532.1" y2="968.2" stroke="#c4c400"/><line x1="908.2" y1="992.4" x2="918.9" y2="992.4" stroke="#c4c400"/><line x1="963.2" y1="992.4" x2="974.0" y2="992.4" stroke="#0a5ac4"/><line x1="974.0" y1="992.4" x2="984.7" y2="992.4" stroke="#c4c400"/><line x1="1477.3" y1="992.4" x2="1488.0" y2="992.4" stroke="#0a5ac4"/><line x1="1488.0" y1="992.4" x2="1498.8" y2="992.4" stroke="#c4c400"/><line x1="1543.9" y1="992.4" x2="1554.7" y2="992.4" stroke="#0a5ac4"/><line x1="918.9" y1="992.4" x2="924.6" y2="980.3" stroke="#c4c400"/><line x1="924.6" y1="980.3" x2="930.3" y2="968.2" stroke="#0a5ac4"/><line x1="963.2" y1="992.4" x2="957.5" y2="980.3" stroke="#0a5ac4"/><line x1="957.5" y1="980.3" x2="951.8" y2="968.2" stroke="#c4c400"/><line x1="1498.8" y1="992.4" x2="1504.7" y2="980.3" stroke="#c4c400"/><line x1="1504.7" y1="980.3" x2="1510.6" y2="968.2" stroke="#0a5ac4"/><line x1="1543.9" y1="992.4" x2="1538.0" y2="980.3" stroke="#0a5ac4"/><line x1="1538.0" y1="980.3" x2="1532.1" y2="968.2" stroke="#c4c400"/><line x1="918.9" y1="992.4" x2="924.6" y2="1005.3" stroke="#c4c400"/><line x1="924.6" y1="1005.3" x2="930.3" y2="1018.2" stroke="#0a5ac4"/><line x1="963.2" y1="992.4" x2="957.5" y2="1005.3" stroke="#0a5ac4"/><line x1="957.5" y1="1005.3" x2="951.8" y2="1018.2" stroke="#c4c400"/><line x1="1498.8" y1="992.4" x2="1504.7" y2="1005.3" stroke="#c4c400"/><line x1="1504.7" y1="1005.3" x2="1510.6" y2="1018.2" stroke="#0a5ac4"/><line x1="1543.9" y1="992.4" x2="1538.0" y2="1005.3" stroke="#0a5ac4"/><line x1="1538.0" y1="1005.3" x2="1532.1" y2="1018.2" stroke="#c4c400"/><line x1="930.3" y1="1018.2" x2="941.1" y2="1018.2" stroke="#0a5ac4"/><line x1="941.1" y1="1018.2" x2="951.8" y2="1018.2" stroke="#c4c400"/><line x1="1510.6" y1="1018.2" x2="1521.3" y2="1018.2" stroke="#0a5ac4"/><line x1="1521.3" y1="1018.2" x2="1532.1" y2="1018.2" stroke="#c4c400"/><line x1="908.2" y1="1043.1" x2="918.9" y2="1043.1" stroke="#c4c400"/><line x1="963.2" y1="1043.1" x2="974.0" y2="1043.1" stroke="#0a5ac4"/><line x1="974.0" y1="1043.1" x2="984.7" y2="1043.1" stroke="#c4c400"/><line x1="1477.3" y1="1043.1" x2="1488.0" y2="1043.1" stroke="#0a5ac4"/><line x1="1488.0" y1="1043.1" x2="1498.8" y2="1043.1" stroke="#c4c400"/><line x1="1543.9" y1="1043.1" x2="1554.7" y2="1043.1" stroke="#0a5ac4"/><line x1="918.9" y1="1043.1" x2="924.6" y2="1030.7" stroke="#c4c400"/><line x1="924.6" y1="1030.7" x2="930.3" y2="1018.2" stroke="#0a5ac4"/><line x1="963.2" y1="1043.1" x2="957.5" y2="1030.7" stroke="#0a5ac4"/><line x1="957.5" y1="1030.7" x2="951.8" y2="1018.2" stroke="#c4c400"/><line x1="1498.8" y1="1043.1" x2="1504.7" y2="1030.7" stroke="#c4c400"/><line x1="1504.7" y1="1030.7" x2="1510.6" y2="1018.2" stroke="#0a5ac4"/><line x1="1543.9" y1="1043.1" x2="1538.0" y2="1030.7" stroke="#0a5ac4"/><line x1="1538.0" y1="1030.7" x2="1532.1" y2="1018.2" stroke="#c4c400"/><line x1="918.9" y1="1043.1" x2="924.6" y2="1055.6" stroke="#c4c400"/><line x1="924.6" y1="1055.6" x2="930.3" y2="1068.1" stroke="#0a5ac4"/><line x1="963.2" y1="1043.1" x2="957.5" y2="1055.6" stroke="#0a5ac4"/><line x1="957.5" y1="1055.6" x2="951.8" y2="1068.1" stroke="#c4c400"/><line x1="1498.8" y1="1043.1" x2="1504.7" y2="1055.6" stroke="#c4c400"/><line x1="1504.7" y1="1055.6" x2="1510.6" y2="1068.1" stroke="#0a5ac4"/><line x1="1543.9" y1="1043.1" x2="1538.0" y2="1055.6" stroke="#0a5ac4"/><line x1="1538.0" y1="1055.6" x2="1532.1" y2="1068.1" stroke="#c4c400"/><line x1="930.3" y1="1068.1" x2="941.1" y2="1068.1" stroke="#0a5ac4"/><line x1="941.1" y1="1068.1" x2="951.8" y2="1068.1" stroke="#c4c400"/><line x1="1510.6" y1="1068.1" x2="1521.3" y2="1068.1" stroke="#0a5ac4"/><line x1="1521.3" y1="1068.1" x2="1532.1" y2="1068.1" stroke="#c4c400"/><line x1="910.4" y1="1091.4" x2="918.9" y2="1091.4" stroke="#c4c400"/><line x1="967.7" y1="1091.4" x2="976.2" y2="1091.4" stroke="#0a5ac4"/><line x1="976.2" y1="1091.4" x2="984.7" y2="1091.4" stroke="#c4c400"/><line x1="1481.8" y1="1091.4" x2="1490.3" y2="1091.4" stroke="#0a5ac4"/><line x1="1490.3" y1="1091.4" x2="1498.8" y2="1091.4" stroke="#c4c400"/><line x1="1548.4" y1="1091.4" x2="1556.9" y2="1091.4" stroke="#0a5ac4"/><line x1="918.9" y1="1091.4" x2="924.6" y2="1079.8" stroke="#c4c400"/><line x1="924.6" y1="1079.8" x2="930.3" y2="1068.1" stroke="#0a5ac4"/><line x1="967.7" y1="1091.4" x2="959.8" y2="1079.8" stroke="#0a5ac4"/><line x1="959.8" y1="1079.8" x2="951.8" y2="1068.1" stroke="#c4c400"/><line x1="1481.8" y1="1091.4" x2="1473.9" y2="1079.8" stroke="#0a5ac4"/><line x1="1473.9" y1="1079.8" x2="1465.9" y2="1068.1" stroke="#c4c400"/><line x1="1498.8" y1="1091.4" x2="1504.7" y2="1079.8" stroke="#c4c400"/><line x1="1504.7" y1="1079.8" x2="1510.6" y2="1068.1" stroke="#0a5ac4"/><line x1="1548.4" y1="1091.4" x2="1540.2" y2="1079.8" stroke="#0a5ac4"/><line x1="1540.2" y1="1079.8" x2="1532.1" y2="1068.1" stroke="#c4c400"/><line x1="933.8" y1="921.2" x2="948.5" y2="931.8" stroke="#0a5ac4"/><line x1="948.5" y1="931.8" x2="963.2" y2="942.4" stroke="#0a5ac4"/><line x1="1514.1" y1="921.2" x2="1529.0" y2="931.8" stroke="#0a5ac4"/><line x1="1529.0" y1="931.8" x2="1543.9" y2="942.4" stroke="#0a5ac4"/><line x1="916.1" y1="1079.8" x2="930.3" y2="1068.1" stroke="#0a5ac4"/><line x1="967.7" y1="1091.4" x2="981.9" y2="1079.8" stroke="#0a5ac4"/><line x1="981.9" y1="1079.8" x2="996.1" y2="1068.1" stroke="#0a5ac4"/><line x1="1481.8" y1="1091.4" x2="1496.2" y2="1079.8" stroke="#0a5ac4"/><line x1="1496.2" y1="1079.8" x2="1510.6" y2="1068.1" stroke="#0a5ac4"/><line x1="1548.4" y1="1091.4" x2="1562.8" y2="1079.8" stroke="#0a5ac4"/></g><ellipse cx="933.8" cy="921.2" rx="5.5" ry="6.8" fill="url(#gMbD)"/><ellipse cx="951.8" cy="920.0" rx="5.7" ry="7.0" fill="url(#gSD)"/><ellipse cx="1514.1" cy="921.2" rx="5.5" ry="6.8" fill="url(#gMbD)"/><ellipse cx="1532.1" cy="920.0" rx="5.7" ry="7.0" fill="url(#gSD)"/><ellipse cx="918.9" cy="942.4" rx="5.7" ry="7.0" fill="url(#gSD)"/><ellipse cx="963.2" cy="942.4" rx="5.5" ry="6.8" fill="url(#gMbD)"/><ellipse cx="984.7" cy="942.4" rx="5.7" ry="7.0" fill="url(#gSD)"/><ellipse cx="1477.3" cy="942.4" rx="5.5" ry="6.8" fill="url(#gMbD)"/><ellipse cx="1498.8" cy="942.4" rx="5.7" ry="7.0" fill="url(#gSD)"/><ellipse cx="1543.9" cy="942.4" rx="5.5" ry="6.8" fill="url(#gMbD)"/><ellipse cx="930.3" cy="968.2" rx="5.5" ry="6.8" fill="url(#gMbD)"/><ellipse cx="951.8" cy="968.2" rx="5.7" ry="7.0" fill="url(#gSD)"/><ellipse cx="1510.6" cy="968.2" rx="5.5" ry="6.8" fill="url(#gMbD)"/><ellipse cx="1532.1" cy="968.2" rx="5.7" ry="7.0" fill="url(#gSD)"/><ellipse cx="918.9" cy="992.4" rx="5.7" ry="7.0" fill="url(#gSD)"/><ellipse cx="963.2" cy="992.4" rx="5.5" ry="6.8" fill="url(#gMbD)"/><ellipse cx="984.7" cy="992.4" rx="5.7" ry="7.0" fill="url(#gSD)"/><ellipse cx="1477.3" cy="992.4" rx="5.5" ry="6.8" fill="url(#gMbD)"/><ellipse cx="1498.8" cy="992.4" rx="5.7" ry="7.0" fill="url(#gSD)"/><ellipse cx="1543.9" cy="992.4" rx="5.5" ry="6.8" fill="url(#gMbD)"/><ellipse cx="930.3" cy="1018.2" rx="5.5" ry="6.8" fill="url(#gMbD)"/><ellipse cx="951.8" cy="1018.2" rx="5.7" ry="7.0" fill="url(#gSD)"/><ellipse cx="1510.6" cy="1018.2" rx="5.5" ry="6.8" fill="url(#gMbD)"/><ellipse cx="1532.1" cy="1018.2" rx="5.7" ry="7.0" fill="url(#gSD)"/><ellipse cx="918.9" cy="1043.1" rx="5.7" ry="7.0" fill="url(#gSD)"/><ellipse cx="963.2" cy="1043.1" rx="5.5" ry="6.8" fill="url(#gMbD)"/><ellipse cx="984.7" cy="1043.1" rx="5.7" ry="7.0" fill="url(#gSD)"/><ellipse cx="1477.3" cy="1043.1" rx="5.5" ry="6.8" fill="url(#gMbD)"/><ellipse cx="1498.8" cy="1043.1" rx="5.7" ry="7.0" fill="url(#gSD)"/><ellipse cx="1543.9" cy="1043.1" rx="5.5" ry="6.8" fill="url(#gMbD)"/><ellipse cx="930.3" cy="1068.1" rx="5.5" ry="6.8" fill="url(#gMbD)"/><ellipse cx="951.8" cy="1068.1" rx="5.7" ry="7.0" fill="url(#gSD)"/><ellipse cx="1510.6" cy="1068.1" rx="5.5" ry="6.8" fill="url(#gMbD)"/><ellipse cx="1532.1" cy="1068.1" rx="5.7" ry="7.0" fill="url(#gSD)"/><ellipse cx="918.9" cy="1091.4" rx="5.7" ry="7.0" fill="url(#gSD)"/><ellipse cx="967.7" cy="1091.4" rx="5.5" ry="6.8" fill="url(#gMbD)"/><ellipse cx="984.7" cy="1091.4" rx="5.7" ry="7.0" fill="url(#gSD)"/><ellipse cx="1481.8" cy="1091.4" rx="5.5" ry="6.8" fill="url(#gMbD)"/><ellipse cx="1498.8" cy="1091.4" rx="5.7" ry="7.0" fill="url(#gSD)"/><ellipse cx="1548.4" cy="1091.4" rx="5.5" ry="6.8" fill="url(#gMbD)"/></g>
<line x1="875.7" y1="21.4" x2="875.7" y2="1109.3" stroke="#000" stroke-width="6.4" stroke-linecap="round"/>
<defs>
<clipPath id="cp0"><rect x="172.6" y="21.4" width="707.6" height="218.1"/></clipPath>
<clipPath id="cp1"><rect x="172.6" y="239.5" width="707.6" height="217.5"/></clipPath>
<clipPath id="cp2"><rect x="172.6" y="457.0" width="707.6" height="217.29999999999995"/></clipPath>
<clipPath id="cp3"><rect x="172.6" y="674.3" width="707.6" height="217.30000000000007"/></clipPath>
<clipPath id="cp4"><rect x="172.6" y="891.6" width="707.6" height="217.69999999999993"/></clipPath>
</defs>
<polyline clip-path="url(#cp0)" points="223.7,9.4 225.5,34.2 227.3,9.4 233.7,9.4 235.9,50.6 237.4,9.4 241.0,9.4 242.8,171.7 246.5,179.0 247.7,64.2 250.1,35.9 252.8,141.7 254.7,114.3 257.4,113.4 258.7,229.1 261.6,26.8 263.8,197.2 265.6,231.0 268.3,231.8 271.1,222.7 274.7,228.2 278.4,231.0 283.8,232.7 289.3,232.7 291.1,239.5 292.0,239.5 293.8,176.2 296.2,229.1 298.4,196.3 300.2,229.1 303.5,171.7 306.6,188.1 309.3,239.5 312.1,231.8 314.8,183.5 317.5,229.1 319.7,198.1 322.1,199.0 323.9,229.1 325.7,228.2 327.6,220.9 330.3,181.7 333.0,224.5 335.8,227.3 339.4,105.2 342.1,223.7 345.8,222.7 349.1,25.0 352.2,199.0 354.9,208.1 357.6,239.5 399.5,239.5 403.2,197.2 407.7,50.5 412.3,197.2 416.8,227.3 419.6,228.2 421.4,165.3 424.1,169.9 426.9,239.5 431.4,239.5 435.1,138.0 437.8,239.5 575.3,239.5 576.7,227.6 578.1,239.5 584.0,239.5 585.4,233.9 586.8,239.5 590.8,239.5 592.2,220.7 595.0,234.0 600.0,234.0 604.8,172.0 607.3,231.0 609.1,232.7 610.5,239.5 620.0,239.5 621.4,228.6 622.8,239.5 680.1,239.5 683.8,233.6 686.3,187.9 690.0,233.6 695.0,239.5 814.2,239.5 816.7,217.7 820.4,230.9 824.2,124.5 827.9,230.9 832.9,203.8 836.6,77.3 841.6,223.4 844.0,203.8 846.5,77.3 849.0,141.5 851.5,110.9 855.2,230.9 859.0,50.0 862.7,216.2 865.2,216.2 867.6,99.7 870.1,219.7 873.9,22.5 875.6,9.4" fill="none" stroke="#ff0000" stroke-width="5.4" stroke-linejoin="round" stroke-linecap="round"/>
<polyline clip-path="url(#cp1)" points="223.7,227.5 226.4,269.7 227.7,245.0 229.2,253.2 230.6,317.9 232.8,286.0 234.6,245.0 237.4,245.9 239.2,247.8 241.0,265.1 242.8,418.2 245.6,399.0 248.3,242.3 252.8,242.3 254.1,286.0 255.9,392.6 257.9,245.0 259.8,383.5 261.0,242.3 262.9,242.3 263.8,362.6 265.2,408.1 267.8,440.0 270.7,363.4 272.9,439.1 275.3,446.4 277.4,445.5 279.6,367.1 282.0,451.8 283.8,457.0 293.8,457.0 298.0,306.9 300.2,449.1 302.0,354.3 304.2,416.3 305.3,279.6 310.2,371.7 313.0,451.8 316.6,457.0 319.4,382.6 321.2,449.1 323.0,426.3 325.4,381.7 327.6,414.5 328.8,309.7 331.2,424.5 334.3,432.7 337.6,307.9 339.9,444.5 344.0,447.3 346.7,417.2 350.0,350.7 352.2,439.1 354.0,440.9 355.8,457.0 398.6,457.0 401.3,444.5 403.5,360.7 405.9,426.3 408.6,457.0 444.2,457.0 446.0,455.4 447.8,457.0 489.3,457.0 490.7,392.1 492.1,457.0 538.6,457.0 540.0,447.1 541.4,457.0 547.3,457.0 548.7,453.9 550.1,457.0 571.0,457.0 572.4,452.0 575.0,449.3 577.7,432.7 579.1,457.0 584.0,457.0 585.4,451.0 586.8,457.0 599.5,457.0 600.9,449.0 604.8,404.6 606.2,457.0 620.0,457.0 621.4,358.2 622.8,457.0 681.3,457.0 685.1,451.1 688.8,437.7 692.5,453.6 696.2,457.0 767.0,457.0 769.5,455.1 772.0,457.0 815.5,457.0 819.2,297.3 821.7,428.5 825.4,298.6 829.1,411.2 832.9,409.1 834.9,441.0 836.6,255.1 839.1,442.2 842.3,260.1 846.5,431.2 850.3,445.9 855.2,361.9 857.7,442.2 860.2,373.1 863.9,445.9 867.2,368.1 870.1,445.9 872.6,394.0" fill="none" stroke="#0000ff" stroke-width="5.4" stroke-linejoin="round" stroke-linecap="round"/>
<polyline clip-path="url(#cp2)" points="228.2,445.0 231.0,496.5 233.7,463.6 236.4,505.6 238.3,463.6 239.7,471.9 242.8,473.7 244.6,607.6 247.7,522.9 250.1,474.6 252.8,633.2 256.5,625.8 259.2,664.1 261.0,460.9 262.9,460.9 264.7,659.5 267.4,664.1 271.1,644.0 273.8,662.3 276.5,663.2 280.2,649.5 283.8,655.9 286.6,666.0 289.3,610.3 291.1,611.2 293.8,655.0 296.6,539.3 300.8,521.0 303.0,667.8 305.7,620.3 309.3,674.3 314.8,674.3 319.4,655.0 322.1,668.7 326.6,668.7 328.5,595.8 330.6,503.7 332.7,600.4 334.5,531.1 336.7,655.0 339.4,569.3 342.1,653.2 345.8,650.4 349.1,463.6 352.2,643.1 354.9,674.3 399.5,674.3 401.3,658.6 405.0,660.5 407.7,644.0 411.4,645.9 415.9,641.3 419.2,561.1 421.4,655.9 424.1,674.3 572.4,674.3 573.8,655.9 575.2,674.3 580.7,674.3 582.1,623.5 583.5,674.3 610.6,674.3 612.0,666.0 613.4,674.3 681.3,674.3 685.1,668.6 688.8,569.5 692.5,669.8 695.0,674.3 814.2,674.3 819.2,644.0 822.9,656.0 824.7,580.6 827.9,665.9 832.9,644.0 837.8,665.9 841.6,486.2 844.0,613.7 846.5,497.4 849.0,512.1 852.7,657.2 857.7,547.1 859.7,658.4 863.9,628.9 867.6,508.6 870.1,646.2 872.6,668.6" fill="none" stroke="#00ff00" stroke-width="5.4" stroke-linejoin="round" stroke-linecap="round"/>
<polyline clip-path="url(#cp3)" points="225.5,662.3 227.3,688.0 231.9,688.0 233.2,662.3 240.5,662.3 241.9,777.3 244.6,836.6 247.0,773.7 248.3,662.3 250.7,662.3 251.9,795.6 253.2,800.1 255.0,769.1 257.4,768.2 259.2,874.8 261.0,662.3 262.9,662.3 264.7,868.4 267.4,882.1 271.1,883.0 274.7,884.8 280.2,883.0 285.6,886.6 289.3,884.0 293.5,845.6 296.6,882.1 299.3,850.2 303.0,851.1 305.7,859.3 308.4,882.1 310.2,815.6 313.0,806.5 314.8,738.1 317.5,755.5 320.3,882.1 323.9,876.6 327.6,880.3 330.3,854.7 333.0,883.0 335.8,881.2 337.6,816.5 340.3,882.1 344.0,875.7 346.3,788.2 348.5,882.1 351.2,864.8 354.0,864.8 355.8,891.6 360.3,891.6 363.1,883.0 364.9,891.6 399.5,891.6 402.3,838.3 405.0,869.4 406.5,792.8 409.5,874.8 413.6,745.4 416.8,877.5 420.5,891.6 423.2,737.2 425.9,891.6 434.1,891.6 436.0,889.4 437.8,891.6 575.2,891.6 576.6,889.3 578.0,891.6 583.9,891.6 585.3,886.6 586.7,891.6 591.0,891.6 592.4,885.7 595.6,891.6 597.0,886.0 599.0,884.0 602.8,859.8 604.2,891.6 611.5,891.6 612.9,888.1 614.3,891.6 620.1,891.6 621.5,861.6 622.9,891.6 685.1,891.6 688.8,881.8 692.5,891.6 814.2,891.6 818.0,871.7 820.4,817.3 822.9,878.9 825.4,716.7 829.1,876.4 832.4,780.0 835.9,881.4 839.1,833.4 842.8,878.9 846.5,827.0 849.5,695.5 852.7,883.9 857.7,742.7 861.4,881.4 863.9,844.6 866.4,878.9 869.4,798.6 871.9,881.6" fill="none" stroke="#800080" stroke-width="5.4" stroke-linejoin="round" stroke-linecap="round"/>
<polyline clip-path="url(#cp4)" points="227.3,897.8 229.2,896.9 231.0,879.6 232.3,916.9 233.9,879.6 235.5,957.0 237.4,897.8 239.2,879.6 241.5,973.4 243.7,879.6 246.5,1070.9 248.3,930.6 250.1,879.6 252.5,879.6 253.2,1033.5 255.6,962.4 257.4,1093.7 259.2,963.4 261.6,937.8 263.8,957.9 264.7,1100.0 267.4,1109.3 271.1,1087.2 273.8,1087.3 276.5,1096.4 279.6,1083.6 282.0,1098.2 284.7,1109.3 288.4,1069.9 291.1,1099.1 293.8,958.8 296.6,1051.8 299.3,905.9 302.0,935.1 303.0,900.5 305.7,939.7 309.3,1023.5 312.1,1023.5 314.8,988.8 317.5,994.3 321.2,1091.8 323.9,1082.7 326.6,1088.2 328.5,1081.8 330.6,910.5 333.9,1098.2 336.7,1097.3 339.4,1003.4 342.1,1093.7 344.9,1073.6 346.7,1091.8 349.1,879.6 352.2,1076.3 355.8,1109.3 360.3,1109.3 363.1,1095.4 365.8,1101.0 368.5,1104.5 371.3,1109.3 375.3,1097.2 377.7,1109.3 399.5,1109.3 402.3,1087.3 405.9,1087.3 409.5,913.2 412.3,1067.2 415.9,1098.2 419.2,1008.0 421.4,1109.3 425.9,1109.3 428.7,1059.9 431.4,1109.3 436.9,1109.3 584.9,1109.3 586.3,1092.5 589.5,1104.0 602.5,1104.0 606.4,1033.9 609.0,1104.0 612.0,1104.0 614.0,1105.7 615.4,1109.3 621.8,1109.3 623.2,1055.8 624.6,1109.3 679.9,1109.3 681.3,1094.0 682.5,1103.3 684.0,1088.7 685.5,1103.3 686.8,1074.7 687.6,1097.3 688.4,1072.7 689.5,1097.3 691.0,1080.7 692.5,1101.3 694.5,1087.7 696.0,1101.3 697.5,1098.0 700.1,1098.0 701.5,1109.3 814.2,1109.3 818.0,1054.1 821.7,1078.5 824.2,951.0 827.4,1044.0 830.4,1100.9 835.4,975.9 837.8,1043.8 840.3,976.9 843.6,900.1 846.5,1095.9 850.3,897.6 854.0,1026.6 857.7,1044.0 860.2,1095.9 863.9,1088.7 867.2,944.8 868.9,1061.2 871.4,964.7 873.9,1109.3" fill="none" stroke="#000000" stroke-width="5.4" stroke-linejoin="round" stroke-linecap="round"/>
<line x1="172.6" y1="130.4" x2="182.1" y2="130.4" stroke="#000" stroke-width="5.5" stroke-linecap="round"/>
<line x1="172.6" y1="185.0" x2="177.29999999999998" y2="185.0" stroke="#000" stroke-width="5.5" stroke-linecap="round"/>
<line x1="172.6" y1="75.9" x2="177.29999999999998" y2="75.9" stroke="#000" stroke-width="5.5" stroke-linecap="round"/>
<line x1="260.5" y1="239.5" x2="260.5" y2="236.3" stroke="#000" stroke-width="5" stroke-linecap="round"/>
<line x1="348.5" y1="239.5" x2="348.5" y2="231.0" stroke="#000" stroke-width="5" stroke-linecap="round"/>
<line x1="436.4" y1="239.5" x2="436.4" y2="236.3" stroke="#000" stroke-width="5" stroke-linecap="round"/>
<line x1="524.4" y1="239.5" x2="524.4" y2="231.0" stroke="#000" stroke-width="5" stroke-linecap="round"/>
<line x1="612.4" y1="239.5" x2="612.4" y2="236.3" stroke="#000" stroke-width="5" stroke-linecap="round"/>
<line x1="700.3" y1="239.5" x2="700.3" y2="231.0" stroke="#000" stroke-width="5" stroke-linecap="round"/>
<line x1="788.2" y1="239.5" x2="788.2" y2="236.3" stroke="#000" stroke-width="5" stroke-linecap="round"/>
<line x1="172.6" y1="348.2" x2="182.1" y2="348.2" stroke="#000" stroke-width="5.5" stroke-linecap="round"/>
<line x1="172.6" y1="402.6" x2="177.29999999999998" y2="402.6" stroke="#000" stroke-width="5.5" stroke-linecap="round"/>
<line x1="172.6" y1="293.9" x2="177.29999999999998" y2="293.9" stroke="#000" stroke-width="5.5" stroke-linecap="round"/>
<line x1="260.5" y1="457.0" x2="260.5" y2="453.8" stroke="#000" stroke-width="5" stroke-linecap="round"/>
<line x1="348.5" y1="457.0" x2="348.5" y2="448.5" stroke="#000" stroke-width="5" stroke-linecap="round"/>
<line x1="436.4" y1="457.0" x2="436.4" y2="453.8" stroke="#000" stroke-width="5" stroke-linecap="round"/>
<line x1="524.4" y1="457.0" x2="524.4" y2="448.5" stroke="#000" stroke-width="5" stroke-linecap="round"/>
<line x1="612.4" y1="457.0" x2="612.4" y2="453.8" stroke="#000" stroke-width="5" stroke-linecap="round"/>
<line x1="700.3" y1="457.0" x2="700.3" y2="448.5" stroke="#000" stroke-width="5" stroke-linecap="round"/>
<line x1="788.2" y1="457.0" x2="788.2" y2="453.8" stroke="#000" stroke-width="5" stroke-linecap="round"/>
<line x1="172.6" y1="565.6" x2="182.1" y2="565.6" stroke="#000" stroke-width="5.5" stroke-linecap="round"/>
<line x1="172.6" y1="620.0" x2="177.29999999999998" y2="620.0" stroke="#000" stroke-width="5.5" stroke-linecap="round"/>
<line x1="172.6" y1="511.3" x2="177.29999999999998" y2="511.3" stroke="#000" stroke-width="5.5" stroke-linecap="round"/>
<line x1="260.5" y1="674.3" x2="260.5" y2="671.0999999999999" stroke="#000" stroke-width="5" stroke-linecap="round"/>
<line x1="348.5" y1="674.3" x2="348.5" y2="665.8" stroke="#000" stroke-width="5" stroke-linecap="round"/>
<line x1="436.4" y1="674.3" x2="436.4" y2="671.0999999999999" stroke="#000" stroke-width="5" stroke-linecap="round"/>
<line x1="524.4" y1="674.3" x2="524.4" y2="665.8" stroke="#000" stroke-width="5" stroke-linecap="round"/>
<line x1="612.4" y1="674.3" x2="612.4" y2="671.0999999999999" stroke="#000" stroke-width="5" stroke-linecap="round"/>
<line x1="700.3" y1="674.3" x2="700.3" y2="665.8" stroke="#000" stroke-width="5" stroke-linecap="round"/>
<line x1="788.2" y1="674.3" x2="788.2" y2="671.0999999999999" stroke="#000" stroke-width="5" stroke-linecap="round"/>
<line x1="172.6" y1="783.0" x2="182.1" y2="783.0" stroke="#000" stroke-width="5.5" stroke-linecap="round"/>
<line x1="172.6" y1="837.3" x2="177.29999999999998" y2="837.3" stroke="#000" stroke-width="5.5" stroke-linecap="round"/>
<line x1="172.6" y1="728.6" x2="177.29999999999998" y2="728.6" stroke="#000" stroke-width="5.5" stroke-linecap="round"/>
<line x1="260.5" y1="891.6" x2="260.5" y2="888.4" stroke="#000" stroke-width="5" stroke-linecap="round"/>
<line x1="348.5" y1="891.6" x2="348.5" y2="883.1" stroke="#000" stroke-width="5" stroke-linecap="round"/>
<line x1="436.4" y1="891.6" x2="436.4" y2="888.4" stroke="#000" stroke-width="5" stroke-linecap="round"/>
<line x1="524.4" y1="891.6" x2="524.4" y2="883.1" stroke="#000" stroke-width="5" stroke-linecap="round"/>
<line x1="612.4" y1="891.6" x2="612.4" y2="888.4" stroke="#000" stroke-width="5" stroke-linecap="round"/>
<line x1="700.3" y1="891.6" x2="700.3" y2="883.1" stroke="#000" stroke-width="5" stroke-linecap="round"/>
<line x1="788.2" y1="891.6" x2="788.2" y2="888.4" stroke="#000" stroke-width="5" stroke-linecap="round"/>
<line x1="172.6" y1="1000.5" x2="182.1" y2="1000.5" stroke="#000" stroke-width="5.5" stroke-linecap="round"/>
<line x1="172.6" y1="1054.9" x2="177.29999999999998" y2="1054.9" stroke="#000" stroke-width="5.5" stroke-linecap="round"/>
<line x1="172.6" y1="946.0" x2="177.29999999999998" y2="946.0" stroke="#000" stroke-width="5.5" stroke-linecap="round"/>
<line x1="260.5" y1="1109.3" x2="260.5" y2="1106.1" stroke="#000" stroke-width="5" stroke-linecap="round"/>
<line x1="348.5" y1="1109.3" x2="348.5" y2="1100.8" stroke="#000" stroke-width="5" stroke-linecap="round"/>
<line x1="436.4" y1="1109.3" x2="436.4" y2="1106.1" stroke="#000" stroke-width="5" stroke-linecap="round"/>
<line x1="524.4" y1="1109.3" x2="524.4" y2="1100.8" stroke="#000" stroke-width="5" stroke-linecap="round"/>
<line x1="612.4" y1="1109.3" x2="612.4" y2="1106.1" stroke="#000" stroke-width="5" stroke-linecap="round"/>
<line x1="700.3" y1="1109.3" x2="700.3" y2="1100.8" stroke="#000" stroke-width="5" stroke-linecap="round"/>
<line x1="788.2" y1="1109.3" x2="788.2" y2="1106.1" stroke="#000" stroke-width="5" stroke-linecap="round"/>
<line x1="172.6" y1="21.4" x2="876.2" y2="21.4" stroke="#000" stroke-width="6.8" stroke-linecap="round"/>
<line x1="172.6" y1="239.5" x2="876.2" y2="239.5" stroke="#000" stroke-width="6.8" stroke-linecap="round"/>
<line x1="172.6" y1="457.0" x2="876.2" y2="457.0" stroke="#000" stroke-width="6.8" stroke-linecap="round"/>
<line x1="172.6" y1="674.3" x2="876.2" y2="674.3" stroke="#000" stroke-width="6.8" stroke-linecap="round"/>
<line x1="172.6" y1="891.6" x2="876.2" y2="891.6" stroke="#000" stroke-width="6.8" stroke-linecap="round"/>
<line x1="172.6" y1="1109.3" x2="876.2" y2="1109.3" stroke="#000" stroke-width="6.8" stroke-linecap="round"/>
<line x1="172.6" y1="21.4" x2="172.6" y2="1109.3" stroke="#000" stroke-width="6.8" stroke-linecap="round"/>
<polygon points="521.6,14.3 525.8,14.3 529.2,17.7 529.2,32.4 525.8,35.8 521.6,35.8 518.2,32.4 518.2,17.7" fill="#000"/>
<polygon points="521.6,89.5 525.8,89.5 529.2,92.9 529.2,140.1 525.8,143.5 521.6,143.5 518.2,140.1 518.2,92.9" fill="#000"/>
<polygon points="521.6,197.2 525.8,197.2 529.2,200.6 529.2,247.8 525.8,251.2 521.6,251.2 518.2,247.8 518.2,200.6" fill="#000"/>
<polygon points="521.6,304.9 525.8,304.9 529.2,308.3 529.2,355.5 525.8,358.9 521.6,358.9 518.2,355.5 518.2,308.3" fill="#000"/>
<polygon points="521.6,412.6 525.8,412.6 529.2,416.0 529.2,463.2 525.8,466.6 521.6,466.6 518.2,463.2 518.2,416.0" fill="#000"/>
<polygon points="521.6,520.3 525.8,520.3 529.2,523.7 529.2,570.9 525.8,574.3 521.6,574.3 518.2,570.9 518.2,523.7" fill="#000"/>
<polygon points="521.6,628.0 525.8,628.0 529.2,631.4 529.2,678.6 525.8,682.0 521.6,682.0 518.2,678.6 518.2,631.4" fill="#000"/>
<polygon points="521.6,735.7 525.8,735.7 529.2,739.1 529.2,786.3 525.8,789.7 521.6,789.7 518.2,786.3 518.2,739.1" fill="#000"/>
<polygon points="521.6,843.4 525.8,843.4 529.2,846.8 529.2,894.0 525.8,897.4 521.6,897.4 518.2,894.0 518.2,846.8" fill="#000"/>
<polygon points="521.6,951.1 525.8,951.1 529.2,954.5 529.2,1001.7 525.8,1005.1 521.6,1005.1 518.2,1001.7 518.2,954.5" fill="#000"/>
<polygon points="521.6,1058.8 525.8,1058.8 529.2,1062.2 529.2,1112.2 525.8,1115.6 521.6,1115.6 518.2,1112.2 518.2,1062.2" fill="#000"/>
<line x1="916" y1="93.6" x2="596.8" y2="214.3" stroke="#000" stroke-width="3.8"/>
<polygon points="580.1,220.6 600.2,201.6 602.8,212.0 607.7,221.6" fill="#000"/>
<line x1="911" y1="350" x2="563.3" y2="434.5" stroke="#000" stroke-width="3.8"/>
<polygon points="546.0,438.7 568.3,422.3 569.6,433.0 573.3,443.1" fill="#000"/>
<line x1="905.3" y1="590.9" x2="590.8" y2="645.4" stroke="#000" stroke-width="3.8"/>
<polygon points="571.3,648.8 589.4,637.6 592.1,653.2" fill="none" stroke="#000" stroke-width="3.4" stroke-linejoin="miter" stroke-miterlimit="10"/>
<line x1="906.6" y1="827.3" x2="602.6" y2="875.2" stroke="#000" stroke-width="3.8"/>
<polygon points="585.0,878.0 608.5,863.5 609.0,874.2 611.9,884.6" fill="#000"/>
<line x1="917.1" y1="1029" x2="604.6" y2="1083.0" stroke="#000" stroke-width="3.8"/>
<polygon points="587.0,1086.0 610.3,1071.1 610.9,1081.9 613.9,1092.2" fill="#000"/>
<circle cx="1236.8" cy="766.9" r="14.6" fill="none" stroke="#000" stroke-width="3"/>
<circle cx="1084.8" cy="1019.8" r="14.8" fill="none" stroke="#000" stroke-width="3"/>
<text x="152" y="36.0" text-anchor="end" font-size="44" font-weight="bold">1.0</text>
<text x="152" y="145.0" text-anchor="end" font-size="44" font-weight="bold">0.5</text>
<text x="152" y="254.1" text-anchor="end" font-size="44" font-weight="bold">0.0</text>
<text x="152" y="362.9" text-anchor="end" font-size="44" font-weight="bold">0.5</text>
<text x="152" y="471.6" text-anchor="end" font-size="44" font-weight="bold">0.0</text>
<text x="152" y="580.2" text-anchor="end" font-size="44" font-weight="bold">0.5</text>
<text x="152" y="688.9" text-anchor="end" font-size="44" font-weight="bold">0.0</text>
<text x="152" y="797.6" text-anchor="end" font-size="44" font-weight="bold">0.5</text>
<text x="152" y="906.2" text-anchor="end" font-size="44" font-weight="bold">0.0</text>
<text x="152" y="1015.1" text-anchor="end" font-size="44" font-weight="bold">0.5</text>
<text x="152" y="1123.9" text-anchor="end" font-size="44" font-weight="bold">0.0</text>
<text x="172.6" y="1159" text-anchor="middle" font-size="44" font-weight="bold">-2.0</text>
<text x="348.5" y="1159" text-anchor="middle" font-size="44" font-weight="bold">-1.0</text>
<text x="524.4" y="1159" text-anchor="middle" font-size="44" font-weight="bold">0.0</text>
<text x="700.3" y="1159" text-anchor="middle" font-size="44" font-weight="bold">1.0</text>
<text x="876.2" y="1159" text-anchor="middle" font-size="44" font-weight="bold">2.0</text>
<text x="524.5" y="1245.6" text-anchor="middle" font-size="55" font-weight="bold">Energy(eV)</text>
<text transform="translate(45.6,550.2) rotate(-90)" text-anchor="middle" font-size="56" font-weight="bold">Transmission</text>
<text x="552" y="84.6" font-size="55.5" font-weight="bold" font-style="italic">m=10 n=8</text>
<text x="658.2" y="301.6" font-size="52" font-weight="bold" font-style="italic">V<tspan font-size="30" dx="-6" dy="9.6">Mo</tspan><tspan dx="1.5" dy="-9.6">-C</tspan></text>
<text x="659.2" y="519.2" font-size="52" font-weight="bold" font-style="italic">V<tspan font-size="30" dx="-6" dy="9.6">Mo</tspan><tspan dx="1.5" dy="-9.6">-E</tspan></text>
<text x="659.2" y="735" font-size="52" font-weight="bold" font-style="italic">V<tspan font-size="30" dx="-6" dy="9.6">S</tspan><tspan dx="1.5" dy="-9.6">-C</tspan></text>
<text x="661.2" y="950.8" font-size="52" font-weight="bold" font-style="italic">V<tspan font-size="30" dx="-6" dy="9.6">S</tspan><tspan dx="1.5" dy="-9.6">-E</tspan></text>
</svg></body></html>
